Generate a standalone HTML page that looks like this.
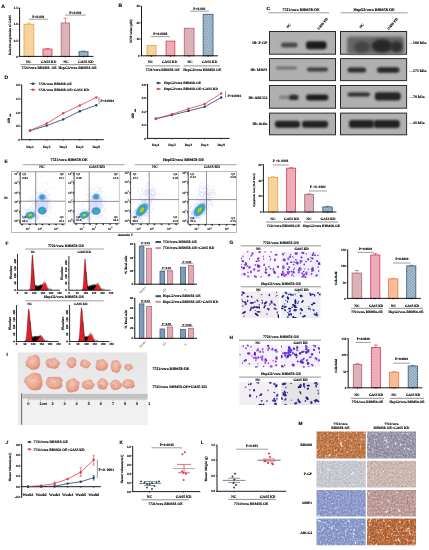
<!DOCTYPE html><html><head><meta charset="utf-8"><style>html,body{margin:0;padding:0;background:#fff;}svg{display:block}</style></head><body><svg width="429" height="550" viewBox="0 0 429 550" text-rendering="geometricPrecision"><defs><pattern id="hO" width="1.6" height="1.6" patternUnits="userSpaceOnUse"><rect width="1.6" height="1.6" fill="#fbe6c4"/><rect width="0.8" height="0.8" fill="#f0c07a"/><rect x="0.8" y="0.8" width="0.8" height="0.8" fill="#f0c07a"/></pattern><pattern id="hR" width="1.6" height="1.6" patternUnits="userSpaceOnUse"><rect width="1.6" height="1.6" fill="#f6d0d6"/><rect width="0.8" height="0.8" fill="#e58a9a"/><rect x="0.8" y="0.8" width="0.8" height="0.8" fill="#e58a9a"/></pattern><pattern id="hP" width="1.6" height="1.6" patternUnits="userSpaceOnUse"><rect width="1.6" height="1.6" fill="#ecd3d6"/><rect width="0.8" height="0.8" fill="#c9939b"/><rect x="0.8" y="0.8" width="0.8" height="0.8" fill="#c9939b"/></pattern><pattern id="hB" width="1.6" height="1.6" patternUnits="userSpaceOnUse"><rect width="1.6" height="1.6" fill="#c9d6e0"/><rect width="0.8" height="0.8" fill="#6f8ea8"/><rect x="0.8" y="0.8" width="0.8" height="0.8" fill="#6f8ea8"/></pattern><pattern id="hO2" width="1.6" height="1.6" patternUnits="userSpaceOnUse"><rect width="1.6" height="1.6" fill="#fbdcc0"/><rect width="0.8" height="0.8" fill="#f0a070"/><rect x="0.8" y="0.8" width="0.8" height="0.8" fill="#f0a070"/></pattern><filter id="bl1" x="-50%" y="-80%" width="200%" height="260%"><feGaussianBlur stdDeviation="1.0"/></filter><filter id="bl2" x="-50%" y="-80%" width="200%" height="260%"><feGaussianBlur stdDeviation="1.6"/></filter><radialGradient id="gHot"><stop offset="0" stop-color="#e83a1e"/><stop offset="0.16" stop-color="#f0d020"/><stop offset="0.42" stop-color="#30c040"/><stop offset="0.66" stop-color="#20a8e0"/><stop offset="0.9" stop-color="#5070f0" stop-opacity="0.6"/><stop offset="1" stop-color="#8aa0f8" stop-opacity="0"/></radialGradient><radialGradient id="gMid"><stop offset="0" stop-color="#30b860"/><stop offset="0.35" stop-color="#30c0a0"/><stop offset="0.65" stop-color="#3080e8"/><stop offset="1" stop-color="#8aa0f8" stop-opacity="0"/></radialGradient><radialGradient id="gCy"><stop offset="0" stop-color="#30c0b0"/><stop offset="0.4" stop-color="#3090e0"/><stop offset="1" stop-color="#8aa0f8" stop-opacity="0"/></radialGradient><pattern id="hB2" width="1.6" height="1.6" patternUnits="userSpaceOnUse"><rect width="1.6" height="1.6" fill="#9cb0c4"/><rect width="0.8" height="0.8" fill="#6a88a4"/><rect x="0.8" y="0.8" width="0.8" height="0.8" fill="#6a88a4"/></pattern><pattern id="hP2" width="1.6" height="1.6" patternUnits="userSpaceOnUse"><rect width="1.6" height="1.6" fill="#ecc4ca"/><rect width="0.8" height="0.8" fill="#d4939e"/><rect x="0.8" y="0.8" width="0.8" height="0.8" fill="#d4939e"/></pattern><radialGradient id="gTum" cx="0.45" cy="0.4" r="0.65"><stop offset="0" stop-color="#f4c8b4"/><stop offset="0.6" stop-color="#eaa892"/><stop offset="1" stop-color="#da8670"/></radialGradient><linearGradient id="gPhoto" x1="0" y1="0" x2="0" y2="1"><stop offset="0" stop-color="#e6e6e6"/><stop offset="0.55" stop-color="#ebebeb"/><stop offset="1" stop-color="#ececec"/></linearGradient><filter id="nz1" x="0" y="0" width="100%" height="100%" color-interpolation-filters="sRGB"><feTurbulence type="fractalNoise" baseFrequency="0.55" numOctaves="3" seed="401"/><feColorMatrix type="matrix" values="1 0 0 0 0 1 0 0 0 0 1 0 0 0 0 0 0 0 0 1"/><feComponentTransfer><feFuncR type="table" tableValues="0.573 0.627 0.698 0.753 0.808 0.894 0.941"/><feFuncG type="table" tableValues="0.282 0.337 0.416 0.471 0.573 0.729 0.816"/><feFuncB type="table" tableValues="0.149 0.188 0.243 0.282 0.404 0.588 0.690"/></feComponentTransfer></filter><filter id="nz2" x="0" y="0" width="100%" height="100%" color-interpolation-filters="sRGB"><feTurbulence type="fractalNoise" baseFrequency="0.55" numOctaves="3" seed="402"/><feColorMatrix type="matrix" values="1 0 0 0 0 1 0 0 0 0 1 0 0 0 0 0 0 0 0 1"/><feComponentTransfer><feFuncR type="table" tableValues="0.518 0.541 0.573 0.596 0.667 0.773 0.831"/><feFuncG type="table" tableValues="0.408 0.459 0.529 0.580 0.671 0.808 0.886"/><feFuncB type="table" tableValues="0.412 0.486 0.592 0.667 0.745 0.867 0.933"/></feComponentTransfer></filter><filter id="nz3" x="0" y="0" width="100%" height="100%" color-interpolation-filters="sRGB"><feTurbulence type="fractalNoise" baseFrequency="0.55" numOctaves="3" seed="403"/><feColorMatrix type="matrix" values="1 0 0 0 0 1 0 0 0 0 1 0 0 0 0 0 0 0 0 1"/><feComponentTransfer><feFuncR type="table" tableValues="0.651 0.690 0.745 0.784 0.824 0.878 0.910"/><feFuncG type="table" tableValues="0.651 0.690 0.745 0.784 0.824 0.878 0.910"/><feFuncB type="table" tableValues="0.722 0.749 0.788 0.816 0.851 0.902 0.933"/></feComponentTransfer></filter><filter id="nz4" x="0" y="0" width="100%" height="100%" color-interpolation-filters="sRGB"><feTurbulence type="fractalNoise" baseFrequency="0.55" numOctaves="3" seed="404"/><feColorMatrix type="matrix" values="1 0 0 0 0 1 0 0 0 0 1 0 0 0 0 0 0 0 0 1"/><feComponentTransfer><feFuncR type="table" tableValues="0.682 0.718 0.769 0.804 0.835 0.882 0.910"/><feFuncG type="table" tableValues="0.549 0.600 0.671 0.722 0.769 0.839 0.878"/><feFuncB type="table" tableValues="0.502 0.557 0.635 0.690 0.741 0.820 0.863"/></feComponentTransfer></filter><filter id="nz5" x="0" y="0" width="100%" height="100%" color-interpolation-filters="sRGB"><feTurbulence type="fractalNoise" baseFrequency="0.55" numOctaves="3" seed="405"/><feColorMatrix type="matrix" values="1 0 0 0 0 1 0 0 0 0 1 0 0 0 0 0 0 0 0 1"/><feComponentTransfer><feFuncR type="table" tableValues="0.435 0.471 0.522 0.557 0.624 0.729 0.784"/><feFuncG type="table" tableValues="0.463 0.506 0.565 0.604 0.671 0.776 0.831"/><feFuncB type="table" tableValues="0.678 0.714 0.761 0.796 0.839 0.906 0.941"/></feComponentTransfer></filter><filter id="nz6" x="0" y="0" width="100%" height="100%" color-interpolation-filters="sRGB"><feTurbulence type="fractalNoise" baseFrequency="0.55" numOctaves="3" seed="406"/><feColorMatrix type="matrix" values="1 0 0 0 0 1 0 0 0 0 1 0 0 0 0 0 0 0 0 1"/><feComponentTransfer><feFuncR type="table" tableValues="0.616 0.651 0.702 0.737 0.784 0.855 0.894"/><feFuncG type="table" tableValues="0.412 0.471 0.553 0.612 0.682 0.788 0.847"/><feFuncB type="table" tableValues="0.408 0.463 0.541 0.596 0.682 0.808 0.878"/></feComponentTransfer></filter><filter id="nz7" x="0" y="0" width="100%" height="100%" color-interpolation-filters="sRGB"><feTurbulence type="fractalNoise" baseFrequency="0.55" numOctaves="3" seed="407"/><feColorMatrix type="matrix" values="1 0 0 0 0 1 0 0 0 0 1 0 0 0 0 0 0 0 0 1"/><feComponentTransfer><feFuncR type="table" tableValues="0.400 0.439 0.494 0.533 0.627 0.769 0.847"/><feFuncG type="table" tableValues="0.463 0.502 0.557 0.596 0.698 0.855 0.941"/><feFuncB type="table" tableValues="0.706 0.729 0.761 0.784 0.839 0.925 0.973"/></feComponentTransfer></filter><filter id="nz8" x="0" y="0" width="100%" height="100%" color-interpolation-filters="sRGB"><feTurbulence type="fractalNoise" baseFrequency="0.55" numOctaves="3" seed="408"/><feColorMatrix type="matrix" values="1 0 0 0 0 1 0 0 0 0 1 0 0 0 0 0 0 0 0 1"/><feComponentTransfer><feFuncR type="table" tableValues="0.569 0.612 0.675 0.722 0.788 0.886 0.941"/><feFuncG type="table" tableValues="0.255 0.298 0.365 0.408 0.541 0.737 0.847"/><feFuncB type="table" tableValues="0.114 0.149 0.196 0.227 0.384 0.620 0.753"/></feComponentTransfer></filter></defs><rect width="429" height="550" fill="#fff"/><text x="1.20" y="8.20" font-size="5.2" text-anchor="start" font-weight="bold" fill="#000" font-family="'Liberation Sans',sans-serif" stroke="#000" stroke-width="0.12">A</text>
<line x1="19.60" y1="7.80" x2="19.60" y2="56.80" stroke="#000" stroke-width="0.9"/>
<line x1="18.40" y1="8.10" x2="19.60" y2="8.10" stroke="#000" stroke-width="0.7"/>
<text x="17.80" y="9.20" font-size="3.2" text-anchor="end" font-weight="bold" fill="#000" font-family="'Liberation Serif',serif" stroke="#000" stroke-width="0.12">1.5</text>
<line x1="18.40" y1="24.30" x2="19.60" y2="24.30" stroke="#000" stroke-width="0.7"/>
<text x="17.80" y="25.40" font-size="3.2" text-anchor="end" font-weight="bold" fill="#000" font-family="'Liberation Serif',serif" stroke="#000" stroke-width="0.12">1.0</text>
<line x1="18.40" y1="40.40" x2="19.60" y2="40.40" stroke="#000" stroke-width="0.7"/>
<text x="17.80" y="41.50" font-size="3.2" text-anchor="end" font-weight="bold" fill="#000" font-family="'Liberation Serif',serif" stroke="#000" stroke-width="0.12">0.5</text>
<line x1="18.40" y1="56.40" x2="19.60" y2="56.40" stroke="#000" stroke-width="0.7"/>
<text x="17.80" y="57.50" font-size="3.2" text-anchor="end" font-weight="bold" fill="#000" font-family="'Liberation Serif',serif" stroke="#000" stroke-width="0.12">0</text>
<text x="11.00" y="35.00" font-size="3.3" text-anchor="middle" font-weight="bold" fill="#000" font-family="'Liberation Serif',serif" stroke="#000" stroke-width="0.12" transform="rotate(-90 11.00 35.00)">Relative expression of GAS5</text>
<rect x="24.00" y="24.30" width="9.80" height="32.10" fill="url(#hO)" stroke="#e9a94a" stroke-width="0.9"/>
<line x1="28.90" y1="24.30" x2="28.90" y2="23.30" stroke="#e9a94a" stroke-width="0.7"/>
<line x1="26.90" y1="23.30" x2="30.90" y2="23.30" stroke="#e9a94a" stroke-width="0.7"/>
<rect x="43.00" y="49.10" width="9.00" height="7.30" fill="url(#hR)" stroke="#d9485e" stroke-width="0.9"/>
<line x1="47.50" y1="49.10" x2="47.50" y2="48.50" stroke="#d9485e" stroke-width="0.7"/>
<line x1="45.50" y1="48.50" x2="49.50" y2="48.50" stroke="#d9485e" stroke-width="0.7"/>
<rect x="61.20" y="23.00" width="8.40" height="33.40" fill="url(#hP)" stroke="#b86b77" stroke-width="0.9"/>
<line x1="65.40" y1="23.00" x2="65.40" y2="18.20" stroke="#b86b77" stroke-width="0.7"/>
<line x1="63.40" y1="18.20" x2="67.40" y2="18.20" stroke="#b86b77" stroke-width="0.7"/>
<rect x="79.00" y="51.70" width="9.00" height="4.70" fill="url(#hB)" stroke="#3f6585" stroke-width="0.9"/>
<line x1="83.50" y1="51.70" x2="83.50" y2="51.00" stroke="#3f6585" stroke-width="0.7"/>
<line x1="81.50" y1="51.00" x2="85.50" y2="51.00" stroke="#3f6585" stroke-width="0.7"/>
<line x1="19.60" y1="56.40" x2="93.40" y2="56.40" stroke="#000" stroke-width="0.9"/>
<line x1="28.90" y1="56.40" x2="28.90" y2="57.40" stroke="#000" stroke-width="0.7"/>
<line x1="47.50" y1="56.40" x2="47.50" y2="57.40" stroke="#000" stroke-width="0.7"/>
<line x1="65.40" y1="56.40" x2="65.40" y2="57.40" stroke="#000" stroke-width="0.7"/>
<line x1="83.50" y1="56.40" x2="83.50" y2="57.40" stroke="#000" stroke-width="0.7"/>
<line x1="29.00" y1="19.20" x2="48.00" y2="19.20" stroke="#3a3a3a" stroke-width="0.5"/>
<text x="38.50" y="17.60" font-size="3.6" text-anchor="middle" font-weight="bold" fill="#000" font-family="'Liberation Serif',serif" stroke="#000" stroke-width="0.12">P&lt;0.001</text>
<line x1="65.00" y1="15.10" x2="85.70" y2="15.10" stroke="#3a3a3a" stroke-width="0.5"/>
<text x="75.35" y="13.50" font-size="3.6" text-anchor="middle" font-weight="bold" fill="#000" font-family="'Liberation Serif',serif" stroke="#000" stroke-width="0.12">P&lt;0.001</text>
<text x="28.60" y="62.50" font-size="3.6" text-anchor="middle" font-weight="bold" fill="#000" font-family="'Liberation Serif',serif" stroke="#000" stroke-width="0.12">NC</text>
<text x="48.50" y="62.50" font-size="3.6" text-anchor="middle" font-weight="bold" fill="#000" font-family="'Liberation Serif',serif" stroke="#000" stroke-width="0.12">GAS5 KD</text>
<text x="66.00" y="62.50" font-size="3.6" text-anchor="middle" font-weight="bold" fill="#000" font-family="'Liberation Serif',serif" stroke="#000" stroke-width="0.12">NC</text>
<text x="85.80" y="62.50" font-size="3.6" text-anchor="middle" font-weight="bold" fill="#000" font-family="'Liberation Serif',serif" stroke="#000" stroke-width="0.12">GAS5 KD</text>
<line x1="20.50" y1="64.60" x2="56.60" y2="64.60" stroke="#444" stroke-width="0.6"/>
<line x1="60.00" y1="64.60" x2="96.20" y2="64.60" stroke="#444" stroke-width="0.6"/>
<text x="39.10" y="69.30" font-size="3.6" text-anchor="middle" font-weight="bold" fill="#000" font-family="'Liberation Serif',serif" stroke="#000" stroke-width="0.12">7721/vera RBM58- OE</text>
<text x="77.60" y="69.30" font-size="3.6" text-anchor="middle" font-weight="bold" fill="#000" font-family="'Liberation Serif',serif" stroke="#000" stroke-width="0.12">HepG2/vera RBM58-OE</text>
<text x="118.50" y="6.70" font-size="5.0" text-anchor="start" font-weight="bold" fill="#000" font-family="'Liberation Sans',sans-serif" stroke="#000" stroke-width="0.12">B</text>
<line x1="141.50" y1="6.00" x2="141.50" y2="56.20" stroke="#000" stroke-width="0.9"/>
<line x1="140.30" y1="6.30" x2="141.50" y2="6.30" stroke="#000" stroke-width="0.7"/>
<text x="139.70" y="7.40" font-size="3.2" text-anchor="end" font-weight="bold" fill="#000" font-family="'Liberation Serif',serif" stroke="#000" stroke-width="0.12">30</text>
<line x1="140.30" y1="22.70" x2="141.50" y2="22.70" stroke="#000" stroke-width="0.7"/>
<text x="139.70" y="23.80" font-size="3.2" text-anchor="end" font-weight="bold" fill="#000" font-family="'Liberation Serif',serif" stroke="#000" stroke-width="0.12">20</text>
<line x1="140.30" y1="39.20" x2="141.50" y2="39.20" stroke="#000" stroke-width="0.7"/>
<text x="139.70" y="40.30" font-size="3.2" text-anchor="end" font-weight="bold" fill="#000" font-family="'Liberation Serif',serif" stroke="#000" stroke-width="0.12">10</text>
<line x1="140.30" y1="55.80" x2="141.50" y2="55.80" stroke="#000" stroke-width="0.7"/>
<text x="139.70" y="56.90" font-size="3.2" text-anchor="end" font-weight="bold" fill="#000" font-family="'Liberation Serif',serif" stroke="#000" stroke-width="0.12">0</text>
<text x="131.50" y="31.00" font-size="3.3" text-anchor="middle" font-weight="bold" fill="#000" font-family="'Liberation Serif',serif" stroke="#000" stroke-width="0.12" transform="rotate(-90 131.50 31.00)">IC50 value (μM)</text>
<rect x="147.00" y="45.50" width="9.00" height="10.30" fill="url(#hO)" stroke="#e9a94a" stroke-width="0.9"/>
<rect x="166.10" y="41.10" width="8.70" height="14.70" fill="url(#hR)" stroke="#d9485e" stroke-width="0.9"/>
<rect x="184.30" y="28.30" width="9.70" height="27.50" fill="url(#hP)" stroke="#b86b77" stroke-width="0.9"/>
<rect x="203.20" y="14.30" width="9.80" height="41.50" fill="url(#hB)" stroke="#3f6585" stroke-width="0.9"/>
<line x1="141.50" y1="55.80" x2="218.00" y2="55.80" stroke="#000" stroke-width="0.9"/>
<line x1="151.50" y1="55.80" x2="151.50" y2="56.80" stroke="#000" stroke-width="0.7"/>
<line x1="170.40" y1="55.80" x2="170.40" y2="56.80" stroke="#000" stroke-width="0.7"/>
<line x1="189.10" y1="55.80" x2="189.10" y2="56.80" stroke="#000" stroke-width="0.7"/>
<line x1="208.10" y1="55.80" x2="208.10" y2="56.80" stroke="#000" stroke-width="0.7"/>
<line x1="150.80" y1="36.60" x2="169.90" y2="36.60" stroke="#3a3a3a" stroke-width="0.5"/>
<text x="160.35" y="35.00" font-size="3.6" text-anchor="middle" font-weight="bold" fill="#000" font-family="'Liberation Serif',serif" stroke="#000" stroke-width="0.12">P=0.0008</text>
<line x1="190.20" y1="11.20" x2="208.80" y2="11.20" stroke="#3a3a3a" stroke-width="0.5"/>
<text x="199.50" y="9.60" font-size="3.6" text-anchor="middle" font-weight="bold" fill="#000" font-family="'Liberation Serif',serif" stroke="#000" stroke-width="0.12">P&lt;0.001</text>
<text x="150.50" y="63.30" font-size="3.6" text-anchor="middle" font-weight="bold" fill="#000" font-family="'Liberation Serif',serif" stroke="#000" stroke-width="0.12">NC</text>
<text x="169.50" y="63.30" font-size="3.6" text-anchor="middle" font-weight="bold" fill="#000" font-family="'Liberation Serif',serif" stroke="#000" stroke-width="0.12">GAS5 KD</text>
<text x="190.10" y="63.30" font-size="3.6" text-anchor="middle" font-weight="bold" fill="#000" font-family="'Liberation Serif',serif" stroke="#000" stroke-width="0.12">NC</text>
<text x="209.50" y="63.30" font-size="3.6" text-anchor="middle" font-weight="bold" fill="#000" font-family="'Liberation Serif',serif" stroke="#000" stroke-width="0.12">GAS5 KD</text>
<line x1="145.00" y1="65.90" x2="180.00" y2="65.90" stroke="#444" stroke-width="0.6"/>
<line x1="183.60" y1="65.90" x2="219.70" y2="65.90" stroke="#444" stroke-width="0.6"/>
<text x="162.60" y="71.00" font-size="3.6" text-anchor="middle" font-weight="bold" fill="#000" font-family="'Liberation Serif',serif" stroke="#000" stroke-width="0.12">7721/vera RBM58-OE</text>
<text x="202.30" y="71.00" font-size="3.6" text-anchor="middle" font-weight="bold" fill="#000" font-family="'Liberation Serif',serif" stroke="#000" stroke-width="0.12">HepG2/vera RBM58-OE</text>
<text x="266.50" y="9.50" font-size="4.6" text-anchor="start" font-weight="bold" fill="#000" font-family="'Liberation Sans',sans-serif" stroke="#000" stroke-width="0.12">C</text>
<text x="301.00" y="10.80" font-size="3.9" text-anchor="middle" font-weight="bold" fill="#000" font-family="'Liberation Serif',serif" stroke="#000" stroke-width="0.12">7721/vera RBM58-OE</text>
<text x="374.00" y="10.80" font-size="3.9" text-anchor="middle" font-weight="bold" fill="#000" font-family="'Liberation Serif',serif" stroke="#000" stroke-width="0.12">HepG2/vera RBM58-OE</text>
<line x1="268.50" y1="12.80" x2="329.00" y2="12.80" stroke="#777" stroke-width="0.7"/>
<line x1="340.70" y1="12.80" x2="407.70" y2="12.80" stroke="#777" stroke-width="0.7"/>
<text x="289.50" y="26.50" font-size="3.4" text-anchor="middle" font-weight="bold" fill="#000" font-family="'Liberation Serif',serif" stroke="#000" stroke-width="0.12" transform="rotate(-50 289.50 26.50)">NC</text>
<text x="323.50" y="24.50" font-size="3.4" text-anchor="middle" font-weight="bold" fill="#000" font-family="'Liberation Serif',serif" stroke="#000" stroke-width="0.12" transform="rotate(-50 323.50 24.50)">GAS5 KD</text>
<text x="362.50" y="26.50" font-size="3.4" text-anchor="middle" font-weight="bold" fill="#000" font-family="'Liberation Serif',serif" stroke="#000" stroke-width="0.12" transform="rotate(-50 362.50 26.50)">NC</text>
<text x="393.50" y="24.50" font-size="3.4" text-anchor="middle" font-weight="bold" fill="#000" font-family="'Liberation Serif',serif" stroke="#000" stroke-width="0.12" transform="rotate(-50 393.50 24.50)">GAS5 KD</text>
<rect x="269.50" y="31.50" width="66.00" height="22.70" fill="#b0b0b0" stroke="#2a2a2a" stroke-width="1.0"/>
<rect x="340.50" y="31.50" width="66.10" height="22.70" fill="#b0b0b0" stroke="#2a2a2a" stroke-width="1.0"/>
<rect x="269.50" y="58.60" width="66.00" height="22.00" fill="#b0b0b0" stroke="#2a2a2a" stroke-width="1.0"/>
<rect x="340.50" y="58.60" width="66.10" height="22.00" fill="#b0b0b0" stroke="#2a2a2a" stroke-width="1.0"/>
<rect x="269.50" y="85.50" width="66.00" height="22.70" fill="#b0b0b0" stroke="#2a2a2a" stroke-width="1.0"/>
<rect x="340.50" y="85.50" width="66.10" height="22.70" fill="#b0b0b0" stroke="#2a2a2a" stroke-width="1.0"/>
<rect x="269.50" y="113.10" width="66.00" height="21.70" fill="#b0b0b0" stroke="#2a2a2a" stroke-width="1.0"/>
<rect x="340.50" y="113.10" width="66.10" height="21.70" fill="#b0b0b0" stroke="#2a2a2a" stroke-width="1.0"/>
<rect x="281.00" y="42.60" width="16.50" height="5.00" rx="2.50" fill="#4a4a4a" opacity="1" filter="url(#bl1)"/>
<rect x="306.00" y="41.20" width="20.50" height="8.00" rx="3.00" fill="#1c1c1c" opacity="1" filter="url(#bl1)"/>
<rect x="276.00" y="66.40" width="21.00" height="3.20" rx="1.60" fill="#6e6e6e" opacity="1" filter="url(#bl1)"/>
<rect x="307.00" y="67.40" width="21.00" height="4.20" rx="2.10" fill="#3a3a3a" opacity="1" filter="url(#bl1)"/>
<rect x="279.00" y="95.80" width="11.00" height="3.20" rx="1.60" fill="#7e7e7e" opacity="1" filter="url(#bl1)"/>
<rect x="289.00" y="94.80" width="9.50" height="5.20" rx="2.60" fill="#2a2a2a" opacity="1" filter="url(#bl1)"/>
<rect x="306.00" y="94.40" width="22.30" height="6.00" rx="3.00" fill="#1e1e1e" opacity="1" filter="url(#bl1)"/>
<rect x="275.00" y="120.80" width="25.00" height="7.00" rx="3.00" fill="#202020" opacity="1" filter="url(#bl1)"/>
<rect x="302.00" y="120.80" width="26.00" height="7.00" rx="3.00" fill="#202020" opacity="1" filter="url(#bl1)"/>
<rect x="347.00" y="36.50" width="57.00" height="17.50" rx="3.00" fill="#666" opacity="1" filter="url(#bl2)"/>
<ellipse cx="362" cy="47" rx="8" ry="5.5" fill="#444" filter="url(#bl2)"/>
<ellipse cx="382" cy="45.8" rx="10.5" ry="6.6" fill="#262626" filter="url(#bl2)"/>
<ellipse cx="396.5" cy="46.5" rx="6" ry="5.5" fill="#2e2e2e" filter="url(#bl2)"/>
<rect x="347.50" y="67.40" width="18.50" height="5.00" rx="2.50" fill="#2c2c2c" opacity="1" filter="url(#bl1)"/>
<rect x="377.00" y="67.20" width="22.50" height="5.60" rx="2.80" fill="#262626" opacity="1" filter="url(#bl1)"/>
<rect x="347.50" y="92.60" width="22.50" height="4.00" rx="2.00" fill="#2e2e2e" opacity="1" filter="url(#bl1)"/>
<rect x="374.80" y="92.20" width="25.90" height="8.40" rx="3.00" fill="#282828" opacity="1" filter="url(#bl1)"/>
<rect x="349.00" y="120.00" width="25.00" height="8.00" rx="3.00" fill="#202020" opacity="1" filter="url(#bl1)"/>
<rect x="373.60" y="120.00" width="26.20" height="8.00" rx="3.00" fill="#202020" opacity="1" filter="url(#bl1)"/>
<text x="267.40" y="43.90" font-size="3.8" text-anchor="end" font-weight="bold" fill="#000" font-family="'Liberation Serif',serif" stroke="#000" stroke-width="0.12">IB: P-GP</text>
<text x="267.40" y="71.20" font-size="3.8" text-anchor="end" font-weight="bold" fill="#000" font-family="'Liberation Serif',serif" stroke="#000" stroke-width="0.12">IB: MRP1</text>
<text x="267.40" y="99.40" font-size="3.8" text-anchor="end" font-weight="bold" fill="#000" font-family="'Liberation Serif',serif" stroke="#000" stroke-width="0.12">IB: ABCG2</text>
<text x="267.40" y="125.30" font-size="3.8" text-anchor="end" font-weight="bold" fill="#000" font-family="'Liberation Serif',serif" stroke="#000" stroke-width="0.12">IB: Actin</text>
<text x="409.30" y="44.20" font-size="3.8" text-anchor="start" font-weight="bold" fill="#000" font-family="'Liberation Serif',serif" stroke="#000" stroke-width="0.12">—180 kDa</text>
<text x="409.30" y="71.60" font-size="3.8" text-anchor="start" font-weight="bold" fill="#000" font-family="'Liberation Serif',serif" stroke="#000" stroke-width="0.12">—171 kDa</text>
<text x="409.30" y="98.40" font-size="3.8" text-anchor="start" font-weight="bold" fill="#000" font-family="'Liberation Serif',serif" stroke="#000" stroke-width="0.12">—70 kDa</text>
<text x="409.30" y="123.60" font-size="3.8" text-anchor="start" font-weight="bold" fill="#000" font-family="'Liberation Serif',serif" stroke="#000" stroke-width="0.12">—43 kDa</text>
<text x="4.50" y="79.20" font-size="5.0" text-anchor="start" font-weight="bold" fill="#000" font-family="'Liberation Sans',sans-serif" stroke="#000" stroke-width="0.12">D</text>
<line x1="21.70" y1="84.70" x2="21.70" y2="140.10" stroke="#000" stroke-width="0.9"/>
<line x1="20.50" y1="85.00" x2="21.70" y2="85.00" stroke="#000" stroke-width="0.7"/>
<text x="19.90" y="86.10" font-size="3.2" text-anchor="end" font-weight="bold" fill="#000" font-family="'Liberation Serif',serif" stroke="#000" stroke-width="0.12">2.0</text>
<line x1="20.50" y1="98.80" x2="21.70" y2="98.80" stroke="#000" stroke-width="0.7"/>
<text x="19.90" y="99.90" font-size="3.2" text-anchor="end" font-weight="bold" fill="#000" font-family="'Liberation Serif',serif" stroke="#000" stroke-width="0.12">1.5</text>
<line x1="20.50" y1="112.50" x2="21.70" y2="112.50" stroke="#000" stroke-width="0.7"/>
<text x="19.90" y="113.60" font-size="3.2" text-anchor="end" font-weight="bold" fill="#000" font-family="'Liberation Serif',serif" stroke="#000" stroke-width="0.12">1.0</text>
<line x1="20.50" y1="126.20" x2="21.70" y2="126.20" stroke="#000" stroke-width="0.7"/>
<text x="19.90" y="127.30" font-size="3.2" text-anchor="end" font-weight="bold" fill="#000" font-family="'Liberation Serif',serif" stroke="#000" stroke-width="0.12">0.5</text>
<line x1="20.50" y1="139.70" x2="21.70" y2="139.70" stroke="#000" stroke-width="0.7"/>
<text x="19.90" y="140.80" font-size="3.2" text-anchor="end" font-weight="bold" fill="#000" font-family="'Liberation Serif',serif" stroke="#000" stroke-width="0.12">0</text>
<line x1="21.70" y1="139.70" x2="103.80" y2="139.70" stroke="#000" stroke-width="0.9"/>
<line x1="30.00" y1="139.70" x2="30.00" y2="140.70" stroke="#000" stroke-width="0.7"/>
<line x1="46.70" y1="139.70" x2="46.70" y2="140.70" stroke="#000" stroke-width="0.7"/>
<line x1="63.20" y1="139.70" x2="63.20" y2="140.70" stroke="#000" stroke-width="0.7"/>
<line x1="79.80" y1="139.70" x2="79.80" y2="140.70" stroke="#000" stroke-width="0.7"/>
<line x1="96.30" y1="139.70" x2="96.30" y2="140.70" stroke="#000" stroke-width="0.7"/>
<text x="30.00" y="147.60" font-size="3.4" text-anchor="middle" font-weight="bold" fill="#000" font-family="'Liberation Serif',serif" stroke="#000" stroke-width="0.12">Day1</text>
<text x="46.70" y="147.60" font-size="3.4" text-anchor="middle" font-weight="bold" fill="#000" font-family="'Liberation Serif',serif" stroke="#000" stroke-width="0.12">Day2</text>
<text x="63.20" y="147.60" font-size="3.4" text-anchor="middle" font-weight="bold" fill="#000" font-family="'Liberation Serif',serif" stroke="#000" stroke-width="0.12">Day3</text>
<text x="79.80" y="147.60" font-size="3.4" text-anchor="middle" font-weight="bold" fill="#000" font-family="'Liberation Serif',serif" stroke="#000" stroke-width="0.12">Day4</text>
<text x="96.30" y="147.60" font-size="3.4" text-anchor="middle" font-weight="bold" fill="#000" font-family="'Liberation Serif',serif" stroke="#000" stroke-width="0.12">Day5</text>
<text x="10.00" y="120.50" font-size="3.6" text-anchor="middle" font-weight="bold" fill="#000" font-family="'Liberation Serif',serif" stroke="#000" stroke-width="0.12" transform="rotate(-90 10.00 120.50)">OD</text>
<text x="11.20" y="115.20" font-size="2.0" text-anchor="middle" font-weight="bold" fill="#000" font-family="'Liberation Serif',serif" stroke="#000" stroke-width="0.12" transform="rotate(-90 11.20 115.20)">450</text>
<polyline points="30.00,130.70 46.70,125.60 63.20,119.40 79.80,111.20 96.30,105.20" fill="none" stroke="#1f3f6e" stroke-width="0.8"/>
<polyline points="30.00,130.40 46.70,123.50 63.20,113.30 79.80,105.50 96.30,97.50" fill="none" stroke="#e0404e" stroke-width="0.8"/>
<circle cx="30.00" cy="130.70" r="1.20" fill="#1f3f6e"/>
<circle cx="46.70" cy="125.60" r="1.20" fill="#1f3f6e"/>
<circle cx="63.20" cy="119.40" r="1.20" fill="#1f3f6e"/>
<circle cx="79.80" cy="111.20" r="1.20" fill="#1f3f6e"/>
<circle cx="96.30" cy="105.20" r="1.20" fill="#1f3f6e"/>
<circle cx="30.00" cy="130.40" r="1.20" fill="#e0404e"/>
<circle cx="46.70" cy="123.50" r="1.20" fill="#e0404e"/>
<circle cx="63.20" cy="113.30" r="1.20" fill="#e0404e"/>
<circle cx="79.80" cy="105.50" r="1.20" fill="#e0404e"/>
<circle cx="96.30" cy="97.50" r="1.20" fill="#e0404e"/>
<line x1="99.00" y1="97.00" x2="99.00" y2="104.40" stroke="#555" stroke-width="0.6"/>
<text x="100.60" y="101.60" font-size="3.5" text-anchor="start" font-weight="bold" fill="#000" font-family="'Liberation Serif',serif" stroke="#000" stroke-width="0.12">P&lt;0.0001</text>
<line x1="30.00" y1="83.70" x2="35.70" y2="83.70" stroke="#1f3f6e" stroke-width="0.8"/>
<circle cx="32.90" cy="83.70" r="1.20" fill="#1f3f6e"/>
<line x1="30.00" y1="89.70" x2="35.70" y2="89.70" stroke="#e0404e" stroke-width="0.8"/>
<circle cx="32.90" cy="89.70" r="1.20" fill="#e0404e"/>
<text x="38.50" y="84.90" font-size="3.5" text-anchor="start" font-weight="bold" fill="#000" font-family="'Liberation Serif',serif" stroke="#000" stroke-width="0.12">7721/vera RBM58-OE</text>
<text x="38.50" y="91.00" font-size="3.5" text-anchor="start" font-weight="bold" fill="#000" font-family="'Liberation Serif',serif" stroke="#000" stroke-width="0.12">7721/vera RBM58-OE+GAS5 KD</text>
<line x1="147.60" y1="84.10" x2="147.60" y2="138.80" stroke="#000" stroke-width="0.9"/>
<line x1="146.40" y1="84.40" x2="147.60" y2="84.40" stroke="#000" stroke-width="0.7"/>
<text x="145.80" y="85.50" font-size="3.2" text-anchor="end" font-weight="bold" fill="#000" font-family="'Liberation Serif',serif" stroke="#000" stroke-width="0.12">0.8</text>
<line x1="146.40" y1="97.90" x2="147.60" y2="97.90" stroke="#000" stroke-width="0.7"/>
<text x="145.80" y="99.00" font-size="3.2" text-anchor="end" font-weight="bold" fill="#000" font-family="'Liberation Serif',serif" stroke="#000" stroke-width="0.12">0.6</text>
<line x1="146.40" y1="111.40" x2="147.60" y2="111.40" stroke="#000" stroke-width="0.7"/>
<text x="145.80" y="112.50" font-size="3.2" text-anchor="end" font-weight="bold" fill="#000" font-family="'Liberation Serif',serif" stroke="#000" stroke-width="0.12">0.4</text>
<line x1="146.40" y1="124.90" x2="147.60" y2="124.90" stroke="#000" stroke-width="0.7"/>
<text x="145.80" y="126.00" font-size="3.2" text-anchor="end" font-weight="bold" fill="#000" font-family="'Liberation Serif',serif" stroke="#000" stroke-width="0.12">0.2</text>
<line x1="146.40" y1="138.40" x2="147.60" y2="138.40" stroke="#000" stroke-width="0.7"/>
<text x="145.80" y="139.50" font-size="3.2" text-anchor="end" font-weight="bold" fill="#000" font-family="'Liberation Serif',serif" stroke="#000" stroke-width="0.12">0</text>
<line x1="147.60" y1="138.40" x2="229.50" y2="138.40" stroke="#000" stroke-width="0.9"/>
<line x1="155.80" y1="138.40" x2="155.80" y2="139.40" stroke="#000" stroke-width="0.7"/>
<line x1="172.00" y1="138.40" x2="172.00" y2="139.40" stroke="#000" stroke-width="0.7"/>
<line x1="188.40" y1="138.40" x2="188.40" y2="139.40" stroke="#000" stroke-width="0.7"/>
<line x1="204.70" y1="138.40" x2="204.70" y2="139.40" stroke="#000" stroke-width="0.7"/>
<line x1="221.20" y1="138.40" x2="221.20" y2="139.40" stroke="#000" stroke-width="0.7"/>
<text x="155.80" y="146.30" font-size="3.4" text-anchor="middle" font-weight="bold" fill="#000" font-family="'Liberation Serif',serif" stroke="#000" stroke-width="0.12">Day1</text>
<text x="172.00" y="146.30" font-size="3.4" text-anchor="middle" font-weight="bold" fill="#000" font-family="'Liberation Serif',serif" stroke="#000" stroke-width="0.12">Day2</text>
<text x="188.40" y="146.30" font-size="3.4" text-anchor="middle" font-weight="bold" fill="#000" font-family="'Liberation Serif',serif" stroke="#000" stroke-width="0.12">Day3</text>
<text x="204.70" y="146.30" font-size="3.4" text-anchor="middle" font-weight="bold" fill="#000" font-family="'Liberation Serif',serif" stroke="#000" stroke-width="0.12">Day4</text>
<text x="221.20" y="146.30" font-size="3.4" text-anchor="middle" font-weight="bold" fill="#000" font-family="'Liberation Serif',serif" stroke="#000" stroke-width="0.12">Day5</text>
<text x="134.50" y="115.80" font-size="3.6" text-anchor="middle" font-weight="bold" fill="#000" font-family="'Liberation Serif',serif" stroke="#000" stroke-width="0.12" transform="rotate(-90 134.50 115.80)">OD</text>
<text x="135.70" y="110.50" font-size="2.0" text-anchor="middle" font-weight="bold" fill="#000" font-family="'Liberation Serif',serif" stroke="#000" stroke-width="0.12" transform="rotate(-90 135.70 110.50)">450</text>
<polyline points="155.80,118.80 172.00,115.10 188.40,110.90 204.70,106.80 221.20,97.50" fill="none" stroke="#1f3f6e" stroke-width="0.8"/>
<polyline points="155.80,118.60 172.00,114.20 188.40,108.80 204.70,104.00 221.20,93.40" fill="none" stroke="#e0404e" stroke-width="0.8"/>
<circle cx="155.80" cy="118.80" r="1.20" fill="#1f3f6e"/>
<circle cx="172.00" cy="115.10" r="1.20" fill="#1f3f6e"/>
<circle cx="188.40" cy="110.90" r="1.20" fill="#1f3f6e"/>
<circle cx="204.70" cy="106.80" r="1.20" fill="#1f3f6e"/>
<circle cx="221.20" cy="97.50" r="1.20" fill="#1f3f6e"/>
<circle cx="155.80" cy="118.60" r="1.20" fill="#e0404e"/>
<circle cx="172.00" cy="114.20" r="1.20" fill="#e0404e"/>
<circle cx="188.40" cy="108.80" r="1.20" fill="#e0404e"/>
<circle cx="204.70" cy="104.00" r="1.20" fill="#e0404e"/>
<circle cx="221.20" cy="93.40" r="1.20" fill="#e0404e"/>
<line x1="225.50" y1="91.30" x2="225.50" y2="97.80" stroke="#555" stroke-width="0.6"/>
<text x="227.60" y="96.60" font-size="3.5" text-anchor="start" font-weight="bold" fill="#000" font-family="'Liberation Serif',serif" stroke="#000" stroke-width="0.12">P&lt;0.0001</text>
<line x1="156.00" y1="83.00" x2="161.00" y2="83.00" stroke="#1f3f6e" stroke-width="0.8"/>
<circle cx="158.40" cy="83.00" r="1.20" fill="#1f3f6e"/>
<line x1="156.00" y1="89.00" x2="161.00" y2="89.00" stroke="#e0404e" stroke-width="0.8"/>
<circle cx="158.40" cy="89.00" r="1.20" fill="#e0404e"/>
<text x="164.00" y="84.20" font-size="3.5" text-anchor="start" font-weight="bold" fill="#000" font-family="'Liberation Serif',serif" stroke="#000" stroke-width="0.12">HepG2/vera RBM58-OE</text>
<text x="164.00" y="90.30" font-size="3.5" text-anchor="start" font-weight="bold" fill="#000" font-family="'Liberation Serif',serif" stroke="#000" stroke-width="0.12">HepG2/vera RBM58-OE+GAS5 KD</text>
<text x="4.50" y="162.50" font-size="4.8" text-anchor="start" font-weight="bold" fill="#000" font-family="'Liberation Sans',sans-serif" stroke="#000" stroke-width="0.12">E</text>
<rect x="11.30" y="171.60" width="225.20" height="61.00" fill="none" stroke="#8a8a8a" stroke-width="0.6"/>
<rect x="20.20" y="172.00" width="45.00" height="52.00" fill="#fff" stroke="#9a9a9a" stroke-width="0.5"/>
<rect x="74.10" y="172.00" width="45.10" height="51.60" fill="#fff" stroke="#9a9a9a" stroke-width="0.5"/>
<rect x="130.60" y="171.60" width="48.20" height="52.20" fill="#fff" stroke="#9a9a9a" stroke-width="0.5"/>
<rect x="188.20" y="171.40" width="48.30" height="53.00" fill="#fff" stroke="#9a9a9a" stroke-width="0.5"/>
<g fill="#6a80f0" opacity="0.22"><circle cx="40.9" cy="208.0" r="0.5"/><circle cx="41.1" cy="201.4" r="0.5"/><circle cx="37.5" cy="202.2" r="0.5"/><circle cx="47.8" cy="207.3" r="0.5"/><circle cx="47.4" cy="205.9" r="0.5"/><circle cx="44.2" cy="205.4" r="0.5"/><circle cx="33.9" cy="210.7" r="0.5"/><circle cx="44.7" cy="207.9" r="0.5"/><circle cx="33.7" cy="189.9" r="0.5"/><circle cx="37.8" cy="200.2" r="0.5"/><circle cx="43.7" cy="203.5" r="0.5"/><circle cx="44.8" cy="198.8" r="0.5"/><circle cx="43.7" cy="207.1" r="0.5"/><circle cx="38.9" cy="217.6" r="0.5"/><circle cx="45.0" cy="213.5" r="0.5"/><circle cx="39.1" cy="198.0" r="0.5"/><circle cx="40.5" cy="203.0" r="0.5"/><circle cx="45.4" cy="205.9" r="0.5"/><circle cx="40.0" cy="196.2" r="0.5"/><circle cx="39.6" cy="213.7" r="0.5"/><circle cx="38.2" cy="205.9" r="0.5"/><circle cx="44.3" cy="192.0" r="0.5"/><circle cx="42.4" cy="214.3" r="0.5"/><circle cx="32.1" cy="201.3" r="0.5"/><circle cx="41.7" cy="197.4" r="0.5"/><circle cx="44.7" cy="203.4" r="0.5"/><circle cx="34.9" cy="210.5" r="0.5"/><circle cx="45.5" cy="211.5" r="0.5"/><circle cx="49.4" cy="206.8" r="0.5"/><circle cx="42.8" cy="193.5" r="0.5"/><circle cx="45.3" cy="199.0" r="0.5"/><circle cx="39.9" cy="193.8" r="0.5"/><circle cx="37.4" cy="199.7" r="0.5"/><circle cx="48.6" cy="187.6" r="0.5"/><circle cx="34.9" cy="205.8" r="0.5"/><circle cx="49.4" cy="208.5" r="0.5"/><circle cx="32.7" cy="183.8" r="0.5"/><circle cx="44.0" cy="198.0" r="0.5"/><circle cx="36.6" cy="211.7" r="0.5"/><circle cx="47.7" cy="205.2" r="0.5"/><circle cx="43.4" cy="207.4" r="0.5"/><circle cx="50.2" cy="208.9" r="0.5"/><circle cx="44.8" cy="208.3" r="0.5"/><circle cx="34.4" cy="214.2" r="0.5"/><circle cx="47.0" cy="208.1" r="0.5"/><circle cx="32.3" cy="198.8" r="0.5"/><circle cx="46.4" cy="189.4" r="0.5"/><circle cx="41.3" cy="212.1" r="0.5"/><circle cx="35.6" cy="216.8" r="0.5"/><circle cx="45.0" cy="202.7" r="0.5"/><circle cx="43.8" cy="209.1" r="0.5"/><circle cx="42.8" cy="213.1" r="0.5"/><circle cx="38.9" cy="200.6" r="0.5"/><circle cx="47.4" cy="204.1" r="0.5"/><circle cx="37.8" cy="211.5" r="0.5"/><circle cx="49.5" cy="200.3" r="0.5"/><circle cx="35.3" cy="202.8" r="0.5"/><circle cx="41.5" cy="201.5" r="0.5"/><circle cx="49.2" cy="195.7" r="0.5"/><circle cx="48.5" cy="193.8" r="0.5"/><circle cx="38.3" cy="209.0" r="0.5"/><circle cx="47.8" cy="210.8" r="0.5"/><circle cx="43.9" cy="205.0" r="0.5"/><circle cx="43.0" cy="208.5" r="0.5"/><circle cx="41.3" cy="206.1" r="0.5"/><circle cx="45.1" cy="203.9" r="0.5"/><circle cx="46.0" cy="208.4" r="0.5"/><circle cx="52.3" cy="206.5" r="0.5"/><circle cx="40.1" cy="200.9" r="0.5"/><circle cx="42.1" cy="211.3" r="0.5"/><circle cx="40.5" cy="207.0" r="0.5"/><circle cx="51.4" cy="183.4" r="0.5"/><circle cx="36.6" cy="205.9" r="0.5"/><circle cx="44.2" cy="205.8" r="0.5"/><circle cx="40.0" cy="209.1" r="0.5"/><circle cx="43.6" cy="199.7" r="0.5"/><circle cx="54.4" cy="206.7" r="0.5"/><circle cx="39.4" cy="203.1" r="0.5"/><circle cx="41.1" cy="203.4" r="0.5"/><circle cx="28.6" cy="200.0" r="0.5"/><circle cx="47.2" cy="194.6" r="0.5"/><circle cx="41.9" cy="211.5" r="0.5"/><circle cx="46.5" cy="215.8" r="0.5"/><circle cx="33.7" cy="201.1" r="0.5"/><circle cx="40.5" cy="208.9" r="0.5"/><circle cx="47.7" cy="182.4" r="0.5"/><circle cx="47.6" cy="192.3" r="0.5"/><circle cx="45.6" cy="192.0" r="0.5"/><circle cx="43.1" cy="213.5" r="0.5"/><circle cx="41.5" cy="205.4" r="0.5"/><circle cx="46.2" cy="205.0" r="0.5"/><circle cx="41.8" cy="216.2" r="0.5"/><circle cx="47.4" cy="201.5" r="0.5"/><circle cx="55.9" cy="194.7" r="0.5"/><circle cx="46.8" cy="201.8" r="0.5"/><circle cx="42.9" cy="209.5" r="0.5"/><circle cx="43.3" cy="209.0" r="0.5"/><circle cx="34.6" cy="191.8" r="0.5"/><circle cx="45.3" cy="196.2" r="0.5"/><circle cx="37.1" cy="192.1" r="0.5"/><circle cx="48.5" cy="209.9" r="0.5"/><circle cx="49.6" cy="196.4" r="0.5"/><circle cx="42.2" cy="194.8" r="0.5"/><circle cx="46.0" cy="216.6" r="0.5"/><circle cx="37.7" cy="216.4" r="0.5"/><circle cx="47.1" cy="202.5" r="0.5"/><circle cx="32.3" cy="215.2" r="0.5"/><circle cx="41.7" cy="199.1" r="0.5"/><circle cx="44.2" cy="207.2" r="0.5"/><circle cx="49.7" cy="195.7" r="0.5"/><circle cx="47.9" cy="215.8" r="0.5"/><circle cx="49.5" cy="202.5" r="0.5"/><circle cx="38.5" cy="212.0" r="0.5"/><circle cx="42.8" cy="204.9" r="0.5"/><circle cx="49.3" cy="201.8" r="0.5"/><circle cx="30.7" cy="200.8" r="0.5"/><circle cx="32.9" cy="210.5" r="0.5"/><circle cx="43.8" cy="199.0" r="0.5"/><circle cx="42.2" cy="210.6" r="0.5"/><circle cx="42.6" cy="214.5" r="0.5"/><circle cx="41.9" cy="212.2" r="0.5"/><circle cx="49.7" cy="216.8" r="0.5"/><circle cx="38.8" cy="210.9" r="0.5"/><circle cx="32.8" cy="195.2" r="0.5"/><circle cx="32.4" cy="212.5" r="0.5"/><circle cx="36.0" cy="203.8" r="0.5"/><circle cx="41.2" cy="203.7" r="0.5"/><circle cx="39.2" cy="205.8" r="0.5"/><circle cx="51.2" cy="204.3" r="0.5"/><circle cx="44.9" cy="211.9" r="0.5"/><circle cx="41.2" cy="193.8" r="0.5"/><circle cx="39.4" cy="212.5" r="0.5"/><circle cx="34.0" cy="199.1" r="0.5"/><circle cx="47.2" cy="210.2" r="0.5"/><circle cx="42.2" cy="210.3" r="0.5"/><circle cx="43.0" cy="194.5" r="0.5"/><circle cx="34.4" cy="198.8" r="0.5"/><circle cx="46.8" cy="199.4" r="0.5"/><circle cx="37.7" cy="197.7" r="0.5"/><circle cx="34.5" cy="203.0" r="0.5"/><circle cx="36.3" cy="206.8" r="0.5"/><circle cx="30.4" cy="206.5" r="0.5"/><circle cx="39.0" cy="188.4" r="0.5"/><circle cx="45.8" cy="201.7" r="0.5"/><circle cx="31.0" cy="196.9" r="0.5"/><circle cx="43.7" cy="200.2" r="0.5"/><circle cx="46.1" cy="209.9" r="0.5"/><circle cx="45.5" cy="206.5" r="0.5"/><circle cx="48.9" cy="209.2" r="0.5"/><circle cx="44.5" cy="187.2" r="0.5"/><circle cx="46.7" cy="214.4" r="0.5"/><circle cx="40.7" cy="200.1" r="0.5"/><circle cx="51.9" cy="189.8" r="0.5"/><circle cx="44.5" cy="223.3" r="0.5"/><circle cx="37.6" cy="209.4" r="0.5"/><circle cx="51.6" cy="202.9" r="0.5"/><circle cx="45.0" cy="211.1" r="0.5"/><circle cx="37.7" cy="203.2" r="0.5"/><circle cx="43.7" cy="210.5" r="0.5"/><circle cx="42.0" cy="202.3" r="0.5"/><circle cx="37.1" cy="201.0" r="0.5"/><circle cx="46.7" cy="204.7" r="0.5"/><circle cx="37.9" cy="197.2" r="0.5"/><circle cx="55.5" cy="213.0" r="0.5"/><circle cx="45.4" cy="183.2" r="0.5"/><circle cx="45.3" cy="207.7" r="0.5"/><circle cx="50.6" cy="207.3" r="0.5"/><circle cx="41.9" cy="208.1" r="0.5"/><circle cx="32.5" cy="212.2" r="0.5"/><circle cx="43.8" cy="198.3" r="0.5"/><circle cx="48.8" cy="218.4" r="0.5"/><circle cx="35.2" cy="198.6" r="0.5"/><circle cx="43.7" cy="205.4" r="0.5"/><circle cx="40.2" cy="196.1" r="0.5"/><circle cx="52.8" cy="212.2" r="0.5"/><circle cx="36.2" cy="193.1" r="0.5"/><circle cx="50.7" cy="211.8" r="0.5"/><circle cx="51.3" cy="210.4" r="0.5"/><circle cx="37.8" cy="206.0" r="0.5"/><circle cx="31.4" cy="197.9" r="0.5"/><circle cx="41.9" cy="208.1" r="0.5"/><circle cx="38.6" cy="202.9" r="0.5"/><circle cx="44.5" cy="206.9" r="0.5"/><circle cx="45.4" cy="205.6" r="0.5"/><circle cx="40.6" cy="210.2" r="0.5"/><circle cx="42.4" cy="197.3" r="0.5"/><circle cx="39.1" cy="203.9" r="0.5"/><circle cx="41.7" cy="205.2" r="0.5"/><circle cx="42.2" cy="205.3" r="0.5"/><circle cx="41.5" cy="193.8" r="0.5"/><circle cx="44.3" cy="212.3" r="0.5"/><circle cx="44.4" cy="202.4" r="0.5"/><circle cx="44.4" cy="196.2" r="0.5"/><circle cx="32.7" cy="204.4" r="0.5"/><circle cx="37.5" cy="209.8" r="0.5"/><circle cx="36.8" cy="182.9" r="0.5"/><circle cx="37.0" cy="216.5" r="0.5"/><circle cx="40.3" cy="192.9" r="0.5"/><circle cx="38.4" cy="208.1" r="0.5"/><circle cx="44.7" cy="205.3" r="0.5"/><circle cx="49.6" cy="209.6" r="0.5"/><circle cx="42.1" cy="208.7" r="0.5"/><circle cx="50.5" cy="211.7" r="0.5"/><circle cx="47.3" cy="195.2" r="0.5"/><circle cx="41.5" cy="209.7" r="0.5"/><circle cx="40.7" cy="212.5" r="0.5"/><circle cx="45.2" cy="211.2" r="0.5"/><circle cx="41.1" cy="224.3" r="0.5"/><circle cx="48.4" cy="202.2" r="0.5"/><circle cx="42.7" cy="224.7" r="0.5"/><circle cx="40.5" cy="210.9" r="0.5"/><circle cx="47.1" cy="204.0" r="0.5"/><circle cx="36.4" cy="205.4" r="0.5"/><circle cx="44.0" cy="212.9" r="0.5"/><circle cx="46.1" cy="204.1" r="0.5"/><circle cx="46.5" cy="208.2" r="0.5"/><circle cx="43.2" cy="204.3" r="0.5"/><circle cx="41.0" cy="209.4" r="0.5"/><circle cx="36.9" cy="198.9" r="0.5"/><circle cx="42.2" cy="192.2" r="0.5"/><circle cx="40.0" cy="187.8" r="0.5"/><circle cx="38.8" cy="208.4" r="0.5"/><circle cx="45.0" cy="203.5" r="0.5"/><circle cx="41.0" cy="192.6" r="0.5"/><circle cx="51.3" cy="208.0" r="0.5"/><circle cx="47.7" cy="196.8" r="0.5"/><circle cx="41.3" cy="189.3" r="0.5"/><circle cx="46.1" cy="211.4" r="0.5"/><circle cx="32.7" cy="203.5" r="0.5"/><circle cx="45.4" cy="189.8" r="0.5"/><circle cx="33.1" cy="195.4" r="0.5"/><circle cx="39.1" cy="192.7" r="0.5"/><circle cx="42.4" cy="205.9" r="0.5"/><circle cx="45.4" cy="209.5" r="0.5"/><circle cx="49.7" cy="213.2" r="0.5"/><circle cx="35.6" cy="199.9" r="0.5"/><circle cx="36.9" cy="195.3" r="0.5"/><circle cx="41.8" cy="203.9" r="0.5"/><circle cx="44.7" cy="191.2" r="0.5"/><circle cx="36.0" cy="203.7" r="0.5"/><circle cx="41.2" cy="201.4" r="0.5"/><circle cx="41.9" cy="197.8" r="0.5"/><circle cx="45.7" cy="206.7" r="0.5"/><circle cx="41.8" cy="198.5" r="0.5"/><circle cx="41.3" cy="182.1" r="0.5"/><circle cx="37.3" cy="204.2" r="0.5"/><circle cx="34.7" cy="205.5" r="0.5"/><circle cx="42.9" cy="192.9" r="0.5"/><circle cx="40.9" cy="201.4" r="0.5"/><circle cx="44.5" cy="208.8" r="0.5"/><circle cx="42.0" cy="197.1" r="0.5"/><circle cx="41.5" cy="203.4" r="0.5"/><circle cx="45.9" cy="206.3" r="0.5"/><circle cx="38.6" cy="193.1" r="0.5"/><circle cx="40.3" cy="198.0" r="0.5"/><circle cx="36.6" cy="203.0" r="0.5"/><circle cx="39.7" cy="204.7" r="0.5"/><circle cx="44.8" cy="200.6" r="0.5"/><circle cx="53.8" cy="201.3" r="0.5"/><circle cx="47.7" cy="204.9" r="0.5"/><circle cx="47.8" cy="184.9" r="0.5"/><circle cx="38.4" cy="205.9" r="0.5"/><circle cx="45.2" cy="222.6" r="0.5"/><circle cx="43.8" cy="214.1" r="0.5"/><circle cx="46.0" cy="211.5" r="0.5"/><circle cx="44.8" cy="202.7" r="0.5"/><circle cx="44.7" cy="195.3" r="0.5"/><circle cx="48.1" cy="195.8" r="0.5"/><circle cx="43.4" cy="220.9" r="0.5"/><circle cx="41.1" cy="204.1" r="0.5"/><circle cx="48.0" cy="204.1" r="0.5"/><circle cx="38.2" cy="206.0" r="0.5"/><circle cx="45.1" cy="209.6" r="0.5"/><circle cx="38.3" cy="217.9" r="0.5"/><circle cx="50.5" cy="204.0" r="0.5"/><circle cx="43.5" cy="200.5" r="0.5"/><circle cx="49.3" cy="198.3" r="0.5"/><circle cx="45.6" cy="200.1" r="0.5"/><circle cx="38.7" cy="209.6" r="0.5"/><circle cx="48.9" cy="203.8" r="0.5"/><circle cx="38.8" cy="210.4" r="0.5"/><circle cx="42.0" cy="206.4" r="0.5"/><circle cx="49.8" cy="213.0" r="0.5"/><circle cx="39.6" cy="222.2" r="0.5"/><circle cx="42.2" cy="210.2" r="0.5"/><circle cx="39.0" cy="203.5" r="0.5"/><circle cx="33.5" cy="218.2" r="0.5"/><circle cx="49.0" cy="194.2" r="0.5"/><circle cx="34.7" cy="190.9" r="0.5"/><circle cx="48.1" cy="200.2" r="0.5"/><circle cx="41.9" cy="201.4" r="0.5"/><circle cx="41.6" cy="195.2" r="0.5"/><circle cx="42.3" cy="192.4" r="0.5"/><circle cx="41.8" cy="206.4" r="0.5"/><circle cx="44.5" cy="202.0" r="0.5"/><circle cx="37.7" cy="205.2" r="0.5"/><circle cx="39.8" cy="216.4" r="0.5"/><circle cx="46.0" cy="203.0" r="0.5"/><circle cx="39.8" cy="198.3" r="0.5"/><circle cx="37.5" cy="201.1" r="0.5"/><circle cx="43.7" cy="208.0" r="0.5"/><circle cx="45.0" cy="220.7" r="0.5"/><circle cx="38.7" cy="204.0" r="0.5"/><circle cx="56.2" cy="189.0" r="0.5"/><circle cx="39.6" cy="205.3" r="0.5"/><circle cx="43.0" cy="207.2" r="0.5"/><circle cx="41.0" cy="206.8" r="0.5"/><circle cx="42.5" cy="210.1" r="0.5"/><circle cx="32.7" cy="196.8" r="0.5"/><circle cx="42.2" cy="195.6" r="0.5"/><circle cx="37.0" cy="208.9" r="0.5"/><circle cx="39.0" cy="209.0" r="0.5"/><circle cx="45.9" cy="206.4" r="0.5"/><circle cx="44.7" cy="203.1" r="0.5"/><circle cx="35.2" cy="203.7" r="0.5"/><circle cx="44.5" cy="199.7" r="0.5"/><circle cx="41.7" cy="209.9" r="0.5"/><circle cx="37.8" cy="209.0" r="0.5"/><circle cx="51.5" cy="199.5" r="0.5"/><circle cx="42.9" cy="202.7" r="0.5"/><circle cx="49.9" cy="206.4" r="0.5"/><circle cx="46.7" cy="198.4" r="0.5"/><circle cx="42.1" cy="203.8" r="0.5"/><circle cx="33.3" cy="215.4" r="0.5"/><circle cx="46.7" cy="189.9" r="0.5"/><circle cx="45.9" cy="202.9" r="0.5"/><circle cx="44.4" cy="206.8" r="0.5"/><circle cx="34.7" cy="202.2" r="0.5"/><circle cx="49.7" cy="199.3" r="0.5"/><circle cx="37.1" cy="193.0" r="0.5"/><circle cx="36.1" cy="206.6" r="0.5"/><circle cx="50.7" cy="207.3" r="0.5"/><circle cx="43.4" cy="221.8" r="0.5"/><circle cx="39.6" cy="198.5" r="0.5"/><circle cx="44.8" cy="208.3" r="0.5"/><circle cx="37.1" cy="194.5" r="0.5"/><circle cx="43.7" cy="205.9" r="0.5"/><circle cx="35.7" cy="202.3" r="0.5"/><circle cx="39.5" cy="207.6" r="0.5"/><circle cx="41.6" cy="203.2" r="0.5"/><circle cx="40.4" cy="212.3" r="0.5"/><circle cx="49.2" cy="201.0" r="0.5"/><circle cx="46.4" cy="197.8" r="0.5"/><circle cx="42.6" cy="209.9" r="0.5"/><circle cx="49.8" cy="200.8" r="0.5"/><circle cx="41.8" cy="205.5" r="0.5"/><circle cx="34.7" cy="204.0" r="0.5"/><circle cx="38.8" cy="206.9" r="0.5"/><circle cx="36.6" cy="188.1" r="0.5"/><circle cx="42.4" cy="206.0" r="0.5"/><circle cx="39.5" cy="211.0" r="0.5"/><circle cx="40.8" cy="199.1" r="0.5"/><circle cx="44.6" cy="191.4" r="0.5"/><circle cx="38.8" cy="203.7" r="0.5"/><circle cx="46.4" cy="202.6" r="0.5"/><circle cx="43.7" cy="198.7" r="0.5"/><circle cx="43.7" cy="217.2" r="0.5"/><circle cx="38.8" cy="222.8" r="0.5"/><circle cx="39.0" cy="204.0" r="0.5"/><circle cx="43.1" cy="212.1" r="0.5"/><circle cx="36.0" cy="187.1" r="0.5"/><circle cx="45.2" cy="210.3" r="0.5"/><circle cx="45.3" cy="224.9" r="0.5"/><circle cx="43.2" cy="205.9" r="0.5"/><circle cx="46.8" cy="206.9" r="0.5"/><circle cx="50.5" cy="194.0" r="0.5"/><circle cx="40.3" cy="176.3" r="0.5"/><circle cx="46.3" cy="200.9" r="0.5"/><circle cx="46.8" cy="221.1" r="0.5"/><circle cx="42.2" cy="201.9" r="0.5"/><circle cx="39.7" cy="197.2" r="0.5"/><circle cx="39.0" cy="209.0" r="0.5"/><circle cx="42.4" cy="204.4" r="0.5"/><circle cx="41.3" cy="211.2" r="0.5"/><circle cx="44.7" cy="202.8" r="0.5"/><circle cx="45.5" cy="202.7" r="0.5"/><circle cx="36.4" cy="215.5" r="0.5"/><circle cx="44.5" cy="196.2" r="0.5"/><circle cx="47.6" cy="206.7" r="0.5"/><circle cx="34.4" cy="216.8" r="0.5"/><circle cx="43.9" cy="211.0" r="0.5"/><circle cx="43.2" cy="202.7" r="0.5"/><circle cx="34.5" cy="211.7" r="0.5"/><circle cx="42.4" cy="201.6" r="0.5"/><circle cx="44.0" cy="204.5" r="0.5"/><circle cx="45.6" cy="200.9" r="0.5"/><circle cx="42.0" cy="186.8" r="0.5"/><circle cx="40.1" cy="209.3" r="0.5"/><circle cx="48.9" cy="201.0" r="0.5"/><circle cx="41.6" cy="216.6" r="0.5"/><circle cx="40.6" cy="209.8" r="0.5"/><circle cx="50.6" cy="204.2" r="0.5"/><circle cx="48.3" cy="198.2" r="0.5"/><circle cx="43.2" cy="203.3" r="0.5"/><circle cx="42.8" cy="212.9" r="0.5"/><circle cx="54.1" cy="198.6" r="0.5"/><circle cx="39.3" cy="207.9" r="0.5"/><circle cx="36.9" cy="207.9" r="0.5"/><circle cx="45.1" cy="201.7" r="0.5"/><circle cx="44.9" cy="191.5" r="0.5"/><circle cx="46.0" cy="191.5" r="0.5"/><circle cx="38.7" cy="199.5" r="0.5"/><circle cx="40.2" cy="210.8" r="0.5"/><circle cx="42.6" cy="200.7" r="0.5"/><circle cx="44.9" cy="216.6" r="0.5"/><circle cx="42.2" cy="206.8" r="0.5"/><circle cx="48.4" cy="206.0" r="0.5"/><circle cx="35.8" cy="223.8" r="0.5"/><circle cx="53.2" cy="188.0" r="0.5"/><circle cx="42.0" cy="207.2" r="0.5"/><circle cx="47.0" cy="209.3" r="0.5"/><circle cx="40.8" cy="195.5" r="0.5"/><circle cx="42.7" cy="212.2" r="0.5"/><circle cx="36.8" cy="195.7" r="0.5"/><circle cx="42.1" cy="188.4" r="0.5"/><circle cx="40.9" cy="200.4" r="0.5"/><circle cx="44.5" cy="198.3" r="0.5"/><circle cx="37.8" cy="200.7" r="0.5"/><circle cx="42.0" cy="198.6" r="0.5"/><circle cx="42.3" cy="209.9" r="0.5"/></g>
<g fill="#6a80f0" opacity="0.3"><circle cx="34.9" cy="220.3" r="0.5"/><circle cx="27.1" cy="213.9" r="0.5"/><circle cx="20.3" cy="220.9" r="0.5"/><circle cx="27.3" cy="215.1" r="0.5"/><circle cx="32.3" cy="211.1" r="0.5"/><circle cx="32.1" cy="215.1" r="0.5"/><circle cx="22.9" cy="216.1" r="0.5"/><circle cx="35.0" cy="209.6" r="0.5"/><circle cx="33.4" cy="215.8" r="0.5"/><circle cx="32.1" cy="216.5" r="0.5"/><circle cx="35.4" cy="214.5" r="0.5"/><circle cx="33.7" cy="214.0" r="0.5"/><circle cx="33.1" cy="212.8" r="0.5"/><circle cx="29.8" cy="220.4" r="0.5"/><circle cx="32.0" cy="214.7" r="0.5"/><circle cx="25.6" cy="212.8" r="0.5"/><circle cx="31.0" cy="218.0" r="0.5"/><circle cx="31.9" cy="216.8" r="0.5"/><circle cx="30.0" cy="219.3" r="0.5"/><circle cx="28.6" cy="213.6" r="0.5"/><circle cx="33.8" cy="215.4" r="0.5"/><circle cx="29.1" cy="213.5" r="0.5"/><circle cx="29.2" cy="217.1" r="0.5"/><circle cx="31.6" cy="211.6" r="0.5"/><circle cx="31.9" cy="215.7" r="0.5"/><circle cx="26.2" cy="217.5" r="0.5"/><circle cx="29.1" cy="214.2" r="0.5"/><circle cx="33.4" cy="219.2" r="0.5"/><circle cx="27.4" cy="216.5" r="0.5"/><circle cx="26.7" cy="222.1" r="0.5"/><circle cx="28.2" cy="218.8" r="0.5"/><circle cx="27.6" cy="217.6" r="0.5"/><circle cx="39.1" cy="207.6" r="0.5"/><circle cx="28.5" cy="216.7" r="0.5"/><circle cx="29.8" cy="213.2" r="0.5"/><circle cx="38.8" cy="215.4" r="0.5"/><circle cx="23.6" cy="217.8" r="0.5"/><circle cx="23.3" cy="218.7" r="0.5"/><circle cx="27.9" cy="215.6" r="0.5"/><circle cx="35.2" cy="215.6" r="0.5"/><circle cx="24.6" cy="210.1" r="0.5"/><circle cx="34.9" cy="217.4" r="0.5"/><circle cx="26.9" cy="217.8" r="0.5"/><circle cx="32.2" cy="217.1" r="0.5"/><circle cx="21.2" cy="214.3" r="0.5"/><circle cx="33.8" cy="217.4" r="0.5"/><circle cx="33.7" cy="207.8" r="0.5"/><circle cx="30.9" cy="216.7" r="0.5"/><circle cx="40.4" cy="212.3" r="0.5"/><circle cx="28.9" cy="215.3" r="0.5"/><circle cx="33.7" cy="213.9" r="0.5"/><circle cx="34.8" cy="212.8" r="0.5"/><circle cx="31.3" cy="213.6" r="0.5"/><circle cx="30.8" cy="213.1" r="0.5"/><circle cx="23.8" cy="218.5" r="0.5"/><circle cx="31.4" cy="213.5" r="0.5"/><circle cx="31.0" cy="218.2" r="0.5"/><circle cx="26.3" cy="214.9" r="0.5"/><circle cx="32.4" cy="216.8" r="0.5"/><circle cx="28.9" cy="208.9" r="0.5"/><circle cx="35.2" cy="216.2" r="0.5"/><circle cx="30.3" cy="214.4" r="0.5"/><circle cx="31.3" cy="213.9" r="0.5"/><circle cx="26.1" cy="213.0" r="0.5"/><circle cx="27.8" cy="213.4" r="0.5"/><circle cx="25.6" cy="217.1" r="0.5"/><circle cx="25.0" cy="217.2" r="0.5"/><circle cx="26.1" cy="216.3" r="0.5"/><circle cx="35.7" cy="215.8" r="0.5"/><circle cx="27.3" cy="215.3" r="0.5"/><circle cx="30.8" cy="210.0" r="0.5"/><circle cx="27.8" cy="215.7" r="0.5"/><circle cx="28.3" cy="215.4" r="0.5"/><circle cx="33.1" cy="217.5" r="0.5"/><circle cx="33.8" cy="217.0" r="0.5"/><circle cx="29.0" cy="215.1" r="0.5"/><circle cx="29.1" cy="214.3" r="0.5"/><circle cx="29.5" cy="210.0" r="0.5"/><circle cx="28.9" cy="215.1" r="0.5"/><circle cx="26.3" cy="215.1" r="0.5"/><circle cx="32.3" cy="214.7" r="0.5"/><circle cx="38.5" cy="207.4" r="0.5"/><circle cx="29.4" cy="209.7" r="0.5"/><circle cx="34.1" cy="223.2" r="0.5"/><circle cx="20.2" cy="215.6" r="0.5"/><circle cx="32.3" cy="214.3" r="0.5"/><circle cx="32.4" cy="208.5" r="0.5"/><circle cx="33.6" cy="216.3" r="0.5"/><circle cx="30.3" cy="213.4" r="0.5"/><circle cx="32.8" cy="213.7" r="0.5"/><circle cx="31.1" cy="213.7" r="0.5"/><circle cx="21.2" cy="215.1" r="0.5"/><circle cx="31.0" cy="217.5" r="0.5"/><circle cx="26.7" cy="215.1" r="0.5"/><circle cx="32.7" cy="215.6" r="0.5"/><circle cx="35.2" cy="221.2" r="0.5"/><circle cx="26.6" cy="209.4" r="0.5"/><circle cx="33.6" cy="219.8" r="0.5"/><circle cx="33.9" cy="217.6" r="0.5"/><circle cx="27.7" cy="213.1" r="0.5"/><circle cx="33.8" cy="212.5" r="0.5"/><circle cx="22.9" cy="212.2" r="0.5"/><circle cx="40.2" cy="221.0" r="0.5"/><circle cx="27.5" cy="213.0" r="0.5"/><circle cx="31.1" cy="213.0" r="0.5"/><circle cx="35.4" cy="215.0" r="0.5"/><circle cx="25.9" cy="219.1" r="0.5"/><circle cx="27.9" cy="215.9" r="0.5"/><circle cx="30.1" cy="214.3" r="0.5"/><circle cx="31.5" cy="213.1" r="0.5"/><circle cx="22.8" cy="208.6" r="0.5"/><circle cx="25.1" cy="212.9" r="0.5"/><circle cx="30.1" cy="215.4" r="0.5"/><circle cx="32.4" cy="215.6" r="0.5"/><circle cx="27.0" cy="213.1" r="0.5"/><circle cx="21.7" cy="214.7" r="0.5"/><circle cx="32.1" cy="216.8" r="0.5"/><circle cx="29.7" cy="214.7" r="0.5"/><circle cx="33.9" cy="215.2" r="0.5"/><circle cx="33.2" cy="216.9" r="0.5"/><circle cx="31.1" cy="219.1" r="0.5"/><circle cx="27.9" cy="214.1" r="0.5"/><circle cx="27.0" cy="212.8" r="0.5"/><circle cx="36.4" cy="220.5" r="0.5"/><circle cx="30.3" cy="216.9" r="0.5"/><circle cx="34.9" cy="217.6" r="0.5"/><circle cx="35.0" cy="211.4" r="0.5"/><circle cx="27.6" cy="216.6" r="0.5"/><circle cx="35.9" cy="215.5" r="0.5"/><circle cx="26.8" cy="214.1" r="0.5"/><circle cx="27.6" cy="212.6" r="0.5"/><circle cx="36.2" cy="213.3" r="0.5"/><circle cx="30.3" cy="221.7" r="0.5"/><circle cx="34.9" cy="216.2" r="0.5"/><circle cx="27.8" cy="216.4" r="0.5"/><circle cx="36.7" cy="217.1" r="0.5"/><circle cx="35.2" cy="215.5" r="0.5"/><circle cx="32.3" cy="214.6" r="0.5"/><circle cx="31.9" cy="219.1" r="0.5"/><circle cx="24.5" cy="215.0" r="0.5"/><circle cx="31.2" cy="213.5" r="0.5"/><circle cx="29.0" cy="217.6" r="0.5"/><circle cx="38.2" cy="217.1" r="0.5"/><circle cx="31.5" cy="210.5" r="0.5"/><circle cx="37.9" cy="215.4" r="0.5"/><circle cx="30.1" cy="211.8" r="0.5"/><circle cx="30.0" cy="211.9" r="0.5"/><circle cx="30.5" cy="216.6" r="0.5"/><circle cx="30.3" cy="216.0" r="0.5"/><circle cx="26.8" cy="219.5" r="0.5"/><circle cx="27.6" cy="209.7" r="0.5"/><circle cx="29.4" cy="212.9" r="0.5"/><circle cx="26.2" cy="214.1" r="0.5"/><circle cx="31.4" cy="211.7" r="0.5"/><circle cx="29.6" cy="219.5" r="0.5"/><circle cx="32.9" cy="214.7" r="0.5"/><circle cx="30.7" cy="214.8" r="0.5"/><circle cx="30.0" cy="217.4" r="0.5"/><circle cx="29.8" cy="208.0" r="0.5"/><circle cx="30.1" cy="212.5" r="0.5"/><circle cx="32.8" cy="213.4" r="0.5"/><circle cx="30.8" cy="221.7" r="0.5"/><circle cx="26.0" cy="211.8" r="0.5"/><circle cx="24.6" cy="208.0" r="0.5"/><circle cx="22.7" cy="216.3" r="0.5"/><circle cx="27.6" cy="209.6" r="0.5"/><circle cx="24.3" cy="217.1" r="0.5"/><circle cx="27.1" cy="214.1" r="0.5"/><circle cx="31.5" cy="219.3" r="0.5"/><circle cx="38.0" cy="218.3" r="0.5"/><circle cx="30.8" cy="215.8" r="0.5"/><circle cx="37.4" cy="219.5" r="0.5"/><circle cx="29.0" cy="216.6" r="0.5"/><circle cx="31.3" cy="215.4" r="0.5"/><circle cx="28.2" cy="211.2" r="0.5"/><circle cx="28.1" cy="210.6" r="0.5"/><circle cx="35.1" cy="216.8" r="0.5"/><circle cx="25.4" cy="219.4" r="0.5"/><circle cx="33.8" cy="209.5" r="0.5"/><circle cx="37.6" cy="217.6" r="0.5"/><circle cx="38.5" cy="211.5" r="0.5"/><circle cx="32.3" cy="216.5" r="0.5"/><circle cx="31.0" cy="215.7" r="0.5"/><circle cx="34.4" cy="210.7" r="0.5"/><circle cx="25.2" cy="211.0" r="0.5"/><circle cx="28.0" cy="213.4" r="0.5"/><circle cx="31.7" cy="216.0" r="0.5"/><circle cx="30.3" cy="213.2" r="0.5"/><circle cx="28.4" cy="218.1" r="0.5"/><circle cx="33.3" cy="215.5" r="0.5"/><circle cx="28.9" cy="219.9" r="0.5"/><circle cx="27.8" cy="217.1" r="0.5"/><circle cx="34.8" cy="214.4" r="0.5"/><circle cx="33.5" cy="211.9" r="0.5"/><circle cx="34.3" cy="215.8" r="0.5"/><circle cx="23.9" cy="217.2" r="0.5"/><circle cx="26.6" cy="219.0" r="0.5"/><circle cx="27.5" cy="214.7" r="0.5"/><circle cx="31.3" cy="214.2" r="0.5"/><circle cx="31.2" cy="213.5" r="0.5"/><circle cx="32.9" cy="215.2" r="0.5"/><circle cx="31.0" cy="206.9" r="0.5"/><circle cx="34.8" cy="215.3" r="0.5"/><circle cx="23.1" cy="215.5" r="0.5"/><circle cx="32.1" cy="218.4" r="0.5"/><circle cx="25.9" cy="219.8" r="0.5"/><circle cx="29.6" cy="222.4" r="0.5"/><circle cx="29.6" cy="217.2" r="0.5"/><circle cx="28.7" cy="211.9" r="0.5"/><circle cx="34.6" cy="217.9" r="0.5"/><circle cx="36.4" cy="217.8" r="0.5"/><circle cx="27.9" cy="210.2" r="0.5"/><circle cx="27.6" cy="213.2" r="0.5"/><circle cx="26.9" cy="216.9" r="0.5"/><circle cx="31.5" cy="214.4" r="0.5"/><circle cx="30.9" cy="214.8" r="0.5"/><circle cx="31.1" cy="217.5" r="0.5"/><circle cx="34.0" cy="213.1" r="0.5"/><circle cx="24.2" cy="219.5" r="0.5"/><circle cx="30.7" cy="218.5" r="0.5"/></g>
<ellipse cx="42.2" cy="203.9" rx="6.5" ry="11" fill="#b8c4fa" opacity="0.35"/>
<ellipse cx="42.20" cy="210.60" rx="5.20" ry="4.60" fill="url(#gMid)" transform="rotate(0 42.20 210.60)"/>
<ellipse cx="42.20" cy="197.20" rx="4.60" ry="4.00" fill="url(#gCy)" transform="rotate(0 42.20 197.20)"/>
<ellipse cx="30.20" cy="215.20" rx="5.40" ry="3.90" fill="url(#gHot)" transform="rotate(-15 30.20 215.20)"/>
<g fill="#6a80f0" opacity="0.22"><circle cx="87.9" cy="201.3" r="0.5"/><circle cx="96.2" cy="192.4" r="0.5"/><circle cx="93.5" cy="209.7" r="0.5"/><circle cx="101.5" cy="216.7" r="0.5"/><circle cx="91.8" cy="192.7" r="0.5"/><circle cx="98.7" cy="211.4" r="0.5"/><circle cx="97.1" cy="193.5" r="0.5"/><circle cx="100.0" cy="210.2" r="0.5"/><circle cx="98.9" cy="200.0" r="0.5"/><circle cx="97.6" cy="210.2" r="0.5"/><circle cx="93.3" cy="189.2" r="0.5"/><circle cx="97.7" cy="207.7" r="0.5"/><circle cx="96.2" cy="211.0" r="0.5"/><circle cx="93.2" cy="203.2" r="0.5"/><circle cx="94.6" cy="208.5" r="0.5"/><circle cx="104.1" cy="201.9" r="0.5"/><circle cx="106.4" cy="216.1" r="0.5"/><circle cx="100.1" cy="208.6" r="0.5"/><circle cx="105.0" cy="202.5" r="0.5"/><circle cx="95.5" cy="195.4" r="0.5"/><circle cx="98.5" cy="214.7" r="0.5"/><circle cx="98.8" cy="207.3" r="0.5"/><circle cx="95.1" cy="205.3" r="0.5"/><circle cx="89.0" cy="212.3" r="0.5"/><circle cx="94.1" cy="195.1" r="0.5"/><circle cx="92.3" cy="197.3" r="0.5"/><circle cx="100.4" cy="212.4" r="0.5"/><circle cx="89.3" cy="211.3" r="0.5"/><circle cx="100.5" cy="199.3" r="0.5"/><circle cx="88.7" cy="197.9" r="0.5"/><circle cx="92.9" cy="206.6" r="0.5"/><circle cx="94.3" cy="187.7" r="0.5"/><circle cx="97.3" cy="191.6" r="0.5"/><circle cx="100.6" cy="194.2" r="0.5"/><circle cx="92.6" cy="197.1" r="0.5"/><circle cx="93.4" cy="214.3" r="0.5"/><circle cx="100.4" cy="208.7" r="0.5"/><circle cx="97.7" cy="191.5" r="0.5"/><circle cx="93.5" cy="199.5" r="0.5"/><circle cx="91.2" cy="208.0" r="0.5"/><circle cx="92.4" cy="198.2" r="0.5"/><circle cx="90.9" cy="187.4" r="0.5"/><circle cx="99.1" cy="214.5" r="0.5"/><circle cx="97.0" cy="196.1" r="0.5"/><circle cx="82.6" cy="205.3" r="0.5"/><circle cx="102.2" cy="206.3" r="0.5"/><circle cx="100.7" cy="215.7" r="0.5"/><circle cx="101.7" cy="200.4" r="0.5"/><circle cx="101.4" cy="210.1" r="0.5"/><circle cx="88.4" cy="200.7" r="0.5"/><circle cx="89.0" cy="203.0" r="0.5"/><circle cx="99.0" cy="195.4" r="0.5"/><circle cx="85.8" cy="214.3" r="0.5"/><circle cx="98.0" cy="215.7" r="0.5"/><circle cx="89.5" cy="212.4" r="0.5"/><circle cx="106.5" cy="220.0" r="0.5"/><circle cx="95.0" cy="206.1" r="0.5"/><circle cx="95.3" cy="211.9" r="0.5"/><circle cx="101.3" cy="204.6" r="0.5"/><circle cx="89.3" cy="209.8" r="0.5"/><circle cx="93.8" cy="208.9" r="0.5"/><circle cx="97.4" cy="216.9" r="0.5"/><circle cx="101.8" cy="200.3" r="0.5"/><circle cx="97.8" cy="218.0" r="0.5"/><circle cx="93.4" cy="207.4" r="0.5"/><circle cx="102.1" cy="214.0" r="0.5"/><circle cx="98.7" cy="193.3" r="0.5"/><circle cx="89.8" cy="205.9" r="0.5"/><circle cx="98.0" cy="224.3" r="0.5"/><circle cx="91.8" cy="213.0" r="0.5"/><circle cx="100.0" cy="190.5" r="0.5"/><circle cx="92.0" cy="205.2" r="0.5"/><circle cx="93.6" cy="202.7" r="0.5"/><circle cx="98.5" cy="197.4" r="0.5"/><circle cx="98.4" cy="198.8" r="0.5"/><circle cx="93.4" cy="208.2" r="0.5"/><circle cx="93.2" cy="206.2" r="0.5"/><circle cx="104.1" cy="204.1" r="0.5"/><circle cx="95.4" cy="209.8" r="0.5"/><circle cx="94.3" cy="212.6" r="0.5"/><circle cx="89.7" cy="208.8" r="0.5"/><circle cx="93.5" cy="197.5" r="0.5"/><circle cx="104.9" cy="197.1" r="0.5"/><circle cx="104.9" cy="209.2" r="0.5"/><circle cx="103.4" cy="196.1" r="0.5"/><circle cx="102.1" cy="215.6" r="0.5"/><circle cx="95.5" cy="202.9" r="0.5"/><circle cx="108.4" cy="205.3" r="0.5"/><circle cx="94.0" cy="198.9" r="0.5"/><circle cx="98.3" cy="206.5" r="0.5"/><circle cx="97.0" cy="217.7" r="0.5"/><circle cx="94.5" cy="207.7" r="0.5"/><circle cx="103.4" cy="195.9" r="0.5"/><circle cx="101.3" cy="218.6" r="0.5"/><circle cx="89.3" cy="195.1" r="0.5"/><circle cx="90.9" cy="189.1" r="0.5"/><circle cx="98.4" cy="189.1" r="0.5"/><circle cx="98.6" cy="215.5" r="0.5"/><circle cx="88.0" cy="201.4" r="0.5"/><circle cx="86.5" cy="210.1" r="0.5"/><circle cx="92.4" cy="201.8" r="0.5"/><circle cx="96.4" cy="208.3" r="0.5"/><circle cx="94.4" cy="204.0" r="0.5"/><circle cx="93.4" cy="204.8" r="0.5"/><circle cx="90.2" cy="204.4" r="0.5"/><circle cx="86.4" cy="200.0" r="0.5"/><circle cx="105.7" cy="204.5" r="0.5"/><circle cx="89.8" cy="206.0" r="0.5"/><circle cx="91.2" cy="190.7" r="0.5"/><circle cx="92.4" cy="209.8" r="0.5"/><circle cx="98.0" cy="203.1" r="0.5"/><circle cx="91.5" cy="195.3" r="0.5"/><circle cx="102.8" cy="205.9" r="0.5"/><circle cx="91.3" cy="187.0" r="0.5"/><circle cx="89.3" cy="223.7" r="0.5"/><circle cx="90.4" cy="203.3" r="0.5"/><circle cx="97.2" cy="202.6" r="0.5"/><circle cx="94.7" cy="192.9" r="0.5"/><circle cx="90.8" cy="217.4" r="0.5"/><circle cx="92.3" cy="210.7" r="0.5"/><circle cx="87.6" cy="201.7" r="0.5"/><circle cx="97.4" cy="212.2" r="0.5"/><circle cx="90.5" cy="208.7" r="0.5"/><circle cx="98.0" cy="198.0" r="0.5"/><circle cx="98.5" cy="196.7" r="0.5"/><circle cx="92.1" cy="203.7" r="0.5"/><circle cx="82.5" cy="203.0" r="0.5"/><circle cx="91.1" cy="192.2" r="0.5"/><circle cx="94.0" cy="210.0" r="0.5"/><circle cx="94.1" cy="214.0" r="0.5"/><circle cx="90.3" cy="193.4" r="0.5"/><circle cx="103.9" cy="207.1" r="0.5"/><circle cx="100.8" cy="197.3" r="0.5"/><circle cx="100.1" cy="206.0" r="0.5"/><circle cx="99.3" cy="204.1" r="0.5"/><circle cx="102.1" cy="198.7" r="0.5"/><circle cx="91.3" cy="192.1" r="0.5"/><circle cx="101.9" cy="198.0" r="0.5"/><circle cx="90.9" cy="196.4" r="0.5"/><circle cx="93.9" cy="193.7" r="0.5"/><circle cx="94.6" cy="198.9" r="0.5"/><circle cx="93.3" cy="196.2" r="0.5"/><circle cx="96.3" cy="200.2" r="0.5"/><circle cx="96.7" cy="205.9" r="0.5"/><circle cx="97.8" cy="186.4" r="0.5"/><circle cx="93.4" cy="197.5" r="0.5"/><circle cx="100.0" cy="191.3" r="0.5"/><circle cx="92.5" cy="201.5" r="0.5"/><circle cx="94.4" cy="211.8" r="0.5"/><circle cx="93.9" cy="211.6" r="0.5"/><circle cx="88.8" cy="189.4" r="0.5"/><circle cx="102.2" cy="207.4" r="0.5"/><circle cx="98.5" cy="204.9" r="0.5"/><circle cx="98.5" cy="194.2" r="0.5"/><circle cx="100.8" cy="199.6" r="0.5"/><circle cx="101.0" cy="204.6" r="0.5"/><circle cx="86.2" cy="193.6" r="0.5"/><circle cx="101.7" cy="202.8" r="0.5"/><circle cx="94.1" cy="205.8" r="0.5"/><circle cx="94.0" cy="199.5" r="0.5"/><circle cx="96.6" cy="205.1" r="0.5"/><circle cx="103.7" cy="204.3" r="0.5"/><circle cx="105.5" cy="218.3" r="0.5"/><circle cx="104.7" cy="212.4" r="0.5"/><circle cx="96.8" cy="205.0" r="0.5"/><circle cx="95.4" cy="198.1" r="0.5"/><circle cx="95.8" cy="198.8" r="0.5"/><circle cx="104.3" cy="208.2" r="0.5"/><circle cx="93.9" cy="188.6" r="0.5"/><circle cx="95.8" cy="200.6" r="0.5"/><circle cx="90.7" cy="194.8" r="0.5"/><circle cx="84.8" cy="208.5" r="0.5"/><circle cx="95.8" cy="224.5" r="0.5"/><circle cx="95.9" cy="202.7" r="0.5"/><circle cx="103.3" cy="205.0" r="0.5"/><circle cx="96.9" cy="200.9" r="0.5"/><circle cx="93.1" cy="215.9" r="0.5"/><circle cx="101.1" cy="217.6" r="0.5"/><circle cx="94.4" cy="204.1" r="0.5"/><circle cx="91.7" cy="211.6" r="0.5"/><circle cx="89.1" cy="208.4" r="0.5"/><circle cx="101.6" cy="215.2" r="0.5"/><circle cx="91.4" cy="212.6" r="0.5"/><circle cx="92.5" cy="197.8" r="0.5"/><circle cx="89.5" cy="213.1" r="0.5"/><circle cx="104.3" cy="199.1" r="0.5"/><circle cx="92.3" cy="201.2" r="0.5"/><circle cx="108.6" cy="211.9" r="0.5"/><circle cx="93.4" cy="189.5" r="0.5"/><circle cx="92.7" cy="213.4" r="0.5"/><circle cx="105.4" cy="201.8" r="0.5"/><circle cx="92.6" cy="199.8" r="0.5"/><circle cx="86.7" cy="211.2" r="0.5"/><circle cx="90.7" cy="212.4" r="0.5"/><circle cx="87.6" cy="193.7" r="0.5"/><circle cx="97.5" cy="197.8" r="0.5"/><circle cx="100.0" cy="204.0" r="0.5"/><circle cx="90.2" cy="208.9" r="0.5"/><circle cx="100.3" cy="188.6" r="0.5"/><circle cx="105.2" cy="207.9" r="0.5"/><circle cx="99.9" cy="189.0" r="0.5"/><circle cx="92.5" cy="201.1" r="0.5"/><circle cx="101.5" cy="192.2" r="0.5"/><circle cx="91.7" cy="187.7" r="0.5"/><circle cx="94.9" cy="206.7" r="0.5"/><circle cx="87.7" cy="199.2" r="0.5"/><circle cx="98.7" cy="216.6" r="0.5"/><circle cx="99.4" cy="201.5" r="0.5"/><circle cx="90.2" cy="196.4" r="0.5"/><circle cx="92.8" cy="205.1" r="0.5"/><circle cx="95.9" cy="217.2" r="0.5"/><circle cx="97.5" cy="195.3" r="0.5"/><circle cx="103.8" cy="211.5" r="0.5"/><circle cx="96.6" cy="198.1" r="0.5"/><circle cx="86.7" cy="195.7" r="0.5"/><circle cx="100.7" cy="197.5" r="0.5"/><circle cx="89.5" cy="205.5" r="0.5"/><circle cx="97.3" cy="208.8" r="0.5"/><circle cx="99.4" cy="215.2" r="0.5"/><circle cx="91.9" cy="211.7" r="0.5"/><circle cx="91.2" cy="209.5" r="0.5"/><circle cx="97.0" cy="205.8" r="0.5"/><circle cx="100.9" cy="203.8" r="0.5"/><circle cx="101.7" cy="210.9" r="0.5"/><circle cx="96.8" cy="199.4" r="0.5"/><circle cx="92.3" cy="199.7" r="0.5"/><circle cx="95.1" cy="203.7" r="0.5"/><circle cx="111.0" cy="209.0" r="0.5"/><circle cx="99.9" cy="197.0" r="0.5"/><circle cx="92.5" cy="201.3" r="0.5"/><circle cx="97.1" cy="195.6" r="0.5"/><circle cx="104.2" cy="199.4" r="0.5"/><circle cx="101.5" cy="185.2" r="0.5"/><circle cx="96.1" cy="206.1" r="0.5"/><circle cx="97.1" cy="208.7" r="0.5"/><circle cx="97.5" cy="205.2" r="0.5"/><circle cx="86.6" cy="198.2" r="0.5"/><circle cx="84.4" cy="208.9" r="0.5"/><circle cx="97.6" cy="202.3" r="0.5"/><circle cx="92.0" cy="199.2" r="0.5"/><circle cx="105.3" cy="217.7" r="0.5"/><circle cx="95.8" cy="214.2" r="0.5"/><circle cx="88.2" cy="188.4" r="0.5"/><circle cx="93.7" cy="196.9" r="0.5"/><circle cx="93.3" cy="205.4" r="0.5"/><circle cx="111.2" cy="198.6" r="0.5"/><circle cx="96.3" cy="206.1" r="0.5"/><circle cx="95.9" cy="211.3" r="0.5"/><circle cx="105.0" cy="194.0" r="0.5"/><circle cx="96.9" cy="201.8" r="0.5"/><circle cx="97.9" cy="191.6" r="0.5"/><circle cx="87.3" cy="185.4" r="0.5"/><circle cx="98.7" cy="205.4" r="0.5"/><circle cx="96.5" cy="185.0" r="0.5"/><circle cx="94.2" cy="197.9" r="0.5"/><circle cx="89.0" cy="196.6" r="0.5"/><circle cx="99.6" cy="208.3" r="0.5"/><circle cx="96.0" cy="208.0" r="0.5"/><circle cx="93.1" cy="204.5" r="0.5"/><circle cx="96.3" cy="208.3" r="0.5"/><circle cx="95.8" cy="202.8" r="0.5"/><circle cx="95.4" cy="198.7" r="0.5"/><circle cx="107.3" cy="208.0" r="0.5"/><circle cx="98.2" cy="222.2" r="0.5"/><circle cx="103.1" cy="191.4" r="0.5"/><circle cx="99.6" cy="210.6" r="0.5"/><circle cx="105.5" cy="214.4" r="0.5"/><circle cx="100.0" cy="194.5" r="0.5"/><circle cx="91.7" cy="206.1" r="0.5"/><circle cx="98.6" cy="195.7" r="0.5"/><circle cx="94.2" cy="200.7" r="0.5"/><circle cx="96.4" cy="206.6" r="0.5"/><circle cx="94.7" cy="194.0" r="0.5"/><circle cx="102.3" cy="216.7" r="0.5"/><circle cx="95.6" cy="212.1" r="0.5"/><circle cx="98.3" cy="209.2" r="0.5"/><circle cx="98.5" cy="197.8" r="0.5"/><circle cx="99.0" cy="212.0" r="0.5"/><circle cx="91.6" cy="219.6" r="0.5"/><circle cx="106.5" cy="218.5" r="0.5"/><circle cx="106.0" cy="209.8" r="0.5"/><circle cx="94.4" cy="199.1" r="0.5"/><circle cx="92.0" cy="204.8" r="0.5"/><circle cx="95.9" cy="209.3" r="0.5"/><circle cx="86.0" cy="222.4" r="0.5"/><circle cx="107.5" cy="203.7" r="0.5"/><circle cx="99.5" cy="207.7" r="0.5"/><circle cx="97.5" cy="202.2" r="0.5"/><circle cx="95.5" cy="197.3" r="0.5"/><circle cx="97.0" cy="203.7" r="0.5"/><circle cx="97.7" cy="197.1" r="0.5"/><circle cx="96.3" cy="204.3" r="0.5"/><circle cx="99.1" cy="195.4" r="0.5"/><circle cx="98.2" cy="211.8" r="0.5"/><circle cx="99.1" cy="201.0" r="0.5"/><circle cx="93.6" cy="202.0" r="0.5"/><circle cx="99.7" cy="216.3" r="0.5"/><circle cx="95.3" cy="198.8" r="0.5"/><circle cx="98.0" cy="205.5" r="0.5"/><circle cx="91.6" cy="198.0" r="0.5"/><circle cx="95.6" cy="209.3" r="0.5"/><circle cx="90.1" cy="195.8" r="0.5"/><circle cx="98.6" cy="194.1" r="0.5"/><circle cx="96.6" cy="206.7" r="0.5"/><circle cx="95.5" cy="195.8" r="0.5"/><circle cx="95.8" cy="201.2" r="0.5"/><circle cx="97.8" cy="197.2" r="0.5"/><circle cx="101.6" cy="190.5" r="0.5"/><circle cx="95.2" cy="204.0" r="0.5"/><circle cx="100.9" cy="199.0" r="0.5"/><circle cx="98.8" cy="199.4" r="0.5"/><circle cx="99.8" cy="217.8" r="0.5"/><circle cx="94.1" cy="207.4" r="0.5"/><circle cx="91.5" cy="211.7" r="0.5"/><circle cx="102.2" cy="204.2" r="0.5"/><circle cx="90.4" cy="207.1" r="0.5"/><circle cx="101.8" cy="212.6" r="0.5"/><circle cx="100.2" cy="189.3" r="0.5"/><circle cx="92.7" cy="215.3" r="0.5"/><circle cx="90.0" cy="213.0" r="0.5"/><circle cx="105.5" cy="210.0" r="0.5"/><circle cx="101.7" cy="201.2" r="0.5"/><circle cx="90.0" cy="203.1" r="0.5"/><circle cx="95.1" cy="203.5" r="0.5"/><circle cx="99.6" cy="202.7" r="0.5"/><circle cx="97.1" cy="207.3" r="0.5"/><circle cx="96.1" cy="218.6" r="0.5"/><circle cx="98.3" cy="204.6" r="0.5"/><circle cx="95.1" cy="198.9" r="0.5"/><circle cx="102.8" cy="205.1" r="0.5"/><circle cx="90.7" cy="199.4" r="0.5"/><circle cx="95.4" cy="200.3" r="0.5"/><circle cx="101.5" cy="194.6" r="0.5"/><circle cx="98.6" cy="205.0" r="0.5"/><circle cx="90.2" cy="204.3" r="0.5"/><circle cx="95.6" cy="207.9" r="0.5"/><circle cx="93.8" cy="206.3" r="0.5"/><circle cx="87.8" cy="195.2" r="0.5"/><circle cx="100.0" cy="212.2" r="0.5"/><circle cx="96.0" cy="199.1" r="0.5"/><circle cx="101.5" cy="187.2" r="0.5"/><circle cx="92.1" cy="209.3" r="0.5"/><circle cx="99.4" cy="195.6" r="0.5"/><circle cx="86.7" cy="215.5" r="0.5"/><circle cx="96.9" cy="196.7" r="0.5"/><circle cx="96.4" cy="211.1" r="0.5"/><circle cx="83.1" cy="212.8" r="0.5"/><circle cx="99.8" cy="187.3" r="0.5"/><circle cx="100.0" cy="189.7" r="0.5"/><circle cx="101.8" cy="207.1" r="0.5"/><circle cx="107.4" cy="199.0" r="0.5"/><circle cx="96.1" cy="212.3" r="0.5"/><circle cx="92.9" cy="198.3" r="0.5"/><circle cx="94.2" cy="203.3" r="0.5"/><circle cx="90.7" cy="207.8" r="0.5"/><circle cx="98.8" cy="204.5" r="0.5"/><circle cx="104.6" cy="201.3" r="0.5"/><circle cx="102.6" cy="199.5" r="0.5"/><circle cx="99.9" cy="188.4" r="0.5"/><circle cx="97.1" cy="202.5" r="0.5"/><circle cx="93.6" cy="199.0" r="0.5"/><circle cx="94.4" cy="198.1" r="0.5"/><circle cx="85.1" cy="199.1" r="0.5"/><circle cx="93.4" cy="199.7" r="0.5"/><circle cx="90.8" cy="202.8" r="0.5"/><circle cx="100.0" cy="201.9" r="0.5"/><circle cx="93.6" cy="214.8" r="0.5"/><circle cx="101.0" cy="211.3" r="0.5"/><circle cx="101.9" cy="201.3" r="0.5"/><circle cx="95.5" cy="212.8" r="0.5"/><circle cx="93.3" cy="202.9" r="0.5"/><circle cx="98.0" cy="206.9" r="0.5"/><circle cx="94.7" cy="211.8" r="0.5"/><circle cx="95.2" cy="209.7" r="0.5"/><circle cx="101.5" cy="209.2" r="0.5"/><circle cx="99.8" cy="194.6" r="0.5"/><circle cx="89.5" cy="199.0" r="0.5"/><circle cx="98.5" cy="215.9" r="0.5"/><circle cx="90.0" cy="206.4" r="0.5"/><circle cx="91.8" cy="198.0" r="0.5"/><circle cx="94.7" cy="209.4" r="0.5"/><circle cx="97.2" cy="213.3" r="0.5"/><circle cx="91.2" cy="211.0" r="0.5"/><circle cx="100.8" cy="204.5" r="0.5"/><circle cx="98.5" cy="199.4" r="0.5"/><circle cx="90.7" cy="200.7" r="0.5"/><circle cx="92.9" cy="227.0" r="0.5"/><circle cx="93.7" cy="217.1" r="0.5"/><circle cx="97.1" cy="206.4" r="0.5"/><circle cx="99.8" cy="197.7" r="0.5"/><circle cx="100.7" cy="206.9" r="0.5"/><circle cx="88.5" cy="208.7" r="0.5"/><circle cx="98.9" cy="207.5" r="0.5"/><circle cx="104.0" cy="200.6" r="0.5"/><circle cx="98.7" cy="209.9" r="0.5"/><circle cx="91.6" cy="213.5" r="0.5"/><circle cx="88.8" cy="193.5" r="0.5"/><circle cx="98.7" cy="195.2" r="0.5"/><circle cx="95.5" cy="190.7" r="0.5"/><circle cx="96.4" cy="194.8" r="0.5"/><circle cx="97.8" cy="191.6" r="0.5"/><circle cx="98.3" cy="201.8" r="0.5"/><circle cx="96.4" cy="203.4" r="0.5"/><circle cx="96.8" cy="193.3" r="0.5"/><circle cx="83.3" cy="204.2" r="0.5"/><circle cx="91.4" cy="200.3" r="0.5"/><circle cx="98.2" cy="188.0" r="0.5"/><circle cx="92.3" cy="199.0" r="0.5"/><circle cx="90.8" cy="206.5" r="0.5"/><circle cx="95.4" cy="197.3" r="0.5"/><circle cx="91.2" cy="210.4" r="0.5"/><circle cx="92.8" cy="208.6" r="0.5"/><circle cx="98.3" cy="188.7" r="0.5"/><circle cx="90.7" cy="203.9" r="0.5"/><circle cx="97.8" cy="210.1" r="0.5"/><circle cx="100.1" cy="212.2" r="0.5"/><circle cx="94.2" cy="202.2" r="0.5"/><circle cx="100.0" cy="200.5" r="0.5"/><circle cx="101.4" cy="191.2" r="0.5"/><circle cx="99.4" cy="202.5" r="0.5"/></g>
<g fill="#6a80f0" opacity="0.3"><circle cx="76.5" cy="217.9" r="0.5"/><circle cx="85.6" cy="215.1" r="0.5"/><circle cx="80.1" cy="213.6" r="0.5"/><circle cx="90.4" cy="212.5" r="0.5"/><circle cx="70.5" cy="212.4" r="0.5"/><circle cx="79.6" cy="214.6" r="0.5"/><circle cx="82.8" cy="212.3" r="0.5"/><circle cx="81.0" cy="218.1" r="0.5"/><circle cx="78.6" cy="220.9" r="0.5"/><circle cx="82.2" cy="211.7" r="0.5"/><circle cx="87.5" cy="216.7" r="0.5"/><circle cx="80.2" cy="217.2" r="0.5"/><circle cx="77.0" cy="212.2" r="0.5"/><circle cx="88.9" cy="214.2" r="0.5"/><circle cx="79.2" cy="216.5" r="0.5"/><circle cx="88.1" cy="214.9" r="0.5"/><circle cx="77.2" cy="214.0" r="0.5"/><circle cx="86.1" cy="217.3" r="0.5"/><circle cx="91.8" cy="214.2" r="0.5"/><circle cx="82.5" cy="214.9" r="0.5"/><circle cx="89.2" cy="212.2" r="0.5"/><circle cx="89.6" cy="206.8" r="0.5"/><circle cx="87.6" cy="213.0" r="0.5"/><circle cx="86.2" cy="217.1" r="0.5"/><circle cx="79.7" cy="214.7" r="0.5"/><circle cx="85.4" cy="216.8" r="0.5"/><circle cx="80.7" cy="212.0" r="0.5"/><circle cx="76.7" cy="222.6" r="0.5"/><circle cx="83.6" cy="214.3" r="0.5"/><circle cx="78.4" cy="217.8" r="0.5"/><circle cx="82.3" cy="219.3" r="0.5"/><circle cx="87.8" cy="215.1" r="0.5"/><circle cx="87.3" cy="211.7" r="0.5"/><circle cx="83.1" cy="213.3" r="0.5"/><circle cx="79.3" cy="215.1" r="0.5"/><circle cx="83.8" cy="219.3" r="0.5"/><circle cx="71.0" cy="213.0" r="0.5"/><circle cx="80.7" cy="213.6" r="0.5"/><circle cx="86.1" cy="216.2" r="0.5"/><circle cx="84.5" cy="213.6" r="0.5"/><circle cx="86.4" cy="216.1" r="0.5"/><circle cx="77.0" cy="214.2" r="0.5"/><circle cx="78.9" cy="211.5" r="0.5"/><circle cx="85.0" cy="215.2" r="0.5"/><circle cx="84.9" cy="212.4" r="0.5"/><circle cx="83.6" cy="212.3" r="0.5"/><circle cx="85.9" cy="217.1" r="0.5"/><circle cx="91.4" cy="218.8" r="0.5"/><circle cx="81.2" cy="213.6" r="0.5"/><circle cx="80.6" cy="215.9" r="0.5"/><circle cx="92.3" cy="217.1" r="0.5"/><circle cx="75.6" cy="211.2" r="0.5"/><circle cx="79.2" cy="216.5" r="0.5"/><circle cx="84.4" cy="215.9" r="0.5"/><circle cx="91.5" cy="212.5" r="0.5"/><circle cx="81.0" cy="220.9" r="0.5"/><circle cx="85.8" cy="212.7" r="0.5"/><circle cx="76.3" cy="210.4" r="0.5"/><circle cx="74.6" cy="215.2" r="0.5"/><circle cx="84.6" cy="218.0" r="0.5"/><circle cx="83.8" cy="212.9" r="0.5"/><circle cx="81.4" cy="220.7" r="0.5"/><circle cx="77.3" cy="215.5" r="0.5"/><circle cx="84.5" cy="216.9" r="0.5"/><circle cx="82.8" cy="216.5" r="0.5"/><circle cx="87.7" cy="214.6" r="0.5"/><circle cx="82.6" cy="214.4" r="0.5"/><circle cx="80.5" cy="214.4" r="0.5"/><circle cx="83.2" cy="215.6" r="0.5"/><circle cx="89.7" cy="218.9" r="0.5"/><circle cx="82.6" cy="216.8" r="0.5"/><circle cx="85.6" cy="217.3" r="0.5"/><circle cx="84.5" cy="215.8" r="0.5"/><circle cx="82.5" cy="212.6" r="0.5"/><circle cx="87.9" cy="218.9" r="0.5"/><circle cx="87.0" cy="216.3" r="0.5"/><circle cx="85.5" cy="213.6" r="0.5"/><circle cx="77.3" cy="217.0" r="0.5"/><circle cx="85.2" cy="213.3" r="0.5"/><circle cx="80.5" cy="218.8" r="0.5"/><circle cx="77.2" cy="220.3" r="0.5"/><circle cx="87.0" cy="222.1" r="0.5"/><circle cx="81.5" cy="214.9" r="0.5"/><circle cx="82.4" cy="215.5" r="0.5"/><circle cx="83.6" cy="212.8" r="0.5"/><circle cx="88.7" cy="212.6" r="0.5"/><circle cx="82.4" cy="216.7" r="0.5"/><circle cx="82.2" cy="213.7" r="0.5"/><circle cx="85.8" cy="213.9" r="0.5"/><circle cx="79.4" cy="214.7" r="0.5"/><circle cx="83.5" cy="220.1" r="0.5"/><circle cx="80.0" cy="217.9" r="0.5"/><circle cx="81.3" cy="213.9" r="0.5"/><circle cx="83.1" cy="215.8" r="0.5"/><circle cx="87.9" cy="220.2" r="0.5"/><circle cx="81.9" cy="219.0" r="0.5"/><circle cx="88.4" cy="217.4" r="0.5"/><circle cx="81.4" cy="217.7" r="0.5"/><circle cx="84.0" cy="216.1" r="0.5"/><circle cx="83.3" cy="217.0" r="0.5"/><circle cx="88.9" cy="218.4" r="0.5"/><circle cx="83.6" cy="218.0" r="0.5"/><circle cx="90.2" cy="212.2" r="0.5"/><circle cx="90.3" cy="211.0" r="0.5"/><circle cx="86.6" cy="216.8" r="0.5"/><circle cx="90.3" cy="215.8" r="0.5"/><circle cx="82.5" cy="212.6" r="0.5"/><circle cx="79.4" cy="217.3" r="0.5"/><circle cx="83.5" cy="212.8" r="0.5"/><circle cx="86.5" cy="212.7" r="0.5"/><circle cx="82.7" cy="213.6" r="0.5"/><circle cx="91.0" cy="219.4" r="0.5"/><circle cx="83.8" cy="210.3" r="0.5"/><circle cx="85.5" cy="215.2" r="0.5"/><circle cx="85.8" cy="216.7" r="0.5"/><circle cx="83.1" cy="217.8" r="0.5"/><circle cx="87.7" cy="215.6" r="0.5"/><circle cx="82.8" cy="213.6" r="0.5"/><circle cx="87.2" cy="211.7" r="0.5"/><circle cx="83.8" cy="212.8" r="0.5"/><circle cx="78.8" cy="216.8" r="0.5"/><circle cx="84.3" cy="215.1" r="0.5"/><circle cx="87.9" cy="210.5" r="0.5"/><circle cx="84.1" cy="215.9" r="0.5"/><circle cx="87.7" cy="211.7" r="0.5"/><circle cx="87.3" cy="215.7" r="0.5"/><circle cx="89.8" cy="218.4" r="0.5"/><circle cx="86.6" cy="221.4" r="0.5"/><circle cx="84.4" cy="213.7" r="0.5"/><circle cx="83.0" cy="212.2" r="0.5"/><circle cx="84.3" cy="209.4" r="0.5"/><circle cx="84.1" cy="216.3" r="0.5"/><circle cx="88.4" cy="214.0" r="0.5"/><circle cx="90.0" cy="213.0" r="0.5"/><circle cx="83.9" cy="209.4" r="0.5"/><circle cx="81.4" cy="212.6" r="0.5"/><circle cx="90.2" cy="216.6" r="0.5"/><circle cx="80.1" cy="216.6" r="0.5"/><circle cx="86.3" cy="214.3" r="0.5"/><circle cx="84.5" cy="214.1" r="0.5"/><circle cx="82.3" cy="209.8" r="0.5"/><circle cx="84.0" cy="218.8" r="0.5"/><circle cx="90.0" cy="214.2" r="0.5"/><circle cx="81.5" cy="214.4" r="0.5"/><circle cx="87.9" cy="216.0" r="0.5"/><circle cx="82.1" cy="216.1" r="0.5"/><circle cx="83.6" cy="216.5" r="0.5"/><circle cx="82.8" cy="210.7" r="0.5"/><circle cx="84.6" cy="217.2" r="0.5"/><circle cx="80.1" cy="214.7" r="0.5"/><circle cx="87.8" cy="213.9" r="0.5"/><circle cx="81.9" cy="220.9" r="0.5"/><circle cx="87.6" cy="218.0" r="0.5"/><circle cx="80.7" cy="219.8" r="0.5"/><circle cx="77.9" cy="213.5" r="0.5"/><circle cx="87.3" cy="218.9" r="0.5"/><circle cx="80.8" cy="213.1" r="0.5"/><circle cx="85.2" cy="209.4" r="0.5"/><circle cx="86.9" cy="216.6" r="0.5"/><circle cx="82.7" cy="216.6" r="0.5"/><circle cx="87.4" cy="215.9" r="0.5"/><circle cx="86.4" cy="219.4" r="0.5"/><circle cx="82.5" cy="215.5" r="0.5"/><circle cx="82.4" cy="218.0" r="0.5"/><circle cx="82.8" cy="216.4" r="0.5"/><circle cx="84.9" cy="215.2" r="0.5"/><circle cx="91.1" cy="214.8" r="0.5"/><circle cx="89.9" cy="217.4" r="0.5"/><circle cx="89.5" cy="214.5" r="0.5"/><circle cx="88.0" cy="217.2" r="0.5"/><circle cx="82.0" cy="215.8" r="0.5"/><circle cx="83.9" cy="214.9" r="0.5"/><circle cx="89.4" cy="212.9" r="0.5"/><circle cx="77.9" cy="210.0" r="0.5"/><circle cx="82.7" cy="213.1" r="0.5"/><circle cx="84.5" cy="216.6" r="0.5"/><circle cx="91.2" cy="215.9" r="0.5"/><circle cx="86.2" cy="212.9" r="0.5"/><circle cx="86.6" cy="218.9" r="0.5"/><circle cx="89.6" cy="209.3" r="0.5"/><circle cx="87.8" cy="219.6" r="0.5"/><circle cx="87.6" cy="210.7" r="0.5"/><circle cx="83.2" cy="216.7" r="0.5"/><circle cx="86.0" cy="212.7" r="0.5"/><circle cx="81.0" cy="217.8" r="0.5"/><circle cx="79.3" cy="219.1" r="0.5"/><circle cx="84.5" cy="215.9" r="0.5"/><circle cx="79.3" cy="213.3" r="0.5"/><circle cx="87.1" cy="210.8" r="0.5"/><circle cx="92.4" cy="210.9" r="0.5"/><circle cx="79.7" cy="215.1" r="0.5"/><circle cx="86.3" cy="217.1" r="0.5"/><circle cx="83.0" cy="214.4" r="0.5"/><circle cx="83.5" cy="213.3" r="0.5"/><circle cx="74.5" cy="217.8" r="0.5"/><circle cx="85.4" cy="215.5" r="0.5"/><circle cx="82.0" cy="215.7" r="0.5"/><circle cx="84.3" cy="214.8" r="0.5"/><circle cx="88.6" cy="210.0" r="0.5"/><circle cx="85.4" cy="211.9" r="0.5"/><circle cx="83.2" cy="219.3" r="0.5"/><circle cx="80.2" cy="214.7" r="0.5"/><circle cx="82.1" cy="217.7" r="0.5"/><circle cx="80.6" cy="210.2" r="0.5"/><circle cx="86.4" cy="214.0" r="0.5"/><circle cx="83.2" cy="218.1" r="0.5"/><circle cx="81.0" cy="213.9" r="0.5"/><circle cx="85.0" cy="216.2" r="0.5"/><circle cx="82.4" cy="218.0" r="0.5"/><circle cx="93.0" cy="213.8" r="0.5"/><circle cx="91.6" cy="208.9" r="0.5"/><circle cx="89.8" cy="214.0" r="0.5"/><circle cx="84.9" cy="214.0" r="0.5"/><circle cx="82.0" cy="211.3" r="0.5"/><circle cx="82.9" cy="218.7" r="0.5"/><circle cx="88.8" cy="214.0" r="0.5"/><circle cx="82.4" cy="213.0" r="0.5"/><circle cx="79.8" cy="220.2" r="0.5"/><circle cx="86.9" cy="215.3" r="0.5"/><circle cx="82.5" cy="212.1" r="0.5"/></g>
<ellipse cx="96.1" cy="203.9" rx="6.5" ry="11" fill="#b8c4fa" opacity="0.35"/>
<ellipse cx="96.10" cy="211.00" rx="5.20" ry="4.60" fill="url(#gMid)" transform="rotate(0 96.10 211.00)"/>
<ellipse cx="96.10" cy="196.80" rx="4.60" ry="4.00" fill="url(#gCy)" transform="rotate(0 96.10 196.80)"/>
<ellipse cx="84.40" cy="215.00" rx="5.40" ry="3.90" fill="url(#gHot)" transform="rotate(-15 84.40 215.00)"/>
<g fill="#6a80f0" opacity="0.25"><circle cx="154.7" cy="196.0" r="0.5"/><circle cx="144.9" cy="196.8" r="0.5"/><circle cx="144.2" cy="195.5" r="0.5"/><circle cx="144.8" cy="191.4" r="0.5"/><circle cx="151.1" cy="194.7" r="0.5"/><circle cx="153.4" cy="189.8" r="0.5"/><circle cx="155.8" cy="198.2" r="0.5"/><circle cx="149.0" cy="194.8" r="0.5"/><circle cx="145.6" cy="192.4" r="0.5"/><circle cx="143.3" cy="193.3" r="0.5"/><circle cx="149.9" cy="198.2" r="0.5"/><circle cx="153.1" cy="196.1" r="0.5"/><circle cx="147.4" cy="192.1" r="0.5"/><circle cx="147.5" cy="193.9" r="0.5"/><circle cx="140.7" cy="196.0" r="0.5"/><circle cx="142.2" cy="191.0" r="0.5"/><circle cx="149.1" cy="191.0" r="0.5"/><circle cx="156.2" cy="192.6" r="0.5"/><circle cx="155.8" cy="197.5" r="0.5"/><circle cx="146.9" cy="194.5" r="0.5"/><circle cx="154.6" cy="191.7" r="0.5"/><circle cx="149.4" cy="190.9" r="0.5"/><circle cx="149.3" cy="191.6" r="0.5"/><circle cx="149.4" cy="196.8" r="0.5"/><circle cx="155.0" cy="193.5" r="0.5"/><circle cx="149.9" cy="196.3" r="0.5"/><circle cx="147.7" cy="188.9" r="0.5"/><circle cx="153.8" cy="189.4" r="0.5"/><circle cx="153.0" cy="189.3" r="0.5"/><circle cx="156.9" cy="189.0" r="0.5"/><circle cx="152.7" cy="198.8" r="0.5"/><circle cx="144.8" cy="198.7" r="0.5"/><circle cx="145.4" cy="186.2" r="0.5"/><circle cx="152.1" cy="195.7" r="0.5"/><circle cx="148.1" cy="183.3" r="0.5"/><circle cx="148.8" cy="191.8" r="0.5"/><circle cx="147.4" cy="191.9" r="0.5"/><circle cx="141.3" cy="190.8" r="0.5"/><circle cx="156.8" cy="198.9" r="0.5"/><circle cx="147.4" cy="190.3" r="0.5"/><circle cx="150.7" cy="197.1" r="0.5"/><circle cx="152.1" cy="188.5" r="0.5"/><circle cx="149.7" cy="193.5" r="0.5"/><circle cx="155.2" cy="197.6" r="0.5"/><circle cx="151.3" cy="197.7" r="0.5"/><circle cx="147.3" cy="198.9" r="0.5"/><circle cx="147.2" cy="194.5" r="0.5"/><circle cx="153.0" cy="189.5" r="0.5"/><circle cx="146.0" cy="186.2" r="0.5"/><circle cx="149.7" cy="192.8" r="0.5"/><circle cx="147.6" cy="194.9" r="0.5"/><circle cx="139.9" cy="192.9" r="0.5"/><circle cx="149.4" cy="192.0" r="0.5"/><circle cx="152.4" cy="199.7" r="0.5"/><circle cx="147.1" cy="189.4" r="0.5"/><circle cx="146.4" cy="193.4" r="0.5"/><circle cx="151.5" cy="189.7" r="0.5"/><circle cx="153.3" cy="189.1" r="0.5"/><circle cx="152.6" cy="194.6" r="0.5"/><circle cx="151.0" cy="201.3" r="0.5"/><circle cx="147.9" cy="192.4" r="0.5"/><circle cx="151.1" cy="196.3" r="0.5"/><circle cx="143.2" cy="194.1" r="0.5"/><circle cx="145.8" cy="195.4" r="0.5"/><circle cx="154.9" cy="193.2" r="0.5"/><circle cx="148.5" cy="193.7" r="0.5"/><circle cx="136.2" cy="196.0" r="0.5"/><circle cx="151.4" cy="193.6" r="0.5"/><circle cx="147.3" cy="190.2" r="0.5"/><circle cx="148.2" cy="197.7" r="0.5"/><circle cx="148.6" cy="198.2" r="0.5"/><circle cx="137.9" cy="191.2" r="0.5"/><circle cx="150.2" cy="192.9" r="0.5"/><circle cx="141.8" cy="190.4" r="0.5"/><circle cx="154.4" cy="188.0" r="0.5"/><circle cx="144.7" cy="188.8" r="0.5"/><circle cx="146.6" cy="195.5" r="0.5"/><circle cx="151.6" cy="185.2" r="0.5"/><circle cx="155.3" cy="190.7" r="0.5"/><circle cx="146.5" cy="199.4" r="0.5"/><circle cx="148.6" cy="188.2" r="0.5"/><circle cx="146.2" cy="190.2" r="0.5"/><circle cx="144.6" cy="191.7" r="0.5"/><circle cx="152.8" cy="194.3" r="0.5"/><circle cx="143.0" cy="203.7" r="0.5"/><circle cx="144.7" cy="193.4" r="0.5"/><circle cx="149.1" cy="195.9" r="0.5"/><circle cx="147.6" cy="194.8" r="0.5"/><circle cx="158.1" cy="193.4" r="0.5"/><circle cx="144.3" cy="194.3" r="0.5"/><circle cx="145.5" cy="191.6" r="0.5"/><circle cx="149.8" cy="194.3" r="0.5"/><circle cx="147.8" cy="196.3" r="0.5"/><circle cx="148.2" cy="188.0" r="0.5"/><circle cx="152.8" cy="191.6" r="0.5"/><circle cx="154.2" cy="190.5" r="0.5"/><circle cx="151.5" cy="194.2" r="0.5"/><circle cx="137.3" cy="187.3" r="0.5"/><circle cx="144.2" cy="198.4" r="0.5"/><circle cx="140.8" cy="196.5" r="0.5"/><circle cx="153.7" cy="194.9" r="0.5"/><circle cx="151.9" cy="191.1" r="0.5"/><circle cx="149.0" cy="193.9" r="0.5"/><circle cx="150.8" cy="195.7" r="0.5"/><circle cx="148.1" cy="190.3" r="0.5"/><circle cx="146.6" cy="194.6" r="0.5"/><circle cx="141.8" cy="188.2" r="0.5"/><circle cx="147.2" cy="190.9" r="0.5"/><circle cx="147.8" cy="182.8" r="0.5"/><circle cx="147.5" cy="192.0" r="0.5"/><circle cx="152.4" cy="185.4" r="0.5"/><circle cx="147.7" cy="194.8" r="0.5"/><circle cx="151.1" cy="197.6" r="0.5"/><circle cx="153.6" cy="189.0" r="0.5"/><circle cx="151.8" cy="191.7" r="0.5"/><circle cx="145.5" cy="198.9" r="0.5"/><circle cx="146.3" cy="189.7" r="0.5"/><circle cx="147.2" cy="189.7" r="0.5"/><circle cx="153.4" cy="194.5" r="0.5"/><circle cx="155.1" cy="194.6" r="0.5"/><circle cx="146.3" cy="197.0" r="0.5"/><circle cx="146.2" cy="191.2" r="0.5"/><circle cx="148.3" cy="193.2" r="0.5"/><circle cx="154.2" cy="190.7" r="0.5"/><circle cx="150.5" cy="192.9" r="0.5"/><circle cx="143.6" cy="188.8" r="0.5"/><circle cx="148.0" cy="194.6" r="0.5"/><circle cx="150.4" cy="194.8" r="0.5"/><circle cx="149.2" cy="191.3" r="0.5"/><circle cx="150.8" cy="189.1" r="0.5"/><circle cx="143.2" cy="191.7" r="0.5"/><circle cx="142.8" cy="191.0" r="0.5"/><circle cx="145.8" cy="190.9" r="0.5"/><circle cx="148.8" cy="189.9" r="0.5"/><circle cx="147.2" cy="186.4" r="0.5"/><circle cx="149.6" cy="189.6" r="0.5"/><circle cx="150.8" cy="182.1" r="0.5"/><circle cx="145.5" cy="193.9" r="0.5"/><circle cx="138.4" cy="191.6" r="0.5"/><circle cx="149.4" cy="193.4" r="0.5"/><circle cx="142.5" cy="193.9" r="0.5"/><circle cx="149.6" cy="189.2" r="0.5"/><circle cx="152.2" cy="192.8" r="0.5"/><circle cx="149.1" cy="191.3" r="0.5"/><circle cx="151.4" cy="193.4" r="0.5"/><circle cx="153.9" cy="194.7" r="0.5"/><circle cx="146.3" cy="192.1" r="0.5"/><circle cx="153.0" cy="191.6" r="0.5"/><circle cx="150.7" cy="195.0" r="0.5"/><circle cx="148.2" cy="184.0" r="0.5"/><circle cx="149.6" cy="193.8" r="0.5"/><circle cx="149.6" cy="190.1" r="0.5"/><circle cx="154.3" cy="192.5" r="0.5"/><circle cx="146.3" cy="190.2" r="0.5"/><circle cx="150.6" cy="188.8" r="0.5"/><circle cx="144.6" cy="200.7" r="0.5"/><circle cx="154.7" cy="197.1" r="0.5"/><circle cx="154.9" cy="195.3" r="0.5"/><circle cx="141.7" cy="197.6" r="0.5"/><circle cx="154.4" cy="194.9" r="0.5"/><circle cx="140.5" cy="197.8" r="0.5"/><circle cx="154.9" cy="191.1" r="0.5"/><circle cx="149.6" cy="196.0" r="0.5"/><circle cx="148.6" cy="197.3" r="0.5"/><circle cx="149.4" cy="195.7" r="0.5"/><circle cx="149.4" cy="187.3" r="0.5"/><circle cx="144.7" cy="205.3" r="0.5"/><circle cx="150.2" cy="198.1" r="0.5"/><circle cx="154.0" cy="199.6" r="0.5"/><circle cx="151.4" cy="190.7" r="0.5"/><circle cx="149.1" cy="185.6" r="0.5"/><circle cx="148.2" cy="196.5" r="0.5"/><circle cx="139.6" cy="193.8" r="0.5"/><circle cx="152.6" cy="198.2" r="0.5"/><circle cx="145.0" cy="190.5" r="0.5"/><circle cx="140.8" cy="189.0" r="0.5"/><circle cx="151.3" cy="201.0" r="0.5"/><circle cx="144.0" cy="198.4" r="0.5"/><circle cx="150.9" cy="191.1" r="0.5"/><circle cx="158.6" cy="183.2" r="0.5"/><circle cx="148.7" cy="193.9" r="0.5"/><circle cx="158.3" cy="200.0" r="0.5"/><circle cx="158.9" cy="193.5" r="0.5"/><circle cx="153.3" cy="198.3" r="0.5"/><circle cx="151.2" cy="194.4" r="0.5"/><circle cx="148.2" cy="191.4" r="0.5"/><circle cx="143.6" cy="200.6" r="0.5"/><circle cx="147.0" cy="184.9" r="0.5"/><circle cx="150.2" cy="192.9" r="0.5"/><circle cx="149.8" cy="200.1" r="0.5"/><circle cx="148.5" cy="192.0" r="0.5"/><circle cx="145.7" cy="192.9" r="0.5"/><circle cx="147.1" cy="193.8" r="0.5"/><circle cx="162.7" cy="194.5" r="0.5"/><circle cx="145.3" cy="200.5" r="0.5"/><circle cx="152.8" cy="196.2" r="0.5"/><circle cx="152.1" cy="196.2" r="0.5"/><circle cx="152.0" cy="198.5" r="0.5"/><circle cx="153.4" cy="198.2" r="0.5"/><circle cx="146.8" cy="193.0" r="0.5"/></g>
<g fill="#6a80f0" opacity="0.3"><circle cx="141.3" cy="215.8" r="0.5"/><circle cx="144.4" cy="204.5" r="0.5"/><circle cx="151.4" cy="212.6" r="0.5"/><circle cx="144.5" cy="201.0" r="0.5"/><circle cx="143.3" cy="211.8" r="0.5"/><circle cx="142.9" cy="210.9" r="0.5"/><circle cx="148.0" cy="204.5" r="0.5"/><circle cx="139.1" cy="217.2" r="0.5"/><circle cx="141.9" cy="210.7" r="0.5"/><circle cx="135.9" cy="209.8" r="0.5"/><circle cx="135.6" cy="215.6" r="0.5"/><circle cx="130.2" cy="209.5" r="0.5"/><circle cx="144.0" cy="201.4" r="0.5"/><circle cx="140.2" cy="214.8" r="0.5"/><circle cx="134.9" cy="225.4" r="0.5"/><circle cx="140.4" cy="215.4" r="0.5"/><circle cx="140.7" cy="213.1" r="0.5"/><circle cx="142.5" cy="209.3" r="0.5"/><circle cx="130.2" cy="216.2" r="0.5"/><circle cx="145.5" cy="213.2" r="0.5"/><circle cx="141.0" cy="213.9" r="0.5"/><circle cx="144.0" cy="210.1" r="0.5"/><circle cx="142.4" cy="201.4" r="0.5"/><circle cx="142.7" cy="208.1" r="0.5"/><circle cx="138.4" cy="209.7" r="0.5"/><circle cx="135.9" cy="211.7" r="0.5"/><circle cx="143.7" cy="221.1" r="0.5"/><circle cx="149.5" cy="201.0" r="0.5"/><circle cx="142.7" cy="203.9" r="0.5"/><circle cx="125.0" cy="220.4" r="0.5"/><circle cx="146.4" cy="212.3" r="0.5"/><circle cx="139.2" cy="207.9" r="0.5"/><circle cx="138.3" cy="209.0" r="0.5"/><circle cx="135.3" cy="216.7" r="0.5"/><circle cx="138.1" cy="210.2" r="0.5"/><circle cx="135.7" cy="212.5" r="0.5"/><circle cx="146.7" cy="211.7" r="0.5"/><circle cx="146.9" cy="215.9" r="0.5"/><circle cx="135.6" cy="219.0" r="0.5"/><circle cx="136.5" cy="215.6" r="0.5"/><circle cx="143.9" cy="210.6" r="0.5"/><circle cx="145.5" cy="202.8" r="0.5"/><circle cx="136.1" cy="216.0" r="0.5"/><circle cx="141.5" cy="206.8" r="0.5"/><circle cx="150.3" cy="208.9" r="0.5"/><circle cx="136.7" cy="218.1" r="0.5"/><circle cx="141.4" cy="200.4" r="0.5"/><circle cx="142.3" cy="208.3" r="0.5"/><circle cx="139.2" cy="220.2" r="0.5"/><circle cx="141.7" cy="207.7" r="0.5"/><circle cx="145.6" cy="209.0" r="0.5"/><circle cx="146.9" cy="207.2" r="0.5"/><circle cx="140.7" cy="205.2" r="0.5"/><circle cx="140.5" cy="212.4" r="0.5"/><circle cx="135.4" cy="229.0" r="0.5"/><circle cx="137.6" cy="209.6" r="0.5"/><circle cx="134.7" cy="220.0" r="0.5"/><circle cx="140.6" cy="208.5" r="0.5"/><circle cx="137.9" cy="210.1" r="0.5"/><circle cx="138.5" cy="213.6" r="0.5"/><circle cx="141.0" cy="214.8" r="0.5"/><circle cx="141.7" cy="210.9" r="0.5"/><circle cx="147.1" cy="210.6" r="0.5"/><circle cx="145.2" cy="207.3" r="0.5"/><circle cx="139.2" cy="209.0" r="0.5"/><circle cx="142.3" cy="213.2" r="0.5"/><circle cx="142.0" cy="207.9" r="0.5"/><circle cx="132.2" cy="213.5" r="0.5"/><circle cx="146.1" cy="210.5" r="0.5"/><circle cx="140.1" cy="204.9" r="0.5"/><circle cx="141.6" cy="211.5" r="0.5"/><circle cx="138.9" cy="215.5" r="0.5"/><circle cx="138.9" cy="209.1" r="0.5"/><circle cx="138.7" cy="218.2" r="0.5"/><circle cx="141.2" cy="206.1" r="0.5"/><circle cx="139.9" cy="217.2" r="0.5"/><circle cx="143.8" cy="206.1" r="0.5"/><circle cx="148.2" cy="200.9" r="0.5"/><circle cx="140.2" cy="217.8" r="0.5"/><circle cx="142.1" cy="211.6" r="0.5"/><circle cx="139.5" cy="207.5" r="0.5"/><circle cx="136.3" cy="215.7" r="0.5"/><circle cx="145.5" cy="200.4" r="0.5"/><circle cx="148.5" cy="203.3" r="0.5"/><circle cx="137.8" cy="216.3" r="0.5"/><circle cx="142.1" cy="205.0" r="0.5"/><circle cx="133.6" cy="221.8" r="0.5"/><circle cx="138.3" cy="216.7" r="0.5"/><circle cx="133.3" cy="219.6" r="0.5"/><circle cx="134.6" cy="210.9" r="0.5"/><circle cx="141.4" cy="211.5" r="0.5"/><circle cx="136.5" cy="210.2" r="0.5"/><circle cx="138.4" cy="205.0" r="0.5"/><circle cx="145.6" cy="208.2" r="0.5"/><circle cx="151.6" cy="203.1" r="0.5"/><circle cx="144.2" cy="208.6" r="0.5"/><circle cx="138.7" cy="206.9" r="0.5"/><circle cx="149.8" cy="203.4" r="0.5"/><circle cx="137.8" cy="208.9" r="0.5"/><circle cx="149.9" cy="203.3" r="0.5"/><circle cx="138.6" cy="217.5" r="0.5"/><circle cx="150.2" cy="200.0" r="0.5"/><circle cx="142.7" cy="206.9" r="0.5"/><circle cx="142.0" cy="215.5" r="0.5"/><circle cx="155.8" cy="194.1" r="0.5"/><circle cx="143.5" cy="212.3" r="0.5"/><circle cx="142.6" cy="213.1" r="0.5"/><circle cx="143.0" cy="203.4" r="0.5"/><circle cx="137.1" cy="215.3" r="0.5"/><circle cx="146.4" cy="206.2" r="0.5"/><circle cx="143.8" cy="200.4" r="0.5"/><circle cx="142.5" cy="206.0" r="0.5"/><circle cx="143.3" cy="210.1" r="0.5"/><circle cx="137.2" cy="214.5" r="0.5"/><circle cx="137.6" cy="216.5" r="0.5"/><circle cx="137.0" cy="213.2" r="0.5"/><circle cx="141.3" cy="207.3" r="0.5"/><circle cx="145.4" cy="202.5" r="0.5"/><circle cx="146.4" cy="206.1" r="0.5"/><circle cx="136.9" cy="214.8" r="0.5"/><circle cx="137.4" cy="213.5" r="0.5"/><circle cx="145.5" cy="215.3" r="0.5"/><circle cx="144.3" cy="215.5" r="0.5"/><circle cx="140.6" cy="204.7" r="0.5"/><circle cx="133.7" cy="223.4" r="0.5"/><circle cx="135.2" cy="221.8" r="0.5"/><circle cx="147.5" cy="205.4" r="0.5"/><circle cx="140.4" cy="210.4" r="0.5"/><circle cx="142.3" cy="207.9" r="0.5"/><circle cx="138.7" cy="211.9" r="0.5"/><circle cx="145.5" cy="202.5" r="0.5"/><circle cx="140.7" cy="205.4" r="0.5"/><circle cx="135.3" cy="210.6" r="0.5"/><circle cx="142.9" cy="212.4" r="0.5"/><circle cx="142.1" cy="207.2" r="0.5"/><circle cx="143.8" cy="206.0" r="0.5"/><circle cx="144.3" cy="208.6" r="0.5"/><circle cx="137.9" cy="201.7" r="0.5"/><circle cx="138.3" cy="218.3" r="0.5"/><circle cx="147.4" cy="215.3" r="0.5"/><circle cx="139.5" cy="209.9" r="0.5"/><circle cx="149.9" cy="203.4" r="0.5"/><circle cx="151.6" cy="201.2" r="0.5"/><circle cx="143.0" cy="212.5" r="0.5"/><circle cx="137.4" cy="213.0" r="0.5"/><circle cx="139.0" cy="212.3" r="0.5"/><circle cx="144.1" cy="204.8" r="0.5"/><circle cx="142.1" cy="207.1" r="0.5"/><circle cx="138.7" cy="199.3" r="0.5"/><circle cx="141.5" cy="211.3" r="0.5"/><circle cx="139.9" cy="217.7" r="0.5"/><circle cx="146.3" cy="211.6" r="0.5"/><circle cx="147.8" cy="206.3" r="0.5"/><circle cx="138.5" cy="208.3" r="0.5"/><circle cx="139.9" cy="210.0" r="0.5"/><circle cx="141.9" cy="207.6" r="0.5"/><circle cx="151.1" cy="190.6" r="0.5"/><circle cx="145.9" cy="202.8" r="0.5"/><circle cx="143.3" cy="213.2" r="0.5"/><circle cx="138.9" cy="207.2" r="0.5"/><circle cx="143.3" cy="207.3" r="0.5"/><circle cx="133.6" cy="221.0" r="0.5"/><circle cx="135.5" cy="213.7" r="0.5"/><circle cx="144.9" cy="208.1" r="0.5"/><circle cx="146.4" cy="216.1" r="0.5"/><circle cx="142.2" cy="206.4" r="0.5"/><circle cx="142.7" cy="208.4" r="0.5"/><circle cx="128.3" cy="217.9" r="0.5"/><circle cx="141.3" cy="221.6" r="0.5"/><circle cx="140.5" cy="210.3" r="0.5"/><circle cx="142.1" cy="215.0" r="0.5"/><circle cx="146.5" cy="213.5" r="0.5"/><circle cx="149.7" cy="209.4" r="0.5"/><circle cx="142.5" cy="211.3" r="0.5"/><circle cx="139.7" cy="211.8" r="0.5"/><circle cx="133.0" cy="217.6" r="0.5"/><circle cx="136.2" cy="213.4" r="0.5"/><circle cx="148.0" cy="204.2" r="0.5"/><circle cx="149.5" cy="205.4" r="0.5"/><circle cx="148.6" cy="207.3" r="0.5"/><circle cx="141.4" cy="214.8" r="0.5"/><circle cx="139.2" cy="210.4" r="0.5"/><circle cx="152.8" cy="208.4" r="0.5"/><circle cx="142.2" cy="218.7" r="0.5"/><circle cx="143.4" cy="203.8" r="0.5"/><circle cx="144.1" cy="209.3" r="0.5"/><circle cx="142.7" cy="207.2" r="0.5"/><circle cx="136.5" cy="216.6" r="0.5"/><circle cx="147.8" cy="207.1" r="0.5"/><circle cx="147.7" cy="208.9" r="0.5"/><circle cx="137.6" cy="214.9" r="0.5"/><circle cx="146.1" cy="210.3" r="0.5"/><circle cx="144.0" cy="210.2" r="0.5"/><circle cx="148.0" cy="213.8" r="0.5"/><circle cx="132.5" cy="221.1" r="0.5"/><circle cx="153.3" cy="197.6" r="0.5"/><circle cx="134.4" cy="219.7" r="0.5"/><circle cx="134.0" cy="215.8" r="0.5"/><circle cx="147.4" cy="212.5" r="0.5"/><circle cx="145.7" cy="209.0" r="0.5"/><circle cx="146.9" cy="205.1" r="0.5"/><circle cx="138.0" cy="214.1" r="0.5"/><circle cx="142.7" cy="207.6" r="0.5"/><circle cx="138.2" cy="212.6" r="0.5"/><circle cx="132.8" cy="215.4" r="0.5"/><circle cx="140.7" cy="209.6" r="0.5"/><circle cx="145.8" cy="212.7" r="0.5"/><circle cx="143.2" cy="208.3" r="0.5"/><circle cx="134.1" cy="213.6" r="0.5"/><circle cx="141.4" cy="206.1" r="0.5"/><circle cx="141.1" cy="205.4" r="0.5"/><circle cx="142.4" cy="209.0" r="0.5"/><circle cx="145.3" cy="203.9" r="0.5"/><circle cx="141.0" cy="212.4" r="0.5"/><circle cx="146.6" cy="213.3" r="0.5"/><circle cx="139.5" cy="210.1" r="0.5"/><circle cx="141.8" cy="212.6" r="0.5"/><circle cx="144.8" cy="210.2" r="0.5"/><circle cx="142.4" cy="222.4" r="0.5"/><circle cx="149.9" cy="200.3" r="0.5"/><circle cx="137.2" cy="216.5" r="0.5"/><circle cx="138.0" cy="202.9" r="0.5"/><circle cx="138.2" cy="206.6" r="0.5"/><circle cx="147.5" cy="210.5" r="0.5"/><circle cx="142.6" cy="201.3" r="0.5"/><circle cx="150.3" cy="204.7" r="0.5"/><circle cx="141.7" cy="212.8" r="0.5"/><circle cx="147.7" cy="201.4" r="0.5"/><circle cx="140.5" cy="208.8" r="0.5"/><circle cx="141.5" cy="199.3" r="0.5"/><circle cx="145.7" cy="200.5" r="0.5"/><circle cx="141.8" cy="201.6" r="0.5"/><circle cx="136.4" cy="213.4" r="0.5"/><circle cx="141.4" cy="202.1" r="0.5"/><circle cx="143.0" cy="205.4" r="0.5"/><circle cx="146.6" cy="202.8" r="0.5"/><circle cx="143.7" cy="207.0" r="0.5"/><circle cx="148.8" cy="199.9" r="0.5"/><circle cx="147.0" cy="214.3" r="0.5"/><circle cx="144.1" cy="211.0" r="0.5"/><circle cx="139.3" cy="214.1" r="0.5"/><circle cx="132.5" cy="221.8" r="0.5"/><circle cx="135.3" cy="210.0" r="0.5"/><circle cx="138.8" cy="219.7" r="0.5"/><circle cx="139.9" cy="204.4" r="0.5"/><circle cx="148.1" cy="199.0" r="0.5"/><circle cx="141.0" cy="212.3" r="0.5"/><circle cx="132.9" cy="212.3" r="0.5"/><circle cx="141.8" cy="216.3" r="0.5"/><circle cx="142.0" cy="201.6" r="0.5"/><circle cx="147.3" cy="203.8" r="0.5"/><circle cx="144.3" cy="207.4" r="0.5"/><circle cx="141.2" cy="205.6" r="0.5"/><circle cx="136.2" cy="213.1" r="0.5"/><circle cx="142.0" cy="213.1" r="0.5"/><circle cx="140.8" cy="219.6" r="0.5"/><circle cx="137.7" cy="211.9" r="0.5"/><circle cx="146.2" cy="207.2" r="0.5"/><circle cx="137.8" cy="209.3" r="0.5"/><circle cx="133.5" cy="211.6" r="0.5"/><circle cx="149.7" cy="206.3" r="0.5"/><circle cx="151.4" cy="201.3" r="0.5"/><circle cx="145.4" cy="209.8" r="0.5"/><circle cx="145.5" cy="204.4" r="0.5"/><circle cx="149.1" cy="212.7" r="0.5"/><circle cx="131.0" cy="215.6" r="0.5"/><circle cx="139.8" cy="216.5" r="0.5"/><circle cx="146.3" cy="203.0" r="0.5"/><circle cx="144.8" cy="206.3" r="0.5"/><circle cx="141.9" cy="207.2" r="0.5"/><circle cx="141.9" cy="210.0" r="0.5"/><circle cx="152.7" cy="208.9" r="0.5"/><circle cx="135.5" cy="220.4" r="0.5"/><circle cx="144.5" cy="212.0" r="0.5"/><circle cx="148.6" cy="206.1" r="0.5"/><circle cx="143.1" cy="203.7" r="0.5"/><circle cx="138.9" cy="222.3" r="0.5"/><circle cx="144.8" cy="201.6" r="0.5"/><circle cx="149.3" cy="204.7" r="0.5"/><circle cx="133.7" cy="224.5" r="0.5"/><circle cx="140.7" cy="217.5" r="0.5"/><circle cx="137.1" cy="211.8" r="0.5"/><circle cx="134.7" cy="217.4" r="0.5"/><circle cx="144.7" cy="203.2" r="0.5"/><circle cx="139.5" cy="224.2" r="0.5"/><circle cx="151.8" cy="201.9" r="0.5"/><circle cx="136.5" cy="210.1" r="0.5"/><circle cx="136.3" cy="219.6" r="0.5"/><circle cx="144.9" cy="200.9" r="0.5"/><circle cx="141.3" cy="209.3" r="0.5"/><circle cx="142.2" cy="212.3" r="0.5"/><circle cx="149.4" cy="197.7" r="0.5"/><circle cx="148.5" cy="207.9" r="0.5"/><circle cx="140.4" cy="211.0" r="0.5"/><circle cx="139.0" cy="219.2" r="0.5"/><circle cx="138.0" cy="211.2" r="0.5"/><circle cx="140.1" cy="207.7" r="0.5"/><circle cx="136.7" cy="214.6" r="0.5"/><circle cx="147.9" cy="201.8" r="0.5"/><circle cx="140.5" cy="204.0" r="0.5"/><circle cx="138.3" cy="223.9" r="0.5"/><circle cx="136.3" cy="208.6" r="0.5"/><circle cx="143.1" cy="211.8" r="0.5"/><circle cx="132.2" cy="216.9" r="0.5"/><circle cx="140.7" cy="206.6" r="0.5"/><circle cx="147.9" cy="207.9" r="0.5"/><circle cx="142.8" cy="206.7" r="0.5"/><circle cx="140.2" cy="208.8" r="0.5"/><circle cx="142.3" cy="211.3" r="0.5"/><circle cx="143.2" cy="213.6" r="0.5"/><circle cx="151.8" cy="195.3" r="0.5"/><circle cx="145.6" cy="209.9" r="0.5"/><circle cx="144.2" cy="206.0" r="0.5"/><circle cx="142.5" cy="214.6" r="0.5"/><circle cx="146.0" cy="207.8" r="0.5"/><circle cx="140.1" cy="215.4" r="0.5"/><circle cx="145.0" cy="205.4" r="0.5"/><circle cx="150.4" cy="211.3" r="0.5"/><circle cx="135.4" cy="220.9" r="0.5"/><circle cx="133.4" cy="213.0" r="0.5"/></g>
<ellipse cx="142.0" cy="209.9" rx="10" ry="6" fill="#b8c4fa" opacity="0.35" transform="rotate(-50 142.0 209.9)"/>
<ellipse cx="142.00" cy="209.90" rx="8.20" ry="4.80" fill="url(#gHot)" transform="rotate(-50 142.00 209.90)"/>
<g fill="#6a80f0" opacity="0.25"><circle cx="205.0" cy="195.1" r="0.5"/><circle cx="206.2" cy="188.5" r="0.5"/><circle cx="199.7" cy="190.8" r="0.5"/><circle cx="206.1" cy="189.8" r="0.5"/><circle cx="199.5" cy="199.8" r="0.5"/><circle cx="202.4" cy="192.4" r="0.5"/><circle cx="203.6" cy="190.7" r="0.5"/><circle cx="206.2" cy="191.8" r="0.5"/><circle cx="208.7" cy="188.4" r="0.5"/><circle cx="199.5" cy="200.5" r="0.5"/><circle cx="205.7" cy="196.0" r="0.5"/><circle cx="211.1" cy="195.1" r="0.5"/><circle cx="206.2" cy="187.0" r="0.5"/><circle cx="199.0" cy="196.8" r="0.5"/><circle cx="208.9" cy="195.2" r="0.5"/><circle cx="198.8" cy="184.7" r="0.5"/><circle cx="201.4" cy="188.4" r="0.5"/><circle cx="206.7" cy="189.0" r="0.5"/><circle cx="212.9" cy="190.6" r="0.5"/><circle cx="203.6" cy="196.3" r="0.5"/><circle cx="207.4" cy="189.5" r="0.5"/><circle cx="209.6" cy="200.5" r="0.5"/><circle cx="200.6" cy="192.0" r="0.5"/><circle cx="201.3" cy="185.5" r="0.5"/><circle cx="208.7" cy="195.7" r="0.5"/><circle cx="210.3" cy="194.7" r="0.5"/><circle cx="197.2" cy="192.9" r="0.5"/><circle cx="203.1" cy="188.4" r="0.5"/><circle cx="201.2" cy="196.0" r="0.5"/><circle cx="204.7" cy="200.6" r="0.5"/><circle cx="208.1" cy="185.6" r="0.5"/><circle cx="209.9" cy="197.9" r="0.5"/><circle cx="206.1" cy="188.3" r="0.5"/><circle cx="213.7" cy="187.9" r="0.5"/><circle cx="205.6" cy="185.6" r="0.5"/><circle cx="200.5" cy="186.4" r="0.5"/><circle cx="210.8" cy="197.6" r="0.5"/><circle cx="204.2" cy="187.7" r="0.5"/><circle cx="205.7" cy="194.5" r="0.5"/><circle cx="199.3" cy="188.5" r="0.5"/><circle cx="205.6" cy="195.7" r="0.5"/><circle cx="206.3" cy="194.8" r="0.5"/><circle cx="200.5" cy="183.3" r="0.5"/><circle cx="207.4" cy="189.4" r="0.5"/><circle cx="205.5" cy="191.5" r="0.5"/><circle cx="208.1" cy="190.0" r="0.5"/><circle cx="212.3" cy="193.1" r="0.5"/><circle cx="208.3" cy="195.5" r="0.5"/><circle cx="210.6" cy="194.6" r="0.5"/><circle cx="198.3" cy="190.5" r="0.5"/><circle cx="214.2" cy="194.8" r="0.5"/><circle cx="208.5" cy="194.8" r="0.5"/><circle cx="203.2" cy="190.4" r="0.5"/><circle cx="203.2" cy="197.5" r="0.5"/><circle cx="207.6" cy="200.0" r="0.5"/><circle cx="208.2" cy="200.4" r="0.5"/><circle cx="208.0" cy="188.4" r="0.5"/><circle cx="213.7" cy="194.3" r="0.5"/><circle cx="211.2" cy="193.8" r="0.5"/><circle cx="204.6" cy="193.7" r="0.5"/><circle cx="201.1" cy="188.3" r="0.5"/><circle cx="202.1" cy="190.9" r="0.5"/><circle cx="200.0" cy="192.6" r="0.5"/><circle cx="207.3" cy="201.0" r="0.5"/><circle cx="214.1" cy="192.8" r="0.5"/><circle cx="209.9" cy="192.1" r="0.5"/><circle cx="207.7" cy="192.9" r="0.5"/><circle cx="203.6" cy="193.3" r="0.5"/><circle cx="199.5" cy="194.7" r="0.5"/><circle cx="204.7" cy="188.7" r="0.5"/><circle cx="204.4" cy="195.2" r="0.5"/><circle cx="203.0" cy="194.9" r="0.5"/><circle cx="208.5" cy="199.1" r="0.5"/><circle cx="201.2" cy="192.6" r="0.5"/><circle cx="208.3" cy="198.9" r="0.5"/><circle cx="207.2" cy="196.0" r="0.5"/><circle cx="199.5" cy="190.7" r="0.5"/><circle cx="213.4" cy="191.9" r="0.5"/><circle cx="215.6" cy="190.1" r="0.5"/><circle cx="204.8" cy="186.7" r="0.5"/><circle cx="208.8" cy="194.0" r="0.5"/><circle cx="215.0" cy="193.7" r="0.5"/><circle cx="204.9" cy="187.4" r="0.5"/><circle cx="205.6" cy="196.7" r="0.5"/><circle cx="209.3" cy="197.8" r="0.5"/><circle cx="209.8" cy="192.8" r="0.5"/><circle cx="208.7" cy="193.7" r="0.5"/><circle cx="200.1" cy="199.8" r="0.5"/><circle cx="207.7" cy="188.8" r="0.5"/><circle cx="207.7" cy="194.1" r="0.5"/><circle cx="210.4" cy="198.7" r="0.5"/><circle cx="192.5" cy="195.2" r="0.5"/><circle cx="212.8" cy="189.3" r="0.5"/><circle cx="197.7" cy="194.1" r="0.5"/><circle cx="207.5" cy="194.4" r="0.5"/><circle cx="201.1" cy="191.2" r="0.5"/><circle cx="206.9" cy="195.9" r="0.5"/><circle cx="215.8" cy="194.2" r="0.5"/><circle cx="203.3" cy="183.7" r="0.5"/><circle cx="210.8" cy="192.5" r="0.5"/><circle cx="205.5" cy="189.1" r="0.5"/><circle cx="209.3" cy="185.9" r="0.5"/><circle cx="206.5" cy="193.5" r="0.5"/><circle cx="207.3" cy="198.2" r="0.5"/><circle cx="205.6" cy="193.4" r="0.5"/><circle cx="209.8" cy="186.9" r="0.5"/><circle cx="204.7" cy="193.3" r="0.5"/><circle cx="210.3" cy="189.8" r="0.5"/><circle cx="209.6" cy="194.5" r="0.5"/><circle cx="199.4" cy="187.1" r="0.5"/><circle cx="199.6" cy="193.6" r="0.5"/><circle cx="206.9" cy="195.9" r="0.5"/><circle cx="209.7" cy="190.8" r="0.5"/><circle cx="210.8" cy="196.3" r="0.5"/><circle cx="208.1" cy="194.9" r="0.5"/><circle cx="200.3" cy="194.4" r="0.5"/><circle cx="201.4" cy="188.3" r="0.5"/><circle cx="204.4" cy="193.6" r="0.5"/><circle cx="205.8" cy="191.7" r="0.5"/><circle cx="201.5" cy="193.7" r="0.5"/><circle cx="202.7" cy="187.4" r="0.5"/><circle cx="206.4" cy="198.8" r="0.5"/><circle cx="204.2" cy="188.8" r="0.5"/><circle cx="212.2" cy="199.8" r="0.5"/><circle cx="204.7" cy="192.2" r="0.5"/><circle cx="206.9" cy="204.7" r="0.5"/><circle cx="206.6" cy="197.0" r="0.5"/><circle cx="208.0" cy="185.8" r="0.5"/><circle cx="201.1" cy="188.1" r="0.5"/><circle cx="207.9" cy="193.4" r="0.5"/><circle cx="214.0" cy="191.9" r="0.5"/><circle cx="207.4" cy="193.3" r="0.5"/><circle cx="206.6" cy="202.2" r="0.5"/><circle cx="207.3" cy="198.9" r="0.5"/><circle cx="211.8" cy="190.6" r="0.5"/><circle cx="209.1" cy="191.5" r="0.5"/><circle cx="206.5" cy="193.6" r="0.5"/><circle cx="206.1" cy="191.1" r="0.5"/><circle cx="213.0" cy="191.9" r="0.5"/><circle cx="209.2" cy="199.7" r="0.5"/><circle cx="208.8" cy="197.1" r="0.5"/><circle cx="212.2" cy="197.3" r="0.5"/><circle cx="213.7" cy="187.3" r="0.5"/><circle cx="214.8" cy="193.1" r="0.5"/><circle cx="198.2" cy="190.4" r="0.5"/><circle cx="199.7" cy="192.9" r="0.5"/><circle cx="199.3" cy="189.0" r="0.5"/><circle cx="207.3" cy="193.6" r="0.5"/><circle cx="202.4" cy="192.1" r="0.5"/><circle cx="205.6" cy="193.3" r="0.5"/><circle cx="206.0" cy="192.1" r="0.5"/><circle cx="209.9" cy="186.6" r="0.5"/><circle cx="203.8" cy="193.5" r="0.5"/><circle cx="204.2" cy="190.8" r="0.5"/><circle cx="204.0" cy="193.8" r="0.5"/><circle cx="211.6" cy="192.3" r="0.5"/><circle cx="204.8" cy="194.4" r="0.5"/><circle cx="204.9" cy="185.3" r="0.5"/><circle cx="207.2" cy="191.5" r="0.5"/><circle cx="203.4" cy="195.5" r="0.5"/><circle cx="206.2" cy="190.7" r="0.5"/><circle cx="196.2" cy="186.1" r="0.5"/><circle cx="206.1" cy="192.5" r="0.5"/><circle cx="208.0" cy="193.9" r="0.5"/><circle cx="203.8" cy="187.9" r="0.5"/><circle cx="201.1" cy="192.4" r="0.5"/><circle cx="200.8" cy="196.0" r="0.5"/><circle cx="200.0" cy="185.8" r="0.5"/><circle cx="205.1" cy="185.9" r="0.5"/><circle cx="213.3" cy="189.0" r="0.5"/><circle cx="205.8" cy="192.0" r="0.5"/><circle cx="202.3" cy="185.9" r="0.5"/><circle cx="197.6" cy="196.5" r="0.5"/><circle cx="210.6" cy="201.7" r="0.5"/><circle cx="199.4" cy="195.2" r="0.5"/><circle cx="205.9" cy="196.4" r="0.5"/><circle cx="203.7" cy="195.9" r="0.5"/><circle cx="210.0" cy="195.4" r="0.5"/><circle cx="212.5" cy="192.3" r="0.5"/><circle cx="212.9" cy="190.2" r="0.5"/><circle cx="213.5" cy="182.0" r="0.5"/><circle cx="206.1" cy="189.8" r="0.5"/><circle cx="206.0" cy="197.1" r="0.5"/><circle cx="209.2" cy="193.4" r="0.5"/><circle cx="213.7" cy="187.1" r="0.5"/><circle cx="202.3" cy="199.0" r="0.5"/><circle cx="207.5" cy="184.7" r="0.5"/><circle cx="207.5" cy="188.3" r="0.5"/><circle cx="212.6" cy="197.6" r="0.5"/><circle cx="203.5" cy="198.2" r="0.5"/><circle cx="202.2" cy="196.7" r="0.5"/><circle cx="208.6" cy="192.5" r="0.5"/><circle cx="199.6" cy="191.9" r="0.5"/><circle cx="195.7" cy="190.7" r="0.5"/><circle cx="197.7" cy="197.9" r="0.5"/><circle cx="201.7" cy="183.3" r="0.5"/><circle cx="208.6" cy="194.5" r="0.5"/><circle cx="203.7" cy="201.5" r="0.5"/><circle cx="209.5" cy="193.3" r="0.5"/><circle cx="203.1" cy="181.2" r="0.5"/></g>
<g fill="#6a80f0" opacity="0.3"><circle cx="204.3" cy="209.5" r="0.5"/><circle cx="193.1" cy="209.9" r="0.5"/><circle cx="194.9" cy="206.4" r="0.5"/><circle cx="201.7" cy="211.6" r="0.5"/><circle cx="207.1" cy="202.4" r="0.5"/><circle cx="202.5" cy="210.5" r="0.5"/><circle cx="205.0" cy="201.7" r="0.5"/><circle cx="192.0" cy="214.7" r="0.5"/><circle cx="191.6" cy="214.6" r="0.5"/><circle cx="200.0" cy="211.3" r="0.5"/><circle cx="200.5" cy="209.2" r="0.5"/><circle cx="199.1" cy="212.8" r="0.5"/><circle cx="205.6" cy="206.9" r="0.5"/><circle cx="205.6" cy="201.2" r="0.5"/><circle cx="203.0" cy="215.1" r="0.5"/><circle cx="201.6" cy="209.8" r="0.5"/><circle cx="200.7" cy="213.9" r="0.5"/><circle cx="195.1" cy="209.8" r="0.5"/><circle cx="198.1" cy="209.2" r="0.5"/><circle cx="202.3" cy="204.6" r="0.5"/><circle cx="199.6" cy="208.7" r="0.5"/><circle cx="199.4" cy="206.7" r="0.5"/><circle cx="200.8" cy="200.8" r="0.5"/><circle cx="196.0" cy="210.4" r="0.5"/><circle cx="202.6" cy="206.5" r="0.5"/><circle cx="200.9" cy="206.6" r="0.5"/><circle cx="193.4" cy="211.2" r="0.5"/><circle cx="196.7" cy="210.5" r="0.5"/><circle cx="201.8" cy="209.2" r="0.5"/><circle cx="203.7" cy="204.4" r="0.5"/><circle cx="193.4" cy="211.5" r="0.5"/><circle cx="200.8" cy="210.4" r="0.5"/><circle cx="208.9" cy="199.9" r="0.5"/><circle cx="212.5" cy="204.7" r="0.5"/><circle cx="198.1" cy="218.2" r="0.5"/><circle cx="208.3" cy="206.8" r="0.5"/><circle cx="202.1" cy="212.1" r="0.5"/><circle cx="197.2" cy="212.3" r="0.5"/><circle cx="204.5" cy="213.8" r="0.5"/><circle cx="201.2" cy="213.2" r="0.5"/><circle cx="198.0" cy="208.0" r="0.5"/><circle cx="202.5" cy="210.1" r="0.5"/><circle cx="198.1" cy="215.1" r="0.5"/><circle cx="194.0" cy="211.7" r="0.5"/><circle cx="200.0" cy="208.2" r="0.5"/><circle cx="190.8" cy="211.5" r="0.5"/><circle cx="200.4" cy="210.3" r="0.5"/><circle cx="198.0" cy="212.8" r="0.5"/><circle cx="193.8" cy="219.0" r="0.5"/><circle cx="202.2" cy="208.3" r="0.5"/><circle cx="197.1" cy="213.4" r="0.5"/><circle cx="203.1" cy="211.6" r="0.5"/><circle cx="201.5" cy="209.0" r="0.5"/><circle cx="198.7" cy="215.7" r="0.5"/><circle cx="203.6" cy="202.5" r="0.5"/><circle cx="203.3" cy="207.2" r="0.5"/><circle cx="195.9" cy="207.3" r="0.5"/><circle cx="202.5" cy="196.3" r="0.5"/><circle cx="200.0" cy="207.4" r="0.5"/><circle cx="203.6" cy="202.8" r="0.5"/><circle cx="201.4" cy="211.1" r="0.5"/><circle cx="200.3" cy="206.3" r="0.5"/><circle cx="203.7" cy="207.1" r="0.5"/><circle cx="202.7" cy="203.5" r="0.5"/><circle cx="198.3" cy="209.3" r="0.5"/><circle cx="196.5" cy="215.0" r="0.5"/><circle cx="205.2" cy="210.9" r="0.5"/><circle cx="199.2" cy="212.5" r="0.5"/><circle cx="204.4" cy="203.5" r="0.5"/><circle cx="200.2" cy="209.9" r="0.5"/><circle cx="193.9" cy="211.4" r="0.5"/><circle cx="205.1" cy="204.3" r="0.5"/><circle cx="195.9" cy="207.5" r="0.5"/><circle cx="203.3" cy="211.9" r="0.5"/><circle cx="192.1" cy="214.1" r="0.5"/><circle cx="208.4" cy="207.2" r="0.5"/><circle cx="205.1" cy="200.4" r="0.5"/><circle cx="200.3" cy="205.0" r="0.5"/><circle cx="201.0" cy="206.3" r="0.5"/><circle cx="204.1" cy="211.9" r="0.5"/><circle cx="200.5" cy="207.6" r="0.5"/><circle cx="200.6" cy="210.2" r="0.5"/><circle cx="197.9" cy="213.1" r="0.5"/><circle cx="206.4" cy="210.2" r="0.5"/><circle cx="187.2" cy="218.2" r="0.5"/><circle cx="196.4" cy="218.5" r="0.5"/><circle cx="211.0" cy="197.3" r="0.5"/><circle cx="203.2" cy="211.8" r="0.5"/><circle cx="188.2" cy="222.5" r="0.5"/><circle cx="186.1" cy="226.9" r="0.5"/><circle cx="196.0" cy="211.5" r="0.5"/><circle cx="199.6" cy="206.8" r="0.5"/><circle cx="204.6" cy="204.0" r="0.5"/><circle cx="208.1" cy="213.5" r="0.5"/><circle cx="200.1" cy="214.4" r="0.5"/><circle cx="199.2" cy="217.1" r="0.5"/><circle cx="204.3" cy="205.1" r="0.5"/><circle cx="208.3" cy="208.2" r="0.5"/><circle cx="205.8" cy="202.6" r="0.5"/><circle cx="202.3" cy="212.7" r="0.5"/><circle cx="191.4" cy="216.4" r="0.5"/><circle cx="203.3" cy="208.6" r="0.5"/><circle cx="212.6" cy="203.9" r="0.5"/><circle cx="202.2" cy="209.2" r="0.5"/><circle cx="193.2" cy="216.5" r="0.5"/><circle cx="200.2" cy="208.0" r="0.5"/><circle cx="201.5" cy="210.9" r="0.5"/><circle cx="193.9" cy="213.7" r="0.5"/><circle cx="194.7" cy="221.9" r="0.5"/><circle cx="190.4" cy="211.7" r="0.5"/><circle cx="202.5" cy="205.3" r="0.5"/><circle cx="202.9" cy="204.0" r="0.5"/><circle cx="211.0" cy="200.2" r="0.5"/><circle cx="200.6" cy="209.4" r="0.5"/><circle cx="200.8" cy="212.8" r="0.5"/><circle cx="207.4" cy="198.4" r="0.5"/><circle cx="196.3" cy="217.0" r="0.5"/><circle cx="200.4" cy="200.9" r="0.5"/><circle cx="193.9" cy="211.4" r="0.5"/><circle cx="203.4" cy="208.0" r="0.5"/><circle cx="193.4" cy="211.3" r="0.5"/><circle cx="197.2" cy="201.7" r="0.5"/><circle cx="202.1" cy="206.1" r="0.5"/><circle cx="210.8" cy="201.9" r="0.5"/><circle cx="196.3" cy="212.4" r="0.5"/><circle cx="196.4" cy="209.8" r="0.5"/><circle cx="202.5" cy="211.6" r="0.5"/><circle cx="192.3" cy="217.4" r="0.5"/><circle cx="208.2" cy="203.7" r="0.5"/><circle cx="193.9" cy="212.4" r="0.5"/><circle cx="191.6" cy="210.9" r="0.5"/><circle cx="204.9" cy="204.0" r="0.5"/><circle cx="192.7" cy="210.4" r="0.5"/><circle cx="196.5" cy="210.8" r="0.5"/><circle cx="206.0" cy="199.8" r="0.5"/><circle cx="202.9" cy="211.7" r="0.5"/><circle cx="202.1" cy="206.0" r="0.5"/><circle cx="193.6" cy="224.5" r="0.5"/><circle cx="201.1" cy="205.8" r="0.5"/><circle cx="196.7" cy="208.3" r="0.5"/><circle cx="191.7" cy="211.4" r="0.5"/><circle cx="203.2" cy="208.4" r="0.5"/><circle cx="202.4" cy="210.7" r="0.5"/><circle cx="202.3" cy="207.3" r="0.5"/><circle cx="197.3" cy="215.9" r="0.5"/><circle cx="206.5" cy="205.0" r="0.5"/><circle cx="203.9" cy="202.3" r="0.5"/><circle cx="198.6" cy="217.8" r="0.5"/><circle cx="197.7" cy="213.5" r="0.5"/><circle cx="198.8" cy="211.0" r="0.5"/><circle cx="197.0" cy="210.1" r="0.5"/><circle cx="196.7" cy="223.5" r="0.5"/><circle cx="195.4" cy="204.6" r="0.5"/><circle cx="192.6" cy="212.2" r="0.5"/><circle cx="189.6" cy="208.2" r="0.5"/><circle cx="206.5" cy="210.5" r="0.5"/><circle cx="200.5" cy="212.8" r="0.5"/><circle cx="199.0" cy="204.0" r="0.5"/><circle cx="200.5" cy="199.8" r="0.5"/><circle cx="196.1" cy="212.1" r="0.5"/><circle cx="205.5" cy="203.6" r="0.5"/><circle cx="196.9" cy="208.8" r="0.5"/><circle cx="200.1" cy="209.5" r="0.5"/><circle cx="206.5" cy="209.1" r="0.5"/><circle cx="202.9" cy="206.1" r="0.5"/><circle cx="203.1" cy="214.2" r="0.5"/><circle cx="200.4" cy="208.8" r="0.5"/><circle cx="211.6" cy="203.9" r="0.5"/><circle cx="201.8" cy="206.7" r="0.5"/><circle cx="199.6" cy="215.6" r="0.5"/><circle cx="200.1" cy="214.4" r="0.5"/><circle cx="196.4" cy="214.2" r="0.5"/><circle cx="201.8" cy="208.1" r="0.5"/><circle cx="201.6" cy="209.5" r="0.5"/><circle cx="191.7" cy="213.3" r="0.5"/><circle cx="203.7" cy="214.6" r="0.5"/><circle cx="196.6" cy="208.5" r="0.5"/><circle cx="196.8" cy="213.4" r="0.5"/><circle cx="203.3" cy="202.5" r="0.5"/><circle cx="202.6" cy="207.4" r="0.5"/><circle cx="195.6" cy="209.7" r="0.5"/><circle cx="197.0" cy="209.1" r="0.5"/><circle cx="197.3" cy="203.2" r="0.5"/><circle cx="206.5" cy="205.7" r="0.5"/><circle cx="206.1" cy="210.2" r="0.5"/><circle cx="197.8" cy="203.0" r="0.5"/><circle cx="201.0" cy="210.6" r="0.5"/><circle cx="193.6" cy="211.0" r="0.5"/><circle cx="202.8" cy="208.8" r="0.5"/><circle cx="197.1" cy="211.6" r="0.5"/><circle cx="195.9" cy="211.3" r="0.5"/><circle cx="202.2" cy="212.6" r="0.5"/><circle cx="191.6" cy="217.6" r="0.5"/><circle cx="207.5" cy="202.2" r="0.5"/><circle cx="202.5" cy="210.9" r="0.5"/><circle cx="192.0" cy="212.5" r="0.5"/><circle cx="188.5" cy="215.4" r="0.5"/><circle cx="202.9" cy="210.5" r="0.5"/><circle cx="196.0" cy="210.6" r="0.5"/><circle cx="203.0" cy="209.1" r="0.5"/><circle cx="195.7" cy="204.4" r="0.5"/><circle cx="190.6" cy="207.2" r="0.5"/><circle cx="198.4" cy="206.8" r="0.5"/><circle cx="200.7" cy="216.6" r="0.5"/><circle cx="206.7" cy="204.1" r="0.5"/><circle cx="201.3" cy="208.8" r="0.5"/><circle cx="196.9" cy="212.8" r="0.5"/><circle cx="205.7" cy="198.0" r="0.5"/><circle cx="197.1" cy="213.7" r="0.5"/><circle cx="205.7" cy="207.1" r="0.5"/><circle cx="195.0" cy="214.7" r="0.5"/><circle cx="195.2" cy="208.6" r="0.5"/><circle cx="198.7" cy="208.4" r="0.5"/><circle cx="204.8" cy="206.0" r="0.5"/><circle cx="196.4" cy="214.1" r="0.5"/><circle cx="196.4" cy="210.4" r="0.5"/><circle cx="200.2" cy="214.8" r="0.5"/><circle cx="193.3" cy="208.3" r="0.5"/><circle cx="198.3" cy="215.7" r="0.5"/><circle cx="206.3" cy="196.4" r="0.5"/><circle cx="197.2" cy="211.0" r="0.5"/><circle cx="194.5" cy="218.1" r="0.5"/><circle cx="200.1" cy="210.8" r="0.5"/><circle cx="208.7" cy="197.6" r="0.5"/><circle cx="205.2" cy="207.6" r="0.5"/><circle cx="195.3" cy="211.9" r="0.5"/><circle cx="208.3" cy="203.3" r="0.5"/><circle cx="197.4" cy="206.8" r="0.5"/><circle cx="204.8" cy="206.4" r="0.5"/><circle cx="213.1" cy="201.7" r="0.5"/><circle cx="203.8" cy="206.3" r="0.5"/><circle cx="198.4" cy="208.4" r="0.5"/><circle cx="201.6" cy="208.8" r="0.5"/><circle cx="205.3" cy="208.9" r="0.5"/><circle cx="199.6" cy="207.1" r="0.5"/><circle cx="207.2" cy="209.1" r="0.5"/><circle cx="197.0" cy="215.2" r="0.5"/><circle cx="203.4" cy="208.2" r="0.5"/><circle cx="201.6" cy="207.1" r="0.5"/><circle cx="203.6" cy="214.1" r="0.5"/><circle cx="203.5" cy="197.8" r="0.5"/><circle cx="189.6" cy="224.1" r="0.5"/><circle cx="195.3" cy="212.3" r="0.5"/><circle cx="193.6" cy="219.0" r="0.5"/><circle cx="198.0" cy="209.0" r="0.5"/><circle cx="209.9" cy="210.5" r="0.5"/><circle cx="209.1" cy="204.8" r="0.5"/><circle cx="199.5" cy="213.5" r="0.5"/><circle cx="202.5" cy="212.6" r="0.5"/><circle cx="202.1" cy="206.8" r="0.5"/><circle cx="200.1" cy="205.4" r="0.5"/><circle cx="207.0" cy="209.1" r="0.5"/><circle cx="199.5" cy="213.0" r="0.5"/><circle cx="194.8" cy="220.6" r="0.5"/><circle cx="200.8" cy="203.1" r="0.5"/><circle cx="207.5" cy="201.1" r="0.5"/><circle cx="188.5" cy="215.9" r="0.5"/><circle cx="202.7" cy="204.7" r="0.5"/><circle cx="200.4" cy="200.8" r="0.5"/><circle cx="201.7" cy="212.5" r="0.5"/><circle cx="198.4" cy="214.9" r="0.5"/><circle cx="198.9" cy="212.5" r="0.5"/><circle cx="206.8" cy="213.1" r="0.5"/><circle cx="196.2" cy="218.1" r="0.5"/><circle cx="202.4" cy="200.6" r="0.5"/><circle cx="206.0" cy="214.5" r="0.5"/><circle cx="196.5" cy="197.9" r="0.5"/><circle cx="194.1" cy="207.4" r="0.5"/><circle cx="199.0" cy="206.7" r="0.5"/><circle cx="195.0" cy="211.0" r="0.5"/><circle cx="199.7" cy="207.3" r="0.5"/><circle cx="195.1" cy="214.1" r="0.5"/><circle cx="199.1" cy="205.9" r="0.5"/><circle cx="200.1" cy="200.5" r="0.5"/><circle cx="200.4" cy="206.9" r="0.5"/><circle cx="204.8" cy="200.3" r="0.5"/><circle cx="193.2" cy="210.4" r="0.5"/><circle cx="209.9" cy="200.9" r="0.5"/><circle cx="194.0" cy="214.8" r="0.5"/><circle cx="199.4" cy="218.2" r="0.5"/><circle cx="196.1" cy="203.3" r="0.5"/><circle cx="202.9" cy="210.8" r="0.5"/><circle cx="200.8" cy="210.9" r="0.5"/><circle cx="199.7" cy="210.9" r="0.5"/><circle cx="198.7" cy="207.2" r="0.5"/><circle cx="201.6" cy="208.4" r="0.5"/><circle cx="197.7" cy="208.6" r="0.5"/><circle cx="195.8" cy="215.7" r="0.5"/><circle cx="196.9" cy="200.3" r="0.5"/><circle cx="200.8" cy="215.6" r="0.5"/><circle cx="201.7" cy="203.6" r="0.5"/><circle cx="202.9" cy="200.7" r="0.5"/><circle cx="201.2" cy="218.3" r="0.5"/><circle cx="197.1" cy="211.7" r="0.5"/><circle cx="189.8" cy="216.3" r="0.5"/><circle cx="194.1" cy="215.7" r="0.5"/><circle cx="194.3" cy="221.8" r="0.5"/><circle cx="196.5" cy="210.4" r="0.5"/><circle cx="198.8" cy="214.8" r="0.5"/><circle cx="205.2" cy="201.0" r="0.5"/><circle cx="210.9" cy="205.0" r="0.5"/><circle cx="206.3" cy="203.6" r="0.5"/><circle cx="194.8" cy="219.1" r="0.5"/><circle cx="198.3" cy="212.5" r="0.5"/><circle cx="190.6" cy="219.1" r="0.5"/><circle cx="198.2" cy="206.6" r="0.5"/><circle cx="205.3" cy="212.0" r="0.5"/><circle cx="198.8" cy="207.2" r="0.5"/><circle cx="204.4" cy="192.7" r="0.5"/><circle cx="196.6" cy="215.6" r="0.5"/><circle cx="191.0" cy="208.0" r="0.5"/><circle cx="202.9" cy="210.4" r="0.5"/><circle cx="199.9" cy="217.3" r="0.5"/><circle cx="204.9" cy="209.9" r="0.5"/><circle cx="192.9" cy="217.9" r="0.5"/><circle cx="211.9" cy="206.0" r="0.5"/><circle cx="205.4" cy="203.0" r="0.5"/><circle cx="198.8" cy="207.6" r="0.5"/><circle cx="202.6" cy="202.6" r="0.5"/><circle cx="194.8" cy="204.7" r="0.5"/></g>
<ellipse cx="199.6" cy="209.9" rx="10" ry="6" fill="#b8c4fa" opacity="0.35" transform="rotate(-50 199.6 209.9)"/>
<ellipse cx="199.60" cy="209.90" rx="8.20" ry="4.80" fill="url(#gHot)" transform="rotate(-50 199.60 209.90)"/>
<line x1="35.70" y1="172.00" x2="35.70" y2="224.00" stroke="#4a4a4a" stroke-width="0.6"/>
<line x1="20.20" y1="201.20" x2="65.20" y2="201.20" stroke="#4a4a4a" stroke-width="0.6"/>
<line x1="20.20" y1="172.00" x2="20.20" y2="224.00" stroke="#111" stroke-width="0.6"/>
<line x1="18.80" y1="173.56" x2="20.40" y2="173.56" stroke="#111" stroke-width="0.6"/>
<line x1="19.50" y1="173.56" x2="19.50" y2="175.76" stroke="#222" stroke-width="0.45"/>
<text x="18.50" y="174.76" font-size="3.2" text-anchor="end" font-weight="bold" fill="#222" stroke="#222" stroke-width="0.1" font-family="'Liberation Serif',serif">10<tspan font-size="2.3" dy="-1.3">5</tspan></text>
<line x1="18.80" y1="182.40" x2="20.40" y2="182.40" stroke="#111" stroke-width="0.6"/>
<line x1="19.50" y1="182.40" x2="19.50" y2="184.60" stroke="#222" stroke-width="0.45"/>
<text x="18.50" y="183.60" font-size="3.2" text-anchor="end" font-weight="bold" fill="#222" stroke="#222" stroke-width="0.1" font-family="'Liberation Serif',serif">10<tspan font-size="2.3" dy="-1.3">4</tspan></text>
<line x1="18.80" y1="192.80" x2="20.40" y2="192.80" stroke="#111" stroke-width="0.6"/>
<line x1="19.50" y1="192.80" x2="19.50" y2="195.00" stroke="#222" stroke-width="0.45"/>
<text x="18.50" y="194.00" font-size="3.2" text-anchor="end" font-weight="bold" fill="#222" stroke="#222" stroke-width="0.1" font-family="'Liberation Serif',serif">10<tspan font-size="2.3" dy="-1.3">3</tspan></text>
<line x1="18.80" y1="201.64" x2="20.40" y2="201.64" stroke="#111" stroke-width="0.6"/>
<line x1="19.50" y1="201.64" x2="19.50" y2="203.84" stroke="#222" stroke-width="0.45"/>
<text x="18.50" y="202.84" font-size="3.2" text-anchor="end" font-weight="bold" fill="#222" stroke="#222" stroke-width="0.1" font-family="'Liberation Serif',serif">10<tspan font-size="2.3" dy="-1.3">2</tspan></text>
<line x1="18.80" y1="211.26" x2="20.40" y2="211.26" stroke="#111" stroke-width="0.6"/>
<line x1="19.50" y1="211.26" x2="19.50" y2="213.46" stroke="#222" stroke-width="0.45"/>
<text x="18.50" y="212.46" font-size="3.2" text-anchor="end" font-weight="bold" fill="#222" stroke="#222" stroke-width="0.1" font-family="'Liberation Serif',serif">10<tspan font-size="2.3" dy="-1.3">1</tspan></text>
<line x1="18.80" y1="220.88" x2="20.40" y2="220.88" stroke="#111" stroke-width="0.6"/>
<line x1="19.50" y1="220.88" x2="19.50" y2="223.08" stroke="#222" stroke-width="0.45"/>
<text x="18.50" y="222.08" font-size="3.2" text-anchor="end" font-weight="bold" fill="#222" stroke="#222" stroke-width="0.1" font-family="'Liberation Serif',serif">10<tspan font-size="2.3" dy="-1.3">0</tspan></text>
<line x1="20.20" y1="224.00" x2="65.20" y2="224.00" stroke="#111" stroke-width="0.5"/>
<line x1="21.05" y1="224.40" x2="22.85" y2="224.40" stroke="#111" stroke-width="0.8"/>
<line x1="22.45" y1="224.00" x2="22.45" y2="225.60" stroke="#111" stroke-width="0.6"/>
<line x1="28.70" y1="224.40" x2="30.50" y2="224.40" stroke="#111" stroke-width="0.8"/>
<line x1="30.10" y1="224.00" x2="30.10" y2="225.60" stroke="#111" stroke-width="0.6"/>
<line x1="35.00" y1="224.40" x2="36.80" y2="224.40" stroke="#111" stroke-width="0.8"/>
<line x1="36.40" y1="224.00" x2="36.40" y2="225.60" stroke="#111" stroke-width="0.6"/>
<line x1="41.30" y1="224.40" x2="43.10" y2="224.40" stroke="#111" stroke-width="0.8"/>
<line x1="42.70" y1="224.00" x2="42.70" y2="225.60" stroke="#111" stroke-width="0.6"/>
<line x1="48.05" y1="224.40" x2="49.85" y2="224.40" stroke="#111" stroke-width="0.8"/>
<line x1="49.45" y1="224.00" x2="49.45" y2="225.60" stroke="#111" stroke-width="0.6"/>
<line x1="54.80" y1="224.40" x2="56.60" y2="224.40" stroke="#111" stroke-width="0.8"/>
<line x1="56.20" y1="224.00" x2="56.20" y2="225.60" stroke="#111" stroke-width="0.6"/>
<line x1="61.55" y1="224.40" x2="63.35" y2="224.40" stroke="#111" stroke-width="0.8"/>
<line x1="62.95" y1="224.00" x2="62.95" y2="225.60" stroke="#111" stroke-width="0.6"/>
<text x="27.85" y="230.00" font-size="3.2" text-anchor="middle" font-weight="bold" fill="#222" stroke="#222" stroke-width="0.1" font-family="'Liberation Serif',serif">10<tspan font-size="2.3" dy="-1.3">1</tspan></text>
<text x="40.00" y="230.00" font-size="3.2" text-anchor="middle" font-weight="bold" fill="#222" stroke="#222" stroke-width="0.1" font-family="'Liberation Serif',serif">10<tspan font-size="2.3" dy="-1.3">3</tspan></text>
<text x="56.20" y="230.00" font-size="3.2" text-anchor="middle" font-weight="bold" fill="#222" stroke="#222" stroke-width="0.1" font-family="'Liberation Serif',serif">10<tspan font-size="2.3" dy="-1.3">5</tspan></text>
<text x="22.30" y="175.20" font-size="3.1" text-anchor="start" font-weight="bold" fill="#222" font-family="'Liberation Serif',serif" stroke="#222" stroke-width="0.12">Q1</text>
<text x="22.30" y="178.90" font-size="3.1" text-anchor="start" font-weight="bold" fill="#222" font-family="'Liberation Serif',serif" stroke="#222" stroke-width="0.12">0.84</text>
<text x="61.70" y="175.20" font-size="3.1" text-anchor="middle" font-weight="bold" fill="#222" font-family="'Liberation Serif',serif" stroke="#222" stroke-width="0.12">Q2</text>
<text x="61.70" y="178.90" font-size="3.1" text-anchor="middle" font-weight="bold" fill="#222" font-family="'Liberation Serif',serif" stroke="#222" stroke-width="0.12">10.7</text>
<text x="22.30" y="218.20" font-size="3.1" text-anchor="start" font-weight="bold" fill="#222" font-family="'Liberation Serif',serif" stroke="#222" stroke-width="0.12">Q4</text>
<text x="22.30" y="221.80" font-size="3.1" text-anchor="start" font-weight="bold" fill="#222" font-family="'Liberation Serif',serif" stroke="#222" stroke-width="0.12">68.3</text>
<text x="61.70" y="218.20" font-size="3.1" text-anchor="middle" font-weight="bold" fill="#222" font-family="'Liberation Serif',serif" stroke="#222" stroke-width="0.12">Q3</text>
<text x="61.70" y="221.80" font-size="3.1" text-anchor="middle" font-weight="bold" fill="#222" font-family="'Liberation Serif',serif" stroke="#222" stroke-width="0.12">20.1</text>
<line x1="89.20" y1="172.00" x2="89.20" y2="223.60" stroke="#4a4a4a" stroke-width="0.6"/>
<line x1="74.10" y1="201.40" x2="119.20" y2="201.40" stroke="#4a4a4a" stroke-width="0.6"/>
<line x1="74.10" y1="172.00" x2="74.10" y2="223.60" stroke="#111" stroke-width="0.6"/>
<line x1="72.70" y1="173.55" x2="74.30" y2="173.55" stroke="#111" stroke-width="0.6"/>
<line x1="73.40" y1="173.55" x2="73.40" y2="175.75" stroke="#222" stroke-width="0.45"/>
<text x="72.40" y="174.75" font-size="3.2" text-anchor="end" font-weight="bold" fill="#222" stroke="#222" stroke-width="0.1" font-family="'Liberation Serif',serif">10<tspan font-size="2.3" dy="-1.3">5</tspan></text>
<line x1="72.70" y1="182.32" x2="74.30" y2="182.32" stroke="#111" stroke-width="0.6"/>
<line x1="73.40" y1="182.32" x2="73.40" y2="184.52" stroke="#222" stroke-width="0.45"/>
<text x="72.40" y="183.52" font-size="3.2" text-anchor="end" font-weight="bold" fill="#222" stroke="#222" stroke-width="0.1" font-family="'Liberation Serif',serif">10<tspan font-size="2.3" dy="-1.3">4</tspan></text>
<line x1="72.70" y1="192.64" x2="74.30" y2="192.64" stroke="#111" stroke-width="0.6"/>
<line x1="73.40" y1="192.64" x2="73.40" y2="194.84" stroke="#222" stroke-width="0.45"/>
<text x="72.40" y="193.84" font-size="3.2" text-anchor="end" font-weight="bold" fill="#222" stroke="#222" stroke-width="0.1" font-family="'Liberation Serif',serif">10<tspan font-size="2.3" dy="-1.3">3</tspan></text>
<line x1="72.70" y1="201.41" x2="74.30" y2="201.41" stroke="#111" stroke-width="0.6"/>
<line x1="73.40" y1="201.41" x2="73.40" y2="203.61" stroke="#222" stroke-width="0.45"/>
<text x="72.40" y="202.61" font-size="3.2" text-anchor="end" font-weight="bold" fill="#222" stroke="#222" stroke-width="0.1" font-family="'Liberation Serif',serif">10<tspan font-size="2.3" dy="-1.3">2</tspan></text>
<line x1="72.70" y1="210.96" x2="74.30" y2="210.96" stroke="#111" stroke-width="0.6"/>
<line x1="73.40" y1="210.96" x2="73.40" y2="213.16" stroke="#222" stroke-width="0.45"/>
<text x="72.40" y="212.16" font-size="3.2" text-anchor="end" font-weight="bold" fill="#222" stroke="#222" stroke-width="0.1" font-family="'Liberation Serif',serif">10<tspan font-size="2.3" dy="-1.3">1</tspan></text>
<line x1="72.70" y1="220.50" x2="74.30" y2="220.50" stroke="#111" stroke-width="0.6"/>
<line x1="73.40" y1="220.50" x2="73.40" y2="222.70" stroke="#222" stroke-width="0.45"/>
<text x="72.40" y="221.70" font-size="3.2" text-anchor="end" font-weight="bold" fill="#222" stroke="#222" stroke-width="0.1" font-family="'Liberation Serif',serif">10<tspan font-size="2.3" dy="-1.3">0</tspan></text>
<line x1="74.10" y1="223.60" x2="119.20" y2="223.60" stroke="#111" stroke-width="0.5"/>
<line x1="74.95" y1="224.00" x2="76.75" y2="224.00" stroke="#111" stroke-width="0.8"/>
<line x1="76.35" y1="223.60" x2="76.35" y2="225.20" stroke="#111" stroke-width="0.6"/>
<line x1="82.62" y1="224.00" x2="84.42" y2="224.00" stroke="#111" stroke-width="0.8"/>
<line x1="84.02" y1="223.60" x2="84.02" y2="225.20" stroke="#111" stroke-width="0.6"/>
<line x1="88.94" y1="224.00" x2="90.74" y2="224.00" stroke="#111" stroke-width="0.8"/>
<line x1="90.34" y1="223.60" x2="90.34" y2="225.20" stroke="#111" stroke-width="0.6"/>
<line x1="95.25" y1="224.00" x2="97.05" y2="224.00" stroke="#111" stroke-width="0.8"/>
<line x1="96.65" y1="223.60" x2="96.65" y2="225.20" stroke="#111" stroke-width="0.6"/>
<line x1="102.01" y1="224.00" x2="103.81" y2="224.00" stroke="#111" stroke-width="0.8"/>
<line x1="103.41" y1="223.60" x2="103.41" y2="225.20" stroke="#111" stroke-width="0.6"/>
<line x1="108.78" y1="224.00" x2="110.58" y2="224.00" stroke="#111" stroke-width="0.8"/>
<line x1="110.18" y1="223.60" x2="110.18" y2="225.20" stroke="#111" stroke-width="0.6"/>
<line x1="115.54" y1="224.00" x2="117.34" y2="224.00" stroke="#111" stroke-width="0.8"/>
<line x1="116.94" y1="223.60" x2="116.94" y2="225.20" stroke="#111" stroke-width="0.6"/>
<text x="81.77" y="229.60" font-size="3.2" text-anchor="middle" font-weight="bold" fill="#222" stroke="#222" stroke-width="0.1" font-family="'Liberation Serif',serif">10<tspan font-size="2.3" dy="-1.3">1</tspan></text>
<text x="93.94" y="229.60" font-size="3.2" text-anchor="middle" font-weight="bold" fill="#222" stroke="#222" stroke-width="0.1" font-family="'Liberation Serif',serif">10<tspan font-size="2.3" dy="-1.3">3</tspan></text>
<text x="110.18" y="229.60" font-size="3.2" text-anchor="middle" font-weight="bold" fill="#222" stroke="#222" stroke-width="0.1" font-family="'Liberation Serif',serif">10<tspan font-size="2.3" dy="-1.3">5</tspan></text>
<text x="76.20" y="175.20" font-size="3.1" text-anchor="start" font-weight="bold" fill="#222" font-family="'Liberation Serif',serif" stroke="#222" stroke-width="0.12">Q1</text>
<text x="76.20" y="178.90" font-size="3.1" text-anchor="start" font-weight="bold" fill="#222" font-family="'Liberation Serif',serif" stroke="#222" stroke-width="0.12">0.28</text>
<text x="115.70" y="175.20" font-size="3.1" text-anchor="middle" font-weight="bold" fill="#222" font-family="'Liberation Serif',serif" stroke="#222" stroke-width="0.12">Q2</text>
<text x="115.70" y="178.90" font-size="3.1" text-anchor="middle" font-weight="bold" fill="#222" font-family="'Liberation Serif',serif" stroke="#222" stroke-width="0.12">13.6</text>
<text x="76.20" y="217.80" font-size="3.1" text-anchor="start" font-weight="bold" fill="#222" font-family="'Liberation Serif',serif" stroke="#222" stroke-width="0.12">Q4</text>
<text x="76.20" y="221.40" font-size="3.1" text-anchor="start" font-weight="bold" fill="#222" font-family="'Liberation Serif',serif" stroke="#222" stroke-width="0.12">67.6</text>
<text x="115.70" y="217.80" font-size="3.1" text-anchor="middle" font-weight="bold" fill="#222" font-family="'Liberation Serif',serif" stroke="#222" stroke-width="0.12">Q3</text>
<text x="115.70" y="221.40" font-size="3.1" text-anchor="middle" font-weight="bold" fill="#222" font-family="'Liberation Serif',serif" stroke="#222" stroke-width="0.12">18.4</text>
<line x1="149.20" y1="171.60" x2="149.20" y2="223.80" stroke="#4a4a4a" stroke-width="0.6"/>
<line x1="130.60" y1="199.60" x2="178.80" y2="199.60" stroke="#4a4a4a" stroke-width="0.6"/>
<line x1="130.60" y1="171.60" x2="130.60" y2="223.80" stroke="#111" stroke-width="0.6"/>
<line x1="129.20" y1="173.17" x2="130.80" y2="173.17" stroke="#111" stroke-width="0.6"/>
<line x1="129.90" y1="173.17" x2="129.90" y2="175.37" stroke="#222" stroke-width="0.45"/>
<text x="128.90" y="174.37" font-size="3.2" text-anchor="end" font-weight="bold" fill="#222" stroke="#222" stroke-width="0.1" font-family="'Liberation Serif',serif">10<tspan font-size="2.3" dy="-1.3">5</tspan></text>
<line x1="129.20" y1="182.04" x2="130.80" y2="182.04" stroke="#111" stroke-width="0.6"/>
<line x1="129.90" y1="182.04" x2="129.90" y2="184.24" stroke="#222" stroke-width="0.45"/>
<text x="128.90" y="183.24" font-size="3.2" text-anchor="end" font-weight="bold" fill="#222" stroke="#222" stroke-width="0.1" font-family="'Liberation Serif',serif">10<tspan font-size="2.3" dy="-1.3">4</tspan></text>
<line x1="129.20" y1="192.48" x2="130.80" y2="192.48" stroke="#111" stroke-width="0.6"/>
<line x1="129.90" y1="192.48" x2="129.90" y2="194.68" stroke="#222" stroke-width="0.45"/>
<text x="128.90" y="193.68" font-size="3.2" text-anchor="end" font-weight="bold" fill="#222" stroke="#222" stroke-width="0.1" font-family="'Liberation Serif',serif">10<tspan font-size="2.3" dy="-1.3">3</tspan></text>
<line x1="129.20" y1="201.35" x2="130.80" y2="201.35" stroke="#111" stroke-width="0.6"/>
<line x1="129.90" y1="201.35" x2="129.90" y2="203.55" stroke="#222" stroke-width="0.45"/>
<text x="128.90" y="202.55" font-size="3.2" text-anchor="end" font-weight="bold" fill="#222" stroke="#222" stroke-width="0.1" font-family="'Liberation Serif',serif">10<tspan font-size="2.3" dy="-1.3">2</tspan></text>
<line x1="129.20" y1="211.01" x2="130.80" y2="211.01" stroke="#111" stroke-width="0.6"/>
<line x1="129.90" y1="211.01" x2="129.90" y2="213.21" stroke="#222" stroke-width="0.45"/>
<text x="128.90" y="212.21" font-size="3.2" text-anchor="end" font-weight="bold" fill="#222" stroke="#222" stroke-width="0.1" font-family="'Liberation Serif',serif">10<tspan font-size="2.3" dy="-1.3">1</tspan></text>
<line x1="129.20" y1="220.67" x2="130.80" y2="220.67" stroke="#111" stroke-width="0.6"/>
<line x1="129.90" y1="220.67" x2="129.90" y2="222.87" stroke="#222" stroke-width="0.45"/>
<text x="128.90" y="221.87" font-size="3.2" text-anchor="end" font-weight="bold" fill="#222" stroke="#222" stroke-width="0.1" font-family="'Liberation Serif',serif">10<tspan font-size="2.3" dy="-1.3">0</tspan></text>
<line x1="130.60" y1="223.80" x2="178.80" y2="223.80" stroke="#111" stroke-width="0.5"/>
<line x1="131.61" y1="224.20" x2="133.41" y2="224.20" stroke="#111" stroke-width="0.8"/>
<line x1="133.01" y1="223.80" x2="133.01" y2="225.40" stroke="#111" stroke-width="0.6"/>
<line x1="139.80" y1="224.20" x2="141.60" y2="224.20" stroke="#111" stroke-width="0.8"/>
<line x1="141.20" y1="223.80" x2="141.20" y2="225.40" stroke="#111" stroke-width="0.6"/>
<line x1="146.55" y1="224.20" x2="148.35" y2="224.20" stroke="#111" stroke-width="0.8"/>
<line x1="147.95" y1="223.80" x2="147.95" y2="225.40" stroke="#111" stroke-width="0.6"/>
<line x1="153.30" y1="224.20" x2="155.10" y2="224.20" stroke="#111" stroke-width="0.8"/>
<line x1="154.70" y1="223.80" x2="154.70" y2="225.40" stroke="#111" stroke-width="0.6"/>
<line x1="160.53" y1="224.20" x2="162.33" y2="224.20" stroke="#111" stroke-width="0.8"/>
<line x1="161.93" y1="223.80" x2="161.93" y2="225.40" stroke="#111" stroke-width="0.6"/>
<line x1="167.76" y1="224.20" x2="169.56" y2="224.20" stroke="#111" stroke-width="0.8"/>
<line x1="169.16" y1="223.80" x2="169.16" y2="225.40" stroke="#111" stroke-width="0.6"/>
<line x1="174.99" y1="224.20" x2="176.79" y2="224.20" stroke="#111" stroke-width="0.8"/>
<line x1="176.39" y1="223.80" x2="176.39" y2="225.40" stroke="#111" stroke-width="0.6"/>
<text x="138.79" y="229.80" font-size="3.2" text-anchor="middle" font-weight="bold" fill="#222" stroke="#222" stroke-width="0.1" font-family="'Liberation Serif',serif">10<tspan font-size="2.3" dy="-1.3">1</tspan></text>
<text x="151.81" y="229.80" font-size="3.2" text-anchor="middle" font-weight="bold" fill="#222" stroke="#222" stroke-width="0.1" font-family="'Liberation Serif',serif">10<tspan font-size="2.3" dy="-1.3">3</tspan></text>
<text x="169.16" y="229.80" font-size="3.2" text-anchor="middle" font-weight="bold" fill="#222" stroke="#222" stroke-width="0.1" font-family="'Liberation Serif',serif">10<tspan font-size="2.3" dy="-1.3">5</tspan></text>
<text x="132.70" y="174.80" font-size="3.1" text-anchor="start" font-weight="bold" fill="#222" font-family="'Liberation Serif',serif" stroke="#222" stroke-width="0.12">Q1</text>
<text x="132.70" y="178.50" font-size="3.1" text-anchor="start" font-weight="bold" fill="#222" font-family="'Liberation Serif',serif" stroke="#222" stroke-width="0.12">12.1</text>
<text x="175.30" y="174.80" font-size="3.1" text-anchor="middle" font-weight="bold" fill="#222" font-family="'Liberation Serif',serif" stroke="#222" stroke-width="0.12">Q2</text>
<text x="175.30" y="178.50" font-size="3.1" text-anchor="middle" font-weight="bold" fill="#222" font-family="'Liberation Serif',serif" stroke="#222" stroke-width="0.12">2.42</text>
<text x="132.70" y="218.00" font-size="3.1" text-anchor="start" font-weight="bold" fill="#222" font-family="'Liberation Serif',serif" stroke="#222" stroke-width="0.12">Q4</text>
<text x="132.70" y="221.60" font-size="3.1" text-anchor="start" font-weight="bold" fill="#222" font-family="'Liberation Serif',serif" stroke="#222" stroke-width="0.12">69.9</text>
<text x="175.30" y="218.00" font-size="3.1" text-anchor="middle" font-weight="bold" fill="#222" font-family="'Liberation Serif',serif" stroke="#222" stroke-width="0.12">Q3</text>
<text x="175.30" y="221.60" font-size="3.1" text-anchor="middle" font-weight="bold" fill="#222" font-family="'Liberation Serif',serif" stroke="#222" stroke-width="0.12">15.6</text>
<line x1="206.50" y1="171.40" x2="206.50" y2="224.40" stroke="#4a4a4a" stroke-width="0.6"/>
<line x1="188.20" y1="199.60" x2="236.50" y2="199.60" stroke="#4a4a4a" stroke-width="0.6"/>
<line x1="188.20" y1="171.40" x2="188.20" y2="224.40" stroke="#111" stroke-width="0.6"/>
<line x1="186.80" y1="172.99" x2="188.40" y2="172.99" stroke="#111" stroke-width="0.6"/>
<line x1="187.50" y1="172.99" x2="187.50" y2="175.19" stroke="#222" stroke-width="0.45"/>
<text x="186.50" y="174.19" font-size="3.2" text-anchor="end" font-weight="bold" fill="#222" stroke="#222" stroke-width="0.1" font-family="'Liberation Serif',serif">10<tspan font-size="2.3" dy="-1.3">5</tspan></text>
<line x1="186.80" y1="182.00" x2="188.40" y2="182.00" stroke="#111" stroke-width="0.6"/>
<line x1="187.50" y1="182.00" x2="187.50" y2="184.20" stroke="#222" stroke-width="0.45"/>
<text x="186.50" y="183.20" font-size="3.2" text-anchor="end" font-weight="bold" fill="#222" stroke="#222" stroke-width="0.1" font-family="'Liberation Serif',serif">10<tspan font-size="2.3" dy="-1.3">4</tspan></text>
<line x1="186.80" y1="192.60" x2="188.40" y2="192.60" stroke="#111" stroke-width="0.6"/>
<line x1="187.50" y1="192.60" x2="187.50" y2="194.80" stroke="#222" stroke-width="0.45"/>
<text x="186.50" y="193.80" font-size="3.2" text-anchor="end" font-weight="bold" fill="#222" stroke="#222" stroke-width="0.1" font-family="'Liberation Serif',serif">10<tspan font-size="2.3" dy="-1.3">3</tspan></text>
<line x1="186.80" y1="201.61" x2="188.40" y2="201.61" stroke="#111" stroke-width="0.6"/>
<line x1="187.50" y1="201.61" x2="187.50" y2="203.81" stroke="#222" stroke-width="0.45"/>
<text x="186.50" y="202.81" font-size="3.2" text-anchor="end" font-weight="bold" fill="#222" stroke="#222" stroke-width="0.1" font-family="'Liberation Serif',serif">10<tspan font-size="2.3" dy="-1.3">2</tspan></text>
<line x1="186.80" y1="211.42" x2="188.40" y2="211.42" stroke="#111" stroke-width="0.6"/>
<line x1="187.50" y1="211.42" x2="187.50" y2="213.62" stroke="#222" stroke-width="0.45"/>
<text x="186.50" y="212.62" font-size="3.2" text-anchor="end" font-weight="bold" fill="#222" stroke="#222" stroke-width="0.1" font-family="'Liberation Serif',serif">10<tspan font-size="2.3" dy="-1.3">1</tspan></text>
<line x1="186.80" y1="221.22" x2="188.40" y2="221.22" stroke="#111" stroke-width="0.6"/>
<line x1="187.50" y1="221.22" x2="187.50" y2="223.42" stroke="#222" stroke-width="0.45"/>
<text x="186.50" y="222.42" font-size="3.2" text-anchor="end" font-weight="bold" fill="#222" stroke="#222" stroke-width="0.1" font-family="'Liberation Serif',serif">10<tspan font-size="2.3" dy="-1.3">0</tspan></text>
<line x1="188.20" y1="224.40" x2="236.50" y2="224.40" stroke="#111" stroke-width="0.5"/>
<line x1="189.21" y1="224.80" x2="191.01" y2="224.80" stroke="#111" stroke-width="0.8"/>
<line x1="190.61" y1="224.40" x2="190.61" y2="226.00" stroke="#111" stroke-width="0.6"/>
<line x1="197.43" y1="224.80" x2="199.23" y2="224.80" stroke="#111" stroke-width="0.8"/>
<line x1="198.83" y1="224.40" x2="198.83" y2="226.00" stroke="#111" stroke-width="0.6"/>
<line x1="204.19" y1="224.80" x2="205.99" y2="224.80" stroke="#111" stroke-width="0.8"/>
<line x1="205.59" y1="224.40" x2="205.59" y2="226.00" stroke="#111" stroke-width="0.6"/>
<line x1="210.95" y1="224.80" x2="212.75" y2="224.80" stroke="#111" stroke-width="0.8"/>
<line x1="212.35" y1="224.40" x2="212.35" y2="226.00" stroke="#111" stroke-width="0.6"/>
<line x1="218.19" y1="224.80" x2="220.00" y2="224.80" stroke="#111" stroke-width="0.8"/>
<line x1="219.59" y1="224.40" x2="219.59" y2="226.00" stroke="#111" stroke-width="0.6"/>
<line x1="225.44" y1="224.80" x2="227.24" y2="224.80" stroke="#111" stroke-width="0.8"/>
<line x1="226.84" y1="224.40" x2="226.84" y2="226.00" stroke="#111" stroke-width="0.6"/>
<line x1="232.68" y1="224.80" x2="234.48" y2="224.80" stroke="#111" stroke-width="0.8"/>
<line x1="234.08" y1="224.40" x2="234.08" y2="226.00" stroke="#111" stroke-width="0.6"/>
<text x="196.41" y="230.40" font-size="3.2" text-anchor="middle" font-weight="bold" fill="#222" stroke="#222" stroke-width="0.1" font-family="'Liberation Serif',serif">10<tspan font-size="2.3" dy="-1.3">1</tspan></text>
<text x="209.45" y="230.40" font-size="3.2" text-anchor="middle" font-weight="bold" fill="#222" stroke="#222" stroke-width="0.1" font-family="'Liberation Serif',serif">10<tspan font-size="2.3" dy="-1.3">3</tspan></text>
<text x="226.84" y="230.40" font-size="3.2" text-anchor="middle" font-weight="bold" fill="#222" stroke="#222" stroke-width="0.1" font-family="'Liberation Serif',serif">10<tspan font-size="2.3" dy="-1.3">5</tspan></text>
<text x="190.30" y="174.60" font-size="3.1" text-anchor="start" font-weight="bold" fill="#222" font-family="'Liberation Serif',serif" stroke="#222" stroke-width="0.12">Q1</text>
<text x="190.30" y="178.30" font-size="3.1" text-anchor="start" font-weight="bold" fill="#222" font-family="'Liberation Serif',serif" stroke="#222" stroke-width="0.12">0.12</text>
<text x="233.00" y="174.60" font-size="3.1" text-anchor="middle" font-weight="bold" fill="#222" font-family="'Liberation Serif',serif" stroke="#222" stroke-width="0.12">Q2</text>
<text x="233.00" y="178.30" font-size="3.1" text-anchor="middle" font-weight="bold" fill="#222" font-family="'Liberation Serif',serif" stroke="#222" stroke-width="0.12">3.58</text>
<text x="190.30" y="218.60" font-size="3.1" text-anchor="start" font-weight="bold" fill="#222" font-family="'Liberation Serif',serif" stroke="#222" stroke-width="0.12">Q4</text>
<text x="190.30" y="222.20" font-size="3.1" text-anchor="start" font-weight="bold" fill="#222" font-family="'Liberation Serif',serif" stroke="#222" stroke-width="0.12">93.5</text>
<text x="233.00" y="218.60" font-size="3.1" text-anchor="middle" font-weight="bold" fill="#222" font-family="'Liberation Serif',serif" stroke="#222" stroke-width="0.12">Q3</text>
<text x="233.00" y="222.20" font-size="3.1" text-anchor="middle" font-weight="bold" fill="#222" font-family="'Liberation Serif',serif" stroke="#222" stroke-width="0.12">2.79</text>
<text x="6.00" y="199.00" font-size="3.4" text-anchor="middle" font-weight="bold" fill="#000" font-family="'Liberation Serif',serif" stroke="#000" stroke-width="0.12">PI</text>
<text x="125.50" y="236.30" font-size="3.4" text-anchor="middle" font-weight="bold" fill="#000" font-family="'Liberation Serif',serif" stroke="#000" stroke-width="0.12">Annexin V</text>
<text x="69.00" y="161.20" font-size="3.9" text-anchor="middle" font-weight="bold" fill="#000" font-family="'Liberation Serif',serif" stroke="#000" stroke-width="0.12">7721/vera RBM58-OE</text>
<text x="183.50" y="161.20" font-size="3.9" text-anchor="middle" font-weight="bold" fill="#000" font-family="'Liberation Serif',serif" stroke="#000" stroke-width="0.12">HepG2/vera RBM58-OE</text>
<line x1="22.80" y1="164.70" x2="124.40" y2="164.70" stroke="#777" stroke-width="0.7"/>
<line x1="134.90" y1="164.70" x2="236.50" y2="164.70" stroke="#777" stroke-width="0.7"/>
<text x="42.00" y="168.40" font-size="3.7" text-anchor="middle" font-weight="bold" fill="#000" font-family="'Liberation Serif',serif" stroke="#000" stroke-width="0.12">NC</text>
<text x="97.00" y="168.40" font-size="3.7" text-anchor="middle" font-weight="bold" fill="#000" font-family="'Liberation Serif',serif" stroke="#000" stroke-width="0.12">GAS5 KD</text>
<text x="155.00" y="168.40" font-size="3.7" text-anchor="middle" font-weight="bold" fill="#000" font-family="'Liberation Serif',serif" stroke="#000" stroke-width="0.12">NC</text>
<text x="212.00" y="168.40" font-size="3.7" text-anchor="middle" font-weight="bold" fill="#000" font-family="'Liberation Serif',serif" stroke="#000" stroke-width="0.12">GAS5 KD</text>
<line x1="263.40" y1="164.30" x2="263.40" y2="212.40" stroke="#000" stroke-width="0.9"/>
<line x1="262.20" y1="164.60" x2="263.40" y2="164.60" stroke="#000" stroke-width="0.7"/>
<text x="261.60" y="165.70" font-size="3.2" text-anchor="end" font-weight="bold" fill="#000" font-family="'Liberation Serif',serif" stroke="#000" stroke-width="0.12">60</text>
<line x1="262.20" y1="180.40" x2="263.40" y2="180.40" stroke="#000" stroke-width="0.7"/>
<text x="261.60" y="181.50" font-size="3.2" text-anchor="end" font-weight="bold" fill="#000" font-family="'Liberation Serif',serif" stroke="#000" stroke-width="0.12">40</text>
<line x1="262.20" y1="196.20" x2="263.40" y2="196.20" stroke="#000" stroke-width="0.7"/>
<text x="261.60" y="197.30" font-size="3.2" text-anchor="end" font-weight="bold" fill="#000" font-family="'Liberation Serif',serif" stroke="#000" stroke-width="0.12">20</text>
<line x1="262.20" y1="212.00" x2="263.40" y2="212.00" stroke="#000" stroke-width="0.7"/>
<text x="261.60" y="213.10" font-size="3.2" text-anchor="end" font-weight="bold" fill="#000" font-family="'Liberation Serif',serif" stroke="#000" stroke-width="0.12">0</text>
<text x="255.00" y="190.00" font-size="3.0" text-anchor="middle" font-weight="bold" fill="#000" font-family="'Liberation Serif',serif" stroke="#000" stroke-width="0.12" transform="rotate(-90 255.00 190.00)">Apoptosis rate (%of total)</text>
<rect x="268.40" y="177.40" width="9.30" height="34.60" fill="url(#hO)" stroke="#e9a94a" stroke-width="0.9"/>
<line x1="273.05" y1="177.40" x2="273.05" y2="176.80" stroke="#e9a94a" stroke-width="0.7"/>
<line x1="271.05" y1="176.80" x2="275.05" y2="176.80" stroke="#e9a94a" stroke-width="0.7"/>
<rect x="286.60" y="168.20" width="8.90" height="43.80" fill="url(#hR)" stroke="#d9485e" stroke-width="0.9"/>
<line x1="291.05" y1="168.20" x2="291.05" y2="167.60" stroke="#d9485e" stroke-width="0.7"/>
<line x1="289.05" y1="167.60" x2="293.05" y2="167.60" stroke="#d9485e" stroke-width="0.7"/>
<rect x="304.70" y="194.40" width="8.80" height="17.60" fill="url(#hP)" stroke="#b86b77" stroke-width="0.9"/>
<line x1="309.10" y1="194.40" x2="309.10" y2="193.80" stroke="#b86b77" stroke-width="0.7"/>
<line x1="307.10" y1="193.80" x2="311.10" y2="193.80" stroke="#b86b77" stroke-width="0.7"/>
<rect x="322.80" y="206.90" width="9.40" height="5.10" fill="url(#hB)" stroke="#3f6585" stroke-width="0.9"/>
<line x1="327.50" y1="206.90" x2="327.50" y2="206.30" stroke="#3f6585" stroke-width="0.7"/>
<line x1="325.50" y1="206.30" x2="329.50" y2="206.30" stroke="#3f6585" stroke-width="0.7"/>
<line x1="263.40" y1="212.00" x2="336.40" y2="212.00" stroke="#000" stroke-width="0.9"/>
<line x1="273.00" y1="212.00" x2="273.00" y2="213.00" stroke="#000" stroke-width="0.7"/>
<line x1="291.00" y1="212.00" x2="291.00" y2="213.00" stroke="#000" stroke-width="0.7"/>
<line x1="309.10" y1="212.00" x2="309.10" y2="213.00" stroke="#000" stroke-width="0.7"/>
<line x1="327.50" y1="212.00" x2="327.50" y2="213.00" stroke="#000" stroke-width="0.7"/>
<line x1="272.60" y1="165.00" x2="288.80" y2="165.00" stroke="#3a3a3a" stroke-width="0.5"/>
<text x="280.70" y="162.40" font-size="3.6" text-anchor="middle" font-weight="bold" fill="#000" font-family="'Liberation Serif',serif" stroke="#000" stroke-width="0.12">P &lt;0. 0001</text>
<line x1="308.90" y1="191.00" x2="327.00" y2="191.00" stroke="#3a3a3a" stroke-width="0.5"/>
<text x="317.95" y="188.40" font-size="3.6" text-anchor="middle" font-weight="bold" fill="#000" font-family="'Liberation Serif',serif" stroke="#000" stroke-width="0.12">P &lt;0. 0001</text>
<text x="273.00" y="219.50" font-size="3.5" text-anchor="middle" font-weight="bold" fill="#000" font-family="'Liberation Serif',serif" stroke="#000" stroke-width="0.12">NC</text>
<text x="291.50" y="219.50" font-size="3.5" text-anchor="middle" font-weight="bold" fill="#000" font-family="'Liberation Serif',serif" stroke="#000" stroke-width="0.12">GAS5 KD</text>
<text x="309.00" y="219.50" font-size="3.5" text-anchor="middle" font-weight="bold" fill="#000" font-family="'Liberation Serif',serif" stroke="#000" stroke-width="0.12">NC</text>
<text x="328.00" y="219.50" font-size="3.5" text-anchor="middle" font-weight="bold" fill="#000" font-family="'Liberation Serif',serif" stroke="#000" stroke-width="0.12">GAS5 KD</text>
<line x1="266.00" y1="222.00" x2="301.00" y2="222.00" stroke="#444" stroke-width="0.6"/>
<line x1="304.00" y1="222.00" x2="338.00" y2="222.00" stroke="#444" stroke-width="0.6"/>
<text x="283.50" y="227.30" font-size="3.5" text-anchor="middle" font-weight="bold" fill="#000" font-family="'Liberation Serif',serif" stroke="#000" stroke-width="0.12">7721/vera RBM58-OE</text>
<text x="321.50" y="227.30" font-size="3.5" text-anchor="middle" font-weight="bold" fill="#000" font-family="'Liberation Serif',serif" stroke="#000" stroke-width="0.12">HepG2/vera RBM58-OE</text>
<text x="5.50" y="244.50" font-size="4.8" text-anchor="start" font-weight="bold" fill="#000" font-family="'Liberation Sans',sans-serif" stroke="#000" stroke-width="0.12">F</text>
<path d="M31.15,290.20 L31.15,289.55 L31.40,288.92 L31.65,288.62 L31.90,287.85 L32.15,287.29 L32.40,286.39 L32.65,286.16 L32.90,287.10 L33.15,287.16 L33.40,286.00 L33.65,286.53 L33.90,286.03 L34.15,287.07 L34.40,286.41 L34.65,285.99 L34.90,286.65 L35.15,285.61 L35.40,285.64 L35.65,286.83 L35.90,286.80 L36.15,286.05 L36.40,285.46 L36.65,286.20 L36.90,286.40 L37.15,286.08 L37.40,286.60 L37.65,286.30 L37.90,285.96 L38.15,285.85 L38.40,286.18 L38.65,286.15 L38.90,286.13 L39.15,285.76 L39.40,285.97 L39.65,286.31 L39.90,285.14 L40.15,285.50 L40.40,285.34 L40.65,285.95 L40.90,284.79 L41.15,284.94 L41.40,285.94 L41.65,285.61 L41.90,285.03 L42.15,285.02 L42.40,284.67 L42.65,285.35 L42.90,284.75 L43.15,284.94 L43.40,285.42 L43.65,284.99 L43.90,284.54 L44.15,284.56 L44.40,285.01 L44.65,285.05 L44.90,286.04 L45.15,286.04 L45.40,285.70 L45.65,286.41 L45.90,286.92 L46.15,286.88 L46.40,287.07 L46.65,287.42 L46.90,287.93 L47.15,288.20 L47.40,288.49 L47.65,288.72 L47.90,289.14 L48.15,289.50 L48.40,289.82 L48.65,290.16 L48.65,290.20 Z" fill="#000" stroke="none" stroke-width="0.8"/>
<path d="M28.90,290.17 L29.15,290.13 L29.40,290.03 L29.65,289.79 L29.90,289.31 L30.15,288.41 L30.40,286.85 L30.65,284.37 L30.90,280.78 L31.15,276.06 L31.40,270.48 L31.65,264.66 L31.90,259.49 L32.15,255.89 L32.40,254.60 L32.65,255.43 L32.90,257.81 L33.15,261.42 L33.40,265.81 L33.65,270.48 L33.90,274.99 L34.15,279.02 L34.40,282.35 L34.65,284.95 L34.90,286.85 L35.15,288.16 L35.40,289.02 L35.65,289.54 L35.90,289.85 Z" fill="#ee1c24" stroke="#000" stroke-width="0.3"/>
<path d="M39.65,289.92 L39.90,289.81 L40.15,289.66 L40.40,289.48 L40.65,289.25 L40.90,288.97 L41.15,288.64 L41.40,288.24 L41.65,287.80 L41.90,287.30 L42.15,286.76 L42.40,286.18 L42.65,285.59 L42.90,285.01 L43.15,284.45 L43.40,283.94 L43.65,283.50 L43.90,283.16 L44.15,282.92 L44.40,282.81 L44.65,282.82 L44.90,282.96 L45.15,283.22 L45.40,283.59 L45.65,284.04 L45.90,284.56 L46.15,285.12 L46.40,285.71 L46.65,286.30 L46.90,286.87 L47.15,287.40 L47.40,287.89 L47.65,288.33 L47.90,288.71 L48.15,289.03 L48.40,289.30 L48.65,289.52 L48.90,289.69 L49.15,289.83 L49.40,289.93 Z" fill="#ee1c24" stroke="none" stroke-width="0.8"/>
<path d="M33.65,269.37 L33.90,273.74 L34.15,277.74 L34.40,281.17 L34.65,283.93 L34.90,286.03 L35.15,285.27 L35.40,285.30 L35.65,286.36 L35.90,286.34 L36.15,285.66 L36.40,285.13 L36.65,285.80 L36.90,285.98 L37.15,285.69 L37.40,286.16 L37.65,285.89 L37.90,285.58 L38.15,285.48 L38.40,285.78 L38.65,285.76 L38.90,285.74 L39.15,285.41 L39.40,285.59 L39.65,285.90 L39.90,284.84 L40.15,285.17 L40.40,285.03 L40.65,285.57 L40.90,284.53 L41.15,284.67 L41.40,285.57 L41.65,285.27 L41.90,284.75 L42.15,284.73 L42.40,284.42 L42.65,284.59 L42.90,284.01 L43.15,283.45 L43.40,282.94 L43.65,282.50 L43.90,282.16 L44.15,281.92 L44.40,281.81 L44.65,281.82 L44.90,281.96 L45.15,282.22 L45.40,282.59 L45.65,283.04 L45.90,283.56 L46.15,284.12 L46.40,284.71 L46.65,285.30 L46.90,285.87 L47.15,286.40 L47.40,286.89 L47.65,287.33 L47.90,287.71 L48.15,288.03 L48.40,288.30 L48.65,288.52 L48.90,288.69 L49.15,288.83 L49.40,288.93 L49.65,289.01 L49.90,289.07 L50.15,289.11 L50.40,289.14 L50.65,289.16 L50.90,289.17 L51.15,289.18 L51.40,289.19 L51.65,289.19 L51.90,289.20" fill="none" stroke="#000" stroke-width="0.45"/>
<line x1="17.50" y1="254.00" x2="17.50" y2="290.20" stroke="#000" stroke-width="0.8"/>
<line x1="17.50" y1="290.20" x2="59.50" y2="290.20" stroke="#000" stroke-width="0.8"/>
<line x1="17.50" y1="290.20" x2="17.50" y2="291.10" stroke="#000" stroke-width="0.5"/>
<text x="17.50" y="293.80" font-size="3.0" text-anchor="middle" font-weight="bold" fill="#000" font-family="'Liberation Serif',serif" stroke="#000" stroke-width="0.12">0</text>
<line x1="25.90" y1="290.20" x2="25.90" y2="291.10" stroke="#000" stroke-width="0.5"/>
<text x="25.90" y="293.80" font-size="3.0" text-anchor="middle" font-weight="bold" fill="#000" font-family="'Liberation Serif',serif" stroke="#000" stroke-width="0.12">50</text>
<line x1="34.30" y1="290.20" x2="34.30" y2="291.10" stroke="#000" stroke-width="0.5"/>
<text x="34.30" y="293.80" font-size="3.0" text-anchor="middle" font-weight="bold" fill="#000" font-family="'Liberation Serif',serif" stroke="#000" stroke-width="0.12">100</text>
<line x1="42.70" y1="290.20" x2="42.70" y2="291.10" stroke="#000" stroke-width="0.5"/>
<text x="42.70" y="293.80" font-size="3.0" text-anchor="middle" font-weight="bold" fill="#000" font-family="'Liberation Serif',serif" stroke="#000" stroke-width="0.12">150</text>
<line x1="51.10" y1="290.20" x2="51.10" y2="291.10" stroke="#000" stroke-width="0.5"/>
<text x="51.10" y="293.80" font-size="3.0" text-anchor="middle" font-weight="bold" fill="#000" font-family="'Liberation Serif',serif" stroke="#000" stroke-width="0.12">200</text>
<line x1="59.50" y1="290.20" x2="59.50" y2="291.10" stroke="#000" stroke-width="0.5"/>
<text x="59.50" y="293.80" font-size="3.0" text-anchor="middle" font-weight="bold" fill="#000" font-family="'Liberation Serif',serif" stroke="#000" stroke-width="0.12">250</text>
<line x1="16.60" y1="290.20" x2="17.50" y2="290.20" stroke="#000" stroke-width="0.5"/>
<text x="16.00" y="290.20" font-size="3.0" text-anchor="middle" font-weight="bold" fill="#000" font-family="'Liberation Serif',serif" stroke="#000" stroke-width="0.12" transform="rotate(-90 16.00 290.20)">0</text>
<line x1="16.60" y1="282.96" x2="17.50" y2="282.96" stroke="#000" stroke-width="0.5"/>
<text x="16.00" y="282.96" font-size="3.0" text-anchor="middle" font-weight="bold" fill="#000" font-family="'Liberation Serif',serif" stroke="#000" stroke-width="0.12" transform="rotate(-90 16.00 282.96)">50</text>
<line x1="16.60" y1="275.72" x2="17.50" y2="275.72" stroke="#000" stroke-width="0.5"/>
<text x="16.00" y="275.72" font-size="3.0" text-anchor="middle" font-weight="bold" fill="#000" font-family="'Liberation Serif',serif" stroke="#000" stroke-width="0.12" transform="rotate(-90 16.00 275.72)">100</text>
<line x1="16.60" y1="268.48" x2="17.50" y2="268.48" stroke="#000" stroke-width="0.5"/>
<text x="16.00" y="268.48" font-size="3.0" text-anchor="middle" font-weight="bold" fill="#000" font-family="'Liberation Serif',serif" stroke="#000" stroke-width="0.12" transform="rotate(-90 16.00 268.48)">150</text>
<line x1="16.60" y1="261.24" x2="17.50" y2="261.24" stroke="#000" stroke-width="0.5"/>
<text x="16.00" y="261.24" font-size="3.0" text-anchor="middle" font-weight="bold" fill="#000" font-family="'Liberation Serif',serif" stroke="#000" stroke-width="0.12" transform="rotate(-90 16.00 261.24)">200</text>
<text x="11.90" y="272.10" font-size="3.7" text-anchor="middle" font-weight="bold" fill="#000" font-family="'Liberation Serif',serif" stroke="#000" stroke-width="0.12" transform="rotate(-90 11.90 272.10)">Number</text>
<path d="M83.75,290.20 L83.75,289.52 L84.00,289.25 L84.25,288.74 L84.50,287.53 L84.75,286.95 L85.00,286.36 L85.25,286.84 L85.50,286.39 L85.75,286.35 L86.00,286.36 L86.25,286.92 L86.50,286.51 L86.75,286.53 L87.00,286.03 L87.25,285.62 L87.50,285.65 L87.75,286.19 L88.00,286.29 L88.25,286.51 L88.50,286.80 L88.75,286.78 L89.00,286.14 L89.25,286.31 L89.50,286.19 L89.75,285.44 L90.00,285.92 L90.25,285.84 L90.50,286.27 L90.75,286.53 L91.00,286.08 L91.25,286.31 L91.50,285.75 L91.75,285.04 L92.00,285.46 L92.25,286.12 L92.50,285.09 L92.75,285.19 L93.00,285.25 L93.25,284.97 L93.50,285.14 L93.75,285.07 L94.00,285.65 L94.25,284.74 L94.50,284.74 L94.75,285.83 L95.00,284.96 L95.25,284.99 L95.50,285.31 L95.75,285.18 L96.00,285.21 L96.25,284.57 L96.50,285.13 L96.75,284.63 L97.00,285.27 L97.25,284.50 L97.50,284.44 L97.75,285.33 L98.00,285.48 L98.25,285.37 L98.50,285.91 L98.75,286.46 L99.00,286.99 L99.25,287.19 L99.50,287.21 L99.75,287.88 L100.00,287.75 L100.25,288.41 L100.50,288.46 L100.75,289.01 L101.00,289.18 L101.25,289.59 L101.50,289.95 L101.50,290.20 Z" fill="#000" stroke="none" stroke-width="0.8"/>
<path d="M81.50,290.18 L81.75,290.14 L82.00,290.05 L82.25,289.84 L82.50,289.42 L82.75,288.62 L83.00,287.24 L83.25,285.06 L83.50,281.89 L83.75,277.72 L84.00,272.81 L84.25,267.68 L84.50,263.11 L84.75,259.94 L85.00,258.80 L85.25,259.53 L85.50,261.63 L85.75,264.82 L86.00,268.69 L86.25,272.81 L86.50,276.79 L86.75,280.34 L87.00,283.28 L87.25,285.57 L87.50,287.24 L87.75,288.40 L88.00,289.15 L88.25,289.62 L88.50,289.89 Z" fill="#ee1c24" stroke="#000" stroke-width="0.3"/>
<path d="M92.75,289.93 L93.00,289.83 L93.25,289.70 L93.50,289.53 L93.75,289.33 L94.00,289.08 L94.25,288.79 L94.50,288.45 L94.75,288.06 L95.00,287.63 L95.25,287.17 L95.50,286.69 L95.75,286.21 L96.00,285.73 L96.25,285.29 L96.50,284.89 L96.75,284.56 L97.00,284.31 L97.25,284.15 L97.50,284.10 L97.75,284.15 L98.00,284.31 L98.25,284.56 L98.50,284.89 L98.75,285.29 L99.00,285.73 L99.25,286.21 L99.50,286.69 L99.75,287.17 L100.00,287.63 L100.25,288.06 L100.50,288.45 L100.75,288.79 L101.00,289.08 L101.25,289.33 L101.50,289.53 L101.75,289.70 L102.00,289.83 L102.25,289.93 Z" fill="#ee1c24" stroke="none" stroke-width="0.8"/>
<path d="M86.25,271.82 L86.50,275.68 L86.75,279.21 L87.00,282.23 L87.25,284.67 L87.50,285.31 L87.75,285.79 L88.00,285.88 L88.25,286.08 L88.50,286.34 L88.75,286.32 L89.00,285.74 L89.25,285.90 L89.50,285.79 L89.75,285.12 L90.00,285.55 L90.25,285.48 L90.50,285.86 L90.75,286.10 L91.00,285.69 L91.25,285.90 L91.50,285.40 L91.75,284.75 L92.00,285.13 L92.25,285.73 L92.50,284.80 L92.75,284.89 L93.00,284.94 L93.25,284.70 L93.50,284.85 L93.75,284.79 L94.00,285.31 L94.25,284.49 L94.50,284.48 L94.75,285.46 L95.00,284.69 L95.25,284.71 L95.50,285.00 L95.75,284.88 L96.00,284.73 L96.25,284.29 L96.50,283.89 L96.75,283.56 L97.00,283.31 L97.25,283.15 L97.50,283.10 L97.75,283.15 L98.00,283.31 L98.25,283.56 L98.50,283.89 L98.75,284.29 L99.00,284.73 L99.25,285.21 L99.50,285.69 L99.75,286.17 L100.00,286.63 L100.25,287.06 L100.50,287.45 L100.75,287.79 L101.00,288.08 L101.25,288.33 L101.50,288.53 L101.75,288.70 L102.00,288.83 L102.25,288.93 L102.50,289.01 L102.75,289.07 L103.00,289.11 L103.25,289.14 L103.50,289.16 L103.75,289.17 L104.00,289.18 L104.25,289.19 L104.50,289.19 L104.75,289.20" fill="none" stroke="#000" stroke-width="0.45"/>
<line x1="68.90" y1="256.00" x2="68.90" y2="290.20" stroke="#000" stroke-width="0.8"/>
<line x1="68.90" y1="290.20" x2="110.00" y2="290.20" stroke="#000" stroke-width="0.8"/>
<line x1="68.90" y1="290.20" x2="68.90" y2="291.10" stroke="#000" stroke-width="0.5"/>
<text x="68.90" y="293.80" font-size="3.0" text-anchor="middle" font-weight="bold" fill="#000" font-family="'Liberation Serif',serif" stroke="#000" stroke-width="0.12">0</text>
<line x1="77.30" y1="290.20" x2="77.30" y2="291.10" stroke="#000" stroke-width="0.5"/>
<text x="77.30" y="293.80" font-size="3.0" text-anchor="middle" font-weight="bold" fill="#000" font-family="'Liberation Serif',serif" stroke="#000" stroke-width="0.12">50</text>
<line x1="85.70" y1="290.20" x2="85.70" y2="291.10" stroke="#000" stroke-width="0.5"/>
<text x="85.70" y="293.80" font-size="3.0" text-anchor="middle" font-weight="bold" fill="#000" font-family="'Liberation Serif',serif" stroke="#000" stroke-width="0.12">100</text>
<line x1="94.10" y1="290.20" x2="94.10" y2="291.10" stroke="#000" stroke-width="0.5"/>
<text x="94.10" y="293.80" font-size="3.0" text-anchor="middle" font-weight="bold" fill="#000" font-family="'Liberation Serif',serif" stroke="#000" stroke-width="0.12">150</text>
<line x1="102.50" y1="290.20" x2="102.50" y2="291.10" stroke="#000" stroke-width="0.5"/>
<text x="102.50" y="293.80" font-size="3.0" text-anchor="middle" font-weight="bold" fill="#000" font-family="'Liberation Serif',serif" stroke="#000" stroke-width="0.12">200</text>
<line x1="110.90" y1="290.20" x2="110.90" y2="291.10" stroke="#000" stroke-width="0.5"/>
<text x="110.90" y="293.80" font-size="3.0" text-anchor="middle" font-weight="bold" fill="#000" font-family="'Liberation Serif',serif" stroke="#000" stroke-width="0.12">250</text>
<line x1="68.00" y1="290.20" x2="68.90" y2="290.20" stroke="#000" stroke-width="0.5"/>
<text x="67.40" y="290.20" font-size="3.0" text-anchor="middle" font-weight="bold" fill="#000" font-family="'Liberation Serif',serif" stroke="#000" stroke-width="0.12" transform="rotate(-90 67.40 290.20)">0</text>
<line x1="68.00" y1="283.36" x2="68.90" y2="283.36" stroke="#000" stroke-width="0.5"/>
<text x="67.40" y="283.36" font-size="3.0" text-anchor="middle" font-weight="bold" fill="#000" font-family="'Liberation Serif',serif" stroke="#000" stroke-width="0.12" transform="rotate(-90 67.40 283.36)">50</text>
<line x1="68.00" y1="276.52" x2="68.90" y2="276.52" stroke="#000" stroke-width="0.5"/>
<text x="67.40" y="276.52" font-size="3.0" text-anchor="middle" font-weight="bold" fill="#000" font-family="'Liberation Serif',serif" stroke="#000" stroke-width="0.12" transform="rotate(-90 67.40 276.52)">100</text>
<line x1="68.00" y1="269.68" x2="68.90" y2="269.68" stroke="#000" stroke-width="0.5"/>
<text x="67.40" y="269.68" font-size="3.0" text-anchor="middle" font-weight="bold" fill="#000" font-family="'Liberation Serif',serif" stroke="#000" stroke-width="0.12" transform="rotate(-90 67.40 269.68)">150</text>
<line x1="68.00" y1="262.84" x2="68.90" y2="262.84" stroke="#000" stroke-width="0.5"/>
<text x="67.40" y="262.84" font-size="3.0" text-anchor="middle" font-weight="bold" fill="#000" font-family="'Liberation Serif',serif" stroke="#000" stroke-width="0.12" transform="rotate(-90 67.40 262.84)">200</text>
<text x="63.30" y="273.10" font-size="3.7" text-anchor="middle" font-weight="bold" fill="#000" font-family="'Liberation Serif',serif" stroke="#000" stroke-width="0.12" transform="rotate(-90 63.30 273.10)">Number</text>
<path d="M27.45,341.50 L27.45,340.92 L27.70,340.41 L27.95,339.68 L28.20,339.03 L28.45,339.03 L28.70,338.58 L28.95,337.39 L29.20,338.17 L29.45,338.17 L29.70,337.07 L29.95,337.77 L30.20,337.23 L30.45,337.70 L30.70,337.44 L30.95,338.09 L31.20,337.38 L31.45,337.01 L31.70,337.46 L31.95,337.13 L32.20,337.19 L32.45,338.01 L32.70,337.00 L32.95,337.20 L33.20,337.57 L33.45,337.92 L33.70,336.72 L33.95,337.23 L34.20,336.85 L34.45,336.60 L34.70,336.79 L34.95,336.47 L35.20,337.17 L35.45,336.57 L35.70,337.04 L35.95,336.32 L36.20,336.36 L36.45,337.42 L36.70,337.33 L36.95,337.19 L37.20,336.11 L37.45,336.81 L37.70,336.51 L37.95,336.93 L38.20,336.61 L38.45,336.75 L38.70,336.76 L38.95,336.40 L39.20,336.37 L39.45,335.89 L39.70,336.17 L39.95,335.79 L40.20,335.85 L40.45,335.63 L40.70,336.17 L40.95,337.10 L41.20,336.50 L41.45,336.69 L41.70,337.06 L41.95,337.70 L42.20,337.86 L42.45,338.58 L42.70,338.39 L42.95,338.88 L43.20,339.35 L43.45,339.75 L43.70,339.69 L43.95,339.99 L44.20,340.57 L44.45,340.73 L44.70,341.12 L44.95,341.44 L44.95,341.50 Z" fill="#000" stroke="none" stroke-width="0.8"/>
<path d="M23.95,341.49 L24.20,341.47 L24.45,341.44 L24.70,341.37 L24.95,341.25 L25.20,341.04 L25.45,340.67 L25.70,340.07 L25.95,339.14 L26.20,337.78 L26.45,335.88 L26.70,333.37 L26.95,330.24 L27.20,326.57 L27.45,322.55 L27.70,318.46 L27.95,314.68 L28.20,311.61 L28.45,309.60 L28.70,308.90 L28.95,309.35 L29.20,310.66 L29.45,312.73 L29.70,315.40 L29.95,318.46 L30.20,321.73 L30.45,324.99 L30.70,328.10 L30.95,330.92 L31.20,333.37 L31.45,335.43 L31.70,337.09 L31.95,338.38 L32.20,339.36 L32.45,340.07 L32.70,340.57 L32.95,340.91 L33.20,341.14 L33.45,341.28 Z" fill="#ee1c24" stroke="#000" stroke-width="0.3"/>
<path d="M35.45,341.31 L35.70,341.24 L35.95,341.15 L36.20,341.04 L36.45,340.90 L36.70,340.72 L36.95,340.52 L37.20,340.27 L37.45,340.00 L37.70,339.68 L37.95,339.34 L38.20,338.97 L38.45,338.58 L38.70,338.19 L38.95,337.80 L39.20,337.43 L39.45,337.09 L39.70,336.80 L39.95,336.57 L40.20,336.40 L40.45,336.31 L40.70,336.31 L40.95,336.38 L41.20,336.53 L41.45,336.75 L41.70,337.03 L41.95,337.36 L42.20,337.72 L42.45,338.11 L42.70,338.50 L42.95,338.89 L43.20,339.27 L43.45,339.62 L43.70,339.94 L43.95,340.22 L44.20,340.47 L44.45,340.68 L44.70,340.86 L44.95,341.01 L45.20,341.13 L45.45,341.23 L45.70,341.30 Z" fill="#ee1c24" stroke="none" stroke-width="0.8"/>
<path d="M30.20,320.79 L30.45,323.92 L30.70,326.94 L30.95,329.75 L31.20,332.25 L31.45,334.40 L31.70,336.19 L31.95,336.76 L32.20,336.82 L32.45,337.56 L32.70,336.65 L32.95,336.83 L33.20,337.17 L33.45,337.48 L33.70,336.39 L33.95,336.86 L34.20,336.52 L34.45,336.29 L34.70,336.46 L34.95,336.17 L35.20,336.81 L35.45,336.26 L35.70,336.68 L35.95,336.03 L36.20,336.08 L36.45,337.03 L36.70,336.95 L36.95,336.82 L37.20,335.84 L37.45,336.48 L37.70,336.21 L37.95,336.59 L38.20,336.30 L38.45,336.42 L38.70,336.44 L38.95,336.11 L39.20,336.08 L39.45,335.65 L39.70,335.80 L39.95,335.56 L40.20,335.40 L40.45,335.31 L40.70,335.31 L40.95,335.38 L41.20,335.53 L41.45,335.75 L41.70,336.03 L41.95,336.36 L42.20,336.72 L42.45,337.11 L42.70,337.50 L42.95,337.89 L43.20,338.27 L43.45,338.62 L43.70,338.94 L43.95,339.22 L44.20,339.47 L44.45,339.68 L44.70,339.86 L44.95,340.01 L45.20,340.13 L45.45,340.23 L45.70,340.30 L45.95,340.35 L46.20,340.40 L46.45,340.43 L46.70,340.45 L46.95,340.47 L47.20,340.48 L47.45,340.49 L47.70,340.49 L47.95,340.49 L48.20,340.50" fill="none" stroke="#000" stroke-width="0.45"/>
<line x1="16.50" y1="305.00" x2="16.50" y2="341.50" stroke="#000" stroke-width="0.8"/>
<line x1="16.50" y1="341.50" x2="58.50" y2="341.50" stroke="#000" stroke-width="0.8"/>
<line x1="16.50" y1="341.50" x2="16.50" y2="342.40" stroke="#000" stroke-width="0.5"/>
<text x="16.50" y="345.10" font-size="3.0" text-anchor="middle" font-weight="bold" fill="#000" font-family="'Liberation Serif',serif" stroke="#000" stroke-width="0.12">0</text>
<line x1="24.90" y1="341.50" x2="24.90" y2="342.40" stroke="#000" stroke-width="0.5"/>
<text x="24.90" y="345.10" font-size="3.0" text-anchor="middle" font-weight="bold" fill="#000" font-family="'Liberation Serif',serif" stroke="#000" stroke-width="0.12">50</text>
<line x1="33.30" y1="341.50" x2="33.30" y2="342.40" stroke="#000" stroke-width="0.5"/>
<text x="33.30" y="345.10" font-size="3.0" text-anchor="middle" font-weight="bold" fill="#000" font-family="'Liberation Serif',serif" stroke="#000" stroke-width="0.12">100</text>
<line x1="41.70" y1="341.50" x2="41.70" y2="342.40" stroke="#000" stroke-width="0.5"/>
<text x="41.70" y="345.10" font-size="3.0" text-anchor="middle" font-weight="bold" fill="#000" font-family="'Liberation Serif',serif" stroke="#000" stroke-width="0.12">150</text>
<line x1="50.10" y1="341.50" x2="50.10" y2="342.40" stroke="#000" stroke-width="0.5"/>
<text x="50.10" y="345.10" font-size="3.0" text-anchor="middle" font-weight="bold" fill="#000" font-family="'Liberation Serif',serif" stroke="#000" stroke-width="0.12">200</text>
<line x1="58.50" y1="341.50" x2="58.50" y2="342.40" stroke="#000" stroke-width="0.5"/>
<text x="58.50" y="345.10" font-size="3.0" text-anchor="middle" font-weight="bold" fill="#000" font-family="'Liberation Serif',serif" stroke="#000" stroke-width="0.12">250</text>
<line x1="15.60" y1="341.50" x2="16.50" y2="341.50" stroke="#000" stroke-width="0.5"/>
<text x="15.00" y="341.50" font-size="3.0" text-anchor="middle" font-weight="bold" fill="#000" font-family="'Liberation Serif',serif" stroke="#000" stroke-width="0.12" transform="rotate(-90 15.00 341.50)">0</text>
<line x1="15.60" y1="334.20" x2="16.50" y2="334.20" stroke="#000" stroke-width="0.5"/>
<text x="15.00" y="334.20" font-size="3.0" text-anchor="middle" font-weight="bold" fill="#000" font-family="'Liberation Serif',serif" stroke="#000" stroke-width="0.12" transform="rotate(-90 15.00 334.20)">50</text>
<line x1="15.60" y1="326.90" x2="16.50" y2="326.90" stroke="#000" stroke-width="0.5"/>
<text x="15.00" y="326.90" font-size="3.0" text-anchor="middle" font-weight="bold" fill="#000" font-family="'Liberation Serif',serif" stroke="#000" stroke-width="0.12" transform="rotate(-90 15.00 326.90)">100</text>
<line x1="15.60" y1="319.60" x2="16.50" y2="319.60" stroke="#000" stroke-width="0.5"/>
<text x="15.00" y="319.60" font-size="3.0" text-anchor="middle" font-weight="bold" fill="#000" font-family="'Liberation Serif',serif" stroke="#000" stroke-width="0.12" transform="rotate(-90 15.00 319.60)">150</text>
<line x1="15.60" y1="312.30" x2="16.50" y2="312.30" stroke="#000" stroke-width="0.5"/>
<text x="15.00" y="312.30" font-size="3.0" text-anchor="middle" font-weight="bold" fill="#000" font-family="'Liberation Serif',serif" stroke="#000" stroke-width="0.12" transform="rotate(-90 15.00 312.30)">200</text>
<text x="10.90" y="323.25" font-size="3.7" text-anchor="middle" font-weight="bold" fill="#000" font-family="'Liberation Serif',serif" stroke="#000" stroke-width="0.12" transform="rotate(-90 10.90 323.25)">Number</text>
<path d="M80.25,341.50 L80.25,341.03 L80.50,340.41 L80.75,340.01 L81.00,339.56 L81.25,338.65 L81.50,337.31 L81.75,337.44 L82.00,337.44 L82.25,338.16 L82.50,337.67 L82.75,337.99 L83.00,338.09 L83.25,338.14 L83.50,337.95 L83.75,336.91 L84.00,337.00 L84.25,336.99 L84.50,336.95 L84.75,337.76 L85.00,337.55 L85.25,337.06 L85.50,336.87 L85.75,336.66 L86.00,336.58 L86.25,337.64 L86.50,336.87 L86.75,336.74 L87.00,336.92 L87.25,337.34 L87.50,336.88 L87.75,337.38 L88.00,336.15 L88.25,336.20 L88.50,336.60 L88.75,336.90 L89.00,336.01 L89.25,336.44 L89.50,335.96 L89.75,335.96 L90.00,336.39 L90.25,336.48 L90.50,336.18 L90.75,336.55 L91.00,337.14 L91.25,337.20 L91.50,336.89 L91.75,337.98 L92.00,338.22 L92.25,337.96 L92.50,338.53 L92.75,338.62 L93.00,338.96 L93.25,339.33 L93.50,339.32 L93.75,339.99 L94.00,340.21 L94.25,340.58 L94.50,340.81 L94.75,341.18 L94.75,341.50 Z" fill="#000" stroke="none" stroke-width="0.8"/>
<path d="M77.25,341.47 L77.50,341.44 L77.75,341.37 L78.00,341.24 L78.25,341.00 L78.50,340.56 L78.75,339.83 L79.00,338.68 L79.25,336.98 L79.50,334.60 L79.75,331.47 L80.00,327.63 L80.25,323.26 L80.50,318.68 L80.75,314.33 L81.00,310.72 L81.25,308.34 L81.50,307.50 L81.75,308.04 L82.00,309.60 L82.25,312.04 L82.50,315.16 L82.75,318.68 L83.00,322.35 L83.25,325.93 L83.50,329.24 L83.75,332.15 L84.00,334.60 L84.25,336.56 L84.50,338.08 L84.75,339.20 L85.00,340.01 L85.25,340.56 L85.50,340.93 L85.75,341.16 Z" fill="#ee1c24" stroke="#000" stroke-width="0.3"/>
<path d="M85.50,341.22 L85.75,341.11 L86.00,340.98 L86.25,340.81 L86.50,340.61 L86.75,340.36 L87.00,340.06 L87.25,339.70 L87.50,339.30 L87.75,338.86 L88.00,338.36 L88.25,337.84 L88.50,337.29 L88.75,336.74 L89.00,336.20 L89.25,335.69 L89.50,335.22 L89.75,334.83 L90.00,334.52 L90.25,334.31 L90.50,334.21 L90.75,334.22 L91.00,334.34 L91.25,334.58 L91.50,334.90 L91.75,335.31 L92.00,335.79 L92.25,336.31 L92.50,336.85 L92.75,337.40 L93.00,337.95 L93.25,338.47 L93.50,338.95 L93.75,339.39 L94.00,339.78 L94.25,340.12 L94.50,340.41 L94.75,340.65 L95.00,340.85 L95.25,341.01 L95.50,341.14 L95.75,341.23 Z" fill="#ee1c24" stroke="none" stroke-width="0.8"/>
<path d="M83.00,321.30 L83.25,324.76 L83.50,328.03 L83.75,330.96 L84.00,333.49 L84.25,335.59 L84.50,336.61 L84.75,337.33 L85.00,337.15 L85.25,336.71 L85.50,336.53 L85.75,336.34 L86.00,336.27 L86.25,337.23 L86.50,336.54 L86.75,336.41 L87.00,336.58 L87.25,336.96 L87.50,336.54 L87.75,336.99 L88.00,335.88 L88.25,335.93 L88.50,336.29 L88.75,335.74 L89.00,335.20 L89.25,334.69 L89.50,334.22 L89.75,333.83 L90.00,333.52 L90.25,333.31 L90.50,333.21 L90.75,333.22 L91.00,333.34 L91.25,333.58 L91.50,333.90 L91.75,334.31 L92.00,334.79 L92.25,335.31 L92.50,335.85 L92.75,336.40 L93.00,336.95 L93.25,337.47 L93.50,337.95 L93.75,338.39 L94.00,338.78 L94.25,339.12 L94.50,339.41 L94.75,339.65 L95.00,339.85 L95.25,340.01 L95.50,340.14 L95.75,340.23 L96.00,340.31 L96.25,340.36 L96.50,340.41 L96.75,340.44 L97.00,340.46 L97.25,340.47 L97.50,340.48 L97.75,340.49 L98.00,340.49 L98.25,340.50" fill="none" stroke="#000" stroke-width="0.45"/>
<line x1="69.60" y1="305.00" x2="69.60" y2="341.50" stroke="#000" stroke-width="0.8"/>
<line x1="69.60" y1="341.50" x2="109.50" y2="341.50" stroke="#000" stroke-width="0.8"/>
<line x1="69.60" y1="341.50" x2="69.60" y2="342.40" stroke="#000" stroke-width="0.5"/>
<text x="69.60" y="345.10" font-size="3.0" text-anchor="middle" font-weight="bold" fill="#000" font-family="'Liberation Serif',serif" stroke="#000" stroke-width="0.12">0</text>
<line x1="78.00" y1="341.50" x2="78.00" y2="342.40" stroke="#000" stroke-width="0.5"/>
<text x="78.00" y="345.10" font-size="3.0" text-anchor="middle" font-weight="bold" fill="#000" font-family="'Liberation Serif',serif" stroke="#000" stroke-width="0.12">50</text>
<line x1="86.40" y1="341.50" x2="86.40" y2="342.40" stroke="#000" stroke-width="0.5"/>
<text x="86.40" y="345.10" font-size="3.0" text-anchor="middle" font-weight="bold" fill="#000" font-family="'Liberation Serif',serif" stroke="#000" stroke-width="0.12">100</text>
<line x1="94.80" y1="341.50" x2="94.80" y2="342.40" stroke="#000" stroke-width="0.5"/>
<text x="94.80" y="345.10" font-size="3.0" text-anchor="middle" font-weight="bold" fill="#000" font-family="'Liberation Serif',serif" stroke="#000" stroke-width="0.12">150</text>
<line x1="103.20" y1="341.50" x2="103.20" y2="342.40" stroke="#000" stroke-width="0.5"/>
<text x="103.20" y="345.10" font-size="3.0" text-anchor="middle" font-weight="bold" fill="#000" font-family="'Liberation Serif',serif" stroke="#000" stroke-width="0.12">200</text>
<line x1="111.60" y1="341.50" x2="111.60" y2="342.40" stroke="#000" stroke-width="0.5"/>
<text x="111.60" y="345.10" font-size="3.0" text-anchor="middle" font-weight="bold" fill="#000" font-family="'Liberation Serif',serif" stroke="#000" stroke-width="0.12">250</text>
<line x1="68.70" y1="341.50" x2="69.60" y2="341.50" stroke="#000" stroke-width="0.5"/>
<text x="68.10" y="341.50" font-size="3.0" text-anchor="middle" font-weight="bold" fill="#000" font-family="'Liberation Serif',serif" stroke="#000" stroke-width="0.12" transform="rotate(-90 68.10 341.50)">0</text>
<line x1="68.70" y1="334.20" x2="69.60" y2="334.20" stroke="#000" stroke-width="0.5"/>
<text x="68.10" y="334.20" font-size="3.0" text-anchor="middle" font-weight="bold" fill="#000" font-family="'Liberation Serif',serif" stroke="#000" stroke-width="0.12" transform="rotate(-90 68.10 334.20)">50</text>
<line x1="68.70" y1="326.90" x2="69.60" y2="326.90" stroke="#000" stroke-width="0.5"/>
<text x="68.10" y="326.90" font-size="3.0" text-anchor="middle" font-weight="bold" fill="#000" font-family="'Liberation Serif',serif" stroke="#000" stroke-width="0.12" transform="rotate(-90 68.10 326.90)">100</text>
<line x1="68.70" y1="319.60" x2="69.60" y2="319.60" stroke="#000" stroke-width="0.5"/>
<text x="68.10" y="319.60" font-size="3.0" text-anchor="middle" font-weight="bold" fill="#000" font-family="'Liberation Serif',serif" stroke="#000" stroke-width="0.12" transform="rotate(-90 68.10 319.60)">150</text>
<line x1="68.70" y1="312.30" x2="69.60" y2="312.30" stroke="#000" stroke-width="0.5"/>
<text x="68.10" y="312.30" font-size="3.0" text-anchor="middle" font-weight="bold" fill="#000" font-family="'Liberation Serif',serif" stroke="#000" stroke-width="0.12" transform="rotate(-90 68.10 312.30)">200</text>
<text x="64.00" y="323.25" font-size="3.7" text-anchor="middle" font-weight="bold" fill="#000" font-family="'Liberation Serif',serif" stroke="#000" stroke-width="0.12" transform="rotate(-90 64.00 323.25)">Number</text>
<text x="66.00" y="247.30" font-size="3.8" text-anchor="middle" font-weight="bold" fill="#000" font-family="'Liberation Serif',serif" stroke="#000" stroke-width="0.12">7721/vera RBM58-OE</text>
<line x1="25.20" y1="249.00" x2="103.80" y2="249.00" stroke="#777" stroke-width="0.7"/>
<text x="33.00" y="252.90" font-size="3.2" text-anchor="middle" font-weight="bold" fill="#000" font-family="'Liberation Serif',serif" stroke="#000" stroke-width="0.12">NC</text>
<text x="84.30" y="253.40" font-size="3.2" text-anchor="middle" font-weight="bold" fill="#000" font-family="'Liberation Serif',serif" stroke="#000" stroke-width="0.12">GAS5 KD</text>
<text x="64.00" y="298.20" font-size="3.8" text-anchor="middle" font-weight="bold" fill="#000" font-family="'Liberation Serif',serif" stroke="#000" stroke-width="0.12">HepG2/vera RBM58-OE</text>
<line x1="25.20" y1="300.80" x2="103.80" y2="300.80" stroke="#777" stroke-width="0.7"/>
<text x="29.70" y="305.00" font-size="3.2" text-anchor="middle" font-weight="bold" fill="#000" font-family="'Liberation Serif',serif" stroke="#000" stroke-width="0.12">NC</text>
<text x="80.80" y="305.00" font-size="3.2" text-anchor="middle" font-weight="bold" fill="#000" font-family="'Liberation Serif',serif" stroke="#000" stroke-width="0.12">GAS5 KD</text>
<line x1="134.80" y1="243.40" x2="134.80" y2="284.60" stroke="#000" stroke-width="0.9"/>
<line x1="133.60" y1="243.70" x2="134.80" y2="243.70" stroke="#000" stroke-width="0.7"/>
<text x="133.00" y="244.80" font-size="3.1" text-anchor="end" font-weight="bold" fill="#000" font-family="'Liberation Serif',serif" stroke="#000" stroke-width="0.12">60</text>
<line x1="133.60" y1="257.40" x2="134.80" y2="257.40" stroke="#000" stroke-width="0.7"/>
<text x="133.00" y="258.50" font-size="3.1" text-anchor="end" font-weight="bold" fill="#000" font-family="'Liberation Serif',serif" stroke="#000" stroke-width="0.12">40</text>
<line x1="133.60" y1="270.80" x2="134.80" y2="270.80" stroke="#000" stroke-width="0.7"/>
<text x="133.00" y="271.90" font-size="3.1" text-anchor="end" font-weight="bold" fill="#000" font-family="'Liberation Serif',serif" stroke="#000" stroke-width="0.12">20</text>
<line x1="133.60" y1="284.20" x2="134.80" y2="284.20" stroke="#000" stroke-width="0.7"/>
<text x="133.00" y="285.30" font-size="3.1" text-anchor="end" font-weight="bold" fill="#000" font-family="'Liberation Serif',serif" stroke="#000" stroke-width="0.12">0</text>
<text x="126.80" y="264.95" font-size="3.4" text-anchor="middle" font-weight="bold" fill="#000" font-family="'Liberation Serif',serif" stroke="#000" stroke-width="0.12" transform="rotate(-90 126.80 264.95)">% Total cells</text>
<rect x="139.30" y="246.20" width="4.60" height="38.00" fill="url(#hB2)" stroke="#3d6284" stroke-width="0.8"/>
<rect x="146.50" y="248.30" width="5.10" height="35.90" fill="url(#hP2)" stroke="#c06a78" stroke-width="0.8"/>
<rect x="160.00" y="271.40" width="4.70" height="12.80" fill="url(#hB2)" stroke="#3d6284" stroke-width="0.8"/>
<rect x="167.50" y="271.00" width="5.20" height="13.20" fill="url(#hP2)" stroke="#c06a78" stroke-width="0.8"/>
<rect x="180.50" y="267.20" width="5.00" height="17.00" fill="url(#hB2)" stroke="#3d6284" stroke-width="0.8"/>
<rect x="188.40" y="265.50" width="5.00" height="18.70" fill="url(#hP2)" stroke="#c06a78" stroke-width="0.8"/>
<line x1="134.80" y1="284.20" x2="197.00" y2="284.20" stroke="#000" stroke-width="0.9"/>
<line x1="145.20" y1="284.20" x2="145.20" y2="285.20" stroke="#000" stroke-width="0.7"/>
<line x1="166.40" y1="284.20" x2="166.40" y2="285.20" stroke="#000" stroke-width="0.7"/>
<line x1="187.00" y1="284.20" x2="187.00" y2="285.20" stroke="#000" stroke-width="0.7"/>
<line x1="140.70" y1="245.20" x2="150.50" y2="245.20" stroke="#3a3a3a" stroke-width="0.5"/>
<text x="145.60" y="244.30" font-size="3.0" text-anchor="middle" font-weight="bold" fill="#000" font-family="'Liberation Serif',serif" stroke="#000" stroke-width="0.12">P&lt;0.01</text>
<line x1="160.50" y1="270.00" x2="172.50" y2="270.00" stroke="#3a3a3a" stroke-width="0.5"/>
<text x="166.50" y="269.10" font-size="3.0" text-anchor="middle" font-weight="bold" fill="#000" font-family="'Liberation Serif',serif" stroke="#000" stroke-width="0.12">P&lt;0.05</text>
<line x1="181.00" y1="263.70" x2="193.00" y2="263.70" stroke="#3a3a3a" stroke-width="0.5"/>
<text x="187.00" y="262.80" font-size="3.0" text-anchor="middle" font-weight="bold" fill="#000" font-family="'Liberation Serif',serif" stroke="#000" stroke-width="0.12">P&lt;0.01</text>
<rect x="155.50" y="241.00" width="5.50" height="2.00" fill="#2e5478" stroke="none" stroke-width="0.8"/>
<rect x="155.50" y="247.10" width="5.50" height="2.00" fill="#d88a98" stroke="none" stroke-width="0.8"/>
<text x="162.70" y="243.20" font-size="3.6" text-anchor="start" font-weight="bold" fill="#000" font-family="'Liberation Serif',serif" stroke="#000" stroke-width="0.12">7721/vera RBM58-OE</text>
<text x="162.70" y="249.30" font-size="3.6" text-anchor="start" font-weight="bold" fill="#000" font-family="'Liberation Serif',serif" stroke="#000" stroke-width="0.12">7721/vera RBM58-OE+GAS5 KD</text>
<text x="143.50" y="290.70" font-size="3.0" text-anchor="middle" font-weight="normal" fill="#000" font-family="'Liberation Serif',serif" transform="rotate(-45 143.50 290.70)">G0/G1</text>
<text x="165.00" y="290.70" font-size="3.0" text-anchor="middle" font-weight="normal" fill="#000" font-family="'Liberation Serif',serif" transform="rotate(-45 165.00 290.70)">G2</text>
<text x="186.00" y="290.70" font-size="3.0" text-anchor="middle" font-weight="normal" fill="#000" font-family="'Liberation Serif',serif" transform="rotate(-45 186.00 290.70)">S</text>
<line x1="134.80" y1="298.00" x2="134.80" y2="338.70" stroke="#000" stroke-width="0.9"/>
<line x1="133.60" y1="298.30" x2="134.80" y2="298.30" stroke="#000" stroke-width="0.7"/>
<text x="133.00" y="299.40" font-size="3.1" text-anchor="end" font-weight="bold" fill="#000" font-family="'Liberation Serif',serif" stroke="#000" stroke-width="0.12">80</text>
<line x1="133.60" y1="308.30" x2="134.80" y2="308.30" stroke="#000" stroke-width="0.7"/>
<text x="133.00" y="309.40" font-size="3.1" text-anchor="end" font-weight="bold" fill="#000" font-family="'Liberation Serif',serif" stroke="#000" stroke-width="0.12">60</text>
<line x1="133.60" y1="318.30" x2="134.80" y2="318.30" stroke="#000" stroke-width="0.7"/>
<text x="133.00" y="319.40" font-size="3.1" text-anchor="end" font-weight="bold" fill="#000" font-family="'Liberation Serif',serif" stroke="#000" stroke-width="0.12">40</text>
<line x1="133.60" y1="328.30" x2="134.80" y2="328.30" stroke="#000" stroke-width="0.7"/>
<text x="133.00" y="329.40" font-size="3.1" text-anchor="end" font-weight="bold" fill="#000" font-family="'Liberation Serif',serif" stroke="#000" stroke-width="0.12">20</text>
<line x1="133.60" y1="338.30" x2="134.80" y2="338.30" stroke="#000" stroke-width="0.7"/>
<text x="133.00" y="339.40" font-size="3.1" text-anchor="end" font-weight="bold" fill="#000" font-family="'Liberation Serif',serif" stroke="#000" stroke-width="0.12">0</text>
<text x="126.80" y="319.30" font-size="3.4" text-anchor="middle" font-weight="bold" fill="#000" font-family="'Liberation Serif',serif" stroke="#000" stroke-width="0.12" transform="rotate(-90 126.80 319.30)">% Total cells</text>
<rect x="139.30" y="303.90" width="4.60" height="34.40" fill="url(#hB2)" stroke="#3d6284" stroke-width="0.8"/>
<rect x="146.50" y="306.40" width="5.10" height="31.90" fill="url(#hP2)" stroke="#c06a78" stroke-width="0.8"/>
<rect x="160.00" y="329.00" width="4.70" height="9.30" fill="url(#hB2)" stroke="#3d6284" stroke-width="0.8"/>
<rect x="167.50" y="327.00" width="5.20" height="11.30" fill="url(#hP2)" stroke="#c06a78" stroke-width="0.8"/>
<rect x="180.50" y="329.50" width="5.00" height="8.80" fill="url(#hB2)" stroke="#3d6284" stroke-width="0.8"/>
<rect x="188.40" y="328.40" width="5.00" height="9.90" fill="url(#hP2)" stroke="#c06a78" stroke-width="0.8"/>
<line x1="134.80" y1="338.30" x2="197.00" y2="338.30" stroke="#000" stroke-width="0.9"/>
<line x1="145.20" y1="338.30" x2="145.20" y2="339.30" stroke="#000" stroke-width="0.7"/>
<line x1="166.40" y1="338.30" x2="166.40" y2="339.30" stroke="#000" stroke-width="0.7"/>
<line x1="187.00" y1="338.30" x2="187.00" y2="339.30" stroke="#000" stroke-width="0.7"/>
<line x1="140.70" y1="302.50" x2="150.50" y2="302.50" stroke="#3a3a3a" stroke-width="0.5"/>
<text x="145.60" y="301.60" font-size="3.0" text-anchor="middle" font-weight="bold" fill="#000" font-family="'Liberation Serif',serif" stroke="#000" stroke-width="0.12">P&lt;0.01</text>
<line x1="160.50" y1="325.50" x2="172.50" y2="325.50" stroke="#3a3a3a" stroke-width="0.5"/>
<text x="166.50" y="324.60" font-size="3.0" text-anchor="middle" font-weight="bold" fill="#000" font-family="'Liberation Serif',serif" stroke="#000" stroke-width="0.12">P&lt;0.05</text>
<line x1="181.00" y1="326.50" x2="193.00" y2="326.50" stroke="#3a3a3a" stroke-width="0.5"/>
<text x="187.00" y="325.60" font-size="3.0" text-anchor="middle" font-weight="bold" fill="#000" font-family="'Liberation Serif',serif" stroke="#000" stroke-width="0.12">P&lt;0.05</text>
<rect x="155.50" y="295.20" width="5.50" height="2.00" fill="#2e5478" stroke="none" stroke-width="0.8"/>
<rect x="155.50" y="300.80" width="5.50" height="2.00" fill="#d88a98" stroke="none" stroke-width="0.8"/>
<text x="162.70" y="297.40" font-size="3.6" text-anchor="start" font-weight="bold" fill="#000" font-family="'Liberation Serif',serif" stroke="#000" stroke-width="0.12">HepG2/vera RBM58-OE</text>
<text x="162.70" y="303.00" font-size="3.6" text-anchor="start" font-weight="bold" fill="#000" font-family="'Liberation Serif',serif" stroke="#000" stroke-width="0.12">HepG2/vera RBM58-OE+GAS5 KD</text>
<text x="143.50" y="344.80" font-size="3.0" text-anchor="middle" font-weight="normal" fill="#000" font-family="'Liberation Serif',serif" transform="rotate(-45 143.50 344.80)">G0/G1</text>
<text x="165.00" y="344.80" font-size="3.0" text-anchor="middle" font-weight="normal" fill="#000" font-family="'Liberation Serif',serif" transform="rotate(-45 165.00 344.80)">G2</text>
<text x="186.00" y="344.80" font-size="3.0" text-anchor="middle" font-weight="normal" fill="#000" font-family="'Liberation Serif',serif" transform="rotate(-45 186.00 344.80)">S</text>
<text x="229.50" y="243.60" font-size="4.8" text-anchor="start" font-weight="bold" fill="#000" font-family="'Liberation Sans',sans-serif" stroke="#000" stroke-width="0.12">G</text>
<text x="281.00" y="243.50" font-size="3.8" text-anchor="middle" font-weight="bold" fill="#000" font-family="'Liberation Serif',serif" stroke="#000" stroke-width="0.12">7721/vera RBM58-OE</text>
<line x1="240.70" y1="245.90" x2="321.00" y2="245.90" stroke="#777" stroke-width="0.8"/>
<text x="258.60" y="250.30" font-size="3.3" text-anchor="middle" font-weight="bold" fill="#000" font-family="'Liberation Serif',serif" stroke="#000" stroke-width="0.12">NC</text>
<text x="301.50" y="250.30" font-size="3.3" text-anchor="middle" font-weight="bold" fill="#000" font-family="'Liberation Serif',serif" stroke="#000" stroke-width="0.12">GAS5 KD</text>
<svg x="240.70" y="251.20" width="38.40" height="26.50" overflow="hidden">
<rect x="0.00" y="0.00" width="38.40" height="26.50" fill="#f8f6f8" stroke="none" stroke-width="0.8"/>
<g><ellipse cx="17.4" cy="14.8" rx="1.74" ry="1.15" fill="#6a28c8" transform="rotate(81 17.4 14.8)"/><ellipse cx="7.3" cy="21.3" rx="0.88" ry="0.83" fill="#a060e8" transform="rotate(143 7.3 21.3)"/><ellipse cx="11.7" cy="2.4" rx="1.32" ry="1.07" fill="#8a3ee0" transform="rotate(107 11.7 2.4)"/><ellipse cx="17.4" cy="19.6" rx="1.26" ry="0.96" fill="#a060e8" transform="rotate(3 17.4 19.6)"/><ellipse cx="2.3" cy="5.0" rx="0.80" ry="0.67" fill="#8a3ee0" transform="rotate(140 2.3 5.0)"/><ellipse cx="22.7" cy="5.2" rx="0.93" ry="0.66" fill="#9a50e8" transform="rotate(90 22.7 5.2)"/><ellipse cx="17.6" cy="7.4" rx="1.43" ry="1.20" fill="#8a3ee0" transform="rotate(127 17.6 7.4)"/><ellipse cx="8.8" cy="7.7" rx="0.83" ry="0.55" fill="#8a3ee0" transform="rotate(72 8.8 7.7)"/><ellipse cx="14.8" cy="25.4" rx="1.70" ry="1.09" fill="#8a3ee0" transform="rotate(38 14.8 25.4)"/><ellipse cx="2.0" cy="9.9" rx="1.37" ry="1.00" fill="#6a28c8" transform="rotate(13 2.0 9.9)"/><ellipse cx="29.9" cy="7.1" rx="0.70" ry="0.56" fill="#9a50e8" transform="rotate(3 29.9 7.1)"/><ellipse cx="35.4" cy="3.6" rx="1.47" ry="0.99" fill="#8a3ee0" transform="rotate(11 35.4 3.6)"/><ellipse cx="6.8" cy="14.8" rx="1.19" ry="0.81" fill="#7a30d8" transform="rotate(177 6.8 14.8)"/><ellipse cx="16.1" cy="10.2" rx="1.18" ry="0.78" fill="#7a30d8" transform="rotate(0 16.1 10.2)"/><ellipse cx="37.4" cy="15.7" rx="1.48" ry="1.20" fill="#8a3ee0" transform="rotate(38 37.4 15.7)"/><ellipse cx="32.8" cy="17.0" rx="0.66" ry="0.57" fill="#7a30d8" transform="rotate(38 32.8 17.0)"/><ellipse cx="29.7" cy="8.7" rx="0.80" ry="0.71" fill="#8a3ee0" transform="rotate(13 29.7 8.7)"/><ellipse cx="24.4" cy="0.4" rx="1.19" ry="0.76" fill="#a060e8" transform="rotate(82 24.4 0.4)"/><ellipse cx="18.6" cy="15.2" rx="1.31" ry="1.11" fill="#7a30d8" transform="rotate(113 18.6 15.2)"/><ellipse cx="8.8" cy="16.2" rx="1.58" ry="1.01" fill="#7a30d8" transform="rotate(133 8.8 16.2)"/><ellipse cx="7.5" cy="25.2" rx="1.15" ry="1.12" fill="#a060e8" transform="rotate(14 7.5 25.2)"/><ellipse cx="4.2" cy="13.6" rx="1.01" ry="0.68" fill="#6a28c8" transform="rotate(46 4.2 13.6)"/><ellipse cx="22.9" cy="7.8" rx="0.80" ry="0.62" fill="#8a3ee0" transform="rotate(23 22.9 7.8)"/><ellipse cx="25.1" cy="16.3" rx="0.62" ry="0.55" fill="#7a30d8" transform="rotate(165 25.1 16.3)"/><ellipse cx="0.6" cy="7.1" rx="0.95" ry="0.81" fill="#8a3ee0" transform="rotate(8 0.6 7.1)"/><ellipse cx="20.4" cy="25.8" rx="0.90" ry="0.56" fill="#7a30d8" transform="rotate(160 20.4 25.8)"/><ellipse cx="25.2" cy="18.3" rx="1.41" ry="0.91" fill="#7a30d8" transform="rotate(106 25.2 18.3)"/><ellipse cx="18.2" cy="9.5" rx="0.99" ry="0.72" fill="#8a3ee0" transform="rotate(4 18.2 9.5)"/><ellipse cx="18.5" cy="19.4" rx="0.96" ry="0.72" fill="#8a3ee0" transform="rotate(14 18.5 19.4)"/><ellipse cx="28.3" cy="23.9" rx="1.57" ry="1.02" fill="#7a30d8" transform="rotate(143 28.3 23.9)"/><ellipse cx="13.5" cy="18.2" rx="1.15" ry="1.13" fill="#6a28c8" transform="rotate(170 13.5 18.2)"/><ellipse cx="19.2" cy="0.4" rx="1.32" ry="0.96" fill="#6a28c8" transform="rotate(105 19.2 0.4)"/><ellipse cx="3.1" cy="16.9" rx="1.47" ry="1.20" fill="#6a28c8" transform="rotate(131 3.1 16.9)"/><ellipse cx="28.2" cy="15.4" rx="1.17" ry="0.81" fill="#a060e8" transform="rotate(15 28.2 15.4)"/><ellipse cx="1.1" cy="15.9" rx="0.89" ry="0.84" fill="#7a30d8" transform="rotate(172 1.1 15.9)"/><ellipse cx="29.9" cy="17.5" rx="0.91" ry="0.84" fill="#8a3ee0" transform="rotate(66 29.9 17.5)"/><ellipse cx="23.5" cy="13.7" rx="1.30" ry="1.03" fill="#9a50e8" transform="rotate(119 23.5 13.7)"/><ellipse cx="34.2" cy="8.7" rx="1.43" ry="0.97" fill="#7a30d8" transform="rotate(114 34.2 8.7)"/><ellipse cx="29.0" cy="5.3" rx="0.77" ry="0.65" fill="#7a30d8" transform="rotate(105 29.0 5.3)"/><ellipse cx="5.2" cy="13.2" rx="1.70" ry="1.09" fill="#8a3ee0" transform="rotate(128 5.2 13.2)"/><ellipse cx="10.6" cy="4.5" rx="1.22" ry="0.82" fill="#9a50e8" transform="rotate(167 10.6 4.5)"/><ellipse cx="14.7" cy="13.8" rx="1.01" ry="0.97" fill="#a060e8" transform="rotate(81 14.7 13.8)"/><ellipse cx="1.2" cy="23.1" rx="0.63" ry="0.53" fill="#9a50e8" transform="rotate(103 1.2 23.1)"/><ellipse cx="30.4" cy="0.5" rx="0.87" ry="0.60" fill="#6a28c8" transform="rotate(34 30.4 0.5)"/><ellipse cx="10.2" cy="20.7" rx="1.46" ry="1.06" fill="#8a3ee0" transform="rotate(80 10.2 20.7)"/><ellipse cx="25.2" cy="21.4" rx="1.50" ry="1.17" fill="#7a30d8" transform="rotate(36 25.2 21.4)"/><ellipse cx="6.9" cy="0.3" rx="0.97" ry="0.83" fill="#8a3ee0" transform="rotate(32 6.9 0.3)"/><ellipse cx="13.3" cy="18.5" rx="0.95" ry="0.86" fill="#a060e8" transform="rotate(179 13.3 18.5)"/><ellipse cx="32.6" cy="18.5" rx="0.94" ry="0.66" fill="#6a28c8" transform="rotate(168 32.6 18.5)"/><ellipse cx="5.0" cy="12.0" rx="1.26" ry="0.94" fill="#8a3ee0" transform="rotate(68 5.0 12.0)"/><ellipse cx="33.8" cy="21.1" rx="1.85" ry="1.16" fill="#6a28c8" transform="rotate(59 33.8 21.1)"/><ellipse cx="3.8" cy="23.0" rx="1.63" ry="1.06" fill="#8a3ee0" transform="rotate(38 3.8 23.0)"/><ellipse cx="37.7" cy="25.9" rx="1.25" ry="0.88" fill="#9a50e8" transform="rotate(47 37.7 25.9)"/><ellipse cx="0.6" cy="13.4" rx="0.77" ry="0.53" fill="#9a50e8" transform="rotate(99 0.6 13.4)"/><ellipse cx="18.7" cy="0.8" rx="1.09" ry="1.07" fill="#8a3ee0" transform="rotate(77 18.7 0.8)"/></g>
</svg>
<svg x="280.80" y="251.60" width="39.80" height="26.10" overflow="hidden">
<rect x="0.00" y="0.00" width="39.80" height="26.10" fill="#eef2f8" stroke="none" stroke-width="0.8"/>
<g><ellipse cx="18.9" cy="17.2" rx="1.62" ry="1.02" fill="#7a30d8" transform="rotate(69 18.9 17.2)"/><ellipse cx="19.2" cy="16.8" rx="0.87" ry="0.87" fill="#a060e8" transform="rotate(41 19.2 16.8)"/><ellipse cx="24.8" cy="25.5" rx="0.84" ry="0.81" fill="#9a50e8" transform="rotate(163 24.8 25.5)"/><ellipse cx="32.6" cy="1.9" rx="1.52" ry="1.03" fill="#9a50e8" transform="rotate(123 32.6 1.9)"/><ellipse cx="3.5" cy="24.0" rx="1.79" ry="1.12" fill="#a060e8" transform="rotate(40 3.5 24.0)"/><ellipse cx="16.9" cy="11.6" rx="1.55" ry="1.01" fill="#7a30d8" transform="rotate(97 16.9 11.6)"/><ellipse cx="22.2" cy="25.5" rx="1.74" ry="1.17" fill="#a060e8" transform="rotate(31 22.2 25.5)"/><ellipse cx="15.9" cy="10.9" rx="1.28" ry="0.97" fill="#6a28c8" transform="rotate(110 15.9 10.9)"/><ellipse cx="25.5" cy="2.2" rx="0.83" ry="0.68" fill="#9a50e8" transform="rotate(64 25.5 2.2)"/><ellipse cx="27.5" cy="17.6" rx="0.77" ry="0.63" fill="#7a30d8" transform="rotate(60 27.5 17.6)"/><ellipse cx="22.8" cy="20.0" rx="0.85" ry="0.68" fill="#6a28c8" transform="rotate(148 22.8 20.0)"/><ellipse cx="20.7" cy="5.8" rx="1.16" ry="0.85" fill="#6a28c8" transform="rotate(37 20.7 5.8)"/><ellipse cx="30.0" cy="5.8" rx="0.70" ry="0.60" fill="#9a50e8" transform="rotate(7 30.0 5.8)"/><ellipse cx="13.7" cy="16.6" rx="0.71" ry="0.59" fill="#6a28c8" transform="rotate(66 13.7 16.6)"/><ellipse cx="18.1" cy="18.2" rx="1.26" ry="1.15" fill="#7a30d8" transform="rotate(172 18.1 18.2)"/><ellipse cx="36.8" cy="9.5" rx="0.69" ry="0.68" fill="#7a30d8" transform="rotate(164 36.8 9.5)"/><ellipse cx="10.7" cy="20.1" rx="1.03" ry="0.79" fill="#7a30d8" transform="rotate(143 10.7 20.1)"/><ellipse cx="9.9" cy="3.0" rx="0.81" ry="0.80" fill="#a060e8" transform="rotate(91 9.9 3.0)"/><ellipse cx="12.8" cy="20.6" rx="1.49" ry="1.13" fill="#8a3ee0" transform="rotate(41 12.8 20.6)"/><ellipse cx="19.0" cy="16.4" rx="0.81" ry="0.73" fill="#6a28c8" transform="rotate(161 19.0 16.4)"/><ellipse cx="11.6" cy="22.8" rx="0.94" ry="0.74" fill="#a060e8" transform="rotate(115 11.6 22.8)"/><ellipse cx="31.5" cy="19.2" rx="1.30" ry="0.91" fill="#8a3ee0" transform="rotate(123 31.5 19.2)"/><ellipse cx="5.2" cy="23.1" rx="1.08" ry="0.84" fill="#7a30d8" transform="rotate(36 5.2 23.1)"/><ellipse cx="2.3" cy="14.9" rx="1.32" ry="1.05" fill="#9a50e8" transform="rotate(137 2.3 14.9)"/><ellipse cx="23.4" cy="23.5" rx="1.75" ry="1.10" fill="#a060e8" transform="rotate(100 23.4 23.5)"/><ellipse cx="25.4" cy="10.0" rx="0.98" ry="0.66" fill="#7a30d8" transform="rotate(163 25.4 10.0)"/><ellipse cx="35.7" cy="23.8" rx="1.32" ry="0.92" fill="#6a28c8" transform="rotate(143 35.7 23.8)"/><ellipse cx="7.5" cy="7.1" rx="1.51" ry="1.11" fill="#a060e8" transform="rotate(89 7.5 7.1)"/><ellipse cx="8.4" cy="15.6" rx="1.28" ry="1.03" fill="#a060e8" transform="rotate(44 8.4 15.6)"/><ellipse cx="12.9" cy="17.9" rx="0.77" ry="0.65" fill="#8a3ee0" transform="rotate(130 12.9 17.9)"/><ellipse cx="7.2" cy="17.7" rx="1.01" ry="1.00" fill="#6a28c8" transform="rotate(66 7.2 17.7)"/><ellipse cx="19.4" cy="11.6" rx="0.77" ry="0.68" fill="#a060e8" transform="rotate(61 19.4 11.6)"/><ellipse cx="13.0" cy="24.6" rx="0.84" ry="0.56" fill="#9a50e8" transform="rotate(66 13.0 24.6)"/><ellipse cx="27.4" cy="7.7" rx="1.29" ry="0.91" fill="#7a30d8" transform="rotate(90 27.4 7.7)"/><ellipse cx="6.5" cy="12.1" rx="1.43" ry="0.97" fill="#7a30d8" transform="rotate(83 6.5 12.1)"/><ellipse cx="2.0" cy="20.2" rx="1.06" ry="0.84" fill="#6a28c8" transform="rotate(94 2.0 20.2)"/><ellipse cx="2.1" cy="2.8" rx="1.37" ry="0.95" fill="#9a50e8" transform="rotate(63 2.1 2.8)"/><ellipse cx="12.8" cy="13.0" rx="1.03" ry="0.80" fill="#9a50e8" transform="rotate(31 12.8 13.0)"/><ellipse cx="31.9" cy="3.5" rx="1.05" ry="0.90" fill="#6a28c8" transform="rotate(145 31.9 3.5)"/><ellipse cx="37.3" cy="15.6" rx="0.88" ry="0.82" fill="#a060e8" transform="rotate(58 37.3 15.6)"/><ellipse cx="25.5" cy="22.0" rx="1.34" ry="0.98" fill="#6a28c8" transform="rotate(74 25.5 22.0)"/><ellipse cx="10.5" cy="10.6" rx="1.21" ry="0.82" fill="#6a28c8" transform="rotate(169 10.5 10.6)"/><ellipse cx="7.3" cy="20.6" rx="1.49" ry="1.14" fill="#8a3ee0" transform="rotate(175 7.3 20.6)"/><ellipse cx="2.1" cy="21.8" rx="1.80" ry="1.16" fill="#9a50e8" transform="rotate(176 2.1 21.8)"/><ellipse cx="30.7" cy="22.4" rx="1.16" ry="0.77" fill="#7a30d8" transform="rotate(135 30.7 22.4)"/><ellipse cx="22.1" cy="1.1" rx="1.60" ry="1.12" fill="#7a30d8" transform="rotate(29 22.1 1.1)"/><ellipse cx="11.8" cy="5.0" rx="0.69" ry="0.68" fill="#9a50e8" transform="rotate(98 11.8 5.0)"/><ellipse cx="36.2" cy="9.5" rx="1.18" ry="0.90" fill="#7a30d8" transform="rotate(81 36.2 9.5)"/><ellipse cx="25.9" cy="20.9" rx="1.25" ry="0.90" fill="#9a50e8" transform="rotate(84 25.9 20.9)"/><ellipse cx="15.5" cy="10.8" rx="1.00" ry="0.91" fill="#9a50e8" transform="rotate(4 15.5 10.8)"/><ellipse cx="30.1" cy="9.6" rx="0.98" ry="0.62" fill="#6a28c8" transform="rotate(99 30.1 9.6)"/><ellipse cx="14.9" cy="1.9" rx="1.27" ry="1.19" fill="#9a50e8" transform="rotate(11 14.9 1.9)"/><ellipse cx="3.4" cy="1.5" rx="0.78" ry="0.56" fill="#7a30d8" transform="rotate(6 3.4 1.5)"/><ellipse cx="22.5" cy="24.1" rx="1.43" ry="1.06" fill="#8a3ee0" transform="rotate(107 22.5 24.1)"/><ellipse cx="32.0" cy="16.4" rx="1.16" ry="0.87" fill="#9a50e8" transform="rotate(76 32.0 16.4)"/><ellipse cx="12.6" cy="6.3" rx="0.63" ry="0.61" fill="#a060e8" transform="rotate(61 12.6 6.3)"/><ellipse cx="31.7" cy="17.9" rx="1.93" ry="1.24" fill="#7a30d8" transform="rotate(54 31.7 17.9)"/><ellipse cx="23.9" cy="17.5" rx="0.70" ry="0.56" fill="#7a30d8" transform="rotate(22 23.9 17.5)"/><ellipse cx="13.5" cy="10.6" rx="1.17" ry="0.77" fill="#a060e8" transform="rotate(69 13.5 10.6)"/><ellipse cx="39.4" cy="12.7" rx="0.94" ry="0.69" fill="#a060e8" transform="rotate(114 39.4 12.7)"/><ellipse cx="2.6" cy="8.9" rx="0.98" ry="0.74" fill="#a060e8" transform="rotate(23 2.6 8.9)"/><ellipse cx="37.9" cy="19.4" rx="0.78" ry="0.73" fill="#6a28c8" transform="rotate(178 37.9 19.4)"/><ellipse cx="23.4" cy="12.9" rx="1.08" ry="0.80" fill="#7a30d8" transform="rotate(107 23.4 12.9)"/><ellipse cx="15.1" cy="8.1" rx="1.08" ry="0.80" fill="#9a50e8" transform="rotate(170 15.1 8.1)"/><ellipse cx="2.8" cy="16.3" rx="1.61" ry="1.17" fill="#9a50e8" transform="rotate(112 2.8 16.3)"/><ellipse cx="34.2" cy="3.7" rx="0.94" ry="0.79" fill="#6a28c8" transform="rotate(8 34.2 3.7)"/><ellipse cx="21.4" cy="21.8" rx="1.19" ry="0.92" fill="#9a50e8" transform="rotate(29 21.4 21.8)"/><ellipse cx="3.6" cy="8.1" rx="1.66" ry="1.11" fill="#7a30d8" transform="rotate(51 3.6 8.1)"/><ellipse cx="9.3" cy="5.1" rx="1.28" ry="1.00" fill="#7a30d8" transform="rotate(106 9.3 5.1)"/><ellipse cx="38.2" cy="12.0" rx="1.49" ry="1.21" fill="#6a28c8" transform="rotate(79 38.2 12.0)"/><ellipse cx="10.9" cy="23.6" rx="0.99" ry="0.69" fill="#a060e8" transform="rotate(95 10.9 23.6)"/><ellipse cx="20.0" cy="17.3" rx="1.16" ry="0.98" fill="#9a50e8" transform="rotate(64 20.0 17.3)"/><ellipse cx="1.0" cy="23.2" rx="1.29" ry="1.10" fill="#6a28c8" transform="rotate(121 1.0 23.2)"/><ellipse cx="19.1" cy="18.0" rx="1.06" ry="0.91" fill="#a060e8" transform="rotate(57 19.1 18.0)"/><ellipse cx="16.5" cy="1.4" rx="0.67" ry="0.59" fill="#8a3ee0" transform="rotate(96 16.5 1.4)"/><ellipse cx="8.4" cy="20.3" rx="1.27" ry="0.94" fill="#a060e8" transform="rotate(88 8.4 20.3)"/><ellipse cx="37.1" cy="3.8" rx="1.11" ry="0.71" fill="#a060e8" transform="rotate(164 37.1 3.8)"/><ellipse cx="21.0" cy="9.6" rx="0.91" ry="0.68" fill="#7a30d8" transform="rotate(138 21.0 9.6)"/><ellipse cx="31.5" cy="6.8" rx="1.27" ry="0.92" fill="#6a28c8" transform="rotate(20 31.5 6.8)"/><ellipse cx="7.4" cy="21.9" rx="1.15" ry="1.14" fill="#8a3ee0" transform="rotate(78 7.4 21.9)"/><ellipse cx="19.7" cy="9.4" rx="1.28" ry="0.83" fill="#8a3ee0" transform="rotate(98 19.7 9.4)"/><ellipse cx="18.1" cy="20.6" rx="1.24" ry="1.23" fill="#a060e8" transform="rotate(72 18.1 20.6)"/><ellipse cx="20.1" cy="10.8" rx="0.85" ry="0.65" fill="#9a50e8" transform="rotate(143 20.1 10.8)"/><ellipse cx="24.8" cy="25.8" rx="0.92" ry="0.70" fill="#6a28c8" transform="rotate(50 24.8 25.8)"/><ellipse cx="15.7" cy="2.1" rx="1.43" ry="1.03" fill="#8a3ee0" transform="rotate(156 15.7 2.1)"/></g>
</svg>
<text x="281.00" y="284.80" font-size="3.8" text-anchor="middle" font-weight="bold" fill="#000" font-family="'Liberation Serif',serif" stroke="#000" stroke-width="0.12">HepG2/vera RBM58-OE</text>
<line x1="240.70" y1="286.80" x2="321.00" y2="286.80" stroke="#777" stroke-width="0.8"/>
<text x="258.60" y="290.60" font-size="3.3" text-anchor="middle" font-weight="bold" fill="#000" font-family="'Liberation Serif',serif" stroke="#000" stroke-width="0.12">NC</text>
<text x="301.50" y="290.60" font-size="3.3" text-anchor="middle" font-weight="bold" fill="#000" font-family="'Liberation Serif',serif" stroke="#000" stroke-width="0.12">GAS5 KD</text>
<svg x="240.70" y="291.40" width="38.40" height="26.60" overflow="hidden">
<rect x="0.00" y="0.00" width="38.40" height="26.60" fill="#f2ecf2" stroke="none" stroke-width="0.8"/>
<g><ellipse cx="9.9" cy="18.2" rx="1.78" ry="0.86" fill="#3a2a9a" transform="rotate(117 9.9 18.2)"/><ellipse cx="33.4" cy="17.0" rx="0.75" ry="0.56" fill="#2a1a8a" transform="rotate(96 33.4 17.0)"/><ellipse cx="11.3" cy="11.5" rx="2.22" ry="0.95" fill="#2a1a8a" transform="rotate(179 11.3 11.5)"/><ellipse cx="3.3" cy="21.1" rx="2.15" ry="0.98" fill="#22167a" transform="rotate(149 3.3 21.1)"/><ellipse cx="36.5" cy="21.1" rx="1.33" ry="0.60" fill="#3a2a9a" transform="rotate(88 36.5 21.1)"/><ellipse cx="21.7" cy="11.4" rx="1.37" ry="0.67" fill="#3a30a8" transform="rotate(115 21.7 11.4)"/><ellipse cx="13.3" cy="15.8" rx="1.57" ry="0.83" fill="#22167a" transform="rotate(124 13.3 15.8)"/><ellipse cx="28.7" cy="3.6" rx="1.26" ry="0.86" fill="#3a30a8" transform="rotate(96 28.7 3.6)"/><ellipse cx="6.9" cy="9.5" rx="1.10" ry="0.67" fill="#22167a" transform="rotate(109 6.9 9.5)"/><ellipse cx="5.0" cy="13.1" rx="1.25" ry="0.59" fill="#3a2a9a" transform="rotate(160 5.0 13.1)"/><ellipse cx="5.0" cy="11.4" rx="1.78" ry="0.83" fill="#3a30a8" transform="rotate(70 5.0 11.4)"/><ellipse cx="35.8" cy="1.1" rx="0.67" ry="0.54" fill="#3a30a8" transform="rotate(115 35.8 1.1)"/><ellipse cx="15.9" cy="23.1" rx="2.32" ry="0.98" fill="#22167a" transform="rotate(37 15.9 23.1)"/><ellipse cx="14.4" cy="19.1" rx="0.71" ry="0.53" fill="#3a2a9a" transform="rotate(130 14.4 19.1)"/><ellipse cx="23.7" cy="15.5" rx="1.54" ry="0.80" fill="#22167a" transform="rotate(105 23.7 15.5)"/><ellipse cx="7.0" cy="5.1" rx="1.17" ry="0.92" fill="#2a1a8a" transform="rotate(162 7.0 5.1)"/><ellipse cx="16.5" cy="15.8" rx="2.17" ry="0.93" fill="#2a1a8a" transform="rotate(175 16.5 15.8)"/><ellipse cx="24.8" cy="14.0" rx="0.78" ry="0.53" fill="#22167a" transform="rotate(22 24.8 14.0)"/><ellipse cx="10.3" cy="15.9" rx="1.17" ry="0.50" fill="#3a30a8" transform="rotate(94 10.3 15.9)"/><ellipse cx="1.4" cy="8.5" rx="0.72" ry="0.54" fill="#3a30a8" transform="rotate(40 1.4 8.5)"/><ellipse cx="30.7" cy="10.0" rx="1.24" ry="0.88" fill="#3a2a9a" transform="rotate(133 30.7 10.0)"/><ellipse cx="26.3" cy="22.6" rx="0.84" ry="0.61" fill="#3a2a9a" transform="rotate(64 26.3 22.6)"/><ellipse cx="11.0" cy="5.4" rx="1.15" ry="0.66" fill="#2a1a8a" transform="rotate(57 11.0 5.4)"/><ellipse cx="2.6" cy="1.2" rx="1.77" ry="1.00" fill="#22167a" transform="rotate(34 2.6 1.2)"/><ellipse cx="21.3" cy="8.9" rx="0.77" ry="0.62" fill="#3a30a8" transform="rotate(171 21.3 8.9)"/><ellipse cx="2.0" cy="9.8" rx="0.88" ry="0.54" fill="#22167a" transform="rotate(55 2.0 9.8)"/><ellipse cx="1.3" cy="3.4" rx="1.29" ry="0.67" fill="#3a30a8" transform="rotate(105 1.3 3.4)"/><ellipse cx="16.7" cy="9.3" rx="1.52" ry="0.63" fill="#2a1a8a" transform="rotate(58 16.7 9.3)"/><ellipse cx="20.9" cy="3.3" rx="0.95" ry="0.45" fill="#3a2a9a" transform="rotate(164 20.9 3.3)"/><ellipse cx="3.4" cy="24.8" rx="0.66" ry="0.49" fill="#22167a" transform="rotate(144 3.4 24.8)"/><ellipse cx="27.6" cy="17.7" rx="1.65" ry="1.01" fill="#3a30a8" transform="rotate(35 27.6 17.7)"/><ellipse cx="2.1" cy="14.6" rx="1.07" ry="0.48" fill="#3a2a9a" transform="rotate(170 2.1 14.6)"/><ellipse cx="14.2" cy="10.5" rx="0.86" ry="0.54" fill="#22167a" transform="rotate(47 14.2 10.5)"/><ellipse cx="35.8" cy="4.4" rx="1.19" ry="0.46" fill="#22167a" transform="rotate(156 35.8 4.4)"/><ellipse cx="31.1" cy="11.3" rx="0.88" ry="0.82" fill="#22167a" transform="rotate(165 31.1 11.3)"/><ellipse cx="3.6" cy="10.8" rx="1.54" ry="0.68" fill="#3a30a8" transform="rotate(48 3.6 10.8)"/><ellipse cx="17.3" cy="0.1" rx="0.64" ry="0.47" fill="#22167a" transform="rotate(50 17.3 0.1)"/><ellipse cx="38.1" cy="25.4" rx="2.64" ry="1.02" fill="#22167a" transform="rotate(75 38.1 25.4)"/><ellipse cx="29.3" cy="12.9" rx="1.54" ry="0.61" fill="#3a30a8" transform="rotate(104 29.3 12.9)"/><ellipse cx="17.8" cy="20.4" rx="2.15" ry="0.88" fill="#3a2a9a" transform="rotate(5 17.8 20.4)"/><ellipse cx="18.5" cy="13.3" rx="0.78" ry="0.53" fill="#2a1a8a" transform="rotate(106 18.5 13.3)"/><ellipse cx="34.0" cy="13.2" rx="1.67" ry="0.76" fill="#2a1a8a" transform="rotate(39 34.0 13.2)"/><ellipse cx="24.9" cy="11.4" rx="2.14" ry="1.03" fill="#2a1a8a" transform="rotate(140 24.9 11.4)"/><ellipse cx="11.4" cy="16.5" rx="1.19" ry="0.84" fill="#3a30a8" transform="rotate(167 11.4 16.5)"/><ellipse cx="18.7" cy="16.2" rx="1.45" ry="0.60" fill="#2a1a8a" transform="rotate(103 18.7 16.2)"/><ellipse cx="34.8" cy="17.4" rx="1.48" ry="0.81" fill="#3a30a8" transform="rotate(42 34.8 17.4)"/></g>
</svg>
<svg x="280.80" y="291.40" width="39.80" height="26.60" overflow="hidden">
<rect x="0.00" y="0.00" width="39.80" height="26.60" fill="#eceef4" stroke="none" stroke-width="0.8"/>
<g><ellipse cx="4.3" cy="18.7" rx="1.19" ry="0.84" fill="#3a2a9a" transform="rotate(49 4.3 18.7)"/><ellipse cx="29.2" cy="17.5" rx="1.55" ry="0.63" fill="#3a30a8" transform="rotate(71 29.2 17.5)"/><ellipse cx="10.5" cy="23.2" rx="1.29" ry="0.64" fill="#22167a" transform="rotate(65 10.5 23.2)"/><ellipse cx="20.5" cy="4.3" rx="1.73" ry="0.85" fill="#22167a" transform="rotate(30 20.5 4.3)"/><ellipse cx="4.9" cy="9.0" rx="0.81" ry="0.50" fill="#3a2a9a" transform="rotate(154 4.9 9.0)"/><ellipse cx="23.2" cy="24.9" rx="2.07" ry="0.99" fill="#2a1a8a" transform="rotate(157 23.2 24.9)"/><ellipse cx="4.4" cy="15.7" rx="1.82" ry="0.83" fill="#3a2a9a" transform="rotate(156 4.4 15.7)"/><ellipse cx="19.4" cy="17.9" rx="0.89" ry="0.61" fill="#3a2a9a" transform="rotate(87 19.4 17.9)"/><ellipse cx="10.1" cy="3.2" rx="1.10" ry="1.05" fill="#22167a" transform="rotate(51 10.1 3.2)"/><ellipse cx="29.5" cy="3.0" rx="1.96" ry="0.77" fill="#2a1a8a" transform="rotate(77 29.5 3.0)"/><ellipse cx="6.7" cy="10.3" rx="1.24" ry="0.64" fill="#3a30a8" transform="rotate(79 6.7 10.3)"/><ellipse cx="3.8" cy="12.6" rx="0.73" ry="0.59" fill="#3a30a8" transform="rotate(12 3.8 12.6)"/><ellipse cx="28.0" cy="15.2" rx="0.77" ry="0.46" fill="#3a30a8" transform="rotate(170 28.0 15.2)"/><ellipse cx="13.8" cy="15.1" rx="1.87" ry="1.01" fill="#22167a" transform="rotate(64 13.8 15.1)"/><ellipse cx="1.7" cy="14.9" rx="0.98" ry="0.93" fill="#2a1a8a" transform="rotate(70 1.7 14.9)"/><ellipse cx="12.4" cy="26.1" rx="1.83" ry="0.80" fill="#22167a" transform="rotate(94 12.4 26.1)"/><ellipse cx="39.4" cy="3.0" rx="1.43" ry="1.02" fill="#3a2a9a" transform="rotate(0 39.4 3.0)"/><ellipse cx="19.9" cy="4.9" rx="1.28" ry="0.57" fill="#22167a" transform="rotate(52 19.9 4.9)"/><ellipse cx="14.7" cy="14.9" rx="1.89" ry="0.81" fill="#3a2a9a" transform="rotate(91 14.7 14.9)"/><ellipse cx="14.6" cy="10.2" rx="2.59" ry="1.03" fill="#22167a" transform="rotate(88 14.6 10.2)"/><ellipse cx="1.3" cy="17.1" rx="1.62" ry="0.71" fill="#22167a" transform="rotate(16 1.3 17.1)"/><ellipse cx="5.2" cy="1.5" rx="1.73" ry="1.01" fill="#3a2a9a" transform="rotate(47 5.2 1.5)"/><ellipse cx="21.7" cy="10.1" rx="1.72" ry="0.92" fill="#22167a" transform="rotate(127 21.7 10.1)"/><ellipse cx="16.7" cy="11.8" rx="1.04" ry="0.50" fill="#3a2a9a" transform="rotate(26 16.7 11.8)"/><ellipse cx="8.8" cy="17.2" rx="1.65" ry="0.84" fill="#22167a" transform="rotate(179 8.8 17.2)"/><ellipse cx="32.8" cy="18.7" rx="1.40" ry="0.80" fill="#3a30a8" transform="rotate(48 32.8 18.7)"/><ellipse cx="37.1" cy="23.0" rx="0.54" ry="0.49" fill="#2a1a8a" transform="rotate(166 37.1 23.0)"/><ellipse cx="33.4" cy="3.1" rx="1.09" ry="0.48" fill="#3a2a9a" transform="rotate(12 33.4 3.1)"/><ellipse cx="12.1" cy="3.6" rx="1.16" ry="0.68" fill="#3a2a9a" transform="rotate(1 12.1 3.6)"/><ellipse cx="31.2" cy="13.2" rx="1.10" ry="0.77" fill="#22167a" transform="rotate(15 31.2 13.2)"/><ellipse cx="11.2" cy="15.8" rx="0.76" ry="0.75" fill="#3a2a9a" transform="rotate(130 11.2 15.8)"/><ellipse cx="14.3" cy="3.0" rx="0.81" ry="0.52" fill="#3a30a8" transform="rotate(80 14.3 3.0)"/><ellipse cx="37.3" cy="0.8" rx="0.98" ry="0.53" fill="#22167a" transform="rotate(174 37.3 0.8)"/><ellipse cx="33.2" cy="11.8" rx="1.53" ry="0.99" fill="#2a1a8a" transform="rotate(180 33.2 11.8)"/><ellipse cx="15.3" cy="16.0" rx="1.35" ry="0.60" fill="#3a30a8" transform="rotate(175 15.3 16.0)"/><ellipse cx="15.0" cy="19.0" rx="1.39" ry="0.60" fill="#2a1a8a" transform="rotate(137 15.0 19.0)"/><ellipse cx="7.8" cy="22.6" rx="1.02" ry="0.49" fill="#2a1a8a" transform="rotate(82 7.8 22.6)"/><ellipse cx="2.0" cy="5.0" rx="1.57" ry="0.94" fill="#22167a" transform="rotate(139 2.0 5.0)"/><ellipse cx="9.0" cy="19.8" rx="1.43" ry="0.83" fill="#3a2a9a" transform="rotate(129 9.0 19.8)"/><ellipse cx="8.1" cy="2.9" rx="1.04" ry="0.67" fill="#3a2a9a" transform="rotate(136 8.1 2.9)"/><ellipse cx="19.8" cy="22.0" rx="1.11" ry="0.64" fill="#3a2a9a" transform="rotate(110 19.8 22.0)"/><ellipse cx="35.9" cy="21.8" rx="0.92" ry="0.74" fill="#22167a" transform="rotate(96 35.9 21.8)"/><ellipse cx="20.7" cy="18.2" rx="1.88" ry="0.74" fill="#22167a" transform="rotate(66 20.7 18.2)"/><ellipse cx="6.9" cy="21.2" rx="1.11" ry="0.46" fill="#2a1a8a" transform="rotate(179 6.9 21.2)"/><ellipse cx="9.1" cy="23.0" rx="2.21" ry="0.96" fill="#3a30a8" transform="rotate(148 9.1 23.0)"/><ellipse cx="7.1" cy="6.6" rx="1.78" ry="0.97" fill="#22167a" transform="rotate(60 7.1 6.6)"/><ellipse cx="38.9" cy="2.9" rx="0.62" ry="0.47" fill="#22167a" transform="rotate(31 38.9 2.9)"/><ellipse cx="31.5" cy="3.0" rx="1.39" ry="0.96" fill="#3a2a9a" transform="rotate(168 31.5 3.0)"/><ellipse cx="17.6" cy="10.3" rx="0.97" ry="0.52" fill="#2a1a8a" transform="rotate(127 17.6 10.3)"/><ellipse cx="37.2" cy="1.6" rx="0.88" ry="0.78" fill="#3a30a8" transform="rotate(35 37.2 1.6)"/><ellipse cx="14.5" cy="26.2" rx="1.61" ry="0.74" fill="#2a1a8a" transform="rotate(15 14.5 26.2)"/><ellipse cx="3.6" cy="14.8" rx="1.11" ry="0.59" fill="#2a1a8a" transform="rotate(24 3.6 14.8)"/><ellipse cx="12.6" cy="13.6" rx="1.51" ry="0.84" fill="#22167a" transform="rotate(22 12.6 13.6)"/><ellipse cx="33.8" cy="4.4" rx="0.79" ry="0.74" fill="#2a1a8a" transform="rotate(114 33.8 4.4)"/><ellipse cx="18.0" cy="0.4" rx="0.91" ry="0.49" fill="#3a30a8" transform="rotate(37 18.0 0.4)"/><ellipse cx="14.1" cy="18.7" rx="1.70" ry="1.01" fill="#3a2a9a" transform="rotate(165 14.1 18.7)"/><ellipse cx="7.1" cy="25.6" rx="0.92" ry="0.70" fill="#22167a" transform="rotate(87 7.1 25.6)"/><ellipse cx="35.0" cy="23.5" rx="2.47" ry="0.98" fill="#3a30a8" transform="rotate(28 35.0 23.5)"/><ellipse cx="21.6" cy="18.5" rx="0.85" ry="0.63" fill="#3a2a9a" transform="rotate(145 21.6 18.5)"/><ellipse cx="27.7" cy="17.4" rx="0.81" ry="0.60" fill="#2a1a8a" transform="rotate(37 27.7 17.4)"/></g>
</svg>
<line x1="347.70" y1="249.60" x2="347.70" y2="298.80" stroke="#000" stroke-width="0.9"/>
<line x1="346.50" y1="249.90" x2="347.70" y2="249.90" stroke="#000" stroke-width="0.7"/>
<text x="345.90" y="251.00" font-size="3.2" text-anchor="end" font-weight="bold" fill="#000" font-family="'Liberation Serif',serif" stroke="#000" stroke-width="0.12">150</text>
<line x1="346.50" y1="266.20" x2="347.70" y2="266.20" stroke="#000" stroke-width="0.7"/>
<text x="345.90" y="267.30" font-size="3.2" text-anchor="end" font-weight="bold" fill="#000" font-family="'Liberation Serif',serif" stroke="#000" stroke-width="0.12">100</text>
<line x1="346.50" y1="282.40" x2="347.70" y2="282.40" stroke="#000" stroke-width="0.7"/>
<text x="345.90" y="283.50" font-size="3.2" text-anchor="end" font-weight="bold" fill="#000" font-family="'Liberation Serif',serif" stroke="#000" stroke-width="0.12">50</text>
<line x1="346.50" y1="298.40" x2="347.70" y2="298.40" stroke="#000" stroke-width="0.7"/>
<text x="345.90" y="299.50" font-size="3.2" text-anchor="end" font-weight="bold" fill="#000" font-family="'Liberation Serif',serif" stroke="#000" stroke-width="0.12">0</text>
<text x="337.00" y="278.50" font-size="3.2" text-anchor="middle" font-weight="bold" fill="#000" font-family="'Liberation Serif',serif" stroke="#000" stroke-width="0.12" transform="rotate(-90 337.00 278.50)">Cells/field</text>
<rect x="352.10" y="273.10" width="9.60" height="25.30" fill="url(#hP)" stroke="#b86b77" stroke-width="0.9"/>
<line x1="356.90" y1="273.10" x2="356.90" y2="270.50" stroke="#b86b77" stroke-width="0.7"/>
<line x1="354.90" y1="270.50" x2="358.90" y2="270.50" stroke="#b86b77" stroke-width="0.7"/>
<rect x="370.70" y="255.00" width="9.10" height="43.40" fill="url(#hR)" stroke="#d9485e" stroke-width="0.9"/>
<line x1="375.25" y1="255.00" x2="375.25" y2="253.40" stroke="#d9485e" stroke-width="0.7"/>
<line x1="373.25" y1="253.40" x2="377.25" y2="253.40" stroke="#d9485e" stroke-width="0.7"/>
<rect x="388.40" y="278.90" width="9.50" height="19.50" fill="url(#hO2)" stroke="#e8804a" stroke-width="0.9"/>
<line x1="393.15" y1="278.90" x2="393.15" y2="278.30" stroke="#e8804a" stroke-width="0.7"/>
<line x1="391.15" y1="278.30" x2="395.15" y2="278.30" stroke="#e8804a" stroke-width="0.7"/>
<rect x="406.70" y="265.90" width="9.10" height="32.50" fill="url(#hB)" stroke="#3f6585" stroke-width="0.9"/>
<line x1="411.25" y1="265.90" x2="411.25" y2="265.30" stroke="#3f6585" stroke-width="0.7"/>
<line x1="409.25" y1="265.30" x2="413.25" y2="265.30" stroke="#3f6585" stroke-width="0.7"/>
<line x1="347.70" y1="298.40" x2="420.90" y2="298.40" stroke="#000" stroke-width="0.9"/>
<line x1="356.90" y1="298.40" x2="356.90" y2="299.40" stroke="#000" stroke-width="0.7"/>
<line x1="375.20" y1="298.40" x2="375.20" y2="299.40" stroke="#000" stroke-width="0.7"/>
<line x1="393.10" y1="298.40" x2="393.10" y2="299.40" stroke="#000" stroke-width="0.7"/>
<line x1="411.20" y1="298.40" x2="411.20" y2="299.40" stroke="#000" stroke-width="0.7"/>
<line x1="357.60" y1="252.40" x2="373.60" y2="252.40" stroke="#3a3a3a" stroke-width="0.5"/>
<text x="365.60" y="249.80" font-size="3.3" text-anchor="middle" font-weight="bold" fill="#000" font-family="'Liberation Serif',serif" stroke="#000" stroke-width="0.12">P&lt;0.0020</text>
<line x1="393.20" y1="263.00" x2="410.70" y2="263.00" stroke="#3a3a3a" stroke-width="0.5"/>
<text x="401.95" y="260.40" font-size="3.3" text-anchor="middle" font-weight="bold" fill="#000" font-family="'Liberation Serif',serif" stroke="#000" stroke-width="0.12">P&lt;0.0020</text>
<text x="357.00" y="306.60" font-size="3.3" text-anchor="middle" font-weight="bold" fill="#000" font-family="'Liberation Serif',serif" stroke="#000" stroke-width="0.12">NC</text>
<text x="376.00" y="306.60" font-size="3.3" text-anchor="middle" font-weight="bold" fill="#000" font-family="'Liberation Serif',serif" stroke="#000" stroke-width="0.12">GAS5 KD</text>
<text x="393.50" y="306.60" font-size="3.3" text-anchor="middle" font-weight="bold" fill="#000" font-family="'Liberation Serif',serif" stroke="#000" stroke-width="0.12">NC</text>
<text x="412.00" y="306.60" font-size="3.3" text-anchor="middle" font-weight="bold" fill="#000" font-family="'Liberation Serif',serif" stroke="#000" stroke-width="0.12">GAS5 KD</text>
<line x1="351.00" y1="308.30" x2="383.00" y2="308.30" stroke="#444" stroke-width="0.6"/>
<line x1="389.00" y1="308.30" x2="423.00" y2="308.30" stroke="#444" stroke-width="0.6"/>
<text x="367.00" y="313.30" font-size="3.3" text-anchor="middle" font-weight="bold" fill="#000" font-family="'Liberation Serif',serif" stroke="#000" stroke-width="0.12">7721/vera RBM58-OE</text>
<text x="406.00" y="313.30" font-size="3.3" text-anchor="middle" font-weight="bold" fill="#000" font-family="'Liberation Serif',serif" stroke="#000" stroke-width="0.12">HepG2/vera RBM58-OE</text>
<text x="229.50" y="338.90" font-size="4.8" text-anchor="start" font-weight="bold" fill="#000" font-family="'Liberation Sans',sans-serif" stroke="#000" stroke-width="0.12">H</text>
<text x="281.00" y="337.60" font-size="3.8" text-anchor="middle" font-weight="bold" fill="#000" font-family="'Liberation Serif',serif" stroke="#000" stroke-width="0.12">7721/vera RBM58-OE</text>
<line x1="239.00" y1="340.20" x2="321.00" y2="340.20" stroke="#777" stroke-width="0.8"/>
<text x="257.90" y="343.90" font-size="3.3" text-anchor="middle" font-weight="bold" fill="#000" font-family="'Liberation Serif',serif" stroke="#000" stroke-width="0.12">NC</text>
<text x="300.50" y="343.90" font-size="3.3" text-anchor="middle" font-weight="bold" fill="#000" font-family="'Liberation Serif',serif" stroke="#000" stroke-width="0.12">GAS5 KD</text>
<svg x="239.00" y="344.40" width="39.00" height="23.10" overflow="hidden">
<rect x="0.00" y="0.00" width="39.00" height="23.10" fill="#f4f2f8" stroke="none" stroke-width="0.8"/>
<g><ellipse cx="6.4" cy="15.9" rx="1.66" ry="1.04" fill="#6a28c8" transform="rotate(152 6.4 15.9)"/><ellipse cx="18.5" cy="22.3" rx="0.73" ry="0.73" fill="#a060e8" transform="rotate(42 18.5 22.3)"/><ellipse cx="14.5" cy="13.5" rx="0.92" ry="0.65" fill="#7a30d8" transform="rotate(166 14.5 13.5)"/><ellipse cx="17.0" cy="23.0" rx="1.16" ry="1.14" fill="#6a28c8" transform="rotate(111 17.0 23.0)"/><ellipse cx="12.8" cy="11.5" rx="0.98" ry="0.68" fill="#9a50e8" transform="rotate(4 12.8 11.5)"/><ellipse cx="3.5" cy="18.7" rx="0.74" ry="0.61" fill="#7a30d8" transform="rotate(99 3.5 18.7)"/><ellipse cx="18.9" cy="4.3" rx="0.70" ry="0.63" fill="#7a30d8" transform="rotate(13 18.9 4.3)"/><ellipse cx="26.3" cy="18.5" rx="1.11" ry="1.06" fill="#a060e8" transform="rotate(178 26.3 18.5)"/><ellipse cx="21.8" cy="12.9" rx="1.34" ry="0.87" fill="#9a50e8" transform="rotate(166 21.8 12.9)"/><ellipse cx="16.0" cy="8.4" rx="1.18" ry="0.92" fill="#6a28c8" transform="rotate(57 16.0 8.4)"/><ellipse cx="10.4" cy="19.3" rx="0.74" ry="0.71" fill="#6a28c8" transform="rotate(1 10.4 19.3)"/><ellipse cx="23.4" cy="12.1" rx="1.37" ry="1.00" fill="#9a50e8" transform="rotate(100 23.4 12.1)"/><ellipse cx="7.0" cy="3.9" rx="1.15" ry="0.84" fill="#9a50e8" transform="rotate(62 7.0 3.9)"/><ellipse cx="12.0" cy="2.4" rx="0.79" ry="0.65" fill="#7a30d8" transform="rotate(140 12.0 2.4)"/><ellipse cx="26.7" cy="15.6" rx="1.96" ry="1.23" fill="#7a30d8" transform="rotate(73 26.7 15.6)"/><ellipse cx="37.5" cy="13.6" rx="1.71" ry="1.22" fill="#6a28c8" transform="rotate(91 37.5 13.6)"/><ellipse cx="36.5" cy="5.7" rx="1.45" ry="0.99" fill="#6a28c8" transform="rotate(145 36.5 5.7)"/><ellipse cx="18.8" cy="19.3" rx="0.65" ry="0.64" fill="#9a50e8" transform="rotate(119 18.8 19.3)"/><ellipse cx="9.7" cy="9.1" rx="1.75" ry="1.21" fill="#7a30d8" transform="rotate(177 9.7 9.1)"/><ellipse cx="18.7" cy="5.8" rx="1.64" ry="1.27" fill="#a060e8" transform="rotate(164 18.7 5.8)"/><ellipse cx="37.2" cy="20.8" rx="1.16" ry="0.86" fill="#7a30d8" transform="rotate(159 37.2 20.8)"/><ellipse cx="16.6" cy="13.4" rx="1.62" ry="1.19" fill="#9a50e8" transform="rotate(25 16.6 13.4)"/><ellipse cx="5.4" cy="16.6" rx="0.88" ry="0.87" fill="#7a30d8" transform="rotate(172 5.4 16.6)"/><ellipse cx="23.2" cy="14.9" rx="1.69" ry="1.20" fill="#a060e8" transform="rotate(76 23.2 14.9)"/><ellipse cx="29.3" cy="18.8" rx="0.74" ry="0.70" fill="#7a30d8" transform="rotate(17 29.3 18.8)"/><ellipse cx="1.0" cy="10.3" rx="0.75" ry="0.70" fill="#8a3ee0" transform="rotate(118 1.0 10.3)"/><ellipse cx="21.0" cy="7.5" rx="1.05" ry="0.95" fill="#7a30d8" transform="rotate(112 21.0 7.5)"/><ellipse cx="33.4" cy="4.7" rx="1.46" ry="1.12" fill="#8a3ee0" transform="rotate(109 33.4 4.7)"/><ellipse cx="29.1" cy="1.3" rx="1.30" ry="1.25" fill="#6a28c8" transform="rotate(83 29.1 1.3)"/><ellipse cx="29.8" cy="4.0" rx="1.50" ry="1.10" fill="#9a50e8" transform="rotate(174 29.8 4.0)"/><ellipse cx="29.1" cy="5.7" rx="1.05" ry="0.71" fill="#9a50e8" transform="rotate(147 29.1 5.7)"/><ellipse cx="19.1" cy="13.2" rx="1.41" ry="0.98" fill="#8a3ee0" transform="rotate(91 19.1 13.2)"/><ellipse cx="37.7" cy="7.2" rx="1.21" ry="1.09" fill="#a060e8" transform="rotate(136 37.7 7.2)"/><ellipse cx="24.0" cy="7.5" rx="1.18" ry="0.74" fill="#8a3ee0" transform="rotate(57 24.0 7.5)"/><ellipse cx="4.2" cy="1.8" rx="1.02" ry="0.65" fill="#6a28c8" transform="rotate(91 4.2 1.8)"/><ellipse cx="26.5" cy="16.3" rx="1.15" ry="0.93" fill="#a060e8" transform="rotate(70 26.5 16.3)"/><ellipse cx="8.8" cy="1.1" rx="1.22" ry="0.90" fill="#7a30d8" transform="rotate(50 8.8 1.1)"/><ellipse cx="15.8" cy="9.9" rx="1.50" ry="1.16" fill="#6a28c8" transform="rotate(69 15.8 9.9)"/><ellipse cx="24.6" cy="22.2" rx="0.81" ry="0.66" fill="#6a28c8" transform="rotate(31 24.6 22.2)"/><ellipse cx="23.6" cy="5.0" rx="1.39" ry="0.91" fill="#a060e8" transform="rotate(120 23.6 5.0)"/><ellipse cx="27.3" cy="15.8" rx="1.06" ry="0.77" fill="#6a28c8" transform="rotate(69 27.3 15.8)"/><ellipse cx="32.2" cy="22.3" rx="1.45" ry="1.29" fill="#8a3ee0" transform="rotate(29 32.2 22.3)"/><ellipse cx="34.2" cy="16.5" rx="0.78" ry="0.66" fill="#7a30d8" transform="rotate(14 34.2 16.5)"/><ellipse cx="36.8" cy="17.1" rx="1.02" ry="0.92" fill="#8a3ee0" transform="rotate(178 36.8 17.1)"/><ellipse cx="16.9" cy="15.7" rx="1.00" ry="0.86" fill="#a060e8" transform="rotate(123 16.9 15.7)"/></g>
</svg>
<svg x="280.90" y="344.50" width="39.10" height="23.10" overflow="hidden">
<rect x="0.00" y="0.00" width="39.10" height="23.10" fill="#f4f0f8" stroke="none" stroke-width="0.8"/>
<g><ellipse cx="37.5" cy="3.2" rx="0.66" ry="0.62" fill="#4a28b8" transform="rotate(33 37.5 3.2)"/><ellipse cx="25.5" cy="8.0" rx="1.35" ry="1.31" fill="#5a30c8" transform="rotate(48 25.5 8.0)"/><ellipse cx="38.2" cy="4.1" rx="1.07" ry="1.04" fill="#4a28b8" transform="rotate(127 38.2 4.1)"/><ellipse cx="34.5" cy="13.6" rx="0.91" ry="0.85" fill="#5a30c8" transform="rotate(32 34.5 13.6)"/><ellipse cx="20.8" cy="16.8" rx="1.66" ry="1.39" fill="#8a50e0" transform="rotate(11 20.8 16.8)"/><ellipse cx="13.1" cy="4.3" rx="1.37" ry="0.91" fill="#8a50e0" transform="rotate(26 13.1 4.3)"/><ellipse cx="26.1" cy="4.3" rx="0.80" ry="0.64" fill="#8a50e0" transform="rotate(162 26.1 4.3)"/><ellipse cx="9.8" cy="6.6" rx="2.02" ry="1.31" fill="#4a28b8" transform="rotate(119 9.8 6.6)"/><ellipse cx="12.0" cy="8.6" rx="1.43" ry="1.07" fill="#7a48e0" transform="rotate(104 12.0 8.6)"/><ellipse cx="20.6" cy="17.5" rx="2.11" ry="1.32" fill="#4a28b8" transform="rotate(16 20.6 17.5)"/><ellipse cx="13.9" cy="10.0" rx="1.14" ry="0.92" fill="#5a30c8" transform="rotate(92 13.9 10.0)"/><ellipse cx="3.8" cy="20.7" rx="0.82" ry="0.74" fill="#8a50e0" transform="rotate(68 3.8 20.7)"/><ellipse cx="35.6" cy="14.5" rx="1.41" ry="0.95" fill="#6a3ad8" transform="rotate(96 35.6 14.5)"/><ellipse cx="25.3" cy="4.7" rx="1.24" ry="1.15" fill="#6a3ad8" transform="rotate(35 25.3 4.7)"/><ellipse cx="5.8" cy="13.6" rx="0.83" ry="0.63" fill="#6a3ad8" transform="rotate(90 5.8 13.6)"/><ellipse cx="22.9" cy="22.9" rx="1.24" ry="1.19" fill="#4a28b8" transform="rotate(86 22.9 22.9)"/><ellipse cx="27.9" cy="22.1" rx="0.74" ry="0.69" fill="#8a50e0" transform="rotate(47 27.9 22.1)"/><ellipse cx="7.3" cy="8.1" rx="0.92" ry="0.65" fill="#6a3ad8" transform="rotate(31 7.3 8.1)"/><ellipse cx="17.0" cy="6.2" rx="0.68" ry="0.63" fill="#5a30c8" transform="rotate(63 17.0 6.2)"/><ellipse cx="8.5" cy="5.9" rx="1.88" ry="1.29" fill="#5a30c8" transform="rotate(4 8.5 5.9)"/><ellipse cx="22.7" cy="14.3" rx="1.43" ry="0.92" fill="#6a3ad8" transform="rotate(132 22.7 14.3)"/><ellipse cx="32.6" cy="0.9" rx="1.01" ry="0.90" fill="#8a50e0" transform="rotate(6 32.6 0.9)"/><ellipse cx="19.2" cy="8.8" rx="1.38" ry="1.20" fill="#4a28b8" transform="rotate(84 19.2 8.8)"/><ellipse cx="9.0" cy="6.2" rx="1.00" ry="0.65" fill="#8a50e0" transform="rotate(28 9.0 6.2)"/><ellipse cx="25.3" cy="1.3" rx="1.51" ry="1.00" fill="#8a50e0" transform="rotate(50 25.3 1.3)"/><ellipse cx="27.4" cy="6.4" rx="1.93" ry="1.21" fill="#5a30c8" transform="rotate(114 27.4 6.4)"/><ellipse cx="33.1" cy="5.4" rx="1.19" ry="1.03" fill="#5a30c8" transform="rotate(64 33.1 5.4)"/><ellipse cx="38.0" cy="15.9" rx="1.28" ry="1.16" fill="#8a50e0" transform="rotate(115 38.0 15.9)"/><ellipse cx="31.4" cy="20.6" rx="1.57" ry="1.04" fill="#7a48e0" transform="rotate(50 31.4 20.6)"/><ellipse cx="10.3" cy="6.0" rx="1.33" ry="1.02" fill="#7a48e0" transform="rotate(151 10.3 6.0)"/><ellipse cx="27.2" cy="18.9" rx="1.66" ry="1.38" fill="#5a30c8" transform="rotate(90 27.2 18.9)"/><ellipse cx="34.2" cy="1.8" rx="1.24" ry="1.13" fill="#8a50e0" transform="rotate(35 34.2 1.8)"/><ellipse cx="2.0" cy="8.8" rx="1.19" ry="0.79" fill="#8a50e0" transform="rotate(94 2.0 8.8)"/><ellipse cx="7.7" cy="8.4" rx="1.99" ry="1.36" fill="#6a3ad8" transform="rotate(95 7.7 8.4)"/><ellipse cx="0.9" cy="21.9" rx="1.20" ry="1.15" fill="#6a3ad8" transform="rotate(18 0.9 21.9)"/><ellipse cx="7.0" cy="11.7" rx="1.78" ry="1.35" fill="#4a28b8" transform="rotate(104 7.0 11.7)"/><ellipse cx="21.5" cy="7.4" rx="1.69" ry="1.14" fill="#6a3ad8" transform="rotate(162 21.5 7.4)"/><ellipse cx="25.5" cy="7.4" rx="0.88" ry="0.83" fill="#5a30c8" transform="rotate(44 25.5 7.4)"/><ellipse cx="12.3" cy="20.5" rx="1.71" ry="1.35" fill="#6a3ad8" transform="rotate(19 12.3 20.5)"/><ellipse cx="13.0" cy="4.1" rx="1.06" ry="0.98" fill="#4a28b8" transform="rotate(71 13.0 4.1)"/><ellipse cx="15.8" cy="5.4" rx="0.96" ry="0.78" fill="#8a50e0" transform="rotate(173 15.8 5.4)"/><ellipse cx="1.6" cy="22.0" rx="1.51" ry="1.01" fill="#5a30c8" transform="rotate(17 1.6 22.0)"/><ellipse cx="29.4" cy="12.8" rx="1.43" ry="0.96" fill="#7a48e0" transform="rotate(179 29.4 12.8)"/><ellipse cx="4.4" cy="11.1" rx="1.74" ry="1.24" fill="#8a50e0" transform="rotate(68 4.4 11.1)"/><ellipse cx="8.1" cy="3.1" rx="1.50" ry="1.13" fill="#4a28b8" transform="rotate(78 8.1 3.1)"/><ellipse cx="15.4" cy="10.6" rx="1.50" ry="1.28" fill="#4a28b8" transform="rotate(65 15.4 10.6)"/><ellipse cx="0.4" cy="1.9" rx="0.76" ry="0.72" fill="#4a28b8" transform="rotate(136 0.4 1.9)"/><ellipse cx="22.0" cy="18.3" rx="1.26" ry="0.81" fill="#5a30c8" transform="rotate(4 22.0 18.3)"/><ellipse cx="22.9" cy="7.0" rx="0.95" ry="0.79" fill="#5a30c8" transform="rotate(168 22.9 7.0)"/><ellipse cx="15.6" cy="12.9" rx="0.94" ry="0.74" fill="#4a28b8" transform="rotate(120 15.6 12.9)"/><ellipse cx="31.2" cy="9.8" rx="1.39" ry="1.22" fill="#5a30c8" transform="rotate(141 31.2 9.8)"/><ellipse cx="20.7" cy="15.8" rx="1.45" ry="1.06" fill="#8a50e0" transform="rotate(167 20.7 15.8)"/><ellipse cx="9.4" cy="10.6" rx="1.42" ry="1.25" fill="#6a3ad8" transform="rotate(104 9.4 10.6)"/><ellipse cx="16.3" cy="3.0" rx="1.55" ry="1.19" fill="#6a3ad8" transform="rotate(99 16.3 3.0)"/><ellipse cx="25.5" cy="2.5" rx="1.42" ry="1.25" fill="#8a50e0" transform="rotate(129 25.5 2.5)"/><ellipse cx="5.1" cy="8.6" rx="1.23" ry="1.12" fill="#7a48e0" transform="rotate(2 5.1 8.6)"/><ellipse cx="38.9" cy="7.8" rx="1.08" ry="0.99" fill="#5a30c8" transform="rotate(91 38.9 7.8)"/><ellipse cx="3.9" cy="8.6" rx="1.39" ry="0.98" fill="#5a30c8" transform="rotate(129 3.9 8.6)"/><ellipse cx="26.1" cy="15.8" rx="1.39" ry="1.03" fill="#7a48e0" transform="rotate(126 26.1 15.8)"/><ellipse cx="8.9" cy="4.2" rx="1.57" ry="1.29" fill="#6a3ad8" transform="rotate(111 8.9 4.2)"/><ellipse cx="0.4" cy="12.2" rx="1.65" ry="1.37" fill="#4a28b8" transform="rotate(113 0.4 12.2)"/><ellipse cx="16.8" cy="16.9" rx="1.05" ry="0.78" fill="#4a28b8" transform="rotate(47 16.8 16.9)"/></g>
</svg>
<text x="281.00" y="375.00" font-size="3.8" text-anchor="middle" font-weight="bold" fill="#000" font-family="'Liberation Serif',serif" stroke="#000" stroke-width="0.12">HepG2/vera RBM58-OE</text>
<line x1="239.00" y1="377.10" x2="321.00" y2="377.10" stroke="#777" stroke-width="0.8"/>
<text x="257.90" y="380.80" font-size="3.3" text-anchor="middle" font-weight="bold" fill="#000" font-family="'Liberation Serif',serif" stroke="#000" stroke-width="0.12">NC</text>
<text x="300.50" y="380.80" font-size="3.3" text-anchor="middle" font-weight="bold" fill="#000" font-family="'Liberation Serif',serif" stroke="#000" stroke-width="0.12">GAS5 KD</text>
<svg x="239.20" y="382.00" width="39.20" height="23.00" overflow="hidden">
<rect x="0.00" y="0.00" width="39.20" height="23.00" fill="#f2eef4" stroke="none" stroke-width="0.8"/>
<g><ellipse cx="36.3" cy="21.8" rx="1.47" ry="1.12" fill="#2a1a8a" transform="rotate(3 36.3 21.8)"/><ellipse cx="14.9" cy="8.2" rx="1.23" ry="1.01" fill="#22167a" transform="rotate(80 14.9 8.2)"/><ellipse cx="17.8" cy="0.6" rx="0.85" ry="0.56" fill="#3a30a8" transform="rotate(76 17.8 0.6)"/><ellipse cx="28.8" cy="8.3" rx="0.90" ry="0.54" fill="#2a1a8a" transform="rotate(106 28.8 8.3)"/><ellipse cx="24.3" cy="22.3" rx="0.97" ry="0.75" fill="#22167a" transform="rotate(174 24.3 22.3)"/><ellipse cx="38.2" cy="13.2" rx="1.70" ry="1.07" fill="#3a2a9a" transform="rotate(129 38.2 13.2)"/><ellipse cx="17.5" cy="14.8" rx="1.05" ry="0.63" fill="#3a2a9a" transform="rotate(96 17.5 14.8)"/><ellipse cx="20.4" cy="13.4" rx="0.71" ry="0.56" fill="#3a30a8" transform="rotate(7 20.4 13.4)"/><ellipse cx="22.5" cy="18.9" rx="1.13" ry="0.73" fill="#22167a" transform="rotate(162 22.5 18.9)"/><ellipse cx="35.1" cy="10.5" rx="1.16" ry="0.65" fill="#3a2a9a" transform="rotate(19 35.1 10.5)"/><ellipse cx="27.7" cy="19.1" rx="1.06" ry="0.67" fill="#3a2a9a" transform="rotate(165 27.7 19.1)"/><ellipse cx="37.1" cy="3.8" rx="1.65" ry="1.18" fill="#2a1a8a" transform="rotate(114 37.1 3.8)"/><ellipse cx="6.4" cy="5.2" rx="0.99" ry="0.51" fill="#3a2a9a" transform="rotate(145 6.4 5.2)"/><ellipse cx="21.1" cy="22.7" rx="1.83" ry="1.02" fill="#22167a" transform="rotate(3 21.1 22.7)"/><ellipse cx="19.2" cy="0.9" rx="1.00" ry="0.69" fill="#3a2a9a" transform="rotate(136 19.2 0.9)"/><ellipse cx="11.6" cy="2.1" rx="1.39" ry="0.89" fill="#3a2a9a" transform="rotate(124 11.6 2.1)"/><ellipse cx="9.4" cy="2.3" rx="0.83" ry="0.62" fill="#2a1a8a" transform="rotate(80 9.4 2.3)"/><ellipse cx="35.0" cy="18.7" rx="2.21" ry="1.13" fill="#3a30a8" transform="rotate(13 35.0 18.7)"/><ellipse cx="35.2" cy="17.2" rx="1.56" ry="0.88" fill="#3a30a8" transform="rotate(74 35.2 17.2)"/><ellipse cx="21.8" cy="12.6" rx="1.23" ry="1.08" fill="#2a1a8a" transform="rotate(5 21.8 12.6)"/><ellipse cx="37.8" cy="16.8" rx="0.86" ry="0.80" fill="#3a2a9a" transform="rotate(171 37.8 16.8)"/><ellipse cx="22.0" cy="12.5" rx="1.32" ry="0.66" fill="#3a30a8" transform="rotate(144 22.0 12.5)"/><ellipse cx="10.7" cy="7.8" rx="0.72" ry="0.52" fill="#3a2a9a" transform="rotate(135 10.7 7.8)"/><ellipse cx="31.1" cy="0.7" rx="1.36" ry="0.96" fill="#3a30a8" transform="rotate(172 31.1 0.7)"/><ellipse cx="10.9" cy="13.7" rx="1.55" ry="1.19" fill="#3a2a9a" transform="rotate(95 10.9 13.7)"/><ellipse cx="35.2" cy="2.0" rx="1.13" ry="1.11" fill="#3a30a8" transform="rotate(68 35.2 2.0)"/></g>
</svg>
<svg x="281.10" y="382.00" width="38.80" height="23.00" overflow="hidden">
<rect x="0.00" y="0.00" width="38.80" height="23.00" fill="#e4e4e4" stroke="none" stroke-width="0.8"/>
<g><ellipse cx="14.6" cy="21.3" rx="1.60" ry="1.17" fill="#3a2a9a" transform="rotate(168 14.6 21.3)"/><ellipse cx="18.4" cy="19.7" rx="1.67" ry="1.11" fill="#2a1a8a" transform="rotate(55 18.4 19.7)"/><ellipse cx="22.8" cy="2.9" rx="2.05" ry="1.05" fill="#3a2a9a" transform="rotate(92 22.8 2.9)"/><ellipse cx="24.2" cy="19.0" rx="1.05" ry="0.64" fill="#22167a" transform="rotate(92 24.2 19.0)"/><ellipse cx="34.3" cy="19.2" rx="1.28" ry="1.04" fill="#22167a" transform="rotate(75 34.3 19.2)"/><ellipse cx="6.2" cy="10.6" rx="0.64" ry="0.56" fill="#2a1a8a" transform="rotate(93 6.2 10.6)"/><ellipse cx="34.0" cy="0.9" rx="1.30" ry="0.64" fill="#3a2a9a" transform="rotate(139 34.0 0.9)"/><ellipse cx="17.3" cy="18.5" rx="1.96" ry="0.99" fill="#3a30a8" transform="rotate(80 17.3 18.5)"/><ellipse cx="19.2" cy="3.9" rx="2.00" ry="1.29" fill="#3a30a8" transform="rotate(113 19.2 3.9)"/><ellipse cx="18.5" cy="5.1" rx="2.00" ry="0.99" fill="#22167a" transform="rotate(171 18.5 5.1)"/><ellipse cx="4.8" cy="5.4" rx="0.76" ry="0.65" fill="#3a2a9a" transform="rotate(40 4.8 5.4)"/><ellipse cx="36.9" cy="8.6" rx="0.91" ry="0.63" fill="#3a30a8" transform="rotate(66 36.9 8.6)"/><ellipse cx="19.3" cy="10.7" rx="1.83" ry="0.84" fill="#3a30a8" transform="rotate(64 19.3 10.7)"/><ellipse cx="4.3" cy="17.4" rx="1.40" ry="0.83" fill="#2a1a8a" transform="rotate(127 4.3 17.4)"/><ellipse cx="23.7" cy="5.3" rx="0.97" ry="0.51" fill="#22167a" transform="rotate(93 23.7 5.3)"/><ellipse cx="10.1" cy="18.1" rx="0.57" ry="0.55" fill="#3a2a9a" transform="rotate(128 10.1 18.1)"/><ellipse cx="35.0" cy="4.0" rx="1.63" ry="0.75" fill="#2a1a8a" transform="rotate(74 35.0 4.0)"/><ellipse cx="27.2" cy="3.6" rx="1.72" ry="0.79" fill="#22167a" transform="rotate(173 27.2 3.6)"/><ellipse cx="3.6" cy="13.0" rx="2.21" ry="1.27" fill="#3a2a9a" transform="rotate(13 3.6 13.0)"/><ellipse cx="0.6" cy="16.4" rx="1.68" ry="0.90" fill="#3a2a9a" transform="rotate(48 0.6 16.4)"/><ellipse cx="26.8" cy="6.7" rx="1.25" ry="0.87" fill="#22167a" transform="rotate(143 26.8 6.7)"/><ellipse cx="9.8" cy="1.3" rx="0.86" ry="0.63" fill="#3a30a8" transform="rotate(7 9.8 1.3)"/><ellipse cx="35.6" cy="1.6" rx="1.54" ry="0.98" fill="#3a2a9a" transform="rotate(62 35.6 1.6)"/><ellipse cx="2.2" cy="11.2" rx="1.08" ry="0.79" fill="#2a1a8a" transform="rotate(54 2.2 11.2)"/><ellipse cx="35.4" cy="17.9" rx="1.40" ry="0.79" fill="#2a1a8a" transform="rotate(43 35.4 17.9)"/><ellipse cx="36.7" cy="19.1" rx="1.67" ry="0.81" fill="#2a1a8a" transform="rotate(23 36.7 19.1)"/><ellipse cx="26.0" cy="16.3" rx="2.01" ry="1.22" fill="#22167a" transform="rotate(52 26.0 16.3)"/><ellipse cx="33.3" cy="18.2" rx="0.63" ry="0.56" fill="#22167a" transform="rotate(177 33.3 18.2)"/><ellipse cx="33.6" cy="18.8" rx="1.14" ry="0.53" fill="#3a30a8" transform="rotate(10 33.6 18.8)"/><ellipse cx="2.9" cy="1.9" rx="2.40" ry="1.26" fill="#3a30a8" transform="rotate(172 2.9 1.9)"/><ellipse cx="30.3" cy="20.5" rx="1.58" ry="1.10" fill="#3a2a9a" transform="rotate(70 30.3 20.5)"/><ellipse cx="4.5" cy="22.7" rx="1.20" ry="0.75" fill="#3a2a9a" transform="rotate(32 4.5 22.7)"/><ellipse cx="3.8" cy="10.3" rx="1.93" ry="0.99" fill="#3a2a9a" transform="rotate(69 3.8 10.3)"/><ellipse cx="37.3" cy="11.5" rx="0.90" ry="0.73" fill="#3a30a8" transform="rotate(125 37.3 11.5)"/></g>
</svg>
<line x1="348.20" y1="338.40" x2="348.20" y2="388.20" stroke="#000" stroke-width="0.9"/>
<line x1="347.00" y1="338.70" x2="348.20" y2="338.70" stroke="#000" stroke-width="0.7"/>
<text x="346.40" y="339.80" font-size="3.2" text-anchor="end" font-weight="bold" fill="#000" font-family="'Liberation Serif',serif" stroke="#000" stroke-width="0.12">150</text>
<line x1="347.00" y1="355.00" x2="348.20" y2="355.00" stroke="#000" stroke-width="0.7"/>
<text x="346.40" y="356.10" font-size="3.2" text-anchor="end" font-weight="bold" fill="#000" font-family="'Liberation Serif',serif" stroke="#000" stroke-width="0.12">100</text>
<line x1="347.00" y1="371.40" x2="348.20" y2="371.40" stroke="#000" stroke-width="0.7"/>
<text x="346.40" y="372.50" font-size="3.2" text-anchor="end" font-weight="bold" fill="#000" font-family="'Liberation Serif',serif" stroke="#000" stroke-width="0.12">50</text>
<line x1="347.00" y1="387.80" x2="348.20" y2="387.80" stroke="#000" stroke-width="0.7"/>
<text x="346.40" y="388.90" font-size="3.2" text-anchor="end" font-weight="bold" fill="#000" font-family="'Liberation Serif',serif" stroke="#000" stroke-width="0.12">0</text>
<text x="337.00" y="366.00" font-size="3.2" text-anchor="middle" font-weight="bold" fill="#000" font-family="'Liberation Serif',serif" stroke="#000" stroke-width="0.12" transform="rotate(-90 337.00 366.00)">Cells/field</text>
<rect x="353.30" y="364.40" width="8.40" height="23.40" fill="url(#hP)" stroke="#b86b77" stroke-width="0.9"/>
<line x1="357.50" y1="364.40" x2="357.50" y2="363.60" stroke="#b86b77" stroke-width="0.7"/>
<line x1="355.50" y1="363.60" x2="359.50" y2="363.60" stroke="#b86b77" stroke-width="0.7"/>
<rect x="371.40" y="347.40" width="9.00" height="40.40" fill="url(#hR)" stroke="#d9485e" stroke-width="0.9"/>
<line x1="375.90" y1="347.40" x2="375.90" y2="345.00" stroke="#d9485e" stroke-width="0.7"/>
<line x1="373.90" y1="345.00" x2="377.90" y2="345.00" stroke="#d9485e" stroke-width="0.7"/>
<rect x="389.60" y="372.20" width="9.10" height="15.60" fill="url(#hO2)" stroke="#e8804a" stroke-width="0.9"/>
<line x1="394.15" y1="372.20" x2="394.15" y2="371.60" stroke="#e8804a" stroke-width="0.7"/>
<line x1="392.15" y1="371.60" x2="396.15" y2="371.60" stroke="#e8804a" stroke-width="0.7"/>
<rect x="408.20" y="366.00" width="9.30" height="21.80" fill="url(#hB)" stroke="#3f6585" stroke-width="0.9"/>
<line x1="412.85" y1="366.00" x2="412.85" y2="365.40" stroke="#3f6585" stroke-width="0.7"/>
<line x1="410.85" y1="365.40" x2="414.85" y2="365.40" stroke="#3f6585" stroke-width="0.7"/>
<line x1="348.20" y1="387.80" x2="422.30" y2="387.80" stroke="#000" stroke-width="0.9"/>
<line x1="357.50" y1="387.80" x2="357.50" y2="388.80" stroke="#000" stroke-width="0.7"/>
<line x1="375.90" y1="387.80" x2="375.90" y2="388.80" stroke="#000" stroke-width="0.7"/>
<line x1="394.10" y1="387.80" x2="394.10" y2="388.80" stroke="#000" stroke-width="0.7"/>
<line x1="412.80" y1="387.80" x2="412.80" y2="388.80" stroke="#000" stroke-width="0.7"/>
<line x1="355.90" y1="342.40" x2="370.70" y2="342.40" stroke="#3a3a3a" stroke-width="0.5"/>
<text x="363.30" y="339.80" font-size="3.3" text-anchor="middle" font-weight="bold" fill="#000" font-family="'Liberation Serif',serif" stroke="#000" stroke-width="0.12">P&lt;0.0020</text>
<line x1="393.20" y1="363.20" x2="410.00" y2="363.20" stroke="#3a3a3a" stroke-width="0.5"/>
<text x="401.60" y="360.20" font-size="3.3" text-anchor="middle" font-weight="bold" fill="#000" font-family="'Liberation Serif',serif" stroke="#000" stroke-width="0.12">P&lt;0.0001</text>
<text x="357.00" y="395.90" font-size="3.3" text-anchor="middle" font-weight="bold" fill="#000" font-family="'Liberation Serif',serif" stroke="#000" stroke-width="0.12">NC</text>
<text x="376.00" y="395.90" font-size="3.3" text-anchor="middle" font-weight="bold" fill="#000" font-family="'Liberation Serif',serif" stroke="#000" stroke-width="0.12">GAS5 KD</text>
<text x="394.00" y="395.90" font-size="3.3" text-anchor="middle" font-weight="bold" fill="#000" font-family="'Liberation Serif',serif" stroke="#000" stroke-width="0.12">NC</text>
<text x="413.00" y="395.90" font-size="3.3" text-anchor="middle" font-weight="bold" fill="#000" font-family="'Liberation Serif',serif" stroke="#000" stroke-width="0.12">GAS5 KD</text>
<line x1="351.00" y1="398.30" x2="384.00" y2="398.30" stroke="#444" stroke-width="0.6"/>
<line x1="390.00" y1="398.30" x2="424.00" y2="398.30" stroke="#444" stroke-width="0.6"/>
<text x="367.50" y="402.90" font-size="3.3" text-anchor="middle" font-weight="bold" fill="#000" font-family="'Liberation Serif',serif" stroke="#000" stroke-width="0.12">7721/vera RBM58-OE</text>
<text x="407.00" y="402.90" font-size="3.3" text-anchor="middle" font-weight="bold" fill="#000" font-family="'Liberation Serif',serif" stroke="#000" stroke-width="0.12">HepG2/vera RBM58-OE</text>
<text x="6.50" y="355.50" font-size="4.8" text-anchor="start" font-weight="bold" fill="#000" font-family="'Liberation Sans',sans-serif" stroke="#000" stroke-width="0.12">I</text>
<rect x="17.80" y="352.40" width="129.70" height="72.40" fill="url(#gPhoto)" stroke="none" stroke-width="0.8"/>
<rect x="20.80" y="393.20" width="126.70" height="31.60" fill="#f1f1f1" stroke="none" stroke-width="0.8"/>
<line x1="21.60" y1="393.20" x2="21.60" y2="424.80" stroke="#666" stroke-width="1.0"/>
<rect x="22.00" y="393.80" width="125.50" height="4.80" fill="#c2c2c2" stroke="none" stroke-width="0.8"/>
<line x1="28.30" y1="398.60" x2="28.30" y2="401.20" stroke="#555" stroke-width="0.3"/>
<line x1="29.51" y1="398.60" x2="29.51" y2="399.70" stroke="#555" stroke-width="0.3"/>
<line x1="30.72" y1="398.60" x2="30.72" y2="399.70" stroke="#555" stroke-width="0.3"/>
<line x1="31.93" y1="398.60" x2="31.93" y2="399.70" stroke="#555" stroke-width="0.3"/>
<line x1="33.14" y1="398.60" x2="33.14" y2="399.70" stroke="#555" stroke-width="0.3"/>
<line x1="34.35" y1="398.60" x2="34.35" y2="400.40" stroke="#555" stroke-width="0.3"/>
<line x1="35.56" y1="398.60" x2="35.56" y2="399.70" stroke="#555" stroke-width="0.3"/>
<line x1="36.77" y1="398.60" x2="36.77" y2="399.70" stroke="#555" stroke-width="0.3"/>
<line x1="37.98" y1="398.60" x2="37.98" y2="399.70" stroke="#555" stroke-width="0.3"/>
<line x1="39.19" y1="398.60" x2="39.19" y2="399.70" stroke="#555" stroke-width="0.3"/>
<line x1="40.40" y1="398.60" x2="40.40" y2="401.20" stroke="#555" stroke-width="0.3"/>
<line x1="41.61" y1="398.60" x2="41.61" y2="399.70" stroke="#555" stroke-width="0.3"/>
<line x1="42.82" y1="398.60" x2="42.82" y2="399.70" stroke="#555" stroke-width="0.3"/>
<line x1="44.03" y1="398.60" x2="44.03" y2="399.70" stroke="#555" stroke-width="0.3"/>
<line x1="45.24" y1="398.60" x2="45.24" y2="399.70" stroke="#555" stroke-width="0.3"/>
<line x1="46.45" y1="398.60" x2="46.45" y2="400.40" stroke="#555" stroke-width="0.3"/>
<line x1="47.66" y1="398.60" x2="47.66" y2="399.70" stroke="#555" stroke-width="0.3"/>
<line x1="48.87" y1="398.60" x2="48.87" y2="399.70" stroke="#555" stroke-width="0.3"/>
<line x1="50.08" y1="398.60" x2="50.08" y2="399.70" stroke="#555" stroke-width="0.3"/>
<line x1="51.29" y1="398.60" x2="51.29" y2="399.70" stroke="#555" stroke-width="0.3"/>
<line x1="52.50" y1="398.60" x2="52.50" y2="401.20" stroke="#555" stroke-width="0.3"/>
<line x1="53.71" y1="398.60" x2="53.71" y2="399.70" stroke="#555" stroke-width="0.3"/>
<line x1="54.92" y1="398.60" x2="54.92" y2="399.70" stroke="#555" stroke-width="0.3"/>
<line x1="56.13" y1="398.60" x2="56.13" y2="399.70" stroke="#555" stroke-width="0.3"/>
<line x1="57.34" y1="398.60" x2="57.34" y2="399.70" stroke="#555" stroke-width="0.3"/>
<line x1="58.55" y1="398.60" x2="58.55" y2="400.40" stroke="#555" stroke-width="0.3"/>
<line x1="59.76" y1="398.60" x2="59.76" y2="399.70" stroke="#555" stroke-width="0.3"/>
<line x1="60.97" y1="398.60" x2="60.97" y2="399.70" stroke="#555" stroke-width="0.3"/>
<line x1="62.18" y1="398.60" x2="62.18" y2="399.70" stroke="#555" stroke-width="0.3"/>
<line x1="63.39" y1="398.60" x2="63.39" y2="399.70" stroke="#555" stroke-width="0.3"/>
<line x1="64.60" y1="398.60" x2="64.60" y2="401.20" stroke="#555" stroke-width="0.3"/>
<line x1="65.81" y1="398.60" x2="65.81" y2="399.70" stroke="#555" stroke-width="0.3"/>
<line x1="67.02" y1="398.60" x2="67.02" y2="399.70" stroke="#555" stroke-width="0.3"/>
<line x1="68.23" y1="398.60" x2="68.23" y2="399.70" stroke="#555" stroke-width="0.3"/>
<line x1="69.44" y1="398.60" x2="69.44" y2="399.70" stroke="#555" stroke-width="0.3"/>
<line x1="70.65" y1="398.60" x2="70.65" y2="400.40" stroke="#555" stroke-width="0.3"/>
<line x1="71.86" y1="398.60" x2="71.86" y2="399.70" stroke="#555" stroke-width="0.3"/>
<line x1="73.07" y1="398.60" x2="73.07" y2="399.70" stroke="#555" stroke-width="0.3"/>
<line x1="74.28" y1="398.60" x2="74.28" y2="399.70" stroke="#555" stroke-width="0.3"/>
<line x1="75.49" y1="398.60" x2="75.49" y2="399.70" stroke="#555" stroke-width="0.3"/>
<line x1="76.70" y1="398.60" x2="76.70" y2="401.20" stroke="#555" stroke-width="0.3"/>
<line x1="77.91" y1="398.60" x2="77.91" y2="399.70" stroke="#555" stroke-width="0.3"/>
<line x1="79.12" y1="398.60" x2="79.12" y2="399.70" stroke="#555" stroke-width="0.3"/>
<line x1="80.33" y1="398.60" x2="80.33" y2="399.70" stroke="#555" stroke-width="0.3"/>
<line x1="81.54" y1="398.60" x2="81.54" y2="399.70" stroke="#555" stroke-width="0.3"/>
<line x1="82.75" y1="398.60" x2="82.75" y2="400.40" stroke="#555" stroke-width="0.3"/>
<line x1="83.96" y1="398.60" x2="83.96" y2="399.70" stroke="#555" stroke-width="0.3"/>
<line x1="85.17" y1="398.60" x2="85.17" y2="399.70" stroke="#555" stroke-width="0.3"/>
<line x1="86.38" y1="398.60" x2="86.38" y2="399.70" stroke="#555" stroke-width="0.3"/>
<line x1="87.59" y1="398.60" x2="87.59" y2="399.70" stroke="#555" stroke-width="0.3"/>
<line x1="88.80" y1="398.60" x2="88.80" y2="401.20" stroke="#555" stroke-width="0.3"/>
<line x1="90.01" y1="398.60" x2="90.01" y2="399.70" stroke="#555" stroke-width="0.3"/>
<line x1="91.22" y1="398.60" x2="91.22" y2="399.70" stroke="#555" stroke-width="0.3"/>
<line x1="92.43" y1="398.60" x2="92.43" y2="399.70" stroke="#555" stroke-width="0.3"/>
<line x1="93.64" y1="398.60" x2="93.64" y2="399.70" stroke="#555" stroke-width="0.3"/>
<line x1="94.85" y1="398.60" x2="94.85" y2="400.40" stroke="#555" stroke-width="0.3"/>
<line x1="96.06" y1="398.60" x2="96.06" y2="399.70" stroke="#555" stroke-width="0.3"/>
<line x1="97.27" y1="398.60" x2="97.27" y2="399.70" stroke="#555" stroke-width="0.3"/>
<line x1="98.48" y1="398.60" x2="98.48" y2="399.70" stroke="#555" stroke-width="0.3"/>
<line x1="99.69" y1="398.60" x2="99.69" y2="399.70" stroke="#555" stroke-width="0.3"/>
<line x1="100.90" y1="398.60" x2="100.90" y2="401.20" stroke="#555" stroke-width="0.3"/>
<line x1="102.11" y1="398.60" x2="102.11" y2="399.70" stroke="#555" stroke-width="0.3"/>
<line x1="103.32" y1="398.60" x2="103.32" y2="399.70" stroke="#555" stroke-width="0.3"/>
<line x1="104.53" y1="398.60" x2="104.53" y2="399.70" stroke="#555" stroke-width="0.3"/>
<line x1="105.74" y1="398.60" x2="105.74" y2="399.70" stroke="#555" stroke-width="0.3"/>
<line x1="106.95" y1="398.60" x2="106.95" y2="400.40" stroke="#555" stroke-width="0.3"/>
<line x1="108.16" y1="398.60" x2="108.16" y2="399.70" stroke="#555" stroke-width="0.3"/>
<line x1="109.37" y1="398.60" x2="109.37" y2="399.70" stroke="#555" stroke-width="0.3"/>
<line x1="110.58" y1="398.60" x2="110.58" y2="399.70" stroke="#555" stroke-width="0.3"/>
<line x1="111.79" y1="398.60" x2="111.79" y2="399.70" stroke="#555" stroke-width="0.3"/>
<line x1="113.00" y1="398.60" x2="113.00" y2="401.20" stroke="#555" stroke-width="0.3"/>
<line x1="114.21" y1="398.60" x2="114.21" y2="399.70" stroke="#555" stroke-width="0.3"/>
<line x1="115.42" y1="398.60" x2="115.42" y2="399.70" stroke="#555" stroke-width="0.3"/>
<line x1="116.63" y1="398.60" x2="116.63" y2="399.70" stroke="#555" stroke-width="0.3"/>
<line x1="117.84" y1="398.60" x2="117.84" y2="399.70" stroke="#555" stroke-width="0.3"/>
<line x1="119.05" y1="398.60" x2="119.05" y2="400.40" stroke="#555" stroke-width="0.3"/>
<line x1="120.26" y1="398.60" x2="120.26" y2="399.70" stroke="#555" stroke-width="0.3"/>
<line x1="121.47" y1="398.60" x2="121.47" y2="399.70" stroke="#555" stroke-width="0.3"/>
<line x1="122.68" y1="398.60" x2="122.68" y2="399.70" stroke="#555" stroke-width="0.3"/>
<line x1="123.89" y1="398.60" x2="123.89" y2="399.70" stroke="#555" stroke-width="0.3"/>
<line x1="125.10" y1="398.60" x2="125.10" y2="401.20" stroke="#555" stroke-width="0.3"/>
<line x1="126.31" y1="398.60" x2="126.31" y2="399.70" stroke="#555" stroke-width="0.3"/>
<line x1="127.52" y1="398.60" x2="127.52" y2="399.70" stroke="#555" stroke-width="0.3"/>
<line x1="128.73" y1="398.60" x2="128.73" y2="399.70" stroke="#555" stroke-width="0.3"/>
<line x1="129.94" y1="398.60" x2="129.94" y2="399.70" stroke="#555" stroke-width="0.3"/>
<line x1="131.15" y1="398.60" x2="131.15" y2="400.40" stroke="#555" stroke-width="0.3"/>
<line x1="132.36" y1="398.60" x2="132.36" y2="399.70" stroke="#555" stroke-width="0.3"/>
<line x1="133.57" y1="398.60" x2="133.57" y2="399.70" stroke="#555" stroke-width="0.3"/>
<line x1="134.78" y1="398.60" x2="134.78" y2="399.70" stroke="#555" stroke-width="0.3"/>
<line x1="135.99" y1="398.60" x2="135.99" y2="399.70" stroke="#555" stroke-width="0.3"/>
<line x1="137.20" y1="398.60" x2="137.20" y2="401.20" stroke="#555" stroke-width="0.3"/>
<line x1="138.41" y1="398.60" x2="138.41" y2="399.70" stroke="#555" stroke-width="0.3"/>
<line x1="139.62" y1="398.60" x2="139.62" y2="399.70" stroke="#555" stroke-width="0.3"/>
<line x1="140.83" y1="398.60" x2="140.83" y2="399.70" stroke="#555" stroke-width="0.3"/>
<line x1="142.04" y1="398.60" x2="142.04" y2="399.70" stroke="#555" stroke-width="0.3"/>
<line x1="143.25" y1="398.60" x2="143.25" y2="400.40" stroke="#555" stroke-width="0.3"/>
<line x1="144.46" y1="398.60" x2="144.46" y2="399.70" stroke="#555" stroke-width="0.3"/>
<line x1="145.67" y1="398.60" x2="145.67" y2="399.70" stroke="#555" stroke-width="0.3"/>
<line x1="146.88" y1="398.60" x2="146.88" y2="399.70" stroke="#555" stroke-width="0.3"/>
<text x="28.30" y="405.20" font-size="3.9" text-anchor="middle" font-weight="bold" fill="#333" font-family="'Liberation Sans',sans-serif" stroke="#333" stroke-width="0.12">0</text>
<text x="43.40" y="405.20" font-size="3.9" text-anchor="middle" font-weight="bold" fill="#333" font-family="'Liberation Sans',sans-serif" stroke="#333" stroke-width="0.12">1cm</text>
<text x="52.50" y="405.20" font-size="3.9" text-anchor="middle" font-weight="bold" fill="#333" font-family="'Liberation Sans',sans-serif" stroke="#333" stroke-width="0.12">2</text>
<text x="64.60" y="405.20" font-size="3.9" text-anchor="middle" font-weight="bold" fill="#333" font-family="'Liberation Sans',sans-serif" stroke="#333" stroke-width="0.12">3</text>
<text x="76.70" y="405.20" font-size="3.9" text-anchor="middle" font-weight="bold" fill="#333" font-family="'Liberation Sans',sans-serif" stroke="#333" stroke-width="0.12">4</text>
<text x="88.80" y="405.20" font-size="3.9" text-anchor="middle" font-weight="bold" fill="#333" font-family="'Liberation Sans',sans-serif" stroke="#333" stroke-width="0.12">5</text>
<text x="100.90" y="405.20" font-size="3.9" text-anchor="middle" font-weight="bold" fill="#333" font-family="'Liberation Sans',sans-serif" stroke="#333" stroke-width="0.12">6</text>
<text x="113.00" y="405.20" font-size="3.9" text-anchor="middle" font-weight="bold" fill="#333" font-family="'Liberation Sans',sans-serif" stroke="#333" stroke-width="0.12">7</text>
<text x="125.10" y="405.20" font-size="3.9" text-anchor="middle" font-weight="bold" fill="#333" font-family="'Liberation Sans',sans-serif" stroke="#333" stroke-width="0.12">8</text>
<text x="137.20" y="405.20" font-size="3.9" text-anchor="middle" font-weight="bold" fill="#333" font-family="'Liberation Sans',sans-serif" stroke="#333" stroke-width="0.12">9</text>
<text x="149.30" y="405.20" font-size="3.9" text-anchor="middle" font-weight="bold" fill="#333" font-family="'Liberation Sans',sans-serif" stroke="#333" stroke-width="0.12">1</text>
<path d="M39.90,362.35 39.80,365.34 38.18,368.21 34.98,369.54 31.51,369.59 28.74,367.71 26.07,365.63 25.82,362.35 27.38,359.67 28.71,356.96 31.81,356.38 35.08,354.74 38.40,356.22 39.58,359.46Z" fill="url(#gTum)" stroke="#d48c80" stroke-width="0.4" stroke-linejoin="round"/>
<circle cx="31.48" cy="364.71" r="0.60" fill="#e08a80" opacity="0.6"/>
<circle cx="30.26" cy="359.60" r="0.67" fill="#e08a80" opacity="0.6"/>
<circle cx="34.42" cy="366.44" r="0.61" fill="#e08a80" opacity="0.6"/>
<circle cx="37.49" cy="362.84" r="0.95" fill="#e08a80" opacity="0.6"/>
<path d="M60.17,363.25 58.72,365.23 57.81,367.65 54.44,368.68 50.97,368.07 47.77,367.32 46.45,365.24 45.75,363.25 46.31,361.21 47.74,359.15 51.08,358.77 54.46,357.76 56.68,359.81 58.72,361.27Z" fill="url(#gTum)" stroke="#d48c80" stroke-width="0.4" stroke-linejoin="round"/>
<circle cx="48.75" cy="364.95" r="0.68" fill="#e08a80" opacity="0.6"/>
<circle cx="52.33" cy="362.15" r="0.82" fill="#e08a80" opacity="0.6"/>
<circle cx="51.70" cy="361.41" r="0.72" fill="#e08a80" opacity="0.6"/>
<circle cx="50.77" cy="360.80" r="0.91" fill="#e08a80" opacity="0.6"/>
<path d="M75.89,362.80 76.02,365.10 74.29,366.45 72.72,368.09 70.51,367.95 68.73,366.68 67.18,365.10 66.76,362.80 67.86,360.85 68.61,358.76 70.51,357.63 72.66,357.77 74.87,358.37 76.16,360.43Z" fill="url(#gTum)" stroke="#d48c80" stroke-width="0.4" stroke-linejoin="round"/>
<circle cx="70.86" cy="361.03" r="0.56" fill="#e08a80" opacity="0.6"/>
<circle cx="73.46" cy="364.03" r="0.80" fill="#e08a80" opacity="0.6"/>
<circle cx="71.25" cy="362.81" r="0.61" fill="#e08a80" opacity="0.6"/>
<circle cx="71.78" cy="360.50" r="0.81" fill="#e08a80" opacity="0.6"/>
<path d="M90.90,363.95 89.67,365.68 88.49,367.30 86.31,368.14 84.05,367.58 82.27,366.74 80.35,365.75 80.50,363.95 80.63,362.25 81.56,360.46 83.84,359.61 86.12,360.42 87.93,361.15 89.37,362.33Z" fill="url(#gTum)" stroke="#d48c80" stroke-width="0.4" stroke-linejoin="round"/>
<circle cx="87.23" cy="361.53" r="0.61" fill="#e08a80" opacity="0.6"/>
<circle cx="82.55" cy="362.05" r="0.76" fill="#e08a80" opacity="0.6"/>
<circle cx="83.05" cy="363.49" r="0.87" fill="#e08a80" opacity="0.6"/>
<circle cx="86.55" cy="363.52" r="0.89" fill="#e08a80" opacity="0.6"/>
<path d="M107.93,365.10 107.15,367.92 105.22,370.00 102.55,370.41 100.11,370.58 97.49,369.97 95.64,367.87 96.28,365.10 96.57,362.78 97.31,360.00 100.19,359.96 102.71,359.11 104.82,360.71 106.82,362.44Z" fill="url(#gTum)" stroke="#d48c80" stroke-width="0.4" stroke-linejoin="round"/>
<circle cx="104.02" cy="365.71" r="0.70" fill="#e08a80" opacity="0.6"/>
<circle cx="100.04" cy="366.00" r="0.81" fill="#e08a80" opacity="0.6"/>
<circle cx="100.68" cy="364.85" r="0.77" fill="#e08a80" opacity="0.6"/>
<circle cx="99.57" cy="362.72" r="0.78" fill="#e08a80" opacity="0.6"/>
<path d="M121.46,366.25 120.23,368.84 119.25,371.50 117.08,373.07 114.72,372.00 112.37,371.47 111.39,368.83 111.14,366.25 111.37,363.66 112.38,361.05 114.77,360.77 116.99,359.92 118.87,361.58 120.00,363.79Z" fill="url(#gTum)" stroke="#d48c80" stroke-width="0.4" stroke-linejoin="round"/>
<circle cx="115.35" cy="365.36" r="0.73" fill="#e08a80" opacity="0.6"/>
<circle cx="118.27" cy="369.55" r="0.61" fill="#e08a80" opacity="0.6"/>
<circle cx="118.96" cy="367.13" r="0.98" fill="#e08a80" opacity="0.6"/>
<circle cx="117.85" cy="366.45" r="0.63" fill="#e08a80" opacity="0.6"/>
<path d="M132.52,367.20 132.29,368.71 130.51,369.33 129.37,370.63 127.46,370.52 126.27,369.35 124.60,368.67 124.18,367.20 125.19,365.96 125.66,364.43 127.57,364.26 129.26,364.18 130.93,364.65 132.09,365.77Z" fill="url(#gTum)" stroke="#d48c80" stroke-width="0.4" stroke-linejoin="round"/>
<circle cx="129.61" cy="366.32" r="0.74" fill="#e08a80" opacity="0.6"/>
<circle cx="126.62" cy="366.31" r="0.75" fill="#e08a80" opacity="0.6"/>
<circle cx="126.31" cy="366.60" r="0.91" fill="#e08a80" opacity="0.6"/>
<circle cx="126.82" cy="366.94" r="0.52" fill="#e08a80" opacity="0.6"/>
<path d="M42.22,381.70 42.14,385.45 40.22,389.16 36.05,390.30 32.04,389.90 28.78,387.96 26.83,385.00 23.96,381.70 25.49,377.78 28.87,375.54 31.98,373.24 36.08,372.99 40.12,374.35 41.48,378.25Z" fill="url(#gTum)" stroke="#d48c80" stroke-width="0.4" stroke-linejoin="round"/>
<circle cx="31.92" cy="378.36" r="0.79" fill="#e08a80" opacity="0.6"/>
<circle cx="38.71" cy="384.20" r="0.57" fill="#e08a80" opacity="0.6"/>
<circle cx="32.57" cy="377.18" r="0.58" fill="#e08a80" opacity="0.6"/>
<circle cx="33.92" cy="378.00" r="0.64" fill="#e08a80" opacity="0.6"/>
<path d="M61.67,382.90 62.36,385.99 59.85,388.56 55.76,389.09 52.09,388.90 48.96,387.60 47.00,385.42 45.93,382.90 46.75,380.29 47.99,377.28 52.14,377.05 55.66,377.05 59.92,377.17 62.58,379.73Z" fill="url(#gTum)" stroke="#d48c80" stroke-width="0.4" stroke-linejoin="round"/>
<circle cx="49.56" cy="381.43" r="0.99" fill="#e08a80" opacity="0.6"/>
<circle cx="52.70" cy="383.96" r="0.85" fill="#e08a80" opacity="0.6"/>
<circle cx="55.51" cy="379.22" r="0.86" fill="#e08a80" opacity="0.6"/>
<circle cx="57.32" cy="382.47" r="0.67" fill="#e08a80" opacity="0.6"/>
<path d="M78.95,385.55 78.63,388.55 76.92,391.08 74.06,391.61 71.28,392.36 68.12,391.69 66.70,388.63 66.11,385.55 66.33,382.28 68.69,380.16 71.37,379.16 74.36,378.11 76.49,380.59 79.33,382.20Z" fill="url(#gTum)" stroke="#d48c80" stroke-width="0.4" stroke-linejoin="round"/>
<circle cx="75.95" cy="385.97" r="0.76" fill="#e08a80" opacity="0.6"/>
<circle cx="69.13" cy="382.67" r="0.89" fill="#e08a80" opacity="0.6"/>
<circle cx="74.66" cy="386.63" r="0.57" fill="#e08a80" opacity="0.6"/>
<circle cx="74.62" cy="389.87" r="0.94" fill="#e08a80" opacity="0.6"/>
<path d="M94.81,384.80 93.28,386.80 92.07,388.84 89.14,389.11 86.47,389.41 84.21,388.28 82.18,386.88 82.35,384.80 82.37,382.79 84.17,381.27 86.64,380.75 89.35,379.77 92.17,380.67 92.92,382.94Z" fill="url(#gTum)" stroke="#d48c80" stroke-width="0.4" stroke-linejoin="round"/>
<circle cx="88.89" cy="384.97" r="0.71" fill="#e08a80" opacity="0.6"/>
<circle cx="88.56" cy="385.77" r="0.64" fill="#e08a80" opacity="0.6"/>
<circle cx="86.77" cy="384.84" r="1.00" fill="#e08a80" opacity="0.6"/>
<circle cx="91.24" cy="386.46" r="0.73" fill="#e08a80" opacity="0.6"/>
<path d="M108.50,384.00 107.07,386.20 106.35,388.83 103.72,389.36 101.31,389.22 98.95,388.45 97.98,386.17 97.45,384.00 97.64,381.66 99.32,380.01 101.22,378.38 103.70,378.75 105.83,379.83 107.16,381.75Z" fill="url(#gTum)" stroke="#d48c80" stroke-width="0.4" stroke-linejoin="round"/>
<circle cx="100.56" cy="385.50" r="0.95" fill="#e08a80" opacity="0.6"/>
<circle cx="101.46" cy="386.12" r="0.66" fill="#e08a80" opacity="0.6"/>
<circle cx="104.31" cy="382.18" r="0.78" fill="#e08a80" opacity="0.6"/>
<circle cx="101.86" cy="386.58" r="0.88" fill="#e08a80" opacity="0.6"/>
<path d="M121.37,385.00 121.06,387.07 119.35,388.68 117.00,389.69 114.23,389.94 111.82,388.81 110.95,386.80 110.34,385.00 110.54,383.05 112.17,381.54 114.21,379.99 117.01,380.28 119.20,381.47 120.62,383.10Z" fill="url(#gTum)" stroke="#d48c80" stroke-width="0.4" stroke-linejoin="round"/>
<circle cx="113.67" cy="385.59" r="0.96" fill="#e08a80" opacity="0.6"/>
<circle cx="113.23" cy="384.73" r="0.67" fill="#e08a80" opacity="0.6"/>
<circle cx="116.44" cy="383.58" r="0.53" fill="#e08a80" opacity="0.6"/>
<circle cx="116.93" cy="383.89" r="0.82" fill="#e08a80" opacity="0.6"/>
<path d="M133.97,384.00 134.72,386.27 132.67,387.94 129.75,388.02 127.15,388.69 124.95,387.45 122.36,386.28 121.73,384.00 123.25,382.05 124.57,380.19 127.17,379.38 129.85,379.65 132.36,380.35 133.99,382.00Z" fill="url(#gTum)" stroke="#d48c80" stroke-width="0.4" stroke-linejoin="round"/>
<circle cx="128.29" cy="386.71" r="0.87" fill="#e08a80" opacity="0.6"/>
<circle cx="124.92" cy="383.11" r="0.98" fill="#e08a80" opacity="0.6"/>
<circle cx="130.60" cy="384.64" r="0.82" fill="#e08a80" opacity="0.6"/>
<circle cx="130.00" cy="381.99" r="0.70" fill="#e08a80" opacity="0.6"/>
<text x="152.40" y="369.60" font-size="3.9" text-anchor="start" font-weight="bold" fill="#000" font-family="'Liberation Serif',serif" stroke="#000" stroke-width="0.12">7721/vera RBM58-OE</text>
<text x="152.40" y="387.80" font-size="3.8" text-anchor="start" font-weight="bold" fill="#000" font-family="'Liberation Serif',serif" stroke="#000" stroke-width="0.12">7721/vera RBM58-OE+GAS5 KD</text>
<text x="5.50" y="444.20" font-size="4.8" text-anchor="start" font-weight="bold" fill="#000" font-family="'Liberation Sans',sans-serif" stroke="#000" stroke-width="0.12" font-style="italic">J</text>
<line x1="21.70" y1="444.20" x2="21.70" y2="497.60" stroke="#000" stroke-width="0.9"/>
<line x1="20.50" y1="444.50" x2="21.70" y2="444.50" stroke="#000" stroke-width="0.7"/>
<text x="19.90" y="445.60" font-size="3.2" text-anchor="end" font-weight="bold" fill="#000" font-family="'Liberation Serif',serif" stroke="#000" stroke-width="0.12">0.8</text>
<line x1="20.50" y1="455.00" x2="21.70" y2="455.00" stroke="#000" stroke-width="0.7"/>
<text x="19.90" y="456.10" font-size="3.2" text-anchor="end" font-weight="bold" fill="#000" font-family="'Liberation Serif',serif" stroke="#000" stroke-width="0.12">0.6</text>
<line x1="20.50" y1="465.60" x2="21.70" y2="465.60" stroke="#000" stroke-width="0.7"/>
<text x="19.90" y="466.70" font-size="3.2" text-anchor="end" font-weight="bold" fill="#000" font-family="'Liberation Serif',serif" stroke="#000" stroke-width="0.12">0.4</text>
<line x1="20.50" y1="476.20" x2="21.70" y2="476.20" stroke="#000" stroke-width="0.7"/>
<text x="19.90" y="477.30" font-size="3.2" text-anchor="end" font-weight="bold" fill="#000" font-family="'Liberation Serif',serif" stroke="#000" stroke-width="0.12">0.2</text>
<line x1="20.50" y1="486.70" x2="21.70" y2="486.70" stroke="#000" stroke-width="0.7"/>
<text x="19.90" y="487.80" font-size="3.2" text-anchor="end" font-weight="bold" fill="#000" font-family="'Liberation Serif',serif" stroke="#000" stroke-width="0.12">0.0</text>
<line x1="20.50" y1="497.20" x2="21.70" y2="497.20" stroke="#000" stroke-width="0.7"/>
<text x="19.90" y="498.30" font-size="3.2" text-anchor="end" font-weight="bold" fill="#000" font-family="'Liberation Serif',serif" stroke="#000" stroke-width="0.12">-0.2</text>
<text x="10.80" y="467.00" font-size="3.3" text-anchor="middle" font-weight="bold" fill="#000" font-family="'Liberation Serif',serif" stroke="#000" stroke-width="0.12" transform="rotate(-90 10.80 467.00)">Tumor volume(cm3)</text>
<line x1="21.70" y1="486.70" x2="100.90" y2="486.70" stroke="#000" stroke-width="0.9"/>
<line x1="28.00" y1="486.70" x2="28.00" y2="487.70" stroke="#000" stroke-width="0.7"/>
<line x1="41.20" y1="486.70" x2="41.20" y2="487.70" stroke="#000" stroke-width="0.7"/>
<line x1="54.60" y1="486.70" x2="54.60" y2="487.70" stroke="#000" stroke-width="0.7"/>
<line x1="67.60" y1="486.70" x2="67.60" y2="487.70" stroke="#000" stroke-width="0.7"/>
<line x1="80.70" y1="486.70" x2="80.70" y2="487.70" stroke="#000" stroke-width="0.7"/>
<line x1="93.70" y1="486.70" x2="93.70" y2="487.70" stroke="#000" stroke-width="0.7"/>
<text x="28.00" y="495.80" font-size="3.8" text-anchor="middle" font-weight="bold" fill="#000" font-family="'Liberation Serif',serif" stroke="#000" stroke-width="0.12">Week1</text>
<text x="41.20" y="495.80" font-size="3.8" text-anchor="middle" font-weight="bold" fill="#000" font-family="'Liberation Serif',serif" stroke="#000" stroke-width="0.12">Week2</text>
<text x="54.60" y="495.80" font-size="3.8" text-anchor="middle" font-weight="bold" fill="#000" font-family="'Liberation Serif',serif" stroke="#000" stroke-width="0.12">Week3</text>
<text x="67.60" y="495.80" font-size="3.8" text-anchor="middle" font-weight="bold" fill="#000" font-family="'Liberation Serif',serif" stroke="#000" stroke-width="0.12">Week4</text>
<text x="80.70" y="495.80" font-size="3.8" text-anchor="middle" font-weight="bold" fill="#000" font-family="'Liberation Serif',serif" stroke="#000" stroke-width="0.12">Week5</text>
<text x="93.70" y="495.80" font-size="3.8" text-anchor="middle" font-weight="bold" fill="#000" font-family="'Liberation Serif',serif" stroke="#000" stroke-width="0.12">Week6</text>
<polyline points="28,486.7 41.2,486.6 54.6,486.2 67.6,483.6 80.7,481.8 93.7,477.7" fill="none" stroke="#1f3f6e" stroke-width="0.8"/>
<polyline points="28,486.5 41.2,485.6 54.6,483.6 67.6,479 80.7,472.2 93.7,459.8" fill="none" stroke="#e0404e" stroke-width="0.8"/>
<circle cx="28.00" cy="486.50" r="1.20" fill="#e0404e"/>
<circle cx="41.20" cy="485.60" r="1.20" fill="#e0404e"/>
<circle cx="54.60" cy="483.60" r="1.20" fill="#e0404e"/>
<circle cx="67.60" cy="479.00" r="1.20" fill="#e0404e"/>
<circle cx="80.70" cy="472.20" r="1.20" fill="#e0404e"/>
<circle cx="93.70" cy="459.80" r="1.20" fill="#e0404e"/>
<circle cx="28.00" cy="486.70" r="1.20" fill="#1f3f6e"/>
<circle cx="41.20" cy="486.60" r="1.20" fill="#1f3f6e"/>
<circle cx="54.60" cy="486.20" r="1.20" fill="#1f3f6e"/>
<circle cx="67.60" cy="483.60" r="1.20" fill="#1f3f6e"/>
<circle cx="80.70" cy="481.80" r="1.20" fill="#1f3f6e"/>
<circle cx="93.70" cy="477.70" r="1.20" fill="#1f3f6e"/>
<line x1="80.70" y1="467.50" x2="80.70" y2="476.50" stroke="#e0404e" stroke-width="0.7"/>
<line x1="79.70" y1="467.50" x2="81.70" y2="467.50" stroke="#e0404e" stroke-width="0.6"/>
<line x1="79.70" y1="476.50" x2="81.70" y2="476.50" stroke="#e0404e" stroke-width="0.6"/>
<line x1="93.70" y1="455.40" x2="93.70" y2="465.20" stroke="#e0404e" stroke-width="0.7"/>
<line x1="92.70" y1="455.40" x2="94.70" y2="455.40" stroke="#e0404e" stroke-width="0.6"/>
<line x1="92.70" y1="465.20" x2="94.70" y2="465.20" stroke="#e0404e" stroke-width="0.6"/>
<line x1="93.70" y1="475.50" x2="93.70" y2="480.00" stroke="#1f3f6e" stroke-width="0.7"/>
<line x1="92.70" y1="475.50" x2="94.70" y2="475.50" stroke="#1f3f6e" stroke-width="0.6"/>
<line x1="92.70" y1="480.00" x2="94.70" y2="480.00" stroke="#1f3f6e" stroke-width="0.6"/>
<line x1="54.60" y1="482.00" x2="54.60" y2="485.00" stroke="#e0404e" stroke-width="0.7"/>
<line x1="53.60" y1="482.00" x2="55.60" y2="482.00" stroke="#e0404e" stroke-width="0.6"/>
<line x1="53.60" y1="485.00" x2="55.60" y2="485.00" stroke="#e0404e" stroke-width="0.6"/>
<line x1="97.30" y1="459.50" x2="97.30" y2="478.20" stroke="#555" stroke-width="0.6"/>
<text x="98.60" y="471.00" font-size="3.7" text-anchor="start" font-weight="bold" fill="#000" font-family="'Liberation Serif',serif" stroke="#000" stroke-width="0.12">P&lt;0. 0001</text>
<line x1="27.50" y1="442.00" x2="31.50" y2="442.00" stroke="#1f3f6e" stroke-width="0.8"/>
<circle cx="29.40" cy="442.00" r="1.20" fill="#1f3f6e"/>
<line x1="27.50" y1="449.30" x2="31.50" y2="449.30" stroke="#e0404e" stroke-width="0.8"/>
<circle cx="29.40" cy="449.30" r="1.20" fill="#e0404e"/>
<text x="33.60" y="443.40" font-size="3.6" text-anchor="start" font-weight="bold" fill="#000" font-family="'Liberation Serif',serif" stroke="#000" stroke-width="0.12">7721/vera RBM58-OE</text>
<text x="33.60" y="450.70" font-size="3.55" text-anchor="start" font-weight="bold" fill="#000" font-family="'Liberation Serif',serif" stroke="#000" stroke-width="0.12">7721/vera RBM58-OE+GAS5 KD</text>
<text x="119.50" y="443.80" font-size="4.6" text-anchor="start" font-weight="bold" fill="#000" font-family="'Liberation Sans',sans-serif" stroke="#000" stroke-width="0.12">K</text>
<line x1="132.70" y1="446.40" x2="132.70" y2="492.00" stroke="#000" stroke-width="0.9"/>
<line x1="131.50" y1="446.70" x2="132.70" y2="446.70" stroke="#000" stroke-width="0.7"/>
<text x="130.90" y="447.80" font-size="3.2" text-anchor="end" font-weight="bold" fill="#000" font-family="'Liberation Serif',serif" stroke="#000" stroke-width="0.12">1.0</text>
<line x1="131.50" y1="455.70" x2="132.70" y2="455.70" stroke="#000" stroke-width="0.7"/>
<text x="130.90" y="456.80" font-size="3.2" text-anchor="end" font-weight="bold" fill="#000" font-family="'Liberation Serif',serif" stroke="#000" stroke-width="0.12">0.8</text>
<line x1="131.50" y1="464.70" x2="132.70" y2="464.70" stroke="#000" stroke-width="0.7"/>
<text x="130.90" y="465.80" font-size="3.2" text-anchor="end" font-weight="bold" fill="#000" font-family="'Liberation Serif',serif" stroke="#000" stroke-width="0.12">0.6</text>
<line x1="131.50" y1="473.70" x2="132.70" y2="473.70" stroke="#000" stroke-width="0.7"/>
<text x="130.90" y="474.80" font-size="3.2" text-anchor="end" font-weight="bold" fill="#000" font-family="'Liberation Serif',serif" stroke="#000" stroke-width="0.12">0.4</text>
<line x1="131.50" y1="482.60" x2="132.70" y2="482.60" stroke="#000" stroke-width="0.7"/>
<text x="130.90" y="483.70" font-size="3.2" text-anchor="end" font-weight="bold" fill="#000" font-family="'Liberation Serif',serif" stroke="#000" stroke-width="0.12">0.2</text>
<line x1="131.50" y1="491.60" x2="132.70" y2="491.60" stroke="#000" stroke-width="0.7"/>
<text x="130.90" y="492.70" font-size="3.2" text-anchor="end" font-weight="bold" fill="#000" font-family="'Liberation Serif',serif" stroke="#000" stroke-width="0.12">0.0</text>
<text x="123.30" y="469.00" font-size="3.3" text-anchor="middle" font-weight="bold" fill="#000" font-family="'Liberation Serif',serif" stroke="#000" stroke-width="0.12" transform="rotate(-90 123.30 469.00)">Tumor volume(cm3)</text>
<line x1="132.70" y1="491.60" x2="200.30" y2="491.60" stroke="#000" stroke-width="0.9"/>
<line x1="149.50" y1="491.60" x2="149.50" y2="492.60" stroke="#000" stroke-width="0.7"/>
<line x1="183.60" y1="491.60" x2="183.60" y2="492.60" stroke="#000" stroke-width="0.7"/>
<circle cx="141.00" cy="481.50" r="0.95" fill="#1f3f6e"/>
<circle cx="144.50" cy="482.50" r="0.95" fill="#1f3f6e"/>
<circle cx="147.00" cy="484.00" r="0.95" fill="#1f3f6e"/>
<circle cx="149.50" cy="484.50" r="0.95" fill="#1f3f6e"/>
<circle cx="152.00" cy="483.00" r="0.95" fill="#1f3f6e"/>
<circle cx="154.50" cy="486.00" r="0.95" fill="#1f3f6e"/>
<circle cx="156.50" cy="482.00" r="0.95" fill="#1f3f6e"/>
<circle cx="159.00" cy="481.50" r="0.95" fill="#1f3f6e"/>
<circle cx="147.00" cy="487.50" r="0.95" fill="#1f3f6e"/>
<circle cx="152.00" cy="489.00" r="0.95" fill="#1f3f6e"/>
<line x1="139.30" y1="483.50" x2="161.30" y2="483.50" stroke="#555" stroke-width="0.7"/>
<line x1="144.00" y1="481.50" x2="155.00" y2="481.50" stroke="#555" stroke-width="0.6"/>
<line x1="144.00" y1="485.50" x2="155.00" y2="485.50" stroke="#555" stroke-width="0.6"/>
<line x1="149.50" y1="481.50" x2="149.50" y2="485.50" stroke="#555" stroke-width="0.6"/>
<circle cx="182.40" cy="454.20" r="1.00" fill="#e0303e"/>
<circle cx="184.80" cy="452.20" r="1.00" fill="#e0303e"/>
<circle cx="182.00" cy="471.50" r="1.00" fill="#e0303e"/>
<circle cx="183.50" cy="472.80" r="1.00" fill="#e0303e"/>
<circle cx="186.00" cy="473.80" r="1.00" fill="#e0303e"/>
<circle cx="183.60" cy="480.00" r="1.00" fill="#e0303e"/>
<line x1="173.00" y1="468.60" x2="194.80" y2="468.60" stroke="#888" stroke-width="0.7"/>
<line x1="177.00" y1="464.40" x2="191.00" y2="464.40" stroke="#e0303e" stroke-width="0.7"/>
<line x1="178.00" y1="472.80" x2="190.00" y2="472.80" stroke="#e0303e" stroke-width="0.7"/>
<line x1="184.00" y1="464.40" x2="184.00" y2="472.80" stroke="#e0303e" stroke-width="0.7"/>
<line x1="151.50" y1="447.80" x2="181.90" y2="447.80" stroke="#3a3a3a" stroke-width="0.5"/>
<text x="166.70" y="445.80" font-size="3.6" text-anchor="middle" font-weight="bold" fill="#000" font-family="'Liberation Serif',serif" stroke="#000" stroke-width="0.12">P=0.0045</text>
<text x="149.50" y="498.00" font-size="3.7" text-anchor="middle" font-weight="bold" fill="#000" font-family="'Liberation Serif',serif" stroke="#000" stroke-width="0.12">NC</text>
<text x="183.60" y="498.00" font-size="3.7" text-anchor="middle" font-weight="bold" fill="#000" font-family="'Liberation Serif',serif" stroke="#000" stroke-width="0.12">GAS5 KD</text>
<line x1="141.70" y1="499.80" x2="189.00" y2="499.80" stroke="#444" stroke-width="0.6"/>
<text x="165.50" y="505.00" font-size="3.6" text-anchor="middle" font-weight="bold" fill="#000" font-family="'Liberation Serif',serif" stroke="#000" stroke-width="0.12">7721/vera RBM58-OE</text>
<text x="200.80" y="444.00" font-size="4.6" text-anchor="start" font-weight="bold" fill="#000" font-family="'Liberation Sans',sans-serif" stroke="#000" stroke-width="0.12">L</text>
<line x1="217.00" y1="444.80" x2="217.00" y2="491.70" stroke="#000" stroke-width="0.9"/>
<line x1="215.80" y1="445.10" x2="217.00" y2="445.10" stroke="#000" stroke-width="0.7"/>
<text x="215.20" y="446.20" font-size="3.2" text-anchor="end" font-weight="bold" fill="#000" font-family="'Liberation Serif',serif" stroke="#000" stroke-width="0.12">1.5</text>
<line x1="215.80" y1="460.30" x2="217.00" y2="460.30" stroke="#000" stroke-width="0.7"/>
<text x="215.20" y="461.40" font-size="3.2" text-anchor="end" font-weight="bold" fill="#000" font-family="'Liberation Serif',serif" stroke="#000" stroke-width="0.12">1.0</text>
<line x1="215.80" y1="475.80" x2="217.00" y2="475.80" stroke="#000" stroke-width="0.7"/>
<text x="215.20" y="476.90" font-size="3.2" text-anchor="end" font-weight="bold" fill="#000" font-family="'Liberation Serif',serif" stroke="#000" stroke-width="0.12">0.5</text>
<line x1="215.80" y1="491.30" x2="217.00" y2="491.30" stroke="#000" stroke-width="0.7"/>
<text x="215.20" y="492.40" font-size="3.2" text-anchor="end" font-weight="bold" fill="#000" font-family="'Liberation Serif',serif" stroke="#000" stroke-width="0.12">0.0</text>
<text x="207.30" y="469.00" font-size="3.3" text-anchor="middle" font-weight="bold" fill="#000" font-family="'Liberation Serif',serif" stroke="#000" stroke-width="0.12" transform="rotate(-90 207.30 469.00)">Tumor Weight (g)</text>
<line x1="217.00" y1="491.30" x2="286.20" y2="491.30" stroke="#000" stroke-width="0.9"/>
<line x1="234.00" y1="491.30" x2="234.00" y2="492.30" stroke="#000" stroke-width="0.7"/>
<line x1="268.00" y1="491.30" x2="268.00" y2="492.30" stroke="#000" stroke-width="0.7"/>
<circle cx="235.00" cy="473.80" r="1.00" fill="#1f3f6e"/>
<circle cx="232.50" cy="476.60" r="1.00" fill="#1f3f6e"/>
<circle cx="234.50" cy="479.50" r="1.00" fill="#1f3f6e"/>
<circle cx="233.40" cy="483.00" r="1.00" fill="#1f3f6e"/>
<circle cx="236.00" cy="485.00" r="1.00" fill="#1f3f6e"/>
<circle cx="234.00" cy="487.50" r="1.00" fill="#1f3f6e"/>
<line x1="222.70" y1="480.40" x2="245.60" y2="480.40" stroke="#555" stroke-width="0.7"/>
<line x1="228.00" y1="478.20" x2="240.00" y2="478.20" stroke="#555" stroke-width="0.6"/>
<line x1="228.00" y1="482.60" x2="240.00" y2="482.60" stroke="#555" stroke-width="0.6"/>
<line x1="234.00" y1="478.20" x2="234.00" y2="482.60" stroke="#555" stroke-width="0.6"/>
<circle cx="269.00" cy="453.60" r="1.00" fill="#e0303e"/>
<circle cx="270.00" cy="457.00" r="1.00" fill="#e0303e"/>
<circle cx="265.00" cy="461.00" r="1.00" fill="#e0303e"/>
<circle cx="268.00" cy="463.00" r="1.00" fill="#e0303e"/>
<circle cx="272.00" cy="463.50" r="1.00" fill="#e0303e"/>
<circle cx="273.00" cy="464.30" r="1.00" fill="#e0303e"/>
<line x1="257.50" y1="460.20" x2="280.60" y2="460.20" stroke="#333" stroke-width="0.7"/>
<line x1="263.00" y1="459.00" x2="275.00" y2="459.00" stroke="#e0303e" stroke-width="0.6"/>
<line x1="263.00" y1="461.80" x2="275.00" y2="461.80" stroke="#e0303e" stroke-width="0.6"/>
<line x1="235.80" y1="449.20" x2="268.00" y2="449.20" stroke="#3a3a3a" stroke-width="0.5"/>
<text x="251.90" y="447.30" font-size="3.6" text-anchor="middle" font-weight="bold" fill="#000" font-family="'Liberation Serif',serif" stroke="#000" stroke-width="0.12">P&lt;0.001</text>
<text x="233.80" y="498.00" font-size="3.7" text-anchor="middle" font-weight="bold" fill="#000" font-family="'Liberation Serif',serif" stroke="#000" stroke-width="0.12">NC</text>
<text x="267.60" y="498.00" font-size="3.7" text-anchor="middle" font-weight="bold" fill="#000" font-family="'Liberation Serif',serif" stroke="#000" stroke-width="0.12">GAS5 KD</text>
<line x1="228.40" y1="499.40" x2="275.70" y2="499.40" stroke="#444" stroke-width="0.6"/>
<text x="251.00" y="505.20" font-size="3.6" text-anchor="middle" font-weight="bold" fill="#000" font-family="'Liberation Serif',serif" stroke="#000" stroke-width="0.12">7721/vera RBM58-OE</text>
<text x="298.50" y="425.30" font-size="4.8" text-anchor="start" font-weight="bold" fill="#000" font-family="'Liberation Sans',sans-serif" stroke="#000" stroke-width="0.12">M</text>
<text x="340.50" y="424.60" font-size="3.4" text-anchor="middle" font-weight="bold" fill="#000" font-family="'Liberation Serif',serif" stroke="#000" stroke-width="0.12">7721/vera</text>
<text x="340.50" y="429.20" font-size="3.6" text-anchor="middle" font-weight="bold" fill="#000" font-family="'Liberation Serif',serif" stroke="#000" stroke-width="0.12">RBM58-OE</text>
<text x="391.50" y="424.60" font-size="3.4" text-anchor="middle" font-weight="bold" fill="#000" font-family="'Liberation Serif',serif" stroke="#000" stroke-width="0.12">7721/vera</text>
<text x="391.50" y="429.20" font-size="3.6" text-anchor="middle" font-weight="bold" fill="#000" font-family="'Liberation Serif',serif" stroke="#000" stroke-width="0.12">RBM58-OE+GAS5 KD</text>
<svg x="316.50" y="431.40" width="49.20" height="27.20" overflow="hidden">
<rect width="49.20" height="27.20" fill="#c07848" filter="url(#nz1)"/>
<g fill="#f4f4f8" opacity="0.85"><ellipse cx="24.5" cy="11.6" rx="1.67" ry="0.72" transform="rotate(143 24.5 11.6)"/><ellipse cx="19.3" cy="25.9" rx="1.00" ry="0.43" transform="rotate(120 19.3 25.9)"/><ellipse cx="9.2" cy="25.7" rx="0.85" ry="0.65" transform="rotate(136 9.2 25.7)"/><ellipse cx="33.3" cy="14.3" rx="0.75" ry="0.36" transform="rotate(175 33.3 14.3)"/><ellipse cx="45.0" cy="8.1" rx="0.92" ry="0.65" transform="rotate(94 45.0 8.1)"/><ellipse cx="11.4" cy="14.3" rx="0.79" ry="0.42" transform="rotate(70 11.4 14.3)"/><ellipse cx="13.1" cy="23.8" rx="1.56" ry="0.77" transform="rotate(142 13.1 23.8)"/><ellipse cx="30.4" cy="20.6" rx="0.73" ry="0.46" transform="rotate(56 30.4 20.6)"/><ellipse cx="25.0" cy="14.0" rx="1.77" ry="0.76" transform="rotate(60 25.0 14.0)"/><ellipse cx="18.4" cy="19.1" rx="0.87" ry="0.68" transform="rotate(76 18.4 19.1)"/><ellipse cx="0.4" cy="18.8" rx="1.15" ry="0.79" transform="rotate(103 0.4 18.8)"/><ellipse cx="46.3" cy="8.4" rx="0.75" ry="0.37" transform="rotate(107 46.3 8.4)"/></g>
</svg>
<svg x="367.10" y="431.40" width="48.90" height="27.20" overflow="hidden">
<rect width="48.90" height="27.20" fill="#9894aa" filter="url(#nz2)"/>
<g fill="#dff0f8" opacity="0.85"><ellipse cx="40.2" cy="2.6" rx="1.13" ry="0.64" transform="rotate(99 40.2 2.6)"/><ellipse cx="20.0" cy="11.0" rx="1.56" ry="0.66" transform="rotate(31 20.0 11.0)"/><ellipse cx="37.6" cy="16.9" rx="1.23" ry="0.56" transform="rotate(137 37.6 16.9)"/><ellipse cx="33.8" cy="13.2" rx="1.64" ry="0.72" transform="rotate(86 33.8 13.2)"/><ellipse cx="7.4" cy="8.0" rx="0.81" ry="0.47" transform="rotate(165 7.4 8.0)"/><ellipse cx="5.7" cy="20.4" rx="0.96" ry="0.60" transform="rotate(123 5.7 20.4)"/><ellipse cx="17.9" cy="6.2" rx="1.37" ry="0.64" transform="rotate(140 17.9 6.2)"/><ellipse cx="20.7" cy="15.4" rx="1.68" ry="0.72" transform="rotate(42 20.7 15.4)"/><ellipse cx="22.3" cy="5.5" rx="0.52" ry="0.37" transform="rotate(132 22.3 5.5)"/><ellipse cx="18.8" cy="8.9" rx="1.73" ry="0.73" transform="rotate(170 18.8 8.9)"/><ellipse cx="9.1" cy="2.7" rx="0.68" ry="0.39" transform="rotate(143 9.1 2.7)"/><ellipse cx="41.6" cy="17.4" rx="1.48" ry="0.73" transform="rotate(25 41.6 17.4)"/><ellipse cx="2.8" cy="3.4" rx="0.87" ry="0.41" transform="rotate(99 2.8 3.4)"/><ellipse cx="28.7" cy="12.3" rx="1.36" ry="0.67" transform="rotate(127 28.7 12.3)"/></g>
</svg>
<svg x="316.50" y="460.80" width="49.20" height="26.70" overflow="hidden">
<rect width="49.20" height="26.70" fill="#c8c8d0" filter="url(#nz3)"/>
<g fill="#f4f4f8" opacity="0.85"><ellipse cx="12.3" cy="9.1" rx="1.73" ry="0.70" transform="rotate(178 12.3 9.1)"/><ellipse cx="36.0" cy="12.7" rx="1.93" ry="0.79" transform="rotate(152 36.0 12.7)"/><ellipse cx="36.6" cy="23.9" rx="1.15" ry="0.53" transform="rotate(173 36.6 23.9)"/></g>
</svg>
<svg x="367.10" y="460.80" width="48.90" height="26.70" overflow="hidden">
<rect width="48.90" height="26.70" fill="#cdb8b0" filter="url(#nz4)"/>
<g fill="#f4f4f8" opacity="0.85"><ellipse cx="4.3" cy="10.8" rx="0.47" ry="0.35" transform="rotate(107 4.3 10.8)"/><ellipse cx="16.3" cy="10.6" rx="0.96" ry="0.40" transform="rotate(120 16.3 10.6)"/><ellipse cx="23.5" cy="14.2" rx="0.87" ry="0.43" transform="rotate(135 23.5 14.2)"/><ellipse cx="9.0" cy="3.8" rx="0.80" ry="0.58" transform="rotate(74 9.0 3.8)"/></g>
</svg>
<svg x="316.50" y="489.90" width="49.20" height="26.50" overflow="hidden">
<rect width="49.20" height="26.50" fill="#8e9acb" filter="url(#nz5)"/>
<g fill="#dce8f8" opacity="0.85"><ellipse cx="2.1" cy="25.6" rx="1.60" ry="0.67" transform="rotate(151 2.1 25.6)"/><ellipse cx="30.1" cy="17.7" rx="0.70" ry="0.39" transform="rotate(107 30.1 17.7)"/><ellipse cx="11.2" cy="5.3" rx="0.61" ry="0.50" transform="rotate(95 11.2 5.3)"/><ellipse cx="26.8" cy="7.7" rx="0.97" ry="0.42" transform="rotate(127 26.8 7.7)"/><ellipse cx="15.8" cy="13.6" rx="1.11" ry="0.60" transform="rotate(177 15.8 13.6)"/><ellipse cx="19.5" cy="18.1" rx="1.20" ry="0.67" transform="rotate(121 19.5 18.1)"/></g>
</svg>
<svg x="367.10" y="489.90" width="48.90" height="26.50" overflow="hidden">
<rect width="48.90" height="26.50" fill="#bc9c98" filter="url(#nz6)"/>
<g fill="#f4f4f8" opacity="0.85"><ellipse cx="20.6" cy="11.0" rx="0.86" ry="0.53" transform="rotate(20 20.6 11.0)"/><ellipse cx="1.9" cy="3.5" rx="1.22" ry="0.75" transform="rotate(21 1.9 3.5)"/><ellipse cx="48.2" cy="16.2" rx="0.76" ry="0.54" transform="rotate(171 48.2 16.2)"/><ellipse cx="33.0" cy="24.4" rx="1.04" ry="0.44" transform="rotate(82 33.0 24.4)"/><ellipse cx="24.9" cy="26.1" rx="1.05" ry="0.75" transform="rotate(10 24.9 26.1)"/><ellipse cx="19.9" cy="21.5" rx="1.43" ry="0.66" transform="rotate(152 19.9 21.5)"/><ellipse cx="22.3" cy="11.1" rx="0.94" ry="0.62" transform="rotate(139 22.3 11.1)"/><ellipse cx="31.9" cy="20.3" rx="1.86" ry="0.74" transform="rotate(71 31.9 20.3)"/><ellipse cx="13.9" cy="12.6" rx="0.71" ry="0.47" transform="rotate(30 13.9 12.6)"/><ellipse cx="29.7" cy="2.4" rx="1.33" ry="0.56" transform="rotate(6 29.7 2.4)"/></g>
</svg>
<svg x="316.50" y="518.50" width="49.20" height="26.70" overflow="hidden">
<rect width="49.20" height="26.70" fill="#8898c8" filter="url(#nz7)"/>
<g fill="#d8f4fa" opacity="0.85"><ellipse cx="32.4" cy="2.8" rx="1.41" ry="0.72" transform="rotate(66 32.4 2.8)"/><ellipse cx="36.8" cy="18.2" rx="0.75" ry="0.58" transform="rotate(104 36.8 18.2)"/><ellipse cx="38.9" cy="24.3" rx="1.46" ry="0.76" transform="rotate(83 38.9 24.3)"/><ellipse cx="10.6" cy="5.7" rx="0.80" ry="0.53" transform="rotate(53 10.6 5.7)"/><ellipse cx="37.1" cy="15.2" rx="1.54" ry="0.72" transform="rotate(41 37.1 15.2)"/><ellipse cx="7.0" cy="9.7" rx="0.97" ry="0.72" transform="rotate(106 7.0 9.7)"/><ellipse cx="45.8" cy="5.0" rx="0.85" ry="0.47" transform="rotate(29 45.8 5.0)"/><ellipse cx="46.9" cy="20.5" rx="0.55" ry="0.42" transform="rotate(144 46.9 20.5)"/><ellipse cx="35.3" cy="9.1" rx="0.47" ry="0.36" transform="rotate(66 35.3 9.1)"/><ellipse cx="46.9" cy="14.2" rx="0.65" ry="0.43" transform="rotate(112 46.9 14.2)"/><ellipse cx="15.2" cy="9.4" rx="1.59" ry="0.79" transform="rotate(68 15.2 9.4)"/><ellipse cx="5.3" cy="12.3" rx="1.11" ry="0.45" transform="rotate(67 5.3 12.3)"/><ellipse cx="33.8" cy="20.8" rx="0.83" ry="0.40" transform="rotate(177 33.8 20.8)"/><ellipse cx="3.6" cy="3.3" rx="1.09" ry="0.48" transform="rotate(79 3.6 3.3)"/><ellipse cx="29.1" cy="12.9" rx="1.05" ry="0.79" transform="rotate(109 29.1 12.9)"/><ellipse cx="3.6" cy="2.4" rx="1.14" ry="0.49" transform="rotate(41 3.6 2.4)"/><ellipse cx="30.9" cy="10.1" rx="0.82" ry="0.35" transform="rotate(82 30.9 10.1)"/><ellipse cx="5.1" cy="6.4" rx="0.82" ry="0.46" transform="rotate(169 5.1 6.4)"/><ellipse cx="28.0" cy="4.5" rx="0.90" ry="0.45" transform="rotate(44 28.0 4.5)"/><ellipse cx="47.3" cy="13.7" rx="0.94" ry="0.66" transform="rotate(129 47.3 13.7)"/><ellipse cx="37.9" cy="11.5" rx="1.57" ry="0.77" transform="rotate(94 37.9 11.5)"/><ellipse cx="2.0" cy="2.1" rx="1.70" ry="0.72" transform="rotate(44 2.0 2.1)"/></g>
</svg>
<svg x="367.10" y="518.50" width="48.90" height="26.70" overflow="hidden">
<rect width="48.90" height="26.70" fill="#b8683a" filter="url(#nz8)"/>
<g fill="#f8f0ec" opacity="0.85"><ellipse cx="39.0" cy="11.8" rx="1.18" ry="0.77" transform="rotate(103 39.0 11.8)"/><ellipse cx="21.3" cy="6.8" rx="0.87" ry="0.38" transform="rotate(96 21.3 6.8)"/><ellipse cx="28.8" cy="21.5" rx="1.08" ry="0.69" transform="rotate(126 28.8 21.5)"/><ellipse cx="45.6" cy="24.4" rx="0.55" ry="0.38" transform="rotate(21 45.6 24.4)"/><ellipse cx="2.5" cy="5.9" rx="1.01" ry="0.62" transform="rotate(85 2.5 5.9)"/><ellipse cx="20.0" cy="21.7" rx="0.44" ry="0.36" transform="rotate(126 20.0 21.7)"/><ellipse cx="3.4" cy="0.2" rx="1.65" ry="0.72" transform="rotate(49 3.4 0.2)"/><ellipse cx="48.2" cy="13.9" rx="0.73" ry="0.35" transform="rotate(100 48.2 13.9)"/><ellipse cx="33.9" cy="9.3" rx="0.73" ry="0.59" transform="rotate(12 33.9 9.3)"/><ellipse cx="38.8" cy="20.7" rx="0.52" ry="0.39" transform="rotate(30 38.8 20.7)"/><ellipse cx="12.7" cy="8.5" rx="0.68" ry="0.37" transform="rotate(13 12.7 8.5)"/><ellipse cx="40.5" cy="22.3" rx="0.98" ry="0.49" transform="rotate(27 40.5 22.3)"/><ellipse cx="47.9" cy="26.2" rx="0.76" ry="0.57" transform="rotate(124 47.9 26.2)"/><ellipse cx="3.4" cy="2.1" rx="1.06" ry="0.42" transform="rotate(33 3.4 2.1)"/><ellipse cx="46.5" cy="22.3" rx="1.51" ry="0.67" transform="rotate(66 46.5 22.3)"/><ellipse cx="32.2" cy="2.7" rx="0.84" ry="0.36" transform="rotate(122 32.2 2.7)"/><ellipse cx="10.9" cy="13.9" rx="1.05" ry="0.49" transform="rotate(16 10.9 13.9)"/><ellipse cx="33.2" cy="3.8" rx="1.00" ry="0.46" transform="rotate(79 33.2 3.8)"/><ellipse cx="22.0" cy="8.1" rx="0.69" ry="0.36" transform="rotate(180 22.0 8.1)"/><ellipse cx="24.7" cy="15.4" rx="1.04" ry="0.54" transform="rotate(144 24.7 15.4)"/><ellipse cx="32.0" cy="21.9" rx="1.47" ry="0.70" transform="rotate(53 32.0 21.9)"/><ellipse cx="42.2" cy="12.3" rx="1.43" ry="0.56" transform="rotate(79 42.2 12.3)"/><ellipse cx="43.0" cy="15.4" rx="1.27" ry="0.76" transform="rotate(29 43.0 15.4)"/><ellipse cx="16.6" cy="2.2" rx="1.41" ry="0.57" transform="rotate(52 16.6 2.2)"/><ellipse cx="40.8" cy="10.2" rx="1.36" ry="0.66" transform="rotate(149 40.8 10.2)"/><ellipse cx="29.7" cy="5.4" rx="0.72" ry="0.38" transform="rotate(134 29.7 5.4)"/><ellipse cx="13.7" cy="12.7" rx="1.13" ry="0.48" transform="rotate(106 13.7 12.7)"/><ellipse cx="30.4" cy="11.2" rx="0.70" ry="0.56" transform="rotate(62 30.4 11.2)"/><ellipse cx="9.1" cy="26.1" rx="1.30" ry="0.60" transform="rotate(155 9.1 26.1)"/><ellipse cx="2.4" cy="2.9" rx="1.11" ry="0.55" transform="rotate(173 2.4 2.9)"/></g>
</svg>
<text x="312.00" y="445.80" font-size="3.5" text-anchor="end" font-weight="bold" fill="#000" font-family="'Liberation Serif',serif" stroke="#000" stroke-width="0.12">RBM58</text>
<text x="312.00" y="475.00" font-size="3.5" text-anchor="end" font-weight="bold" fill="#000" font-family="'Liberation Serif',serif" stroke="#000" stroke-width="0.12">P-GP</text>
<text x="312.00" y="504.10" font-size="3.5" text-anchor="end" font-weight="bold" fill="#000" font-family="'Liberation Serif',serif" stroke="#000" stroke-width="0.12">MRP1</text>
<text x="312.00" y="534.30" font-size="3.5" text-anchor="end" font-weight="bold" fill="#000" font-family="'Liberation Serif',serif" stroke="#000" stroke-width="0.12">ABCG2</text></svg></body></html>
